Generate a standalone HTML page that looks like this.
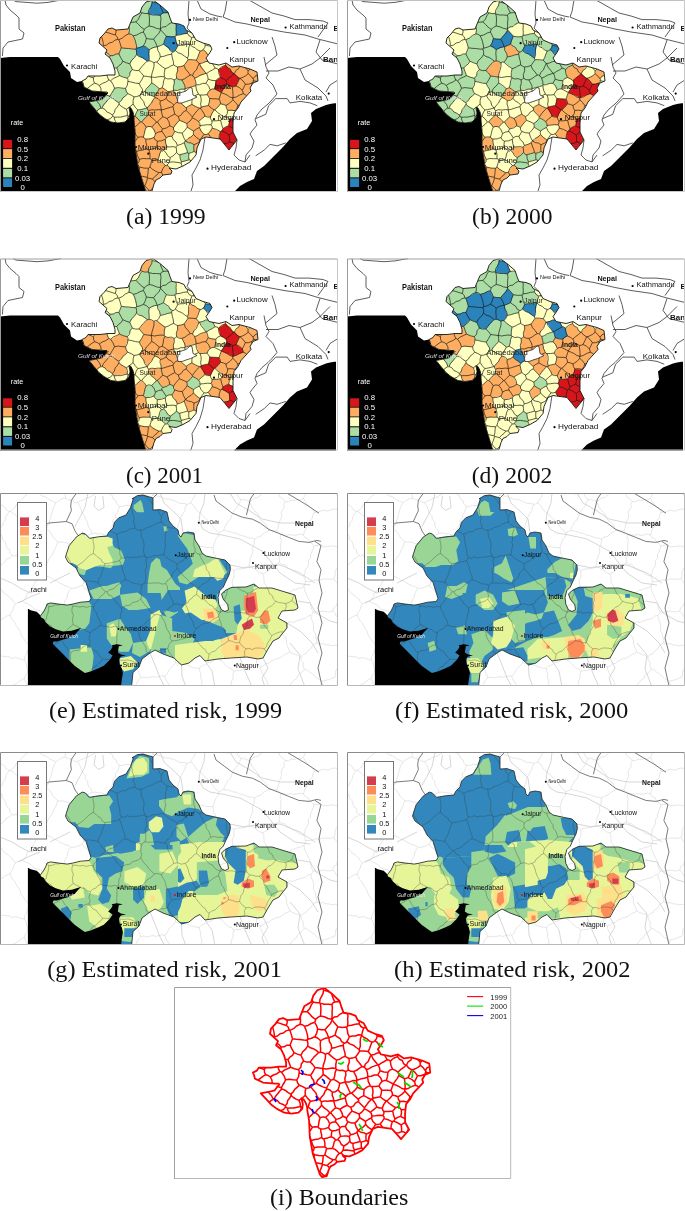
<!DOCTYPE html>
<html><head><meta charset="utf-8"><title>Figure</title>
<style>
html,body{margin:0;padding:0;background:#fff;width:685px;height:1211px;overflow:hidden}
svg{display:block}
.cap{font-family:"Liberation Serif",serif;font-size:22.8px;fill:#111}
.lab{font-family:"Liberation Sans",sans-serif;fill:#111}
</style></head><body>
<svg width="685" height="1211" viewBox="0 0 685 1211">
<rect width="685" height="1211" fill="#fff"/>
<filter id="soft" x="-2%" y="-2%" width="104%" height="104%"><feGaussianBlur stdDeviation="0.35"/></filter>
<g filter="url(#soft)">
<g transform="translate(0,0)">
<clipPath id="clipa"><rect x="0" y="0" width="338" height="192"/></clipPath>
<clipPath id="ra"><polygon points="146,2 153,0 160,5 168,12 170,18 172,23 179,24 184,26 186,30 192,33 196,40 203,43 210,45 212,49 209,54 206,58 209,63 219,65 226,63 232,67 239,66 250,69 257,72 258,81 253,83 250,88 251,91 241,102 238,108 234,113 233,123 233,132 237,140 229,150 225,145 220,139 206,137 201,139 197,148 196,155 190,162 183,166 176,169 169,168 172,171 171,174 163,175 160,178 156,180 154,184 152,191 147,192 145,189 141,176 138,166 135,147 135,130 134,120 134,116 133,112 131,108 129,107 130,113 129,118 125,122 118,123 111,122 104,118 99,114 94,108 89,102 99,100 103,99 106,95 108,93 107,92 104,92 92,91 84,87 83,83 82,81 86,79 88,76 100,76 108,75 115,75 115,71 113,64 110,58 105,54 107,50 99,43 100,38 104,34 108,29 112,28 116,30 128,29 130,24 133,17 140,13 142,7"/></clipPath>
<g clip-path="url(#clipa)">
<rect x="0" y="0" width="338" height="193" fill="#fff"/>
<polyline points="5,0 6,5 10,10 16,15 19,18 19,29 24,33 22.5,39 8,42 3,48 2.4,56" fill="none" stroke="#333" stroke-width="0.8"/>
<polyline points="13,0 16,1.6 37,3.2 48,2.4 61,0" fill="none" stroke="#333" stroke-width="0.8"/>
<polyline points="227,0 225,11.5 223,17 235,22 247,24 268,29 284,32 305,35 318,39 328,41.5 338,44" fill="none" stroke="#333" stroke-width="0.8"/>
<polyline points="249,0 272,13 284,16 295,19.6 309,19.6 323,21 328,23 323,30 318,37" fill="none" stroke="#333" stroke-width="0.8"/>
<polyline points="189,0 188,14 189,23 187,28 192,33" fill="none" stroke="#333" stroke-width="0.8"/>
<polyline points="197,0 201,9 210,14 217,16 222,17" fill="none" stroke="#333" stroke-width="0.8"/>
<polyline points="264,57 266,67 269,73 266,78 273,85 277,94 271,101 268,104 262,109 257,115 255,120 257,125 252,131 250,134 254,141 252,148 246,155 245,162" fill="none" stroke="#333" stroke-width="0.8"/>
<polyline points="237,140 236,148 234,155 239,160 245,162 250,155" fill="none" stroke="#333" stroke-width="0.8"/>
<polyline points="266,71 278,71 289,67 300,69 312,64 320,58 326,52 330,48" fill="none" stroke="#333" stroke-width="0.8"/>
<polyline points="272,37 275,46 277,55 265,65" fill="none" stroke="#333" stroke-width="0.8"/>
<polyline points="300,69 305,80 318,88 326,96 328,101" fill="none" stroke="#333" stroke-width="0.8"/>
<polyline points="205,137 203,150 200,160 196,168 192,175 193,185 190,194" fill="none" stroke="#333" stroke-width="0.8"/>
<polyline points="320,40 316,52 322,60 330,62 338,64" fill="none" stroke="#333" stroke-width="0.8"/>
<polyline points="338,80 330,85 326,92" fill="none" stroke="#333" stroke-width="0.8"/>
<polyline points="255.7,155.8 264.3,150 270,144.4 277.2,145.8 285.8,142.9" fill="none" stroke="#333" stroke-width="0.8"/>
<polyline points="268.6,105.7 275.8,98.6 287.2,98.6 290,102.9 300,101.4 310,102.9 317.3,105.7" fill="none" stroke="#333" stroke-width="0.8"/>
<polyline points="268.6,105.7 265.8,114.3 255.7,118.6" fill="none" stroke="#333" stroke-width="0.8"/>
<polygon points="0,58 10,57 26,57 58,57 60,59 64,66 70,72 71,78 77,82 82,81 84,87 92,91 104,92 108,93 106,95 103,99 99,100 89,102 94,108 99,114 104,118 111,122 118,123 125,122 129,118 130,113 129,107 131,108 133,112 134,116 134,120 135,130 135,147 138,166 141,176 145,189 147,194 0,194" fill="#000"/>
<polygon points="336,101 336,103 330,104 326,105 316,109 311,113 312,121 307,129 297,133 290,139 283,147 274,156 264,166 257,171 254,179 247,182 240,186 232,194 336,194" fill="#000"/>
<g clip-path="url(#ra)">
<rect x="0" y="0" width="338" height="193" fill="#ffffbf"/>
<path d="M236.3 138.6l-2.4 5.2 .1 .1 3.1-3.9-.8-1.4zM205 116l-6.5 5.6 1.4 3.9-.6 1.9 4.6 6.9 4.3-.5 4-5.5 8.3 3.4 1.3-.8 1.2-2.2 5.8-2.9 .5-6.9 4.2-.3 .5-5.6 1.4-1.7-.2-.5-7.4-.5-1.8-4.8-5.5-1.8-5.7 6.1-.6 .2-3.8 7.1-5.4-1.1zM136.5 54.5l-6.8 9.4 2.7 5.7-5.2 8.5-7.6-2.6-2.8-7.6-2.8-.2 1 3.3 0 4-7 0-8 1-12 0-2 3-4.1 2 1.1 2 1 4 8 4 12 1 3 0 .9 1-1.5 1.5 3.6 1.8 4.5-8.1 11 .3 2.2 5.2-9.1 9-8.3-5.3-8.3 10.6-1.1 .1-4.1 3.4 2.2 2.5 5 4 7 4 7 1.1 7-1.1 4-4 1.1-5-1-5.9 1.9 .9 2 4 .9 4.3 1.2 0 2.7-6.3 9.2-1.9 .4 .1 7.6-10.7-.4-.9-9.9-4.9 7-8.8 7.6 5.8 2.9-.9 6 4.1 5.2-1.3 5.1 11.3 1.2 .1 6.4 5.9 5.8-3.5 7.6 3.9 .8-.2 .9-1 7.3-1.6 1.3-7-2.6-3.9 3-4.7 4.2-1 1.6-8.2 4.6-3.2-2.2-7.9 7.2-4.4 .8-2-.4-.3-7 2-10-1.9-1.1-1.9-8.5 2.4 6.5 9.8-11.4 4.9 1.5 6.7-.2 .7-10.6 3-.4 .6-11.1 1 .4-10.2 2.6-1.7 .8-11.3 6.5-1.5 4.2-5.8 8.1 .6 4-9.3 2.8-1.3 5.5 4.9 3.5-5.6-2.1-4-7-2-7-3-4-7-4.7-2.4 0 2.7-11.3 1.9-1.1 1.4 2.7 9.2-2.3 4.7-2.5 1.5-9.2-7.8-6.2 2.6-.2-.1-8.1 2.9-.1 11.1-1.8 .3-10.7-6.5zM174.8 131.4l-2.9 4.8-5.7 1.6-1 1.5 1.5 7.6-3 3.4-2.5 .5-3.4 9.1 7.5 5.5 1.7-.4 3.3 3.2 5.7 .9 7-3.1 7-4 6-7 .4-2.1-2.4-1.4-5.2 1.7 .2 6.6-7.6 2-1.5-6.9 7.8-2.2-3.4-10 1.4-1.7 7.9-6.6-.1-3.4-6.2-3.9-.4-3.6-7.4-3.3-6.1 7.4 1.4 3.8zM155.6 133.5l-3.8-6.7-5.7 .4-2.7 9.8 2.5 2.1 8.2-1.6 1.5-4z" fill="#ffffbf" fill-rule="evenodd"/>
<path d="M187.6 152.6l-7.8 2.2 1.5 7.2 7.8-2.1-.2-6.6 5.1-1.7 .1-7-8.5-3.5-1.4 1.6 3.4 9.9zM176.6 78.3l-2.6 1.6-.4 10.4 11.3-1 .3-.6-3.2-8.8-5.4-1.6zM133 17l-4.4 10.3 .1 6.7 4.4 1.9 3.5 12.4 6.8-2.4 5.8 3.8 8-2.9 .2 .1 6.2-2.6 2.8-8.1 8.6 .4 1.1-1.3-.3-11.8-3.8-.5-2-5-1.6-4.9-5-.1-2.9 2.3-11.7-1.4-.4-.5 3.7-11.4 6.2 1.7-5.3-3.8-7 2.1-4 5-2 6-7 4zM144.6 91.7l10 5 4.7-8.1-7.7-5.8-7 8.9zM141.7 122.1l6.9-8 .3-3.6-1.5-2.4-.4-.1-9.3 2-2.7 6.3 5.3 5.6 1.4 .2zM104.9 54l5.1 4 3 6 1 3.8 2.7 .2 2.8 7.6 7.8 2.6 5.2-8.6-2.7-5.7 6.7-9.3-.5-5.5-14.7-1.3-2.4 6-8.9 1.8-4.1-3.5-1 1.9zM114.4 88.1l-4.5 8.1-3.4-1.8-3.5 4.6-14.1 3 8 9.6 4-3.4 1.1-.1 8.3-10.6 8.3 5.3 9.3-9.1-2.3-5.3-11.2-.3z" fill="#abdda4" fill-rule="evenodd"/>
<path d="M148.8 110.5l-.3 3.6-6.8 7.9-1.3-.2-5.3-5.6-1.2 0 0 3.8 1 10 0 17 3.1 19 7 23 2 3.1 5-1.1 2-7 2-4 4-2 3-3 8-1 1.1-3-3-2.9 1.4 .2-3.5-3.4-1.7 .4-7.3-5.4 3.3-9.1 2.4-.4 3.1-3.5-1.5-7.6 .9-1.5 5.8-1.5 2.9-4.8-1.4-3.8 6-7.3 7.3 3.2 .4 3.6 6.2 3.8 .1 3.3-7.9 6.9 8.4 3.5-.1 6.9 2.4 1.4 .7-5 4-9 5-1.9 13 1.8 1.5-7.3-8.4-3.4-3.9 5.5-4.2 .5-4.6-6.8 .6-1.9-1.3-3.9 6.3-5.5 5.5 1.1 3.7-7.1 .7-.2 5.7-6 5.4 1.7 1.7 4.8 7.4 .5 .2 .5 2.7-3.4 3-6 10.1-11-1-3 2.9-5 5.1-2-1.1-9-7-3-11-3.1-7 1-5.7-3.8-.8 2.1 8.5 8.6 .4-.1 5.1 4.6-3.5 7.7-3.7 .9-5.6-2.8-5.4 8.3-6.9-3.6-4.2 1-3.2 4.8 2.7 3.9-1.3 6.9-7.3 1.6-.9 1-.6 .2-7.7-3.9-5.8 3.5-6.4-5.9-1.1-.1-5.1-11.3-5.3 1.3-6-4.1-3 .9-4.7 8.1 .3 .8-7.5 10.6 1.5 2.4zM145.9 139l-2.4-2 2.7-9.7 5.5-.4 3.8 6.7-1.5 3.9-8.1 1.5zM188.1 59.6l-4.1 5.8-6.6 1.5-.8 11.4 5.3 1.6 3.3 8.8 10.6-3.1 .3-.7-1.4-6.7 11.4-4.9-6.5-9.7 8.4-2.4-1.9-3.2 2.6-3.5-5.6-4.9-2.9 1.3-3.9 9.3-8.2-.6zM108 29l-4 5-4 4-1.1 5 8 7-1 2.2 4.1 3.5 9-1.8 2.4-6 14.6 1.3 .7-1-3.5-12.4-4.4-1.9-.1-6.8-.7 1.9-12 .9-4-2-4 1.1z" fill="#fdae61" fill-rule="evenodd"/>
<path d="M186 30l-2-4-5-2-3.3-.5 .3 11.8 11.4-1.9 0-2.8-1.4-.6zM163.5 44.2l9.3 7.9 2.6-1.6 2.3-4.7-2.7-9.3-8.7-.4-2.8 8.1zM158.1 3.6l-6.1-1.7-3.7 11.5 .5 .6 11.7 1.4 2.9-2.3 5.1 .1-.5-1.2-8-7-1.9-1.4zM147.2 61.1l1.9-.3 .1-11.2-5.8-3.8-6.8 2.4-.7 1 .5 5.4 10.8 6.5z" fill="#2b83ba" fill-rule="evenodd"/>
<path d="M236 86.1l3.7-7.8-5.3-4.7-.3 .1-8.5-8.6-7.3 4.5 2.2 7.9-4.6 3.1-1.6 8.3 7 3.7 5.5-8.4 5.5 2.8 3.7-.9zM233.5 118.5l-4.3 .4-.5 6.8-5.8 2.9-1.1 2.2-1.4 .8-1.5 7.3 1.1 .1 9 11.1 5.1-6.4 2.3-5-3.3-6.7 0-9 .4-4.5z" fill="#d7191c" fill-rule="evenodd"/>
<path d="M194 144.7l3.2-1.4 2.7-2M194 144.7l-.3 3.4 .3 3.4M194 151.5l2.1 1 .2 .1M171.7 54.2l.6 3.6 1 3.5 .4 3.6M171.7 54.2l-3.9 .7-3.7 1.3-3.8 .7M173.7 64.9l-2.9 1.1-2.7 1.7-3 .9M165.1 68.6l-2.9-1.9-2.7-2.2-2.6-2.3M156.9 62.2l2-2.4 1.4-2.9M151.4 76.9l.6-3.5 1.1-3.5 .9-3.4 0-3.6M151.4 76.9l3.2 .6 3.2-.6 3.2-.4 3.3 .4M154 62.9l1.4-.9 1.5 .2M164.3 76.9l0-4.2 .8-4.1M94.7 83.2l-1.2-2.5-.1-2.8M94.7 83.2l-2.8 1.6-2.6 2-2.1 1.8M88.3 76l1.6 .8 3.5 1.1M138.9 70.5l-3.3 .1-3.2-1M138.9 70.5l2.6 2.6 2.2 2.9M132.4 69.6l-2.3 2.5-.5 3.6-2.3 2.5M127.3 78.2l.7 1.5-.1 1.7M127.9 81.4l3.8 .7 3.8 1 3.8 .5M139.3 83.6l2.4-3.7 2-3.9M151.4 76.9l.2 .3-.4-.2M154 62.9l-2.3-1.5-2.6-.6M149.1 60.8l-.9 .3-1 0M147.2 61.1l-2.2 2.2-2.3 2.2-1.9 2.4-1.9 2.6M151.2 77l-3.7-.5-3.8-.5M147.2 61.1l-2.5-2-2.6-1.7-3.1-.8-2.5-2M132.4 69.6l-1.3-2.8-1.3-2.9M136.5 54.6l-2.1 3.2-2.9 2.6-1.7 3.5M245.3 67.7l.3 .2 2.6 3.1M248.2 71l1.9-2M164.9 77.8l2.9 1.2 3.4-.4 2.9 1.3M164.9 77.8l-1.3 3.2-.4 3.5-1 3.2M174.1 79.9l.2 3.5-1 3.4 .4 3.5M162.2 87.7l3.1 1.9 2.9 2.3M173.7 90.3l-.3 0 .1 .3M173.5 90.6l-2.7 .6-2.6 .7M93.4 77.9l1.4-1.9M199.9 139.9l-.3 .7 .3 .7M199.9 139.9l2.1-2.8 2-2.8M204 134.3l2.1 .2 2.1-.7M208.2 133.8l2.6 3.5 .1 .4M239.3 105.4l-1.5 0M243.2 93.7l-3.4 1.2-3.2 1.9-3.5 1M243.2 93.7l1.9 .8 1.5 1.3M233.1 97.8l-.5 1 .3 1M237.8 105.4l-2.3-2.9-2.6-2.7M108.8 80.1l1 .1 .8 .6M108.8 80.1l-1.3-2.9-.5-2.1M110.6 80.8l2.6-2.3 3.2-1.4 3.1-1.5M114.2 68l2.6 0M116.8 68l1.3 3.8 1.4 3.8M94.7 83.2l2.5 .8 2.1 1.4M99.3 85.4l3.1-2 3.4-1.3 3-2M114.5 88.2l-1.5-3.9-2.4-3.5M114.5 88.2l3.7-.6 3.7 .5 3.7 .3M125.6 88.4l1.8-3.3 .5-3.7M127.3 78.2l-4-1-3.8-1.6M122.8 61.2l3.4 1.5 3.6 1.2M122.8 61.2l-1.5 2.7-2.5 1.8-2 2.3M170.1 168.2l-.5-.7-2.6-2.6M167 164.9l1.4-1.1 .8-1.6M181.8 166.5l0-1.3-.9-2.2M169.2 162.2l4-.3 3.8 .5 3.9 .6M185.6 95.8l-.2-3.3-.6-3.3M185.6 95.8l-2.8 3.2-3.1 2.9M184.8 89.2l-3.7-.1-3.7 1.4-3.7-.2M173.5 90.6l1.3 2.7 1.3 2.9 1.1 2.9 1.4 2.8M179.7 101.9l-.6-.4-.5 .4M199.9 139.9l-3.5-2.4-2.9-3.1M193.5 134.4l-2.4 2.5-3.1 1.6-2.4 2.5M194 144.7l-2.6-1.6-3.1-.5-2.7-1.5M185.6 141.1l.5 0-.5-.1M245.4 84.2l-2.3-3.2-3-2.6M245.4 84.2l3.3 0 3.1-1.3M240.1 78.4l3-1.2 2.7-1.5 2.4-2M248.2 73.7l2.7 2.4 2.1 2.8M251.8 82.9l1.3-.7 .1-1.5M253 78.9l.7 .8-.5 1M243.2 93.7l-.2-1.7-.7-1.6M242.3 90.4l1.6-3.1 1.5-3.1M251.9 84.9l-.1-2M257 81.4l-3.8-.7M257.4 75.3l-2.5 1-1.9 2.6M232.3 86.9l1.9-.2 1.8-.7M232.3 86.9l-2.8-1.4-2.7-1.4M236 86l1.9-3.8 1.7-3.9M226.8 84.1l0-1.9-.9-1.6M225.9 80.6l2.6-2.4 2.9-2.1 2.6-2.4M239.6 78.3l-3-1.8-2.2-2.8M234.4 73.7l-.2-.2-.2 .2M233.1 97.8l-.4 .3 .4-.3M233.1 97.8l-.1-3.7-.3-3.6-.4-3.6M242.3 90.4l-2.8-2.7-3.5-1.7M240.1 78.4l-.2-.6-.3 .5M239.7 66.2l-1 2.4-2.9 2-1.4 3.1M248.2 71l-.3 1.4 .3 1.3M229.6 142l0-3.6-.4-3.4M229.6 142l2.4 .4 1.9 1.4M233.2 132.4l-2 .9-2 1.7M234.2 143.5l1.3-2.2 1-2.4M122.8 61.2l-2.1-3.6-1.8-3.7M109.5 57.6l.5-1.9M118.9 53.9l-3 .1-2.8 1.6-3.1 .1M110 55.7l-2.4-2.6-1.7-.9M172.8 52.1l1.5-.4 1-1.2M172.8 52.1l-2.7-1.5-1.5-3-2.6-1.5-2.5-1.9M175.3 50.5l1.4-2.3 1-2.4M177.7 45.8l-1.5-2.9-.5-3.2-.8-3.1M174.9 36.6l-4.3 .3-4.2-.7M166.4 36.2l-1.7 3.9-1.2 4.1M171.7 54.2l0-1.3 1.1-.8M160.3 56.9l-.6-3.5-1.9-3-.4-3.6M163.5 44.2l-3 1.4-3.1 1.2M149.1 60.8l.1-3.7-.4-3.7 .4-3.7M157.4 46.8l-.1 .1-.1-.2M149.2 49.7l3.8-2.1 4.2-.9M166.4 36.2l-2.9-3.2-2.9-3.1M160.6 29.9l-1.8 3.5-2.8 2.8-2.4 3M157.2 46.7l-1.5-3.9-2.1-3.6M164.3 76.9l.3 .5 .3 .4M173.7 64.9l1.8 1.2 2 .9M174.1 79.9l1.3-.7 1.2-.9M176.6 78.3l-.3-3.8 1.4-3.7-.2-3.8M184.8 89.2l-.1-.5 .5 0M185.2 88.7l-.4-3.2-1.4-2.8-1.5-2.8M176.6 78.3l2.5 1.4 2.8 .2M208.2 133.8l2.2-2.7 1.8-2.9M219 138.9l.3-3.7 1.2-3.6M212.2 128.2l4.3 1.2 4 2.2M229.6 142l-2.8 1.3-3 .2M229.2 135l-3.5-2.4-3.9-1.8M221.8 130.8l-.8 .2-.5 .6M192.4 116.9l2.2-3.1 2.3-2.9 2.7-2.6M192.4 116.9l-3.1-3.3-3.1-3.2M199.6 108.3l-4-1.8-3.7-2.1M191.9 104.4l-3 1.5-2.8 1.9M186.1 107.8l.6 1.3-.5 1.3M185.6 95.8l3.2 1.5 3.5 .8M192.3 98.1l-.4 3.1 0 3.2M179.7 101.9l3.1 3 3.3 2.9M140.4 121.9l.6 .3 .7-.2M140.4 121.9l-2.4-3.1-2.9-2.5M148.9 110.5l-1.4-.8-.2-1.6M148.9 110.5l-.5 1.8 .2 1.8M148.6 114.1l-2.1 2.8-2.7 2.3-2.1 2.8M137.8 110l-1.7 3-1 3.3M137.8 110l3.1-.4 3.1-.8 3-.8M147 108l.3-.2 0 .3M173 106.6l.4-.7 .3-.8M173 106.6l-2.9 .8-3 .9-2.9 1-3 .7M173.7 105.1l-2.3-2.5-3.2-1.6-2.1-2.6M161.2 110l.2-.3-.2 .2M161.2 109.9l-.2-3-1-2.9 .3-3.1M166.1 98.4l-2.7 1.8-3.1 .7M178.6 101.9l-2.8 1.1-2.1 2.1M178.4 116.5l-1.9-1.1-1.7-1.3M178.4 116.5l2.9-1.6 1.9-2.9 3-1.6M174.8 114.1l-1-3.7-.8-3.8M162.7 116.8l2.2 .7 2.1 1M162.7 116.8l-.9-3.4-.6-3.4M167 118.5l3.8-2.4 4-2M168.2 91.9l-.9 3.3-1.2 3.2M162.7 116.8l-2.7 2.4-2.6 2.7M157.4 121.9l-.4 .7-.6-.6M148.9 110.5l3-.8 3.1 .4 3.1-.5 3.1 .3M156.4 122l-2.5-2.8-3-2.2-2.3-2.9M147.3 108.1l1.9-2.7 2.3-2.3 1.4-3 2-2.6M154.9 97.5l3.1 1.1 2.3 2.3M181.4 161.9l-1.2-3.4-.4-3.7M181.4 161.9l3.8-1 3.8-1.1M179.8 154.8l3.9-1.1 3.9-1.1M189 159.8l-.3-3.2 .2-3.3M188.9 153.3l-.8 0-.5-.7M190.8 161.1l-.4-1-1.4-.3M180.9 163l.6-.4-.1-.7M194 151.5l-2.5 1.1-2.6 .7M184.3 142.7l.3-1.1 1-.5M184.3 142.7l1 3.3 1.4 3.3 .9 3.3M96.6 100.5l.5 1 2.5 3 1.3 3.6M106.1 94.9l.7 .3 3.2 1M102 108l-.5 .5-.6-.4M102 108l1.5-3 2.3-2.6 2.1-2.6 2.4-2.4M110 96.2l-.3 .7 .6 .5M96.8 111.4l1.4-1.8 2.7-1.5M99.3 85.4l1.6 3 .2 3.4M114.5 88.2l-1.4 2.7-1.7 2.6-1.4 2.7M112.4 115l-2.6-1.8-2.9-1.2-2-2.7-2.9-1.3M112.4 115l.3 .5 0 .7M112.7 116.2l-2.3 2.5-3.2 1.1M156.4 122l-2.2 2.6-2.5 2.3M141.7 122l2.6 2.3 1.9 2.9M146.2 127.2l2.7-.8 2.8 .5M140.4 121.9l-2.5 2.6-2.8 2.3-.4 .4M135 132.4l.8 2.5 2.1 2.4M137.9 137.3l2.7-.4 2.8 .1M146.2 127.2l-1.2 3.2-.7 3.3-.9 3.3M169.2 162.2l.7-2.3 .3-2.3M179.8 154.8l-1.9-.7-1.3-1.7M170.2 157.6l3.5-2.2 2.9-3M157.4 121.9l2.4 3.7 2.9 3.4M167 118.5l2 3.4 .8 3.9M162.7 129l3.8-1.1 3.3-2.1M179.5 120.3l-.6-1.9-.5-1.9M179.5 120.3l-2.2 2.3-2 2.4-1.8 2.7M173.5 127.7l-1.8-1.1-1.9-.8M187.5 58.2l-3-2-2.9-2.2-3.4-1.2-2.9-2.3M187.5 58.2l1.1-3.3-.1-3.6 .2-3.5 1.3-3.4M177.7 45.8l3-.6 3.1 0 3-1.2 3.2 .3M190 44.4l-.4 .1 .4-.2M174.9 36.6l.9-.4 .2-.9M176 35.3l3.9-.4 3.7-1.1 3.8-.4M187.4 33.4l1.8 2.6 2.7 1.6M190 44.3l.7-3.4 1.2-3.3M193.9 36.3l-.8 1M194.6 37.6l-1.5-.3M204.6 43.4l-.1 .2 .8 1.5M205.3 45.1l3.3 .8 1.9 .2M141.9 12.8l-1.4-1.4M141.9 12.8l-2 3-1.5 3.4-2.5 2.7M135.9 21.9l-2.9 .3-2.3 .2M136.5 54.6l.2-2.7-.7-2.7M118.9 53.9l1.2-3 1.2-3.1M136 49.2l-3.7-.2-3.7-.5-3.6-.2-3.7-.5M116 30l0 2.1-.7 2.9M129 26.5l.1 .8 .3 3.3-.6 3.3M115.3 35l1.9 1.8 .8 2.5M118 39.3l.3 .5 .5-.1M128.8 33.9l-3.5 1.6-3 2.6-3.5 1.6M103.3 45.9l3.2-.8 2.6-2.1 3.2-.7 2.6-2.1 3.1-.9M103.3 45.9l-.4 .5M121.3 47.8l-1.1-4.1-1.4-4M143.3 32l-3.4 1.2-3.2 1.8-3.5 .8M143.3 32l1.8 3.1 1.3 3.3M146.4 38.4l-1.1 3.9-1.9 3.6M133.2 35.8l1.4 3 1 3.1 .7 3.1 .4 3.2M143.4 45.9l-3.3 1.4-3.4 .9M144.2 29.3l-.3 1.4-.6 1.3M144.2 29.3l-3.1-2.1-2.5-2.7-2.7-2.6M128.8 33.9l2.4 .4 2 1.5M149.2 49.7l-2.6-2.4-3.2-1.4M153.6 39.2l-3.7-.1-3.5-.7M136 49.2l0-.8 .7-.2M103.3 45.9l-.1-3.4-.8-3.2-.9-2.8M115.3 35l-3.2-.9-3.1-1.1-3.2-.8-.3 0M194.6 78.2l1.1 3.2 .4 3.5M194.6 78.2l2.9-1.2 2.6-1.7 3-1 2.9-1M208.2 79.2l-.6-2.9-1-2.8M208.2 79.2l-1.1 2-1.1 2.1M206 73.3l.4-.3 .2 .5M206 83.3l-3.4 .1-3.2 1.3-3.3 .2M192.3 98.1l2.8-2.5 3.4-1.5M200.3 108.1l-.5-.4-.2 .6M200.3 108.1l.9-.1 0-.9M201.2 107.1l-.6-3 .6-3.1-.2-3.1-.9-2.9M198.5 94.1l.6 .8 1 .1M185.2 88.7l3.5-1.1 3.6-.9 3.5-1.1M198.5 94.1l-2-4-.7-4.5M181.9 79.9l3-1.2 2.6-2 2.8-1.6M177.5 67l3.3-.4 3.2-1.1M184 65.5l1.5 3.6 2.6 2.9 2.2 3.1M187.5 58.2l0 .9 .7 .5M184 65.5l2.1-2.9 2.1-3M194.6 78.2l-.8-1.5-1.3-.9M195.8 85.6l0-.4 .3-.3M192.5 75.8l-1-.8-1.2 .1M137.8 164.5l.4 1.2 1.7 1.4M139.1 169.6l.8-2.5M139.9 167.1l4.2 1 4.3 .1M141.1 176.3l1.7 .1 4.4 .9M147.2 177.3l.7-3 .2-3 .3-3.1M165.3 165.4l-2.2-2.2-2.3-2-2.9-1.3M165.3 165.4l-2.4 3.1-1.5 3.7M161.4 172.2l-1.3 .4-1.3 0M151.7 160.5l3.1-.4 3.1-.2M151.7 160.5l-.8 3.3-1 3.1M158.8 172.6l-3.3-1.5-3-1.8-2.6-2.4M200.3 108.1l1.8 2.5 1.7 2.6 1.2 2.9M201.2 107.1l3.6-.9 3.6-.7M205 116.1l2.6 1 2.8 0M208.4 105.5l2.8 2.4 3 2.1M210.4 117.1l1.5-3.7 2.3-3.4M212.2 128.2l0-1.8-1.2-1.5M221.8 130.8l.6-1.1 .6-1.1M211 124.9l1-1.9-.1-2.2M223 128.6l-1.4-4-.9-4.3M211.9 120.8l4.4 0 4.4-.5M198.6 121.6l1.2 1.8 .1 2.1M198.6 121.6l-2.9-2.1-3.2-1.6M193.5 131l-3.2-1.8-3.1-2M193.5 131l2.9-1.9 3-1.7M199.4 127.4l.9-.7-.4-1.2M192.5 117.9l-2.5 3.2-3.2 2.4M186.8 123.5l.3 1.8 .1 1.9M205 116.1l-3.3 2.7-3.1 2.8M211 124.9l-3.7-.2-3.7 .5-3.7 .3M210.4 117.1l.4 2 1.1 1.7M192.4 116.9l-.4 .5 .5 .5M193.5 134.4l-.2-1.7 .2-1.7M182.2 133l1.3 4.2 2.1 3.8M182.2 133l2.8-2.7 2.2-3.1M204 134.3l-2.9-3.1-1.7-3.8M179.5 120.3l3.7 1.5 3.6 1.7M182.2 133l-3.8-.3-3.6-1.3M174.8 131.4l-1.3-1.6 0-2.1M133.1 104l-3.2 2.8-.6 .4M129.1 107.4l-2.7 1.8M133.1 104l0-3.6 1-3.5M127.8 93.7l3.3 1.4 3 1.8M127.8 93.7l-2.4 2.2-2.5 2-1.7 2.9-2.6 1.9M126.4 109.2l-2.8-1.4-2.5-1.6-2.2-2.1M118.6 102.7l.8 .6-.5 .8M137.8 110l-2.6-2.8-2.1-3.2M135.1 116.3l-1.1 0M129.3 116.3l-1.3 0M128 116.3l.1-.7-.8 0M127.3 115.6l.1-3.3-1-3.1M147 108l-2.3-2.8-1-3.7-2.4-2.8-2-3.1M139.3 95.6l-2.5 1-2.7 .3M125.6 88.4l.6 2.9 1.6 2.4M139.3 83.6l1.2 2.8 1.8 2.5 .6 3.1M139.3 95.6l1.8-1.8 1.8-1.8M110.3 97.4l3.1 1.3 2.5 2.2 2.7 1.8M112.4 115l2-2.5 .8-3.2 2.2-2.4 1.5-2.8M112.7 116.2l1 .2 .4 .9M114.1 117.3l3.3-.2 3.4 0 3.2-.8 3.3-.7M151.7 82.9l-2.4 2.9-2.8 2.6-1.8 3.3M151.7 82.9l2.7 1.6 2.5 2 2.4 2.1M144.7 91.7l3.1 2.1 3.3 1.6 3.5 1.3M159.3 88.6l-1.4 2.8-1.7 2.6-1.6 2.7M151.2 77l.5 2.9 0 3M142.9 92l.9 .3 .9-.6M162.2 87.7l-1.4 .6-1.5 .3M154.9 97.5l-.1-.4-.2-.4M136.2 151.3l-1.1-3.5M136.2 151.3l-.5 .2M148.9 149.8l1.1 4.4 0 4.5M148.9 149.8l-1.4-.3-.6-1.2M146.9 148.3l-3.3 1.5-3.6 .7-3.5 .9M150 158.7l-3.6 0-3.6-.2-3.5 .9M139.3 159.4l-1.8-3.8-1-4.2M137.9 137.3l-2.2 3.3-.7 .7M145.9 139.1l-1.5-.7-1-1.4M145.9 139.1l0 3.1 .8 3 .2 3.1M136.2 151.3l.3-.2 0 .3M151.7 160.5l-.4-1.3-1.3-.5M137.6 163.5l1.4-1.7 .3-2.4M149.9 166.9l-.6 .9-.9 .4M128 116.3l-.4 3.1M151.7 126.9l2.4 3 1.4 3.7M162.7 129l-1 1.1 .3 1.4M162 131.5l-3.4 .5-3.1 1.6M145.9 139.1l4.2-.2 3.9-1.4M154 137.5l.9-1.9 .6-2M167 164.9l-.7 .9-1-.4M161.4 172.2l1.4 3M153.1 187.3l-2.7 3.2M155 182.1l-.4-.9-2.1-2.1M152.5 179.1l-2.5-.6-2.4-.6M147.6 177.9l-1.1 3.8-1.6 3.8M144.9 185.5l1.9 2.7 2.4 2.1M149.2 190.3l.6 .2 .6 0M151.1 191.2l-.7-.7M158.8 172.6l-1.9 2.4-2.4 1.8-2 2.3M147.2 177.3l.2 .3 .2 .3M144 185.8l.9-.3M146.8 191.7l2.4-1.4M175.8 23.5l.5 2.4-.3 3.2 .3 3.1-.3 3.1M187.4 33.4l.3-2.6M191.9 37.6l.5-.4 .7 .1M220.5 77.5l-1.6-3.8-.5-4.1M220.5 77.5l2.9 1.3 2.5 1.8M234 73.7l-2.6-1.7-1.1-3-3-1.3-1.7-2.6M225.6 65.1l-3.9 1.7-3.3 2.8M215.9 80.7l-3.9-.3-3.8-1.2M215.9 80.7l1.9-2.2 2.7-1M206.6 73.5l2.8-2 3-1.5 2.8-1.8M218.4 69.6l-1.4-1.1-1.8-.3M209.8 98.5l3.1 .3 3.1 0 3.1 .4M209.8 98.5l-1.3-1.9-1.4-2M207.1 94.6l1.2-2.6 1.9-2.1M210.2 89.9l2-.9 2.2-.1M214.4 88.9l3.5 1.7 3.4 1.9M219.1 99.2l1-3.3 1.2-3.3M221.3 92.5l-.2 .1 .2 0M208.4 105.5l.9-3.5 .5-3.5M200.1 95l3.5 0 3.5-.4M206 83.3l2.7 2.9 1.5 3.7M215.9 80.7l-.3 4.1-1.2 4.1M226.8 84.1l-1.7 2.9-2 2.7-1.8 2.8M233.1 97.8l-3.2-.7-2.7-2-2.9-1.3-3-1.2M199.5 63.6l3.1-.6 2.9-1.4 2.6-.2M199.5 63.6l-.3 .4 0-.5M199.2 63.5l-1.5-1.6-1.4-1.7M196.3 60.2l1.5-3 1.1-3.2 1.3-3M200.2 51l1.6-.3 1.3-1M203.1 49.7l2.4 1.8 1.7 2.7 1 .8M206 73.3l-2.4-3.1-2.5-3-1.6-3.6M215.2 68.2l-2.2-3.8-.2-.6M192.5 75.8l1.2-3.3 2.7-2.5 1.3-3.3 1.5-3.2M188.2 59.6l4 .1 4.1 .5M190 44.4l2.3 2.2 2.8 1.1 2.2 2.2 2.9 1.1M205.3 45.1l-.6 2.5-1.6 2.1M223 128.6l2.7-1.7 3-1.2M233 127.9l-2-.6-2.3-1.6M228.7 125.7l.7-3.3-.1-3.5M229.3 118.9l4.1-.3M237.8 105.4l-.9 2.9-1.8 2.5M235.1 110.8l.3 .4M220.5 103.8l-2.6 3.3-3.1 2.7M220.5 103.8l2.9 .6 2.6 1.1M214.8 109.8l2.7 2.6 3 2.2 3 2.1M226 105.5l.4 2.6 1.3 2.3M227.7 110.4l-.4 3-1.5 2.6M223.5 116.7l1.2-.3 1.1-.4M214.2 110l.2-.5 .4 .3M219.1 99.2l1.1 2.2 .3 2.4M232.9 99.8l-3.1 3.2-3.8 2.5M220.7 120.3l1.5-1.7 1.3-1.9M235.1 110.8l-3.6-.6-3.8 .2M229.3 118.9l-1.4-1.8-2.1-1.1M114.1 117.3l.8 3 1.5 2.5M148.9 149.8l4-1 3.9-1.2M154 137.5l1.2 2.3 2.2 1.4M157.4 141.2l-.4 3.2-.2 3.2M157.9 159.9l1.1-3 .7-3.2 1.6-2.9M156.8 147.6l2.5 1.2 2 2M170.2 157.6l-2.7-2-1.5-2.9-2.3-2.3M161.3 150.8l1.3 .3 1.1-.7M225.6 65.1l.2-2M151.5 .4l.4 .6 .2 1M141.9 12.8l3.2 .8 3.2-.2M148.3 13.4l.4-3.1 1.5-2.6 1.5-2.7 .4-3M168.3 12.9l-1.8-.3-3.1 .4M163.4 13l-1.4-2.8-1.3-2.9-.4-2M152.1 2l4 .9 1.8 .6M166.2 137.8l-.2 .9-.7 .6M166.2 137.8l2.7-1.4 3.1-.1M165.3 139.3l.4 3.9 1.1 3.7M172 136.3l1.2 3.3 2.8 2.4 1.3 3.4M166.8 146.9l3.1 0 3.1-.3 3.1 .7M177.3 145.4l-.6 1-.6 .9M162 131.5l2.2 3.1 2 3.2M157.4 141.2l4.1-.4 3.8-1.5M174.8 131.4l-1.3 2.5-1.5 2.4M163.7 150.4l1.5-1.8 1.6-1.7M184.3 142.7l-3.4 1.7-3.6 1M176.6 152.4l-.1-2.6-.4-2.5M148.8 14l3.8 1 4 0 3.9 .4M148.8 14l.6 3 .1 3-.2 3-.1 3M160.5 15.4l.5 3.4-.4 3.4 0 3.4-.2 3.4M149.2 26l3.8 .8 3.5 1.6 3.9 .7M160.4 29.1l-.4-.3 .4 .2M148.3 13.4l0 .5 .5 .1M163.4 13l-1.9 .7-1 1.7M144.2 29.3l2.4-1.9 2.6-1.4M171.9 22.6l-1 .4-2.7 1.4-2.2 2.2-3.2 .4-2.4 2M160.6 29.9l.2-.5-.4-.3" fill="none" stroke="#1a1a1a" stroke-width="0.7"/>
</g>
<polygon points="146,2 153,0 160,5 168,12 170,18 172,23 179,24 184,26 186,30 192,33 196,40 203,43 210,45 212,49 209,54 206,58 209,63 219,65 226,63 232,67 239,66 250,69 257,72 258,81 253,83 250,88 251,91 241,102 238,108 234,113 233,123 233,132 237,140 229,150 225,145 220,139 206,137 201,139 197,148 196,155 190,162 183,166 176,169 169,168 172,171 171,174 163,175 160,178 156,180 154,184 152,191 147,192 145,189 141,176 138,166 135,147 135,130 134,120 134,116 133,112 131,108 129,107 130,113 129,118 125,122 118,123 111,122 104,118 99,114 94,108 89,102 99,100 103,99 106,95 108,93 107,92 104,92 92,91 84,87 83,83 82,81 86,79 88,76 100,76 108,75 115,75 115,71 113,64 110,58 105,54 107,50 99,43 100,38 104,34 108,29 112,28 116,30 128,29 130,24 133,17 140,13 142,7" fill="none" stroke="#111" stroke-width="0.9"/>
<polygon points="177,93 180,93 186,91 190,87.5 192,88 193,95 197,97 190.6,100 186,101.5 182,103 178,103 177.5,100 178,97" fill="#fff" stroke="#111" stroke-width="0.7"/>
<circle cx="67" cy="65.5" r="1.1" fill="#000"/>
<circle cx="190" cy="19.9" r="1.1" fill="#000"/>
<circle cx="285.6" cy="27.5" r="1.1" fill="#000"/>
<circle cx="234.2" cy="42.2" r="1.1" fill="#000"/>
<circle cx="227.3" cy="48" r="1.1" fill="#000"/>
<circle cx="214" cy="119.2" r="1.1" fill="#000"/>
<circle cx="207.5" cy="168.7" r="1.1" fill="#000"/>
<circle cx="328.7" cy="93.6" r="1.1" fill="#000"/>
<circle cx="148.3" cy="153.7" r="1.1" fill="#000"/>
<circle cx="173.6" cy="43.2" r="1.1" fill="#000"/>
<circle cx="136" cy="147" r="1.1" fill="#000"/>
<text x="55" y="31" font-size="8.2" font-weight="bold" font-style="normal" fill="#111" font-family="Liberation Sans, sans-serif" textLength="30.4" lengthAdjust="spacingAndGlyphs">Pakistan</text>
<text x="71" y="68.6" font-size="8.0" font-weight="normal" font-style="normal" fill="#111" font-family="Liberation Sans, sans-serif" textLength="26.2" lengthAdjust="spacingAndGlyphs">Karachi</text>
<text x="193" y="20.8" font-size="5.6" font-weight="normal" font-style="normal" fill="#111" font-family="Liberation Sans, sans-serif" textLength="25" lengthAdjust="spacingAndGlyphs">New Delhi</text>
<text x="250.4" y="22.3" font-size="7.6" font-weight="bold" font-style="normal" fill="#111" font-family="Liberation Sans, sans-serif" textLength="19.6" lengthAdjust="spacingAndGlyphs">Nepal</text>
<text x="289.6" y="28.5" font-size="7.6" font-weight="normal" font-style="normal" fill="#111" font-family="Liberation Sans, sans-serif" textLength="38" lengthAdjust="spacingAndGlyphs">Kathmandu</text>
<text x="236.5" y="43.6" font-size="7.9" font-weight="normal" font-style="normal" fill="#111" font-family="Liberation Sans, sans-serif" textLength="31.2" lengthAdjust="spacingAndGlyphs">Lucknow</text>
<text x="229.6" y="61.6" font-size="7.9" font-weight="normal" font-style="normal" fill="#111" font-family="Liberation Sans, sans-serif" textLength="25.4" lengthAdjust="spacingAndGlyphs">Kanpur</text>
<text x="323" y="61.6" font-size="7.6" font-weight="bold" font-style="normal" fill="#111" font-family="Liberation Sans, sans-serif" textLength="15" lengthAdjust="spacingAndGlyphs">Ban</text>
<text x="333.4" y="30.5" font-size="7.6" font-weight="bold" font-style="normal" fill="#111" font-family="Liberation Sans, sans-serif">B</text>
<text x="215" y="88.7" font-size="7.6" font-weight="bold" font-style="normal" fill="#111" font-family="Liberation Sans, sans-serif" textLength="15.8" lengthAdjust="spacingAndGlyphs">India</text>
<text x="217.7" y="119.7" font-size="7.9" font-weight="normal" font-style="normal" fill="#111" font-family="Liberation Sans, sans-serif" textLength="25.3" lengthAdjust="spacingAndGlyphs">Nagpur</text>
<text x="211" y="170.3" font-size="8.1" font-weight="normal" font-style="normal" fill="#111" font-family="Liberation Sans, sans-serif" textLength="40.3" lengthAdjust="spacingAndGlyphs">Hyderabad</text>
<text x="295.8" y="100.2" font-size="7.9" font-weight="normal" font-style="normal" fill="#111" font-family="Liberation Sans, sans-serif" textLength="26.5" lengthAdjust="spacingAndGlyphs">Kolkata</text>
<text x="139.5" y="96.1" font-size="7.9" font-weight="normal" font-style="normal" fill="#222" font-family="Liberation Sans, sans-serif" textLength="41.2" lengthAdjust="spacingAndGlyphs">Ahmedabad</text>
<text x="139.5" y="116.2" font-size="7.6" font-weight="normal" font-style="normal" fill="#222" font-family="Liberation Sans, sans-serif" textLength="15.8" lengthAdjust="spacingAndGlyphs">Surat</text>
<text x="137.8" y="149.5" font-size="7.9" font-weight="normal" font-style="normal" fill="#222" font-family="Liberation Sans, sans-serif" textLength="29.8" lengthAdjust="spacingAndGlyphs">Mumbai</text>
<text x="151.8" y="162.6" font-size="7.9" font-weight="normal" font-style="normal" fill="#222" font-family="Liberation Sans, sans-serif" textLength="18.4" lengthAdjust="spacingAndGlyphs">Pune</text>
<text x="177" y="44.8" font-size="7.6" font-weight="normal" font-style="normal" fill="#222" font-family="Liberation Sans, sans-serif" textLength="18.8" lengthAdjust="spacingAndGlyphs">Jaipur</text>
<text x="78" y="99.6" font-size="5.6" font-weight="normal" font-style="italic" fill="#ddd" font-family="Liberation Sans, sans-serif" textLength="37" lengthAdjust="spacingAndGlyphs">Gulf of Kutch</text>
<text x="10.8" y="125.2" font-size="7.2" font-weight="normal" font-style="normal" fill="#fff" font-family="Liberation Sans, sans-serif">rate</text>
<rect x="3.1" y="139.8" width="9" height="8.5" fill="#d7191c"/>
<rect x="3.1" y="149.1" width="9" height="8.9" fill="#fdae61"/>
<rect x="3.1" y="158.8" width="9" height="9.0" fill="#ffffbf"/>
<rect x="3.1" y="168.8" width="9" height="8.6" fill="#abdda4"/>
<rect x="3.1" y="178.3" width="9" height="8.7" fill="#2b83ba"/>
<text x="22.6" y="141.9" text-anchor="middle" font-size="7.8" fill="#fff" font-family="Liberation Sans, sans-serif">0.8</text>
<text x="22.6" y="151.6" text-anchor="middle" font-size="7.8" fill="#fff" font-family="Liberation Sans, sans-serif">0.5</text>
<text x="22.6" y="161.2" text-anchor="middle" font-size="7.8" fill="#fff" font-family="Liberation Sans, sans-serif">0.2</text>
<text x="22.6" y="170.8" text-anchor="middle" font-size="7.8" fill="#fff" font-family="Liberation Sans, sans-serif">0.1</text>
<text x="22.6" y="180.5" text-anchor="middle" font-size="7.8" fill="#fff" font-family="Liberation Sans, sans-serif">0.03</text>
<text x="22.6" y="189.6" text-anchor="middle" font-size="7.8" fill="#fff" font-family="Liberation Sans, sans-serif">0</text>
</g>
<path d="M0.5,192 V0.5" fill="none" stroke="#9a9a9a" stroke-width="1"/>
<path d="M0.5,0.5 H337.5" fill="none" stroke="#c0c0c0" stroke-width="1"/>
<path d="M337.5,0.5 V191.5 H0.5" fill="none" stroke="#c8c8c8" stroke-width="1"/>
</g>
<g transform="translate(347,0)">
<clipPath id="clipb"><rect x="0" y="0" width="338" height="192"/></clipPath>
<clipPath id="rb"><polygon points="146,2 153,0 160,5 168,12 170,18 172,23 179,24 184,26 186,30 192,33 196,40 203,43 210,45 212,49 209,54 206,58 209,63 219,65 226,63 232,67 239,66 250,69 257,72 258,81 253,83 250,88 251,91 241,102 238,108 234,113 233,123 233,132 237,140 229,150 225,145 220,139 206,137 201,139 197,148 196,155 190,162 183,166 176,169 169,168 172,171 171,174 163,175 160,178 156,180 154,184 152,191 147,192 145,189 141,176 138,166 135,147 135,130 134,120 134,116 133,112 131,108 129,107 130,113 129,118 125,122 118,123 111,122 104,118 99,114 94,108 89,102 99,100 103,99 106,95 108,93 107,92 104,92 92,91 84,87 83,83 82,81 86,79 88,76 100,76 108,75 115,75 115,71 113,64 110,58 105,54 107,50 99,43 100,38 104,34 108,29 112,28 116,30 128,29 130,24 133,17 140,13 142,7"/></clipPath>
<g clip-path="url(#clipb)">
<rect x="0" y="0" width="338" height="193" fill="#fff"/>
<polyline points="5,0 6,5 10,10 16,15 19,18 19,29 24,33 22.5,39 8,42 3,48 2.4,56" fill="none" stroke="#333" stroke-width="0.8"/>
<polyline points="13,0 16,1.6 37,3.2 48,2.4 61,0" fill="none" stroke="#333" stroke-width="0.8"/>
<polyline points="227,0 225,11.5 223,17 235,22 247,24 268,29 284,32 305,35 318,39 328,41.5 338,44" fill="none" stroke="#333" stroke-width="0.8"/>
<polyline points="249,0 272,13 284,16 295,19.6 309,19.6 323,21 328,23 323,30 318,37" fill="none" stroke="#333" stroke-width="0.8"/>
<polyline points="189,0 188,14 189,23 187,28 192,33" fill="none" stroke="#333" stroke-width="0.8"/>
<polyline points="197,0 201,9 210,14 217,16 222,17" fill="none" stroke="#333" stroke-width="0.8"/>
<polyline points="264,57 266,67 269,73 266,78 273,85 277,94 271,101 268,104 262,109 257,115 255,120 257,125 252,131 250,134 254,141 252,148 246,155 245,162" fill="none" stroke="#333" stroke-width="0.8"/>
<polyline points="237,140 236,148 234,155 239,160 245,162 250,155" fill="none" stroke="#333" stroke-width="0.8"/>
<polyline points="266,71 278,71 289,67 300,69 312,64 320,58 326,52 330,48" fill="none" stroke="#333" stroke-width="0.8"/>
<polyline points="272,37 275,46 277,55 265,65" fill="none" stroke="#333" stroke-width="0.8"/>
<polyline points="300,69 305,80 318,88 326,96 328,101" fill="none" stroke="#333" stroke-width="0.8"/>
<polyline points="205,137 203,150 200,160 196,168 192,175 193,185 190,194" fill="none" stroke="#333" stroke-width="0.8"/>
<polyline points="320,40 316,52 322,60 330,62 338,64" fill="none" stroke="#333" stroke-width="0.8"/>
<polyline points="338,80 330,85 326,92" fill="none" stroke="#333" stroke-width="0.8"/>
<polyline points="255.7,155.8 264.3,150 270,144.4 277.2,145.8 285.8,142.9" fill="none" stroke="#333" stroke-width="0.8"/>
<polyline points="268.6,105.7 275.8,98.6 287.2,98.6 290,102.9 300,101.4 310,102.9 317.3,105.7" fill="none" stroke="#333" stroke-width="0.8"/>
<polyline points="268.6,105.7 265.8,114.3 255.7,118.6" fill="none" stroke="#333" stroke-width="0.8"/>
<polygon points="0,58 10,57 26,57 58,57 60,59 64,66 70,72 71,78 77,82 82,81 84,87 92,91 104,92 108,93 106,95 103,99 99,100 89,102 94,108 99,114 104,118 111,122 118,123 125,122 129,118 130,113 129,107 131,108 133,112 134,116 134,120 135,130 135,147 138,166 141,176 145,189 147,194 0,194" fill="#000"/>
<polygon points="336,101 336,103 330,104 326,105 316,109 311,113 312,121 307,129 297,133 290,139 283,147 274,156 264,166 257,171 254,179 247,182 240,186 232,194 336,194" fill="#000"/>
<g clip-path="url(#rb)">
<rect x="0" y="0" width="338" height="193" fill="#ffffbf"/>
<path d="M253.3 80.7l-.2-1.8 4.3-4-.4-2.9-6.3-2.8-2.6 1.7 .1 2.8-8.1 4.7 5.3 5.8 6.4-1.2 1.5-2.3zM219 99.2l1.5 4.6-5.7 6-.6 .2-3.8 7.1-5.4-1.1-4.7-8-.7 .2-7.7-3.9-5.8 3.5 0 2.6 6.3 6.5 .1 1 6.1 3.7 1.3 4 11-.6 1.2 3.2-4 5.6 2.3 3.9 8.6 1.2 1.5-7.3 1.3-.7 1.2-2.2 5.8-2.9 .5-6.9 4.2-.3 .5-5.6 1.4-1.7-.2-.5 2.7-5.3 1.4 0 1.7-3.5 5.7-6.2-3.5-2.2-10 4.1-11.9-5.2-2.3 6.7zM226.3 63.1l-.7 2-7.3 4.5 2.2 7.9 5.4 3.1 8.2-6.8 .4-.1 5.2-7.6-.7-.2-7 1-5.7-3.8zM166.7 146.9l-3 3.5 6.5 7.3 6.4-5.3 3.2 2.5 7.8-2.2 1.3 .6 5-1.7 2.4 1.4 .7-5 3-6.7 0-1.4-6.5-5.6-7.9 6.7-1.3 1.7-7.1 2.6-1.1 2-9.4-.4zM162.7 116.7l-5.4 5.2 5.4 7.1 7.1-3.1 3.7 1.8 6.1-7.4-1.2-3.9-3.6-2.3-7.8 4.3-4.3-1.7zM163.6 44.2l-6.2 2.6 2.8 10.2 11.5-2.7 1.2-2.2-9.3-7.9zM138 166l7 23 2 3.1 4-.9-.5-.7 2.6-3.3 .9-3.2 2-4 4-2 3-3 8-1 1.1-3-3-2.9 1.4 .2-3.5-3.4-1.7 .4-3.9 6.9-2.6 .3-8.9-5.6-1.5 1.3-8.5-1.2-2.3-3.2 .4 2.2zM162.2 87.7l-3 .9-4.7 8.1 .4 .8 5.4 3.5 5.8-2.6 2.1-6.5-6-4.2zM146.1 127.3l5.7-.4 4.6-4.9-7.8-8-7 8 4.5 5.3zM151.4 76.9l2.7-14.1-5-2.1-2 .3-8.2 9.5 4.8 5.5 7.6 1.1 .1-.2zM134.9 147l2.7 16.6 1.8-4.2-2.8-7.9 10.4-3.2-1-9.2-2.5-2.1-5.6 .2-3-4.4 0 14.2z" fill="#fdae61" fill-rule="evenodd"/>
<path d="M121.3 47.8l-2.4 6-8.9 1.8-4.1-3.5-1 1.9 5.1 4 3 6 2 7 0 4-7 0-8 1-12 0-2 3-4.1 2 1.1 2 1 4 8 4 12 1 3 0 .9 1-1.9 2-3 4-14.1 3 10.1 12 5 4 7 4 7 1.1 7-1.1 4-4 1.1-5-1-5.9-2.7 2-7.6-5.1-6.4 10.9-10.3-6.9 8.2-10.5 8.3 5.3 9.3-9.1-2.3-5.3 2.3-7 11.4 2.2 3.5 8.4 1.9-.2 9.9 4.9 4.7-8.1-7.6-5.8-.4-5.8-7.6-1-4.7-5.5 8.2-9.4 1.9-.3 4.9 2.1 2.9-.7 8.1 6.4-.8 8.3 .7 .9-2.7 9.9 6 4.2 5.3-1.3 .2-.3 11.2-1 .3-.6 10.6-3.1 .3-.7 9.9-1.6 4.2 6.6 4.2-1 1.6-8.2 4.6-3.2-2.2-7.9 7.2-4.4 .8-2-.4-.3-7 2-10-1.9-2.9-5 2.6-3.5-5.6-4.9 2.3-4.4 5.1 .7-.5-.9-7-2-7-3-1.1-2.1-1.8-.7-1.2 .4-4.5-4.3-11.4 1.9-1.1 1.3-8.6-.4-2.8 8.1 9.2 7.9-1 2.1-11.4 2.7-2.8-10.1-.3-.1-8 2.9-5.7-3.8 2.9-7.3 7.2 .7 7-9.3-.1-.9 11.5-6.2-2-4.8-2-6-8-7-7-5.1-1.7 .5 .7 1.6-3.7 11.3-6.3-.5-1.5-1.4-.5 1.6-7 4-4.4 10.3 .1 6.6-9.9 5.8 2.5 8.1zM175.4 50.5l2.3-4.7 12.2-1.4 10.3 6.6-3.9 9.2-8.1-.6-.6-1.4-12.2-7.7zM119.6 75.5l-2.8-7.5 6-6.7 6.9 2.6 2.7 5.7-5.2 8.5-7.6-2.6zM186.8 123.5l.4 3.7 6.3 3.9 5.9-3.7 .6-1.9-1.4-4-6.1-3.6-5.7 5.6zM169.2 162.2l-2.3 2.7 3.4 3.3 5.7 .9 5.6-2.4-.7-3.7 .5-1.1 7.6-2 1.7 1.4 5.3-6.3 .4-2.1-2.4-1.4-5.1 1.7-1.3-.6-7.7 2.2-3.3-2.5-6.5 5.3-.9 4.6z" fill="#abdda4" fill-rule="evenodd"/>
<path d="M251.7 82.9l.3 1.8 1-1.7 5.1-2-.7-6.2-4.4 4.1 .2 1.8-1.5 2.2zM250.8 69.3l-11.2-3.2-5.2 7.6 5.2 4.7 .6 0 8.1-4.6-.1-2.8 2.6-1.7zM235.3 111.4l2.7-3.4 1.3-2.6-1.5 0-2.7 5.4 .2 .6zM237.1 140l-.8-1.4-2.4 5.2 .1 .1 3.1-3.9zM125.5 88.4l2.2 5.3-9.1 9-8.3-5.3-8.4 10.6 10.5 7 6.5-10.8 7.5 5.1 2.7-2.2 1.9 .9 2 4 .9 4 0 4 1 10 0 2.9 3 4.4 5.5-.2 2.5 2 .9 9.1-10.3 3.2 2.8 8-1.8 4 .1 .6 2.3 3.1 8.5 1.2 1.5-1.3 8.9 5.6 2.7-.4 3.8-6.8 1.7-.4 2.3-2.8 .9-4.6-6.4-7.2 3-3.4 9.3 .4 1.2-2 7-2.7 1.4-1.7 7.8-6.6 6.4 5.6 .1 1.4 1-2.4 5-1.9 4.5 .6-2.3-3.9 4-5.6-1.2-3.3-11.1 .6-.6 1.9-5.8 3.6-6.2-3.9-.4-3.5 5.7-5.7-.1-1.1-6.3-6.4 0-2.5 5.7-3.5 7.6 3.9 .8-.2 .9-1 7.3-1.6 1.3-6.9 9.3 .7 2.2-6.8 5.5-8.4-.9-3.5-5.4-3.2-4.6 3.2-1.6 8.2-4.1 1-4.2-6.6-10 1.6-.2 .8-10.6 3-.4 .6-11.1 1-.3 .3-5.3 1.3-2.1 6.6-5.7 2.4-5.4-3.3-.3-.9-9.9-4.9-1.8 .2-3.5-8.3-11.5-2.3-2.4 7.1zM162.7 116.8l4.3 1.7 7.8-4.3 3.5 2.3 1.2 3.8-6.1 7.3-3.6-1.9-7 3.2-5.4-7 5.3-5.1zM146.2 127.2l-4.4-5.2 6.8-7.8 7.7 7.8-4.6 4.8-5.5 .4zM190 44.4l-2.5 13.8 .6 1.5 8.2 .6 4-9.4-10.3-6.5zM179 24l-7-1-.1-.3-11.5 6.3 .1 1 5.8 6.2 8.7 .4 1-1.3 11.4-1.9 4.5 4.3 1.2-.4 1.9 .8-3-5.1-6-3-2-4-5-2zM190.7 161.2l-1.7-1.4-7.7 2.1-.5 1.1 .7 3.7 1.5-.7 7-4 .7-.8zM159.3 88.7l3-.9 2.7-10-.7-.9 .8-8.4-8.2-6.4-2.9 .7-2.8 14.2 .4 5.9 7.7 5.8zM152 191l1.2-4.1 0 0-2.9 3.6 .6 .8 1.1-.3zM140.5 11.5l1.4 1.4 6.5 .5 3.7-11.4-.7-1.6-5.4 1.6-4 5-1.5 4.5zM127.3 78.2l5.2-8.6-2.7-5.8-7-2.6-6.1 6.7 2.8 7.7 7.8 2.6zM104 34l-4 4-1.1 5 8 7-1 2.2 4.1 3.5 9-1.8 2.4-6.1-2.5-8.1 9.9-5.8-.1-6.8-.7 1.9-12 .9-4-2-4 1.1-4 5z" fill="#ffffbf" fill-rule="evenodd"/>
<path d="M208.6 54.6l3.5-5.6-1.7-3.2-5.1-.7-2.3 4.6 5.6 4.9zM177.6 45.7l-2.3 4.8 12.2 7.8 2.5-14.1-12.4 1.5zM153.6 39.1l-7.3-.7-2.9 7.5 5.8 3.8 8-2.9 .2 .1 6.2-2.6 2.8-8.1-5.8-6.3-7 9.2z" fill="#2b83ba" fill-rule="evenodd"/>
<path d="M233.1 97.8l10.1-4.1 3.4 2.2 4.5-4.9-1-3 2-3.4-.3-1.7-6.4 1.2-5.2-5.8-.6 0-5.2-4.7-.4 .1-8.2 6.9 .9 3.5-5.5 8.4 11.9 5.3zM220.4 131.6l-1.5 7.3 1.1 .1 9 11.1 5.1-6.4 2.3-5-3.3-6.7 0-9 .4-4.5-4.3 .4-.5 6.8-5.8 2.9-1.1 2.2-1.4 .8zM201.1 107l-.9 1.1 4.8 8 5.5 1.1 3.7-7.1 .7-.2 5.7-6.1-1.5-4.6-9.3-.7-1.4 6.9-7.3 1.6z" fill="#d7191c" fill-rule="evenodd"/>
<path d="M194 144.7l3.2-1.4 2.7-2M194 144.7l-.3 3.4 .3 3.4M194 151.5l2.1 1 .2 .1M171.7 54.2l.6 3.6 1 3.5 .4 3.6M171.7 54.2l-3.9 .7-3.7 1.3-3.8 .7M173.7 64.9l-2.9 1.1-2.7 1.7-3 .9M165.1 68.6l-2.9-1.9-2.7-2.2-2.6-2.3M156.9 62.2l2-2.4 1.4-2.9M151.4 76.9l.6-3.5 1.1-3.5 .9-3.4 0-3.6M151.4 76.9l3.2 .6 3.2-.6 3.2-.4 3.3 .4M154 62.9l1.4-.9 1.5 .2M164.3 76.9l0-4.2 .8-4.1M94.7 83.2l-1.2-2.5-.1-2.8M94.7 83.2l-2.8 1.6-2.6 2-2.1 1.8M88.3 76l1.6 .8 3.5 1.1M138.9 70.5l-3.3 .1-3.2-1M138.9 70.5l2.6 2.6 2.2 2.9M132.4 69.6l-2.3 2.5-.5 3.6-2.3 2.5M127.3 78.2l.7 1.5-.1 1.7M127.9 81.4l3.8 .7 3.8 1 3.8 .5M139.3 83.6l2.4-3.7 2-3.9M151.4 76.9l.2 .3-.4-.2M154 62.9l-2.3-1.5-2.6-.6M149.1 60.8l-.9 .3-1 0M147.2 61.1l-2.2 2.2-2.3 2.2-1.9 2.4-1.9 2.6M151.2 77l-3.7-.5-3.8-.5M147.2 61.1l-2.5-2-2.6-1.7-3.1-.8-2.5-2M132.4 69.6l-1.3-2.8-1.3-2.9M136.5 54.6l-2.1 3.2-2.9 2.6-1.7 3.5M245.3 67.7l.3 .2 2.6 3.1M248.2 71l1.9-2M164.9 77.8l2.9 1.2 3.4-.4 2.9 1.3M164.9 77.8l-1.3 3.2-.4 3.5-1 3.2M174.1 79.9l.2 3.5-1 3.4 .4 3.5M162.2 87.7l3.1 1.9 2.9 2.3M173.7 90.3l-.3 0 .1 .3M173.5 90.6l-2.7 .6-2.6 .7M93.4 77.9l1.4-1.9M199.9 139.9l-.3 .7 .3 .7M199.9 139.9l2.1-2.8 2-2.8M204 134.3l2.1 .2 2.1-.7M208.2 133.8l2.6 3.5 .1 .4M239.3 105.4l-1.5 0M243.2 93.7l-3.4 1.2-3.2 1.9-3.5 1M243.2 93.7l1.9 .8 1.5 1.3M233.1 97.8l-.5 1 .3 1M237.8 105.4l-2.3-2.9-2.6-2.7M108.8 80.1l1 .1 .8 .6M108.8 80.1l-1.3-2.9-.5-2.1M110.6 80.8l2.6-2.3 3.2-1.4 3.1-1.5M114.2 68l2.6 0M116.8 68l1.3 3.8 1.4 3.8M94.7 83.2l2.5 .8 2.1 1.4M99.3 85.4l3.1-2 3.4-1.3 3-2M114.5 88.2l-1.5-3.9-2.4-3.5M114.5 88.2l3.7-.6 3.7 .5 3.7 .3M125.6 88.4l1.8-3.3 .5-3.7M127.3 78.2l-4-1-3.8-1.6M122.8 61.2l3.4 1.5 3.6 1.2M122.8 61.2l-1.5 2.7-2.5 1.8-2 2.3M170.1 168.2l-.5-.7-2.6-2.6M167 164.9l1.4-1.1 .8-1.6M181.8 166.5l0-1.3-.9-2.2M169.2 162.2l4-.3 3.8 .5 3.9 .6M185.6 95.8l-.2-3.3-.6-3.3M185.6 95.8l-2.8 3.2-3.1 2.9M184.8 89.2l-3.7-.1-3.7 1.4-3.7-.2M173.5 90.6l1.3 2.7 1.3 2.9 1.1 2.9 1.4 2.8M179.7 101.9l-.6-.4-.5 .4M199.9 139.9l-3.5-2.4-2.9-3.1M193.5 134.4l-2.4 2.5-3.1 1.6-2.4 2.5M194 144.7l-2.6-1.6-3.1-.5-2.7-1.5M185.6 141.1l.5 0-.5-.1M245.4 84.2l-2.3-3.2-3-2.6M245.4 84.2l3.3 0 3.1-1.3M240.1 78.4l3-1.2 2.7-1.5 2.4-2M248.2 73.7l2.7 2.4 2.1 2.8M251.8 82.9l1.3-.7 .1-1.5M253 78.9l.7 .8-.5 1M243.2 93.7l-.2-1.7-.7-1.6M242.3 90.4l1.6-3.1 1.5-3.1M251.9 84.9l-.1-2M257 81.4l-3.8-.7M257.4 75.3l-2.5 1-1.9 2.6M232.3 86.9l1.9-.2 1.8-.7M232.3 86.9l-2.8-1.4-2.7-1.4M236 86l1.9-3.8 1.7-3.9M226.8 84.1l0-1.9-.9-1.6M225.9 80.6l2.6-2.4 2.9-2.1 2.6-2.4M239.6 78.3l-3-1.8-2.2-2.8M234.4 73.7l-.2-.2-.2 .2M233.1 97.8l-.4 .3 .4-.3M233.1 97.8l-.1-3.7-.3-3.6-.4-3.6M242.3 90.4l-2.8-2.7-3.5-1.7M240.1 78.4l-.2-.6-.3 .5M239.7 66.2l-1 2.4-2.9 2-1.4 3.1M248.2 71l-.3 1.4 .3 1.3M229.6 142l0-3.6-.4-3.4M229.6 142l2.4 .4 1.9 1.4M233.2 132.4l-2 .9-2 1.7M234.2 143.5l1.3-2.2 1-2.4M122.8 61.2l-2.1-3.6-1.8-3.7M109.5 57.6l.5-1.9M118.9 53.9l-3 .1-2.8 1.6-3.1 .1M110 55.7l-2.4-2.6-1.7-.9M172.8 52.1l1.5-.4 1-1.2M172.8 52.1l-2.7-1.5-1.5-3-2.6-1.5-2.5-1.9M175.3 50.5l1.4-2.3 1-2.4M177.7 45.8l-1.5-2.9-.5-3.2-.8-3.1M174.9 36.6l-4.3 .3-4.2-.7M166.4 36.2l-1.7 3.9-1.2 4.1M171.7 54.2l0-1.3 1.1-.8M160.3 56.9l-.6-3.5-1.9-3-.4-3.6M163.5 44.2l-3 1.4-3.1 1.2M149.1 60.8l.1-3.7-.4-3.7 .4-3.7M157.4 46.8l-.1 .1-.1-.2M149.2 49.7l3.8-2.1 4.2-.9M166.4 36.2l-2.9-3.2-2.9-3.1M160.6 29.9l-1.8 3.5-2.8 2.8-2.4 3M157.2 46.7l-1.5-3.9-2.1-3.6M164.3 76.9l.3 .5 .3 .4M173.7 64.9l1.8 1.2 2 .9M174.1 79.9l1.3-.7 1.2-.9M176.6 78.3l-.3-3.8 1.4-3.7-.2-3.8M184.8 89.2l-.1-.5 .5 0M185.2 88.7l-.4-3.2-1.4-2.8-1.5-2.8M176.6 78.3l2.5 1.4 2.8 .2M208.2 133.8l2.2-2.7 1.8-2.9M219 138.9l.3-3.7 1.2-3.6M212.2 128.2l4.3 1.2 4 2.2M229.6 142l-2.8 1.3-3 .2M229.2 135l-3.5-2.4-3.9-1.8M221.8 130.8l-.8 .2-.5 .6M192.4 116.9l2.2-3.1 2.3-2.9 2.7-2.6M192.4 116.9l-3.1-3.3-3.1-3.2M199.6 108.3l-4-1.8-3.7-2.1M191.9 104.4l-3 1.5-2.8 1.9M186.1 107.8l.6 1.3-.5 1.3M185.6 95.8l3.2 1.5 3.5 .8M192.3 98.1l-.4 3.1 0 3.2M179.7 101.9l3.1 3 3.3 2.9M140.4 121.9l.6 .3 .7-.2M140.4 121.9l-2.4-3.1-2.9-2.5M148.9 110.5l-1.4-.8-.2-1.6M148.9 110.5l-.5 1.8 .2 1.8M148.6 114.1l-2.1 2.8-2.7 2.3-2.1 2.8M137.8 110l-1.7 3-1 3.3M137.8 110l3.1-.4 3.1-.8 3-.8M147 108l.3-.2 0 .3M173 106.6l.4-.7 .3-.8M173 106.6l-2.9 .8-3 .9-2.9 1-3 .7M173.7 105.1l-2.3-2.5-3.2-1.6-2.1-2.6M161.2 110l.2-.3-.2 .2M161.2 109.9l-.2-3-1-2.9 .3-3.1M166.1 98.4l-2.7 1.8-3.1 .7M178.6 101.9l-2.8 1.1-2.1 2.1M178.4 116.5l-1.9-1.1-1.7-1.3M178.4 116.5l2.9-1.6 1.9-2.9 3-1.6M174.8 114.1l-1-3.7-.8-3.8M162.7 116.8l2.2 .7 2.1 1M162.7 116.8l-.9-3.4-.6-3.4M167 118.5l3.8-2.4 4-2M168.2 91.9l-.9 3.3-1.2 3.2M162.7 116.8l-2.7 2.4-2.6 2.7M157.4 121.9l-.4 .7-.6-.6M148.9 110.5l3-.8 3.1 .4 3.1-.5 3.1 .3M156.4 122l-2.5-2.8-3-2.2-2.3-2.9M147.3 108.1l1.9-2.7 2.3-2.3 1.4-3 2-2.6M154.9 97.5l3.1 1.1 2.3 2.3M181.4 161.9l-1.2-3.4-.4-3.7M181.4 161.9l3.8-1 3.8-1.1M179.8 154.8l3.9-1.1 3.9-1.1M189 159.8l-.3-3.2 .2-3.3M188.9 153.3l-.8 0-.5-.7M190.8 161.1l-.4-1-1.4-.3M180.9 163l.6-.4-.1-.7M194 151.5l-2.5 1.1-2.6 .7M184.3 142.7l.3-1.1 1-.5M184.3 142.7l1 3.3 1.4 3.3 .9 3.3M96.6 100.5l.5 1 2.5 3 1.3 3.6M106.1 94.9l.7 .3 3.2 1M102 108l-.5 .5-.6-.4M102 108l1.5-3 2.3-2.6 2.1-2.6 2.4-2.4M110 96.2l-.3 .7 .6 .5M96.8 111.4l1.4-1.8 2.7-1.5M99.3 85.4l1.6 3 .2 3.4M114.5 88.2l-1.4 2.7-1.7 2.6-1.4 2.7M112.4 115l-2.6-1.8-2.9-1.2-2-2.7-2.9-1.3M112.4 115l.3 .5 0 .7M112.7 116.2l-2.3 2.5-3.2 1.1M156.4 122l-2.2 2.6-2.5 2.3M141.7 122l2.6 2.3 1.9 2.9M146.2 127.2l2.7-.8 2.8 .5M140.4 121.9l-2.5 2.6-2.8 2.3-.4 .4M135 132.4l.8 2.5 2.1 2.4M137.9 137.3l2.7-.4 2.8 .1M146.2 127.2l-1.2 3.2-.7 3.3-.9 3.3M169.2 162.2l.7-2.3 .3-2.3M179.8 154.8l-1.9-.7-1.3-1.7M170.2 157.6l3.5-2.2 2.9-3M157.4 121.9l2.4 3.7 2.9 3.4M167 118.5l2 3.4 .8 3.9M162.7 129l3.8-1.1 3.3-2.1M179.5 120.3l-.6-1.9-.5-1.9M179.5 120.3l-2.2 2.3-2 2.4-1.8 2.7M173.5 127.7l-1.8-1.1-1.9-.8M187.5 58.2l-3-2-2.9-2.2-3.4-1.2-2.9-2.3M187.5 58.2l1.1-3.3-.1-3.6 .2-3.5 1.3-3.4M177.7 45.8l3-.6 3.1 0 3-1.2 3.2 .3M190 44.4l-.4 .1 .4-.2M174.9 36.6l.9-.4 .2-.9M176 35.3l3.9-.4 3.7-1.1 3.8-.4M187.4 33.4l1.8 2.6 2.7 1.6M190 44.3l.7-3.4 1.2-3.3M193.9 36.3l-.8 1M194.6 37.6l-1.5-.3M204.6 43.4l-.1 .2 .8 1.5M205.3 45.1l3.3 .8 1.9 .2M141.9 12.8l-1.4-1.4M141.9 12.8l-2 3-1.5 3.4-2.5 2.7M135.9 21.9l-2.9 .3-2.3 .2M136.5 54.6l.2-2.7-.7-2.7M118.9 53.9l1.2-3 1.2-3.1M136 49.2l-3.7-.2-3.7-.5-3.6-.2-3.7-.5M116 30l0 2.1-.7 2.9M129 26.5l.1 .8 .3 3.3-.6 3.3M115.3 35l1.9 1.8 .8 2.5M118 39.3l.3 .5 .5-.1M128.8 33.9l-3.5 1.6-3 2.6-3.5 1.6M103.3 45.9l3.2-.8 2.6-2.1 3.2-.7 2.6-2.1 3.1-.9M103.3 45.9l-.4 .5M121.3 47.8l-1.1-4.1-1.4-4M143.3 32l-3.4 1.2-3.2 1.8-3.5 .8M143.3 32l1.8 3.1 1.3 3.3M146.4 38.4l-1.1 3.9-1.9 3.6M133.2 35.8l1.4 3 1 3.1 .7 3.1 .4 3.2M143.4 45.9l-3.3 1.4-3.4 .9M144.2 29.3l-.3 1.4-.6 1.3M144.2 29.3l-3.1-2.1-2.5-2.7-2.7-2.6M128.8 33.9l2.4 .4 2 1.5M149.2 49.7l-2.6-2.4-3.2-1.4M153.6 39.2l-3.7-.1-3.5-.7M136 49.2l0-.8 .7-.2M103.3 45.9l-.1-3.4-.8-3.2-.9-2.8M115.3 35l-3.2-.9-3.1-1.1-3.2-.8-.3 0M194.6 78.2l1.1 3.2 .4 3.5M194.6 78.2l2.9-1.2 2.6-1.7 3-1 2.9-1M208.2 79.2l-.6-2.9-1-2.8M208.2 79.2l-1.1 2-1.1 2.1M206 73.3l.4-.3 .2 .5M206 83.3l-3.4 .1-3.2 1.3-3.3 .2M192.3 98.1l2.8-2.5 3.4-1.5M200.3 108.1l-.5-.4-.2 .6M200.3 108.1l.9-.1 0-.9M201.2 107.1l-.6-3 .6-3.1-.2-3.1-.9-2.9M198.5 94.1l.6 .8 1 .1M185.2 88.7l3.5-1.1 3.6-.9 3.5-1.1M198.5 94.1l-2-4-.7-4.5M181.9 79.9l3-1.2 2.6-2 2.8-1.6M177.5 67l3.3-.4 3.2-1.1M184 65.5l1.5 3.6 2.6 2.9 2.2 3.1M187.5 58.2l0 .9 .7 .5M184 65.5l2.1-2.9 2.1-3M194.6 78.2l-.8-1.5-1.3-.9M195.8 85.6l0-.4 .3-.3M192.5 75.8l-1-.8-1.2 .1M137.8 164.5l.4 1.2 1.7 1.4M139.1 169.6l.8-2.5M139.9 167.1l4.2 1 4.3 .1M141.1 176.3l1.7 .1 4.4 .9M147.2 177.3l.7-3 .2-3 .3-3.1M165.3 165.4l-2.2-2.2-2.3-2-2.9-1.3M165.3 165.4l-2.4 3.1-1.5 3.7M161.4 172.2l-1.3 .4-1.3 0M151.7 160.5l3.1-.4 3.1-.2M151.7 160.5l-.8 3.3-1 3.1M158.8 172.6l-3.3-1.5-3-1.8-2.6-2.4M200.3 108.1l1.8 2.5 1.7 2.6 1.2 2.9M201.2 107.1l3.6-.9 3.6-.7M205 116.1l2.6 1 2.8 0M208.4 105.5l2.8 2.4 3 2.1M210.4 117.1l1.5-3.7 2.3-3.4M212.2 128.2l0-1.8-1.2-1.5M221.8 130.8l.6-1.1 .6-1.1M211 124.9l1-1.9-.1-2.2M223 128.6l-1.4-4-.9-4.3M211.9 120.8l4.4 0 4.4-.5M198.6 121.6l1.2 1.8 .1 2.1M198.6 121.6l-2.9-2.1-3.2-1.6M193.5 131l-3.2-1.8-3.1-2M193.5 131l2.9-1.9 3-1.7M199.4 127.4l.9-.7-.4-1.2M192.5 117.9l-2.5 3.2-3.2 2.4M186.8 123.5l.3 1.8 .1 1.9M205 116.1l-3.3 2.7-3.1 2.8M211 124.9l-3.7-.2-3.7 .5-3.7 .3M210.4 117.1l.4 2 1.1 1.7M192.4 116.9l-.4 .5 .5 .5M193.5 134.4l-.2-1.7 .2-1.7M182.2 133l1.3 4.2 2.1 3.8M182.2 133l2.8-2.7 2.2-3.1M204 134.3l-2.9-3.1-1.7-3.8M179.5 120.3l3.7 1.5 3.6 1.7M182.2 133l-3.8-.3-3.6-1.3M174.8 131.4l-1.3-1.6 0-2.1M133.1 104l-3.2 2.8-.6 .4M129.1 107.4l-2.7 1.8M133.1 104l0-3.6 1-3.5M127.8 93.7l3.3 1.4 3 1.8M127.8 93.7l-2.4 2.2-2.5 2-1.7 2.9-2.6 1.9M126.4 109.2l-2.8-1.4-2.5-1.6-2.2-2.1M118.6 102.7l.8 .6-.5 .8M137.8 110l-2.6-2.8-2.1-3.2M135.1 116.3l-1.1 0M129.3 116.3l-1.3 0M128 116.3l.1-.7-.8 0M127.3 115.6l.1-3.3-1-3.1M147 108l-2.3-2.8-1-3.7-2.4-2.8-2-3.1M139.3 95.6l-2.5 1-2.7 .3M125.6 88.4l.6 2.9 1.6 2.4M139.3 83.6l1.2 2.8 1.8 2.5 .6 3.1M139.3 95.6l1.8-1.8 1.8-1.8M110.3 97.4l3.1 1.3 2.5 2.2 2.7 1.8M112.4 115l2-2.5 .8-3.2 2.2-2.4 1.5-2.8M112.7 116.2l1 .2 .4 .9M114.1 117.3l3.3-.2 3.4 0 3.2-.8 3.3-.7M151.7 82.9l-2.4 2.9-2.8 2.6-1.8 3.3M151.7 82.9l2.7 1.6 2.5 2 2.4 2.1M144.7 91.7l3.1 2.1 3.3 1.6 3.5 1.3M159.3 88.6l-1.4 2.8-1.7 2.6-1.6 2.7M151.2 77l.5 2.9 0 3M142.9 92l.9 .3 .9-.6M162.2 87.7l-1.4 .6-1.5 .3M154.9 97.5l-.1-.4-.2-.4M136.2 151.3l-1.1-3.5M136.2 151.3l-.5 .2M148.9 149.8l1.1 4.4 0 4.5M148.9 149.8l-1.4-.3-.6-1.2M146.9 148.3l-3.3 1.5-3.6 .7-3.5 .9M150 158.7l-3.6 0-3.6-.2-3.5 .9M139.3 159.4l-1.8-3.8-1-4.2M137.9 137.3l-2.2 3.3-.7 .7M145.9 139.1l-1.5-.7-1-1.4M145.9 139.1l0 3.1 .8 3 .2 3.1M136.2 151.3l.3-.2 0 .3M151.7 160.5l-.4-1.3-1.3-.5M137.6 163.5l1.4-1.7 .3-2.4M149.9 166.9l-.6 .9-.9 .4M128 116.3l-.4 3.1M151.7 126.9l2.4 3 1.4 3.7M162.7 129l-1 1.1 .3 1.4M162 131.5l-3.4 .5-3.1 1.6M145.9 139.1l4.2-.2 3.9-1.4M154 137.5l.9-1.9 .6-2M167 164.9l-.7 .9-1-.4M161.4 172.2l1.4 3M153.1 187.3l-2.7 3.2M155 182.1l-.4-.9-2.1-2.1M152.5 179.1l-2.5-.6-2.4-.6M147.6 177.9l-1.1 3.8-1.6 3.8M144.9 185.5l1.9 2.7 2.4 2.1M149.2 190.3l.6 .2 .6 0M151.1 191.2l-.7-.7M158.8 172.6l-1.9 2.4-2.4 1.8-2 2.3M147.2 177.3l.2 .3 .2 .3M144 185.8l.9-.3M146.8 191.7l2.4-1.4M175.8 23.5l.5 2.4-.3 3.2 .3 3.1-.3 3.1M187.4 33.4l.3-2.6M191.9 37.6l.5-.4 .7 .1M220.5 77.5l-1.6-3.8-.5-4.1M220.5 77.5l2.9 1.3 2.5 1.8M234 73.7l-2.6-1.7-1.1-3-3-1.3-1.7-2.6M225.6 65.1l-3.9 1.7-3.3 2.8M215.9 80.7l-3.9-.3-3.8-1.2M215.9 80.7l1.9-2.2 2.7-1M206.6 73.5l2.8-2 3-1.5 2.8-1.8M218.4 69.6l-1.4-1.1-1.8-.3M209.8 98.5l3.1 .3 3.1 0 3.1 .4M209.8 98.5l-1.3-1.9-1.4-2M207.1 94.6l1.2-2.6 1.9-2.1M210.2 89.9l2-.9 2.2-.1M214.4 88.9l3.5 1.7 3.4 1.9M219.1 99.2l1-3.3 1.2-3.3M221.3 92.5l-.2 .1 .2 0M208.4 105.5l.9-3.5 .5-3.5M200.1 95l3.5 0 3.5-.4M206 83.3l2.7 2.9 1.5 3.7M215.9 80.7l-.3 4.1-1.2 4.1M226.8 84.1l-1.7 2.9-2 2.7-1.8 2.8M233.1 97.8l-3.2-.7-2.7-2-2.9-1.3-3-1.2M199.5 63.6l3.1-.6 2.9-1.4 2.6-.2M199.5 63.6l-.3 .4 0-.5M199.2 63.5l-1.5-1.6-1.4-1.7M196.3 60.2l1.5-3 1.1-3.2 1.3-3M200.2 51l1.6-.3 1.3-1M203.1 49.7l2.4 1.8 1.7 2.7 1 .8M206 73.3l-2.4-3.1-2.5-3-1.6-3.6M215.2 68.2l-2.2-3.8-.2-.6M192.5 75.8l1.2-3.3 2.7-2.5 1.3-3.3 1.5-3.2M188.2 59.6l4 .1 4.1 .5M190 44.4l2.3 2.2 2.8 1.1 2.2 2.2 2.9 1.1M205.3 45.1l-.6 2.5-1.6 2.1M223 128.6l2.7-1.7 3-1.2M233 127.9l-2-.6-2.3-1.6M228.7 125.7l.7-3.3-.1-3.5M229.3 118.9l4.1-.3M237.8 105.4l-.9 2.9-1.8 2.5M235.1 110.8l.3 .4M220.5 103.8l-2.6 3.3-3.1 2.7M220.5 103.8l2.9 .6 2.6 1.1M214.8 109.8l2.7 2.6 3 2.2 3 2.1M226 105.5l.4 2.6 1.3 2.3M227.7 110.4l-.4 3-1.5 2.6M223.5 116.7l1.2-.3 1.1-.4M214.2 110l.2-.5 .4 .3M219.1 99.2l1.1 2.2 .3 2.4M232.9 99.8l-3.1 3.2-3.8 2.5M220.7 120.3l1.5-1.7 1.3-1.9M235.1 110.8l-3.6-.6-3.8 .2M229.3 118.9l-1.4-1.8-2.1-1.1M114.1 117.3l.8 3 1.5 2.5M148.9 149.8l4-1 3.9-1.2M154 137.5l1.2 2.3 2.2 1.4M157.4 141.2l-.4 3.2-.2 3.2M157.9 159.9l1.1-3 .7-3.2 1.6-2.9M156.8 147.6l2.5 1.2 2 2M170.2 157.6l-2.7-2-1.5-2.9-2.3-2.3M161.3 150.8l1.3 .3 1.1-.7M225.6 65.1l.2-2M151.5 .4l.4 .6 .2 1M141.9 12.8l3.2 .8 3.2-.2M148.3 13.4l.4-3.1 1.5-2.6 1.5-2.7 .4-3M168.3 12.9l-1.8-.3-3.1 .4M163.4 13l-1.4-2.8-1.3-2.9-.4-2M152.1 2l4 .9 1.8 .6M166.2 137.8l-.2 .9-.7 .6M166.2 137.8l2.7-1.4 3.1-.1M165.3 139.3l.4 3.9 1.1 3.7M172 136.3l1.2 3.3 2.8 2.4 1.3 3.4M166.8 146.9l3.1 0 3.1-.3 3.1 .7M177.3 145.4l-.6 1-.6 .9M162 131.5l2.2 3.1 2 3.2M157.4 141.2l4.1-.4 3.8-1.5M174.8 131.4l-1.3 2.5-1.5 2.4M163.7 150.4l1.5-1.8 1.6-1.7M184.3 142.7l-3.4 1.7-3.6 1M176.6 152.4l-.1-2.6-.4-2.5M148.8 14l3.8 1 4 0 3.9 .4M148.8 14l.6 3 .1 3-.2 3-.1 3M160.5 15.4l.5 3.4-.4 3.4 0 3.4-.2 3.4M149.2 26l3.8 .8 3.5 1.6 3.9 .7M160.4 29.1l-.4-.3 .4 .2M148.3 13.4l0 .5 .5 .1M163.4 13l-1.9 .7-1 1.7M144.2 29.3l2.4-1.9 2.6-1.4M171.9 22.6l-1 .4-2.7 1.4-2.2 2.2-3.2 .4-2.4 2M160.6 29.9l.2-.5-.4-.3" fill="none" stroke="#1a1a1a" stroke-width="0.7"/>
</g>
<polygon points="146,2 153,0 160,5 168,12 170,18 172,23 179,24 184,26 186,30 192,33 196,40 203,43 210,45 212,49 209,54 206,58 209,63 219,65 226,63 232,67 239,66 250,69 257,72 258,81 253,83 250,88 251,91 241,102 238,108 234,113 233,123 233,132 237,140 229,150 225,145 220,139 206,137 201,139 197,148 196,155 190,162 183,166 176,169 169,168 172,171 171,174 163,175 160,178 156,180 154,184 152,191 147,192 145,189 141,176 138,166 135,147 135,130 134,120 134,116 133,112 131,108 129,107 130,113 129,118 125,122 118,123 111,122 104,118 99,114 94,108 89,102 99,100 103,99 106,95 108,93 107,92 104,92 92,91 84,87 83,83 82,81 86,79 88,76 100,76 108,75 115,75 115,71 113,64 110,58 105,54 107,50 99,43 100,38 104,34 108,29 112,28 116,30 128,29 130,24 133,17 140,13 142,7" fill="none" stroke="#111" stroke-width="0.9"/>
<polygon points="177,93 180,93 186,91 190,87.5 192,88 193,95 197,97 190.6,100 186,101.5 182,103 178,103 177.5,100 178,97" fill="#fff" stroke="#111" stroke-width="0.7"/>
<circle cx="67" cy="65.5" r="1.1" fill="#000"/>
<circle cx="190" cy="19.9" r="1.1" fill="#000"/>
<circle cx="285.6" cy="27.5" r="1.1" fill="#000"/>
<circle cx="234.2" cy="42.2" r="1.1" fill="#000"/>
<circle cx="227.3" cy="48" r="1.1" fill="#000"/>
<circle cx="214" cy="119.2" r="1.1" fill="#000"/>
<circle cx="207.5" cy="168.7" r="1.1" fill="#000"/>
<circle cx="328.7" cy="93.6" r="1.1" fill="#000"/>
<circle cx="148.3" cy="153.7" r="1.1" fill="#000"/>
<circle cx="173.6" cy="43.2" r="1.1" fill="#000"/>
<circle cx="136" cy="147" r="1.1" fill="#000"/>
<text x="55" y="31" font-size="8.2" font-weight="bold" font-style="normal" fill="#111" font-family="Liberation Sans, sans-serif" textLength="30.4" lengthAdjust="spacingAndGlyphs">Pakistan</text>
<text x="71" y="68.6" font-size="8.0" font-weight="normal" font-style="normal" fill="#111" font-family="Liberation Sans, sans-serif" textLength="26.2" lengthAdjust="spacingAndGlyphs">Karachi</text>
<text x="193" y="20.8" font-size="5.6" font-weight="normal" font-style="normal" fill="#111" font-family="Liberation Sans, sans-serif" textLength="25" lengthAdjust="spacingAndGlyphs">New Delhi</text>
<text x="250.4" y="22.3" font-size="7.6" font-weight="bold" font-style="normal" fill="#111" font-family="Liberation Sans, sans-serif" textLength="19.6" lengthAdjust="spacingAndGlyphs">Nepal</text>
<text x="289.6" y="28.5" font-size="7.6" font-weight="normal" font-style="normal" fill="#111" font-family="Liberation Sans, sans-serif" textLength="38" lengthAdjust="spacingAndGlyphs">Kathmandu</text>
<text x="236.5" y="43.6" font-size="7.9" font-weight="normal" font-style="normal" fill="#111" font-family="Liberation Sans, sans-serif" textLength="31.2" lengthAdjust="spacingAndGlyphs">Lucknow</text>
<text x="229.6" y="61.6" font-size="7.9" font-weight="normal" font-style="normal" fill="#111" font-family="Liberation Sans, sans-serif" textLength="25.4" lengthAdjust="spacingAndGlyphs">Kanpur</text>
<text x="323" y="61.6" font-size="7.6" font-weight="bold" font-style="normal" fill="#111" font-family="Liberation Sans, sans-serif" textLength="15" lengthAdjust="spacingAndGlyphs">Ban</text>
<text x="333.4" y="30.5" font-size="7.6" font-weight="bold" font-style="normal" fill="#111" font-family="Liberation Sans, sans-serif">B</text>
<text x="215" y="88.7" font-size="7.6" font-weight="bold" font-style="normal" fill="#111" font-family="Liberation Sans, sans-serif" textLength="15.8" lengthAdjust="spacingAndGlyphs">India</text>
<text x="217.7" y="119.7" font-size="7.9" font-weight="normal" font-style="normal" fill="#111" font-family="Liberation Sans, sans-serif" textLength="25.3" lengthAdjust="spacingAndGlyphs">Nagpur</text>
<text x="211" y="170.3" font-size="8.1" font-weight="normal" font-style="normal" fill="#111" font-family="Liberation Sans, sans-serif" textLength="40.3" lengthAdjust="spacingAndGlyphs">Hyderabad</text>
<text x="295.8" y="100.2" font-size="7.9" font-weight="normal" font-style="normal" fill="#111" font-family="Liberation Sans, sans-serif" textLength="26.5" lengthAdjust="spacingAndGlyphs">Kolkata</text>
<text x="139.5" y="96.1" font-size="7.9" font-weight="normal" font-style="normal" fill="#222" font-family="Liberation Sans, sans-serif" textLength="41.2" lengthAdjust="spacingAndGlyphs">Ahmedabad</text>
<text x="139.5" y="116.2" font-size="7.6" font-weight="normal" font-style="normal" fill="#222" font-family="Liberation Sans, sans-serif" textLength="15.8" lengthAdjust="spacingAndGlyphs">Surat</text>
<text x="137.8" y="149.5" font-size="7.9" font-weight="normal" font-style="normal" fill="#222" font-family="Liberation Sans, sans-serif" textLength="29.8" lengthAdjust="spacingAndGlyphs">Mumbai</text>
<text x="151.8" y="162.6" font-size="7.9" font-weight="normal" font-style="normal" fill="#222" font-family="Liberation Sans, sans-serif" textLength="18.4" lengthAdjust="spacingAndGlyphs">Pune</text>
<text x="177" y="44.8" font-size="7.6" font-weight="normal" font-style="normal" fill="#222" font-family="Liberation Sans, sans-serif" textLength="18.8" lengthAdjust="spacingAndGlyphs">Jaipur</text>
<text x="78" y="99.6" font-size="5.6" font-weight="normal" font-style="italic" fill="#ddd" font-family="Liberation Sans, sans-serif" textLength="37" lengthAdjust="spacingAndGlyphs">Gulf of Kutch</text>
<text x="10.8" y="125.2" font-size="7.2" font-weight="normal" font-style="normal" fill="#fff" font-family="Liberation Sans, sans-serif">rate</text>
<rect x="3.1" y="139.8" width="9" height="8.5" fill="#d7191c"/>
<rect x="3.1" y="149.1" width="9" height="8.9" fill="#fdae61"/>
<rect x="3.1" y="158.8" width="9" height="9.0" fill="#ffffbf"/>
<rect x="3.1" y="168.8" width="9" height="8.6" fill="#abdda4"/>
<rect x="3.1" y="178.3" width="9" height="8.7" fill="#2b83ba"/>
<text x="22.6" y="141.9" text-anchor="middle" font-size="7.8" fill="#fff" font-family="Liberation Sans, sans-serif">0.8</text>
<text x="22.6" y="151.6" text-anchor="middle" font-size="7.8" fill="#fff" font-family="Liberation Sans, sans-serif">0.5</text>
<text x="22.6" y="161.2" text-anchor="middle" font-size="7.8" fill="#fff" font-family="Liberation Sans, sans-serif">0.2</text>
<text x="22.6" y="170.8" text-anchor="middle" font-size="7.8" fill="#fff" font-family="Liberation Sans, sans-serif">0.1</text>
<text x="22.6" y="180.5" text-anchor="middle" font-size="7.8" fill="#fff" font-family="Liberation Sans, sans-serif">0.03</text>
<text x="22.6" y="189.6" text-anchor="middle" font-size="7.8" fill="#fff" font-family="Liberation Sans, sans-serif">0</text>
</g>
<path d="M0.5,192 V0.5" fill="none" stroke="#9a9a9a" stroke-width="1"/>
<path d="M0.5,0.5 H337.5" fill="none" stroke="#c0c0c0" stroke-width="1"/>
<path d="M337.5,0.5 V191.5 H0.5" fill="none" stroke="#c8c8c8" stroke-width="1"/>
</g>
<g transform="translate(0,258.5)">
<clipPath id="clipc"><rect x="0" y="0" width="338" height="192"/></clipPath>
<clipPath id="rc"><polygon points="146,2 153,0 160,5 168,12 170,18 172,23 179,24 184,26 186,30 192,33 196,40 203,43 210,45 212,49 209,54 206,58 209,63 219,65 226,63 232,67 239,66 250,69 257,72 258,81 253,83 250,88 251,91 241,102 238,108 234,113 233,123 233,132 237,140 229,150 225,145 220,139 206,137 201,139 197,148 196,155 190,162 183,166 176,169 169,168 172,171 171,174 163,175 160,178 156,180 154,184 152,191 147,192 145,189 141,176 138,166 135,147 135,130 134,120 134,116 133,112 131,108 129,107 130,113 129,118 125,122 118,123 111,122 104,118 99,114 94,108 89,102 99,100 103,99 106,95 108,93 107,92 104,92 92,91 84,87 83,83 82,81 86,79 88,76 100,76 108,75 115,75 115,71 113,64 110,58 105,54 107,50 99,43 100,38 104,34 108,29 112,28 116,30 128,29 130,24 133,17 140,13 142,7"/></clipPath>
<g clip-path="url(#clipc)">
<rect x="0" y="0" width="338" height="193" fill="#fff"/>
<polyline points="5,0 6,5 10,10 16,15 19,18 19,29 24,33 22.5,39 8,42 3,48 2.4,56" fill="none" stroke="#333" stroke-width="0.8"/>
<polyline points="13,0 16,1.6 37,3.2 48,2.4 61,0" fill="none" stroke="#333" stroke-width="0.8"/>
<polyline points="227,0 225,11.5 223,17 235,22 247,24 268,29 284,32 305,35 318,39 328,41.5 338,44" fill="none" stroke="#333" stroke-width="0.8"/>
<polyline points="249,0 272,13 284,16 295,19.6 309,19.6 323,21 328,23 323,30 318,37" fill="none" stroke="#333" stroke-width="0.8"/>
<polyline points="189,0 188,14 189,23 187,28 192,33" fill="none" stroke="#333" stroke-width="0.8"/>
<polyline points="197,0 201,9 210,14 217,16 222,17" fill="none" stroke="#333" stroke-width="0.8"/>
<polyline points="264,57 266,67 269,73 266,78 273,85 277,94 271,101 268,104 262,109 257,115 255,120 257,125 252,131 250,134 254,141 252,148 246,155 245,162" fill="none" stroke="#333" stroke-width="0.8"/>
<polyline points="237,140 236,148 234,155 239,160 245,162 250,155" fill="none" stroke="#333" stroke-width="0.8"/>
<polyline points="266,71 278,71 289,67 300,69 312,64 320,58 326,52 330,48" fill="none" stroke="#333" stroke-width="0.8"/>
<polyline points="272,37 275,46 277,55 265,65" fill="none" stroke="#333" stroke-width="0.8"/>
<polyline points="300,69 305,80 318,88 326,96 328,101" fill="none" stroke="#333" stroke-width="0.8"/>
<polyline points="205,137 203,150 200,160 196,168 192,175 193,185 190,194" fill="none" stroke="#333" stroke-width="0.8"/>
<polyline points="320,40 316,52 322,60 330,62 338,64" fill="none" stroke="#333" stroke-width="0.8"/>
<polyline points="338,80 330,85 326,92" fill="none" stroke="#333" stroke-width="0.8"/>
<polyline points="255.7,155.8 264.3,150 270,144.4 277.2,145.8 285.8,142.9" fill="none" stroke="#333" stroke-width="0.8"/>
<polyline points="268.6,105.7 275.8,98.6 287.2,98.6 290,102.9 300,101.4 310,102.9 317.3,105.7" fill="none" stroke="#333" stroke-width="0.8"/>
<polyline points="268.6,105.7 265.8,114.3 255.7,118.6" fill="none" stroke="#333" stroke-width="0.8"/>
<polygon points="0,58 10,57 26,57 58,57 60,59 64,66 70,72 71,78 77,82 82,81 84,87 92,91 104,92 108,93 106,95 103,99 99,100 89,102 94,108 99,114 104,118 111,122 118,123 125,122 129,118 130,113 129,107 131,108 133,112 134,116 134,120 135,130 135,147 138,166 141,176 145,189 147,194 0,194" fill="#000"/>
<polygon points="336,101 336,103 330,104 326,105 316,109 311,113 312,121 307,129 297,133 290,139 283,147 274,156 264,166 257,171 254,179 247,182 240,186 232,194 336,194" fill="#000"/>
<g clip-path="url(#rc)">
<rect x="0" y="0" width="338" height="193" fill="#ffffbf"/>
<path d="M239.6 66.1l-5.2 7.6 5.1 4.6-3.6 7.7 6.4 4.4 .9 3.2-10 4.1-11.9-5.2-2.3 6.7 1.5 4.6-5.7 6 8.7 6.9-2.8 3.6-8.8 .5-1 4.1 1.2 3.3-4 5.6 2.3 3.9 9.6 1.3 3.7 4.6 5.9-1.6-.4-7.1-7.3-4.1 1.1-2.1 5.8-2.9 .5-6.9 4.2-.3 .5-5.6 1.4-1.7-.2-.5 2.7-5.3 1.4 0 1.7-3.5 10.1-11-1-3 2.9-5 5.1-2-1.1-9-6.3-2.8-2.5 1.7-3.7-3.4-4.9-1.4zM195.8 85.7l2.7 8.4 1.6 .9 7-.3 3.1-4.8 4.2-1 1.6-8.3-7.8-1.5-1.6-5.6-.6-.2-11.4 4.8-2.1-2.3 6.8-12.3-2.9-3.3 3.9-9.3-10.3-6.5-2.5 13.8 .6 1.4-4.1 5.8-6.6 1.5-.8 11.4 5.3 1.6 3.3 8.8 10.6-3zM139.3 95.6l7.7 12.4 .4 .2 7.5-10.6 5.3 3.3 .9 9-12.3 .6-.3 3.6 7.8 7.9 1.1-.1 5.3 7.1 7.1-3.1 3.6 1.8 1.4 3.7-2.9 4.9 5.3 9.1 7.1-2.6 3.3 9.9 1.3 .6 5-1.7 2.4 1.4 .7-5 3-6.7 0-1.4-6.4-5.6-.1-3.3-6.2-3.9-.4-3.5 5.6-5.6 6.1 3.6 6.5-5.5-4.8-8.1-.7 .2-7.7-3.9-5.8 3.5-6.4-5.9-1.1-.1-5.1-11.2 .2-.3 .4-10.4-9.2-2.1-.6-.9 .8-8.4-8.2-6.4-2.9 .7-4.9-2.1-2 .3-8.2 9.5 4.8 5.5-4.4 7.6 3.5 8.4-3.5 3.6zM138 166l7 23 2 3.1 4-.9-.5-.7 2.6-3.3 .9-3.2 2-4 4-2 3-2.9-1.5-3-2.7 .4-8.9-5.6-1.5 1.3-8.5-1.2-2.3-3.2 .4 2.2zM140.5 11.5l1.4 1.4 6.5 .5 3.7-11.4-.7-1.6-5.4 1.6-4 5-1.5 4.5zM134.9 132.8l0 14.2 2.7 16.6 1.7-4.1 10.8-.8-1.2-9-1.9-1.5-1-9.1-2.5-2.1 2.7-9.8-4.5-5.2-1.3-.2-5.7 5.6 .2 5.4zM93.3 77.9l-4-1.9-1.3 0-2 3-4.1 2 1.1 2 1 4 8 4 12 1 3 0 .9 1-1.9 2-3 4-14.1 3 8 9.6 4-3.4 1.1-.1 10.3 6.9 .4 1.2 1.4 1.2 13.3-1.8-1-6.4-7.5-5.1-.2-1.3 9.2-9.1-2.3-5.3 2.4-7-.7-3.3-7.8-2.6-8.9 5.3-1.7-.7-1.7-5-7.2 .9-5.3 0-1.4 1.9z" fill="#fdae61" fill-rule="evenodd"/>
<path d="M209 63l-1.1-1.9-8.5 2.4 6.6 9.9 .6 .2 8.7-5.4-2-4.4-4.3-.8zM198.6 121.5l-6.1-3.6-5.7 5.6 .4 3.7 6.3 3.9 5.9-3.7 .6-1.9-1.4-4zM170.2 157.5l-6.5-7.2-2.5 .5-3.4 9.1 7.5 5.5 1.7-.4 3.3 3.2 5.7 .9 5.6-2.4-.7-3.7 .5-1.1-1.5-7.1-3.3-2.5-6.4 5.2zM148.3 13.3l-6.4-.5-6 9-5.2 .5-2.1 5 .1 6.7 4.4 1.9 3.5 12.3-.7 .9-14.6-1.3-2.4 6-8.9 1.8-4.1-3.5-1 1.9 5.1 4 3 6 1 3.8 2.7 .2 2.8 7.6 7.8 2.6 5.2-8.6-2.7-5.7 6.7-9.2 10.7 6.4 1.9-.3 .1-11.1 8-2.9 .2 .1 2.8 10.1 11.5-2.7 1.2-2.2-9.3-7.9 2.8-8 8.6 .4 1.1-1.3-.3-11.8-3.8-.5-2-5-2-6-8-7-1.9-1.4-6.1-1.7-3.7 11.4zM154 137.6l3.4 3.7 7.9-1.9 .9-1.6 5.8-1.5 2.9-4.8-1.4-3.9-3.7-1.9-7 3.2-5.4-7.1-1.1 .1-4.6 4.9-5.6 .4-2.7 9.8 2.5 2.1 8.1-1.5z" fill="#abdda4" fill-rule="evenodd"/>
<path d="M205.3 45.1l-2.3 4.6 5.6 4.9 3.5-5.6-1.7-3.2-5.1-.7z" fill="#2b83ba" fill-rule="evenodd"/>
<path d="M250.8 69.3l-6.5-1.9 3.9 3.6 2.6-1.7zM174.9 36.5l-8.6-.4-2.8 8.1 9.2 7.9-1 2.1-11.4 2.7-2.8-10.1-.3-.1-8.1 2.9-.1 11.2 5 2.1 2.9-.7 8.1 6.4-.8 8.3 .7 1 9.1 2.1-.4 10.2-.2 .3 5.1 11.4 1.2 .1 6.4 5.9 5.8-3.5 7.6 3.9 .8-.2 .9-1 7.3-1.6 1.3-6.9 9.3 .7 2.2-6.8 5.5-8.4-.9-3.5-5.3-3.1-2.2-7.9 7.2-4.4 8.4 8.6 .5-.1 5.2-7.6-.7-.2-7 1-6-4-7 2-5.8-1.1 2 4.4-8.7 5.3 1.7 5.7 7.7 1.5-1.6 8.1-4.1 1-3.1 4.8-7 .3-1.5-.8-2.8-8.6-10.6 3.1-3.2-8.7-5.3-1.6 .8-11.3 6.5-1.5 4.2-5.9-.6-1.4 2.5-13.7 10.1 6.5-3.9 9.2 2.8 3.3-6.7 12.3 2.2 2.5 11.5-5-6.5-9.7 8.4-2.4-1.9-3.2 2.6-3.5-5.6-4.9 2.3-4.4 5.1 .7-.5-.9-7-2-7-3-4-7-6-3-2-4-5-2-3.3-.5 .3 11.7-1.1 1.3zM235.3 111.4l2.7-3.4 1.3-2.6-1.5 0-2.7 5.4 .2 .6zM236.3 138.6l-2.4 5.2 .1 .1 3.1-3.9-.8-1.4zM233.1 127.8l0-4.8 .4-4.5-4.3 .4-.5 6.9 4.4 2zM199.3 127.4l-5.9 3.6 .1 3.4 6.4 5.6 .1 1.4 1-2.4 5-1.9 4.5 .6-2.3-3.9 4-5.6-1.2-3.3 1-4 8.7-.5 2.9-3.7-8.7-6.9-.7 .2-3.8 7.1-5.4-1.1-6.5 5.6 1.4 3.9-.6 1.9zM148.4 168.3l1.5-1.3 8.9 5.6 2.6-.3 1.5 2.9 8.1-1.2 1.1-3-3-2.9 1.4 .2-3.5-3.4-1.7 .4-7.3-5.4 3.3-9.1 2.4-.4 6.5 7.3 6.4-5.3 3.2 2.5 1.5 7-.5 1.1 .7 3.7 1.5-.7 7-4 6-7 .4-2.1-2.4-1.4-5.1 1.7-1.2-.6-3.4-10-7 2.7-5.3-9.1-5.8 1.6-1 1.5-7.8 1.9-3.4-3.8-8.1 1.6 1 9.3 1.9 1.5 1.2 8.8-10.7 .8-1.8 4 .1 .6 2.3 3.1 8.5 1.2zM127.2 78.2l.7 3.2-2.4 7 2.2 5.3-9.1 9 .2 1.4 7.5 5.1 1 6.4-13.2 1.7-1.3-1.2-.4-1.2-10.4-6.9-1.1 .1-4.1 3.4 2.2 2.5 5 4 7 4 7 1.1 7-1.1 4-4 1.1-5-1-5.9 1.9 .9 2 4 .9 4 0 4 .8 7.5 5.7-5.6 1.3 .2 4.4 5.2 5.7-.4 4.6-4.9-7.8-7.9 .3-3.5 12.3-.6-.9-9.1-5.4-3.5-7.6 10.7-.2-.1-7.7-12.4 3.5-3.6-3.5-8.4 4.4-7.6-4.8-5.5 8.3-9.4-10.8-6.6-6.8 9.4 2.7 5.7-5.2 8.6zM158.3 3.8l-5.3-3.9-1.7 .5 .7 1.6 6.3 1.8zM152 191l1.2-4.1 0 0-2.9 3.6 .6 .8 1.1-.3zM136 21.9l6-9.1-1.5-1.4-.5 1.6-7 4-2.4 5.4 5.4-.5zM104 34l-4 4-1.1 5 8 7-1 2.2 4.1 3.5 9-1.8 2.4-6 14.6 1.3 .7-1-3.5-12.4-4.4-1.9-.1-6.8-.7 1.9-12 .9-4-2-4 1.1-4 5zM115 75l-7.9 .1 1.7 5 1.8 .8 9-5.3-2.8-7.7-2.8-.2 1 3.3 0 4zM93.4 78l1.4-2-5.7 0 4.3 2z" fill="#ffffbf" fill-rule="evenodd"/>
<path d="M221.2 92.5l11.9 5.4 10.2-4.2-.9-3.4-6.3-4.3 3.6-7.7-5.3-4.7-.3 .1-8.5-8.6-7.3 4.5 2.2 7.9 5.3 3.1 .9 3.5-5.5 8.4zM229.1 135l.4 6.9-5.8 1.6 5.3 6.6 5.1-6.4 2.3-5-3.3-6.7 0-4.3-4.4-2-5.8 2.9-1.2 2.2 7.4 4.2zM208.4 105.4l-7.3 1.6-.9 1.1 4.8 8 5.5 1.1 3.7-7.1 .7-.2 5.7-6.1-1.5-4.6-9.3-.7-1.4 6.9z" fill="#d7191c" fill-rule="evenodd"/>
<path d="M194 144.7l3.2-1.4 2.7-2M194 144.7l-.3 3.4 .3 3.4M194 151.5l2.1 1 .2 .1M171.7 54.2l.6 3.6 1 3.5 .4 3.6M171.7 54.2l-3.9 .7-3.7 1.3-3.8 .7M173.7 64.9l-2.9 1.1-2.7 1.7-3 .9M165.1 68.6l-2.9-1.9-2.7-2.2-2.6-2.3M156.9 62.2l2-2.4 1.4-2.9M151.4 76.9l.6-3.5 1.1-3.5 .9-3.4 0-3.6M151.4 76.9l3.2 .6 3.2-.6 3.2-.4 3.3 .4M154 62.9l1.4-.9 1.5 .2M164.3 76.9l0-4.2 .8-4.1M94.7 83.2l-1.2-2.5-.1-2.8M94.7 83.2l-2.8 1.6-2.6 2-2.1 1.8M88.3 76l1.6 .8 3.5 1.1M138.9 70.5l-3.3 .1-3.2-1M138.9 70.5l2.6 2.6 2.2 2.9M132.4 69.6l-2.3 2.5-.5 3.6-2.3 2.5M127.3 78.2l.7 1.5-.1 1.7M127.9 81.4l3.8 .7 3.8 1 3.8 .5M139.3 83.6l2.4-3.7 2-3.9M151.4 76.9l.2 .3-.4-.2M154 62.9l-2.3-1.5-2.6-.6M149.1 60.8l-.9 .3-1 0M147.2 61.1l-2.2 2.2-2.3 2.2-1.9 2.4-1.9 2.6M151.2 77l-3.7-.5-3.8-.5M147.2 61.1l-2.5-2-2.6-1.7-3.1-.8-2.5-2M132.4 69.6l-1.3-2.8-1.3-2.9M136.5 54.6l-2.1 3.2-2.9 2.6-1.7 3.5M245.3 67.7l.3 .2 2.6 3.1M248.2 71l1.9-2M164.9 77.8l2.9 1.2 3.4-.4 2.9 1.3M164.9 77.8l-1.3 3.2-.4 3.5-1 3.2M174.1 79.9l.2 3.5-1 3.4 .4 3.5M162.2 87.7l3.1 1.9 2.9 2.3M173.7 90.3l-.3 0 .1 .3M173.5 90.6l-2.7 .6-2.6 .7M93.4 77.9l1.4-1.9M199.9 139.9l-.3 .7 .3 .7M199.9 139.9l2.1-2.8 2-2.8M204 134.3l2.1 .2 2.1-.7M208.2 133.8l2.6 3.5 .1 .4M239.3 105.4l-1.5 0M243.2 93.7l-3.4 1.2-3.2 1.9-3.5 1M243.2 93.7l1.9 .8 1.5 1.3M233.1 97.8l-.5 1 .3 1M237.8 105.4l-2.3-2.9-2.6-2.7M108.8 80.1l1 .1 .8 .6M108.8 80.1l-1.3-2.9-.5-2.1M110.6 80.8l2.6-2.3 3.2-1.4 3.1-1.5M114.2 68l2.6 0M116.8 68l1.3 3.8 1.4 3.8M94.7 83.2l2.5 .8 2.1 1.4M99.3 85.4l3.1-2 3.4-1.3 3-2M114.5 88.2l-1.5-3.9-2.4-3.5M114.5 88.2l3.7-.6 3.7 .5 3.7 .3M125.6 88.4l1.8-3.3 .5-3.7M127.3 78.2l-4-1-3.8-1.6M122.8 61.2l3.4 1.5 3.6 1.2M122.8 61.2l-1.5 2.7-2.5 1.8-2 2.3M170.1 168.2l-.5-.7-2.6-2.6M167 164.9l1.4-1.1 .8-1.6M181.8 166.5l0-1.3-.9-2.2M169.2 162.2l4-.3 3.8 .5 3.9 .6M185.6 95.8l-.2-3.3-.6-3.3M185.6 95.8l-2.8 3.2-3.1 2.9M184.8 89.2l-3.7-.1-3.7 1.4-3.7-.2M173.5 90.6l1.3 2.7 1.3 2.9 1.1 2.9 1.4 2.8M179.7 101.9l-.6-.4-.5 .4M199.9 139.9l-3.5-2.4-2.9-3.1M193.5 134.4l-2.4 2.5-3.1 1.6-2.4 2.5M194 144.7l-2.6-1.6-3.1-.5-2.7-1.5M185.6 141.1l.5 0-.5-.1M245.4 84.2l-2.3-3.2-3-2.6M245.4 84.2l3.3 0 3.1-1.3M240.1 78.4l3-1.2 2.7-1.5 2.4-2M248.2 73.7l2.7 2.4 2.1 2.8M251.8 82.9l1.3-.7 .1-1.5M253 78.9l.7 .8-.5 1M243.2 93.7l-.2-1.7-.7-1.6M242.3 90.4l1.6-3.1 1.5-3.1M251.9 84.9l-.1-2M257 81.4l-3.8-.7M257.4 75.3l-2.5 1-1.9 2.6M232.3 86.9l1.9-.2 1.8-.7M232.3 86.9l-2.8-1.4-2.7-1.4M236 86l1.9-3.8 1.7-3.9M226.8 84.1l0-1.9-.9-1.6M225.9 80.6l2.6-2.4 2.9-2.1 2.6-2.4M239.6 78.3l-3-1.8-2.2-2.8M234.4 73.7l-.2-.2-.2 .2M233.1 97.8l-.4 .3 .4-.3M233.1 97.8l-.1-3.7-.3-3.6-.4-3.6M242.3 90.4l-2.8-2.7-3.5-1.7M240.1 78.4l-.2-.6-.3 .5M239.7 66.2l-1 2.4-2.9 2-1.4 3.1M248.2 71l-.3 1.4 .3 1.3M229.6 142l0-3.6-.4-3.4M229.6 142l2.4 .4 1.9 1.4M233.2 132.4l-2 .9-2 1.7M234.2 143.5l1.3-2.2 1-2.4M122.8 61.2l-2.1-3.6-1.8-3.7M109.5 57.6l.5-1.9M118.9 53.9l-3 .1-2.8 1.6-3.1 .1M110 55.7l-2.4-2.6-1.7-.9M172.8 52.1l1.5-.4 1-1.2M172.8 52.1l-2.7-1.5-1.5-3-2.6-1.5-2.5-1.9M175.3 50.5l1.4-2.3 1-2.4M177.7 45.8l-1.5-2.9-.5-3.2-.8-3.1M174.9 36.6l-4.3 .3-4.2-.7M166.4 36.2l-1.7 3.9-1.2 4.1M171.7 54.2l0-1.3 1.1-.8M160.3 56.9l-.6-3.5-1.9-3-.4-3.6M163.5 44.2l-3 1.4-3.1 1.2M149.1 60.8l.1-3.7-.4-3.7 .4-3.7M157.4 46.8l-.1 .1-.1-.2M149.2 49.7l3.8-2.1 4.2-.9M166.4 36.2l-2.9-3.2-2.9-3.1M160.6 29.9l-1.8 3.5-2.8 2.8-2.4 3M157.2 46.7l-1.5-3.9-2.1-3.6M164.3 76.9l.3 .5 .3 .4M173.7 64.9l1.8 1.2 2 .9M174.1 79.9l1.3-.7 1.2-.9M176.6 78.3l-.3-3.8 1.4-3.7-.2-3.8M184.8 89.2l-.1-.5 .5 0M185.2 88.7l-.4-3.2-1.4-2.8-1.5-2.8M176.6 78.3l2.5 1.4 2.8 .2M208.2 133.8l2.2-2.7 1.8-2.9M219 138.9l.3-3.7 1.2-3.6M212.2 128.2l4.3 1.2 4 2.2M229.6 142l-2.8 1.3-3 .2M229.2 135l-3.5-2.4-3.9-1.8M221.8 130.8l-.8 .2-.5 .6M192.4 116.9l2.2-3.1 2.3-2.9 2.7-2.6M192.4 116.9l-3.1-3.3-3.1-3.2M199.6 108.3l-4-1.8-3.7-2.1M191.9 104.4l-3 1.5-2.8 1.9M186.1 107.8l.6 1.3-.5 1.3M185.6 95.8l3.2 1.5 3.5 .8M192.3 98.1l-.4 3.1 0 3.2M179.7 101.9l3.1 3 3.3 2.9M140.4 121.9l.6 .3 .7-.2M140.4 121.9l-2.4-3.1-2.9-2.5M148.9 110.5l-1.4-.8-.2-1.6M148.9 110.5l-.5 1.8 .2 1.8M148.6 114.1l-2.1 2.8-2.7 2.3-2.1 2.8M137.8 110l-1.7 3-1 3.3M137.8 110l3.1-.4 3.1-.8 3-.8M147 108l.3-.2 0 .3M173 106.6l.4-.7 .3-.8M173 106.6l-2.9 .8-3 .9-2.9 1-3 .7M173.7 105.1l-2.3-2.5-3.2-1.6-2.1-2.6M161.2 110l.2-.3-.2 .2M161.2 109.9l-.2-3-1-2.9 .3-3.1M166.1 98.4l-2.7 1.8-3.1 .7M178.6 101.9l-2.8 1.1-2.1 2.1M178.4 116.5l-1.9-1.1-1.7-1.3M178.4 116.5l2.9-1.6 1.9-2.9 3-1.6M174.8 114.1l-1-3.7-.8-3.8M162.7 116.8l2.2 .7 2.1 1M162.7 116.8l-.9-3.4-.6-3.4M167 118.5l3.8-2.4 4-2M168.2 91.9l-.9 3.3-1.2 3.2M162.7 116.8l-2.7 2.4-2.6 2.7M157.4 121.9l-.4 .7-.6-.6M148.9 110.5l3-.8 3.1 .4 3.1-.5 3.1 .3M156.4 122l-2.5-2.8-3-2.2-2.3-2.9M147.3 108.1l1.9-2.7 2.3-2.3 1.4-3 2-2.6M154.9 97.5l3.1 1.1 2.3 2.3M181.4 161.9l-1.2-3.4-.4-3.7M181.4 161.9l3.8-1 3.8-1.1M179.8 154.8l3.9-1.1 3.9-1.1M189 159.8l-.3-3.2 .2-3.3M188.9 153.3l-.8 0-.5-.7M190.8 161.1l-.4-1-1.4-.3M180.9 163l.6-.4-.1-.7M194 151.5l-2.5 1.1-2.6 .7M184.3 142.7l.3-1.1 1-.5M184.3 142.7l1 3.3 1.4 3.3 .9 3.3M96.6 100.5l.5 1 2.5 3 1.3 3.6M106.1 94.9l.7 .3 3.2 1M102 108l-.5 .5-.6-.4M102 108l1.5-3 2.3-2.6 2.1-2.6 2.4-2.4M110 96.2l-.3 .7 .6 .5M96.8 111.4l1.4-1.8 2.7-1.5M99.3 85.4l1.6 3 .2 3.4M114.5 88.2l-1.4 2.7-1.7 2.6-1.4 2.7M112.4 115l-2.6-1.8-2.9-1.2-2-2.7-2.9-1.3M112.4 115l.3 .5 0 .7M112.7 116.2l-2.3 2.5-3.2 1.1M156.4 122l-2.2 2.6-2.5 2.3M141.7 122l2.6 2.3 1.9 2.9M146.2 127.2l2.7-.8 2.8 .5M140.4 121.9l-2.5 2.6-2.8 2.3-.4 .4M135 132.4l.8 2.5 2.1 2.4M137.9 137.3l2.7-.4 2.8 .1M146.2 127.2l-1.2 3.2-.7 3.3-.9 3.3M169.2 162.2l.7-2.3 .3-2.3M179.8 154.8l-1.9-.7-1.3-1.7M170.2 157.6l3.5-2.2 2.9-3M157.4 121.9l2.4 3.7 2.9 3.4M167 118.5l2 3.4 .8 3.9M162.7 129l3.8-1.1 3.3-2.1M179.5 120.3l-.6-1.9-.5-1.9M179.5 120.3l-2.2 2.3-2 2.4-1.8 2.7M173.5 127.7l-1.8-1.1-1.9-.8M187.5 58.2l-3-2-2.9-2.2-3.4-1.2-2.9-2.3M187.5 58.2l1.1-3.3-.1-3.6 .2-3.5 1.3-3.4M177.7 45.8l3-.6 3.1 0 3-1.2 3.2 .3M190 44.4l-.4 .1 .4-.2M174.9 36.6l.9-.4 .2-.9M176 35.3l3.9-.4 3.7-1.1 3.8-.4M187.4 33.4l1.8 2.6 2.7 1.6M190 44.3l.7-3.4 1.2-3.3M193.9 36.3l-.8 1M194.6 37.6l-1.5-.3M204.6 43.4l-.1 .2 .8 1.5M205.3 45.1l3.3 .8 1.9 .2M141.9 12.8l-1.4-1.4M141.9 12.8l-2 3-1.5 3.4-2.5 2.7M135.9 21.9l-2.9 .3-2.3 .2M136.5 54.6l.2-2.7-.7-2.7M118.9 53.9l1.2-3 1.2-3.1M136 49.2l-3.7-.2-3.7-.5-3.6-.2-3.7-.5M116 30l0 2.1-.7 2.9M129 26.5l.1 .8 .3 3.3-.6 3.3M115.3 35l1.9 1.8 .8 2.5M118 39.3l.3 .5 .5-.1M128.8 33.9l-3.5 1.6-3 2.6-3.5 1.6M103.3 45.9l3.2-.8 2.6-2.1 3.2-.7 2.6-2.1 3.1-.9M103.3 45.9l-.4 .5M121.3 47.8l-1.1-4.1-1.4-4M143.3 32l-3.4 1.2-3.2 1.8-3.5 .8M143.3 32l1.8 3.1 1.3 3.3M146.4 38.4l-1.1 3.9-1.9 3.6M133.2 35.8l1.4 3 1 3.1 .7 3.1 .4 3.2M143.4 45.9l-3.3 1.4-3.4 .9M144.2 29.3l-.3 1.4-.6 1.3M144.2 29.3l-3.1-2.1-2.5-2.7-2.7-2.6M128.8 33.9l2.4 .4 2 1.5M149.2 49.7l-2.6-2.4-3.2-1.4M153.6 39.2l-3.7-.1-3.5-.7M136 49.2l0-.8 .7-.2M103.3 45.9l-.1-3.4-.8-3.2-.9-2.8M115.3 35l-3.2-.9-3.1-1.1-3.2-.8-.3 0M194.6 78.2l1.1 3.2 .4 3.5M194.6 78.2l2.9-1.2 2.6-1.7 3-1 2.9-1M208.2 79.2l-.6-2.9-1-2.8M208.2 79.2l-1.1 2-1.1 2.1M206 73.3l.4-.3 .2 .5M206 83.3l-3.4 .1-3.2 1.3-3.3 .2M192.3 98.1l2.8-2.5 3.4-1.5M200.3 108.1l-.5-.4-.2 .6M200.3 108.1l.9-.1 0-.9M201.2 107.1l-.6-3 .6-3.1-.2-3.1-.9-2.9M198.5 94.1l.6 .8 1 .1M185.2 88.7l3.5-1.1 3.6-.9 3.5-1.1M198.5 94.1l-2-4-.7-4.5M181.9 79.9l3-1.2 2.6-2 2.8-1.6M177.5 67l3.3-.4 3.2-1.1M184 65.5l1.5 3.6 2.6 2.9 2.2 3.1M187.5 58.2l0 .9 .7 .5M184 65.5l2.1-2.9 2.1-3M194.6 78.2l-.8-1.5-1.3-.9M195.8 85.6l0-.4 .3-.3M192.5 75.8l-1-.8-1.2 .1M137.8 164.5l.4 1.2 1.7 1.4M139.1 169.6l.8-2.5M139.9 167.1l4.2 1 4.3 .1M141.1 176.3l1.7 .1 4.4 .9M147.2 177.3l.7-3 .2-3 .3-3.1M165.3 165.4l-2.2-2.2-2.3-2-2.9-1.3M165.3 165.4l-2.4 3.1-1.5 3.7M161.4 172.2l-1.3 .4-1.3 0M151.7 160.5l3.1-.4 3.1-.2M151.7 160.5l-.8 3.3-1 3.1M158.8 172.6l-3.3-1.5-3-1.8-2.6-2.4M200.3 108.1l1.8 2.5 1.7 2.6 1.2 2.9M201.2 107.1l3.6-.9 3.6-.7M205 116.1l2.6 1 2.8 0M208.4 105.5l2.8 2.4 3 2.1M210.4 117.1l1.5-3.7 2.3-3.4M212.2 128.2l0-1.8-1.2-1.5M221.8 130.8l.6-1.1 .6-1.1M211 124.9l1-1.9-.1-2.2M223 128.6l-1.4-4-.9-4.3M211.9 120.8l4.4 0 4.4-.5M198.6 121.6l1.2 1.8 .1 2.1M198.6 121.6l-2.9-2.1-3.2-1.6M193.5 131l-3.2-1.8-3.1-2M193.5 131l2.9-1.9 3-1.7M199.4 127.4l.9-.7-.4-1.2M192.5 117.9l-2.5 3.2-3.2 2.4M186.8 123.5l.3 1.8 .1 1.9M205 116.1l-3.3 2.7-3.1 2.8M211 124.9l-3.7-.2-3.7 .5-3.7 .3M210.4 117.1l.4 2 1.1 1.7M192.4 116.9l-.4 .5 .5 .5M193.5 134.4l-.2-1.7 .2-1.7M182.2 133l1.3 4.2 2.1 3.8M182.2 133l2.8-2.7 2.2-3.1M204 134.3l-2.9-3.1-1.7-3.8M179.5 120.3l3.7 1.5 3.6 1.7M182.2 133l-3.8-.3-3.6-1.3M174.8 131.4l-1.3-1.6 0-2.1M133.1 104l-3.2 2.8-.6 .4M129.1 107.4l-2.7 1.8M133.1 104l0-3.6 1-3.5M127.8 93.7l3.3 1.4 3 1.8M127.8 93.7l-2.4 2.2-2.5 2-1.7 2.9-2.6 1.9M126.4 109.2l-2.8-1.4-2.5-1.6-2.2-2.1M118.6 102.7l.8 .6-.5 .8M137.8 110l-2.6-2.8-2.1-3.2M135.1 116.3l-1.1 0M129.3 116.3l-1.3 0M128 116.3l.1-.7-.8 0M127.3 115.6l.1-3.3-1-3.1M147 108l-2.3-2.8-1-3.7-2.4-2.8-2-3.1M139.3 95.6l-2.5 1-2.7 .3M125.6 88.4l.6 2.9 1.6 2.4M139.3 83.6l1.2 2.8 1.8 2.5 .6 3.1M139.3 95.6l1.8-1.8 1.8-1.8M110.3 97.4l3.1 1.3 2.5 2.2 2.7 1.8M112.4 115l2-2.5 .8-3.2 2.2-2.4 1.5-2.8M112.7 116.2l1 .2 .4 .9M114.1 117.3l3.3-.2 3.4 0 3.2-.8 3.3-.7M151.7 82.9l-2.4 2.9-2.8 2.6-1.8 3.3M151.7 82.9l2.7 1.6 2.5 2 2.4 2.1M144.7 91.7l3.1 2.1 3.3 1.6 3.5 1.3M159.3 88.6l-1.4 2.8-1.7 2.6-1.6 2.7M151.2 77l.5 2.9 0 3M142.9 92l.9 .3 .9-.6M162.2 87.7l-1.4 .6-1.5 .3M154.9 97.5l-.1-.4-.2-.4M136.2 151.3l-1.1-3.5M136.2 151.3l-.5 .2M148.9 149.8l1.1 4.4 0 4.5M148.9 149.8l-1.4-.3-.6-1.2M146.9 148.3l-3.3 1.5-3.6 .7-3.5 .9M150 158.7l-3.6 0-3.6-.2-3.5 .9M139.3 159.4l-1.8-3.8-1-4.2M137.9 137.3l-2.2 3.3-.7 .7M145.9 139.1l-1.5-.7-1-1.4M145.9 139.1l0 3.1 .8 3 .2 3.1M136.2 151.3l.3-.2 0 .3M151.7 160.5l-.4-1.3-1.3-.5M137.6 163.5l1.4-1.7 .3-2.4M149.9 166.9l-.6 .9-.9 .4M128 116.3l-.4 3.1M151.7 126.9l2.4 3 1.4 3.7M162.7 129l-1 1.1 .3 1.4M162 131.5l-3.4 .5-3.1 1.6M145.9 139.1l4.2-.2 3.9-1.4M154 137.5l.9-1.9 .6-2M167 164.9l-.7 .9-1-.4M161.4 172.2l1.4 3M153.1 187.3l-2.7 3.2M155 182.1l-.4-.9-2.1-2.1M152.5 179.1l-2.5-.6-2.4-.6M147.6 177.9l-1.1 3.8-1.6 3.8M144.9 185.5l1.9 2.7 2.4 2.1M149.2 190.3l.6 .2 .6 0M151.1 191.2l-.7-.7M158.8 172.6l-1.9 2.4-2.4 1.8-2 2.3M147.2 177.3l.2 .3 .2 .3M144 185.8l.9-.3M146.8 191.7l2.4-1.4M175.8 23.5l.5 2.4-.3 3.2 .3 3.1-.3 3.1M187.4 33.4l.3-2.6M191.9 37.6l.5-.4 .7 .1M220.5 77.5l-1.6-3.8-.5-4.1M220.5 77.5l2.9 1.3 2.5 1.8M234 73.7l-2.6-1.7-1.1-3-3-1.3-1.7-2.6M225.6 65.1l-3.9 1.7-3.3 2.8M215.9 80.7l-3.9-.3-3.8-1.2M215.9 80.7l1.9-2.2 2.7-1M206.6 73.5l2.8-2 3-1.5 2.8-1.8M218.4 69.6l-1.4-1.1-1.8-.3M209.8 98.5l3.1 .3 3.1 0 3.1 .4M209.8 98.5l-1.3-1.9-1.4-2M207.1 94.6l1.2-2.6 1.9-2.1M210.2 89.9l2-.9 2.2-.1M214.4 88.9l3.5 1.7 3.4 1.9M219.1 99.2l1-3.3 1.2-3.3M221.3 92.5l-.2 .1 .2 0M208.4 105.5l.9-3.5 .5-3.5M200.1 95l3.5 0 3.5-.4M206 83.3l2.7 2.9 1.5 3.7M215.9 80.7l-.3 4.1-1.2 4.1M226.8 84.1l-1.7 2.9-2 2.7-1.8 2.8M233.1 97.8l-3.2-.7-2.7-2-2.9-1.3-3-1.2M199.5 63.6l3.1-.6 2.9-1.4 2.6-.2M199.5 63.6l-.3 .4 0-.5M199.2 63.5l-1.5-1.6-1.4-1.7M196.3 60.2l1.5-3 1.1-3.2 1.3-3M200.2 51l1.6-.3 1.3-1M203.1 49.7l2.4 1.8 1.7 2.7 1 .8M206 73.3l-2.4-3.1-2.5-3-1.6-3.6M215.2 68.2l-2.2-3.8-.2-.6M192.5 75.8l1.2-3.3 2.7-2.5 1.3-3.3 1.5-3.2M188.2 59.6l4 .1 4.1 .5M190 44.4l2.3 2.2 2.8 1.1 2.2 2.2 2.9 1.1M205.3 45.1l-.6 2.5-1.6 2.1M223 128.6l2.7-1.7 3-1.2M233 127.9l-2-.6-2.3-1.6M228.7 125.7l.7-3.3-.1-3.5M229.3 118.9l4.1-.3M237.8 105.4l-.9 2.9-1.8 2.5M235.1 110.8l.3 .4M220.5 103.8l-2.6 3.3-3.1 2.7M220.5 103.8l2.9 .6 2.6 1.1M214.8 109.8l2.7 2.6 3 2.2 3 2.1M226 105.5l.4 2.6 1.3 2.3M227.7 110.4l-.4 3-1.5 2.6M223.5 116.7l1.2-.3 1.1-.4M214.2 110l.2-.5 .4 .3M219.1 99.2l1.1 2.2 .3 2.4M232.9 99.8l-3.1 3.2-3.8 2.5M220.7 120.3l1.5-1.7 1.3-1.9M235.1 110.8l-3.6-.6-3.8 .2M229.3 118.9l-1.4-1.8-2.1-1.1M114.1 117.3l.8 3 1.5 2.5M148.9 149.8l4-1 3.9-1.2M154 137.5l1.2 2.3 2.2 1.4M157.4 141.2l-.4 3.2-.2 3.2M157.9 159.9l1.1-3 .7-3.2 1.6-2.9M156.8 147.6l2.5 1.2 2 2M170.2 157.6l-2.7-2-1.5-2.9-2.3-2.3M161.3 150.8l1.3 .3 1.1-.7M225.6 65.1l.2-2M151.5 .4l.4 .6 .2 1M141.9 12.8l3.2 .8 3.2-.2M148.3 13.4l.4-3.1 1.5-2.6 1.5-2.7 .4-3M168.3 12.9l-1.8-.3-3.1 .4M163.4 13l-1.4-2.8-1.3-2.9-.4-2M152.1 2l4 .9 1.8 .6M166.2 137.8l-.2 .9-.7 .6M166.2 137.8l2.7-1.4 3.1-.1M165.3 139.3l.4 3.9 1.1 3.7M172 136.3l1.2 3.3 2.8 2.4 1.3 3.4M166.8 146.9l3.1 0 3.1-.3 3.1 .7M177.3 145.4l-.6 1-.6 .9M162 131.5l2.2 3.1 2 3.2M157.4 141.2l4.1-.4 3.8-1.5M174.8 131.4l-1.3 2.5-1.5 2.4M163.7 150.4l1.5-1.8 1.6-1.7M184.3 142.7l-3.4 1.7-3.6 1M176.6 152.4l-.1-2.6-.4-2.5M148.8 14l3.8 1 4 0 3.9 .4M148.8 14l.6 3 .1 3-.2 3-.1 3M160.5 15.4l.5 3.4-.4 3.4 0 3.4-.2 3.4M149.2 26l3.8 .8 3.5 1.6 3.9 .7M160.4 29.1l-.4-.3 .4 .2M148.3 13.4l0 .5 .5 .1M163.4 13l-1.9 .7-1 1.7M144.2 29.3l2.4-1.9 2.6-1.4M171.9 22.6l-1 .4-2.7 1.4-2.2 2.2-3.2 .4-2.4 2M160.6 29.9l.2-.5-.4-.3" fill="none" stroke="#1a1a1a" stroke-width="0.7"/>
</g>
<polygon points="146,2 153,0 160,5 168,12 170,18 172,23 179,24 184,26 186,30 192,33 196,40 203,43 210,45 212,49 209,54 206,58 209,63 219,65 226,63 232,67 239,66 250,69 257,72 258,81 253,83 250,88 251,91 241,102 238,108 234,113 233,123 233,132 237,140 229,150 225,145 220,139 206,137 201,139 197,148 196,155 190,162 183,166 176,169 169,168 172,171 171,174 163,175 160,178 156,180 154,184 152,191 147,192 145,189 141,176 138,166 135,147 135,130 134,120 134,116 133,112 131,108 129,107 130,113 129,118 125,122 118,123 111,122 104,118 99,114 94,108 89,102 99,100 103,99 106,95 108,93 107,92 104,92 92,91 84,87 83,83 82,81 86,79 88,76 100,76 108,75 115,75 115,71 113,64 110,58 105,54 107,50 99,43 100,38 104,34 108,29 112,28 116,30 128,29 130,24 133,17 140,13 142,7" fill="none" stroke="#111" stroke-width="0.9"/>
<polygon points="177,93 180,93 186,91 190,87.5 192,88 193,95 197,97 190.6,100 186,101.5 182,103 178,103 177.5,100 178,97" fill="#fff" stroke="#111" stroke-width="0.7"/>
<circle cx="67" cy="65.5" r="1.1" fill="#000"/>
<circle cx="190" cy="19.9" r="1.1" fill="#000"/>
<circle cx="285.6" cy="27.5" r="1.1" fill="#000"/>
<circle cx="234.2" cy="42.2" r="1.1" fill="#000"/>
<circle cx="227.3" cy="48" r="1.1" fill="#000"/>
<circle cx="214" cy="119.2" r="1.1" fill="#000"/>
<circle cx="207.5" cy="168.7" r="1.1" fill="#000"/>
<circle cx="328.7" cy="93.6" r="1.1" fill="#000"/>
<circle cx="148.3" cy="153.7" r="1.1" fill="#000"/>
<circle cx="173.6" cy="43.2" r="1.1" fill="#000"/>
<circle cx="136" cy="147" r="1.1" fill="#000"/>
<text x="55" y="31" font-size="8.2" font-weight="bold" font-style="normal" fill="#111" font-family="Liberation Sans, sans-serif" textLength="30.4" lengthAdjust="spacingAndGlyphs">Pakistan</text>
<text x="71" y="68.6" font-size="8.0" font-weight="normal" font-style="normal" fill="#111" font-family="Liberation Sans, sans-serif" textLength="26.2" lengthAdjust="spacingAndGlyphs">Karachi</text>
<text x="193" y="20.8" font-size="5.6" font-weight="normal" font-style="normal" fill="#111" font-family="Liberation Sans, sans-serif" textLength="25" lengthAdjust="spacingAndGlyphs">New Delhi</text>
<text x="250.4" y="22.3" font-size="7.6" font-weight="bold" font-style="normal" fill="#111" font-family="Liberation Sans, sans-serif" textLength="19.6" lengthAdjust="spacingAndGlyphs">Nepal</text>
<text x="289.6" y="28.5" font-size="7.6" font-weight="normal" font-style="normal" fill="#111" font-family="Liberation Sans, sans-serif" textLength="38" lengthAdjust="spacingAndGlyphs">Kathmandu</text>
<text x="236.5" y="43.6" font-size="7.9" font-weight="normal" font-style="normal" fill="#111" font-family="Liberation Sans, sans-serif" textLength="31.2" lengthAdjust="spacingAndGlyphs">Lucknow</text>
<text x="229.6" y="61.6" font-size="7.9" font-weight="normal" font-style="normal" fill="#111" font-family="Liberation Sans, sans-serif" textLength="25.4" lengthAdjust="spacingAndGlyphs">Kanpur</text>
<text x="323" y="61.6" font-size="7.6" font-weight="bold" font-style="normal" fill="#111" font-family="Liberation Sans, sans-serif" textLength="15" lengthAdjust="spacingAndGlyphs">Ban</text>
<text x="333.4" y="30.5" font-size="7.6" font-weight="bold" font-style="normal" fill="#111" font-family="Liberation Sans, sans-serif">B</text>
<text x="215" y="88.7" font-size="7.6" font-weight="bold" font-style="normal" fill="#111" font-family="Liberation Sans, sans-serif" textLength="15.8" lengthAdjust="spacingAndGlyphs">India</text>
<text x="217.7" y="119.7" font-size="7.9" font-weight="normal" font-style="normal" fill="#111" font-family="Liberation Sans, sans-serif" textLength="25.3" lengthAdjust="spacingAndGlyphs">Nagpur</text>
<text x="211" y="170.3" font-size="8.1" font-weight="normal" font-style="normal" fill="#111" font-family="Liberation Sans, sans-serif" textLength="40.3" lengthAdjust="spacingAndGlyphs">Hyderabad</text>
<text x="295.8" y="100.2" font-size="7.9" font-weight="normal" font-style="normal" fill="#111" font-family="Liberation Sans, sans-serif" textLength="26.5" lengthAdjust="spacingAndGlyphs">Kolkata</text>
<text x="139.5" y="96.1" font-size="7.9" font-weight="normal" font-style="normal" fill="#222" font-family="Liberation Sans, sans-serif" textLength="41.2" lengthAdjust="spacingAndGlyphs">Ahmedabad</text>
<text x="139.5" y="116.2" font-size="7.6" font-weight="normal" font-style="normal" fill="#222" font-family="Liberation Sans, sans-serif" textLength="15.8" lengthAdjust="spacingAndGlyphs">Surat</text>
<text x="137.8" y="149.5" font-size="7.9" font-weight="normal" font-style="normal" fill="#222" font-family="Liberation Sans, sans-serif" textLength="29.8" lengthAdjust="spacingAndGlyphs">Mumbai</text>
<text x="151.8" y="162.6" font-size="7.9" font-weight="normal" font-style="normal" fill="#222" font-family="Liberation Sans, sans-serif" textLength="18.4" lengthAdjust="spacingAndGlyphs">Pune</text>
<text x="177" y="44.8" font-size="7.6" font-weight="normal" font-style="normal" fill="#222" font-family="Liberation Sans, sans-serif" textLength="18.8" lengthAdjust="spacingAndGlyphs">Jaipur</text>
<text x="78" y="99.6" font-size="5.6" font-weight="normal" font-style="italic" fill="#ddd" font-family="Liberation Sans, sans-serif" textLength="37" lengthAdjust="spacingAndGlyphs">Gulf of Kutch</text>
<text x="10.8" y="125.2" font-size="7.2" font-weight="normal" font-style="normal" fill="#fff" font-family="Liberation Sans, sans-serif">rate</text>
<rect x="3.1" y="139.8" width="9" height="8.5" fill="#d7191c"/>
<rect x="3.1" y="149.1" width="9" height="8.9" fill="#fdae61"/>
<rect x="3.1" y="158.8" width="9" height="9.0" fill="#ffffbf"/>
<rect x="3.1" y="168.8" width="9" height="8.6" fill="#abdda4"/>
<rect x="3.1" y="178.3" width="9" height="8.7" fill="#2b83ba"/>
<text x="22.6" y="141.9" text-anchor="middle" font-size="7.8" fill="#fff" font-family="Liberation Sans, sans-serif">0.8</text>
<text x="22.6" y="151.6" text-anchor="middle" font-size="7.8" fill="#fff" font-family="Liberation Sans, sans-serif">0.5</text>
<text x="22.6" y="161.2" text-anchor="middle" font-size="7.8" fill="#fff" font-family="Liberation Sans, sans-serif">0.2</text>
<text x="22.6" y="170.8" text-anchor="middle" font-size="7.8" fill="#fff" font-family="Liberation Sans, sans-serif">0.1</text>
<text x="22.6" y="180.5" text-anchor="middle" font-size="7.8" fill="#fff" font-family="Liberation Sans, sans-serif">0.03</text>
<text x="22.6" y="189.6" text-anchor="middle" font-size="7.8" fill="#fff" font-family="Liberation Sans, sans-serif">0</text>
</g>
<path d="M0.5,192 V0.5" fill="none" stroke="#9a9a9a" stroke-width="1"/>
<path d="M0.5,0.5 H337.5" fill="none" stroke="#a0a0a0" stroke-width="1"/>
<path d="M337.5,0.5 V191.5 H0.5" fill="none" stroke="#c8c8c8" stroke-width="1"/>
</g>
<g transform="translate(347,258.5)">
<clipPath id="clipd"><rect x="0" y="0" width="338" height="192"/></clipPath>
<clipPath id="rd"><polygon points="146,2 153,0 160,5 168,12 170,18 172,23 179,24 184,26 186,30 192,33 196,40 203,43 210,45 212,49 209,54 206,58 209,63 219,65 226,63 232,67 239,66 250,69 257,72 258,81 253,83 250,88 251,91 241,102 238,108 234,113 233,123 233,132 237,140 229,150 225,145 220,139 206,137 201,139 197,148 196,155 190,162 183,166 176,169 169,168 172,171 171,174 163,175 160,178 156,180 154,184 152,191 147,192 145,189 141,176 138,166 135,147 135,130 134,120 134,116 133,112 131,108 129,107 130,113 129,118 125,122 118,123 111,122 104,118 99,114 94,108 89,102 99,100 103,99 106,95 108,93 107,92 104,92 92,91 84,87 83,83 82,81 86,79 88,76 100,76 108,75 115,75 115,71 113,64 110,58 105,54 107,50 99,43 100,38 104,34 108,29 112,28 116,30 128,29 130,24 133,17 140,13 142,7"/></clipPath>
<g clip-path="url(#clipd)">
<rect x="0" y="0" width="338" height="193" fill="#fff"/>
<polyline points="5,0 6,5 10,10 16,15 19,18 19,29 24,33 22.5,39 8,42 3,48 2.4,56" fill="none" stroke="#333" stroke-width="0.8"/>
<polyline points="13,0 16,1.6 37,3.2 48,2.4 61,0" fill="none" stroke="#333" stroke-width="0.8"/>
<polyline points="227,0 225,11.5 223,17 235,22 247,24 268,29 284,32 305,35 318,39 328,41.5 338,44" fill="none" stroke="#333" stroke-width="0.8"/>
<polyline points="249,0 272,13 284,16 295,19.6 309,19.6 323,21 328,23 323,30 318,37" fill="none" stroke="#333" stroke-width="0.8"/>
<polyline points="189,0 188,14 189,23 187,28 192,33" fill="none" stroke="#333" stroke-width="0.8"/>
<polyline points="197,0 201,9 210,14 217,16 222,17" fill="none" stroke="#333" stroke-width="0.8"/>
<polyline points="264,57 266,67 269,73 266,78 273,85 277,94 271,101 268,104 262,109 257,115 255,120 257,125 252,131 250,134 254,141 252,148 246,155 245,162" fill="none" stroke="#333" stroke-width="0.8"/>
<polyline points="237,140 236,148 234,155 239,160 245,162 250,155" fill="none" stroke="#333" stroke-width="0.8"/>
<polyline points="266,71 278,71 289,67 300,69 312,64 320,58 326,52 330,48" fill="none" stroke="#333" stroke-width="0.8"/>
<polyline points="272,37 275,46 277,55 265,65" fill="none" stroke="#333" stroke-width="0.8"/>
<polyline points="300,69 305,80 318,88 326,96 328,101" fill="none" stroke="#333" stroke-width="0.8"/>
<polyline points="205,137 203,150 200,160 196,168 192,175 193,185 190,194" fill="none" stroke="#333" stroke-width="0.8"/>
<polyline points="320,40 316,52 322,60 330,62 338,64" fill="none" stroke="#333" stroke-width="0.8"/>
<polyline points="338,80 330,85 326,92" fill="none" stroke="#333" stroke-width="0.8"/>
<polyline points="255.7,155.8 264.3,150 270,144.4 277.2,145.8 285.8,142.9" fill="none" stroke="#333" stroke-width="0.8"/>
<polyline points="268.6,105.7 275.8,98.6 287.2,98.6 290,102.9 300,101.4 310,102.9 317.3,105.7" fill="none" stroke="#333" stroke-width="0.8"/>
<polyline points="268.6,105.7 265.8,114.3 255.7,118.6" fill="none" stroke="#333" stroke-width="0.8"/>
<polygon points="0,58 10,57 26,57 58,57 60,59 64,66 70,72 71,78 77,82 82,81 84,87 92,91 104,92 108,93 106,95 103,99 99,100 89,102 94,108 99,114 104,118 111,122 118,123 125,122 129,118 130,113 129,107 131,108 133,112 134,116 134,120 135,130 135,147 138,166 141,176 145,189 147,194 0,194" fill="#000"/>
<polygon points="336,101 336,103 330,104 326,105 316,109 311,113 312,121 307,129 297,133 290,139 283,147 274,156 264,166 257,171 254,179 247,182 240,186 232,194 336,194" fill="#000"/>
<g clip-path="url(#rd)">
<rect x="0" y="0" width="338" height="193" fill="#ffffbf"/>
<path d="M235.4 111.3l-.2-.5-7.5-.5-1.9 5.7-2.3 .6-2.8 3.7-8.8 .5-1 4.1 1.2 3.3-4 5.6 2.3 3.9 9.6 1.3 9 11.1 8.1-10.1-4-8 0-9 .9-10 1.4-1.7z" fill="#d7191c" fill-rule="evenodd"/>
<path d="M188.1 59.6l-4.1 5.8-6.6 1.5-.8 11.4-2.6 1.6-.4 10.3-.2 .3 5.1 11.4 1.2 .1 6.4 5.9 0 2.5 6.3 6.5 7.2-8.6 .6-.1 4.8 7.9 5.4 1.1 1.5 3.7 8.8-.5 2.9-3.7 2.3-.6 1.9-5.7 7.3 .5 .2 .5 2.7-3.4 3-6 10.1-11-1-3 2.9-5 5.1-2-1.1-9-6.3-2.8-2.5 1.7-3.7-3.4-4.9-1.4-5.2 7.5-.3 .1-8.5-8.6-7.3 4.5 2.2 7.9-4.6 3.1-7.7-1.5-2.3 4.2 4.3 6.6-3.2 4.7 2.7 3.9-1.3 6.9-7.2 1.6-1.1-12-1.5-.9-2.7-8.5 .2-.7-1.5-6.7-2.1-2.4 6.8-12.3-3-3.3-8.2-.6zM185.6 141.1l8-6.7-.1-3.4-6.3-3.9-5.1 5.9 3.5 8.1zM148.5 114.1l-6.8 7.9-1.3-.2-5.7 5.6 .2 2.6 0 17 2.7 16.6 1.7-4.1 10.8-.8-1.2-9-1.9-1.5-1-9.1 8-1.5 3.4 3.7 7.9-1.9 .9-1.6 5.8-1.5 2.9-4.8-1.4-3.9-3.7-1.8-2.7-7.3 7.7-4.3-1.7-7.6 .6-1.5-7.6-6.8-5.8 2.5-5.4-3.4-7.6 10.7 1.5 2.4-.3 3.6zM118 123.1l7-1.1 2.6-2.6 .5-3.1-.7-.7-1-6.4-7.6-5.2-6.5 11 .4 1.2 1.3 1.1 1.8 5.4 2.2 .4zM115 75l-7 0-8 1-12 0-2 3-4.1 2 1.1 2 1 4 8 4 12 1 3 0 .9 1-1.5 1.5 3.6 1.8 4.5-8.1 11.1 .3 2.4-7.1-.7-3.3-7.7-2.6-2.8-7.6-2.8-.2 1 3.3 0 4z" fill="#fdae61" fill-rule="evenodd"/>
<path d="M206.6 73.5l-.6-.2-11.5 4.9 1.5 6.7 10-1.6 2.3-4.1-1.7-5.7zM192.5 117.9l-5.7 5.6 .4 3.7 6.3 3.9 5.9-3.7 .6-1.9-1.4-4-6.1-3.6zM142 7l-2 6-7 4-5 12-12 .9-4-2-4 1.1-4 5-4 4-1.1 5 8 7-1 2.2 4.1 3.5 9-1.8 2.4-6.1-2.5-8.1 9.9-5.7 4.4 1.9 10.1-3.8 3 6.4 7.3 .7 7-9.2 5.7 6.2-2.8 8-6.1 2.6 2.8 10.2 11.5-2.7 1.2-2.2 2.5-1.6 2.3-4.7 12.3-1.5 2-6.7-4.6-4.2 0-2.8-1.4-.6-2-4-5-2-7-1-2-5-1.6-4.9-5-.1-2.9 2.3-11.7-1.4-.4-.5 3.7-11.4 6.2 1.7-5.3-3.8-7 2.1-4 5zM169.2 162.2l-2.3 2.7 3.4 3.3 5.7 .9 5.6-2.4-.7-3.7 .5-1.1-1.5-7.1-3.3-2.5-6.5 5.3-.9 4.6zM122.8 61.2l-6.1 6.7 2.8 7.7 7.7 2.6 .7 3.2 11.4 2.2 3.5 8.4 1.9-.2 7-8.9 7.6 5.8 3-.9 2.7-10-.7-.9 .8-8.4-8.2-6.4-2.9 .7-4.9-2.1-2 .3-8.2 9.4-6.4-.8-2.7-5.8-7-2.6zM96.6 100.4l4.3 7.8 1.1-.1 8.3-10.7-.3-1.2-3.5-1.8-3.5 4.6-6.4 1.4z" fill="#abdda4" fill-rule="evenodd"/>
<path d="M250.8 69.3l-6.5-1.9 3.9 3.6 2.6-1.7zM239 65.9l-7 1-6-4-7 2-5.8-1.1 2 4.4 3.2 1.4 7.2-4.4 8.4 8.6 .5-.1 5.2-7.6-.7-.2zM148.8 149.8l1.2 8.8-10.7 .8-1.8 4 .5 2.6 7 23 2 3.1 5-1.1 2-7 2-4 4-2 3-3 8-1 1.1-3-3-2.9 1.4 .2-3.4-3.4 2.2-2.7 .9-4.6 6.4-5.2 3.2 2.5 1.5 7-.5 1.1 .7 3.7 1.5-.7 7-4 6-7 1-7 4-9 5-1.9 4.5 .6-2.3-3.9 4-5.6-1.2-3.3 1-4.1-1.5-3.7-5.5-1.1-4.7-8-.8 .2-7.1 8.6-6.2-6.4 0-2.6-6.5-5.9-1.1-.1-5 3.3-.6 1.5 1.7 7.5-7.7 4.4 2.7 7.3 3.7 1.9 1.4 3.7-2.9 4.8-5.7 1.6-1 1.5-7.8 1.9-3.4-3.8-8.1 1.6 1 9.3 1.9 1.5zM187.3 127.2l-.4-3.6 5.6-5.6 6.1 3.6 1.3 3.9-.6 1.9-5.9 3.6 .1 3.3-7.9 6.6-3.4-7.9 5.1-5.8zM100.9 108.1l-4.2-7.7-7.8 1.6 10.1 12 5 4 7 4 4.9 .8-1.8-5.5-1.3-1.2-.4-1.1 6.5-10.8 7.4 5 1 6.4 .7 .7-.5 3.2 1.5-1.5 1.1-5-1-5.9 1.9 .9 2 4 .9 4 0 4 .8 7.5 5.7-5.6 1.3 .2 6.9-8 .3-3.6-1.5-2.4 7.5-10.5 5.4 3.4 5.8-2.6 2.1-6.5 5.3-1.3 .2-.3 .4-10.3 2.6-1.7 .8-11.3 6.5-1.5 4.2-5.8 8.1 .6 2.8 3.2-6.7 12.3 2.2 2.5 11.5-5-6.5-9.7 8.4-2.4-1.9-3.2 2.6-3.5-5.6-4.9 2.3-4.4 5.1 .7-.5-.9-7-2-7-3-4-7-4.7-2.4 0 2.8 4.6 4.3-2 6.6-2.4 13.8-12.2-7.7-2.5 1.7-1.1 2.1-11.5 2.7-3.3 5.3 8.1 6.4-.8 8.3 .7 .9-2.7 9.9-2.9 .9-7.7-5.8-7 8.9-1.7 .2-3.5-8.3-11.5-2.3-2.4 7.1-11.1-.3-4.5 8.1 .3 1.2-8.2 10.6-1.1 .1zM198.5 94.1l1.5 .9 1.1 12.1 7.4-1.6 1.3-7-2.6-3.9 3.1-4.7-4.3-6.7-10 1.6-.2 .8 2.7 8.5zM168 12l-7.5-6.7 2.9 7.8 5.1 .1-.5-1.2z" fill="#ffffbf" fill-rule="evenodd"/>
<path d="M215.9 80.7l4.7-3.2-2.2-8-3.1-1.4-2-4.3-4.3-.8-1.1-1.9-8.5 2.4 6.6 9.9 .6 .2 1.6 5.6 7.7 1.5zM212.1 49l-1.7-3.2-5.1-.7-2.3 4.6 5.6 4.9 3.5-5.6zM187.5 58.3l2.5-14.1-12.4 1.5-2.3 4.8 12.2 7.8zM173.5 90.5l-5.4 1.3-2.1 6.6 7.7 6.8 4.9-3.3-5.1-11.4zM118.8 39.7l2.5 8.1-2.4 6-8.9 1.8-4.1-3.5-1 1.9 5.1 4 3 6 1 3.8 2.8 .2 6-6.7 6.9 2.6 2.7 5.8 6.6 .8 8.2-9.4 1.9-.3 4.9 2.1 2.9-.7 3.4-5.3-2.8-10 6.1-2.6 2.8-8.1-5.8-6.3-7 9.2-7.2-.7-3-6.4-10.2 3.8-4.4-1.9-10 5.8zM148.3 13.4l.5 .6 11.7 1.4 3-2.4-2.9-7.5-2.5-1.9-6.1-1.7-3.7 11.5z" fill="#2b83ba" fill-rule="evenodd"/>
<path d="M194 144.7l3.2-1.4 2.7-2M194 144.7l-.3 3.4 .3 3.4M194 151.5l2.1 1 .2 .1M171.7 54.2l.6 3.6 1 3.5 .4 3.6M171.7 54.2l-3.9 .7-3.7 1.3-3.8 .7M173.7 64.9l-2.9 1.1-2.7 1.7-3 .9M165.1 68.6l-2.9-1.9-2.7-2.2-2.6-2.3M156.9 62.2l2-2.4 1.4-2.9M151.4 76.9l.6-3.5 1.1-3.5 .9-3.4 0-3.6M151.4 76.9l3.2 .6 3.2-.6 3.2-.4 3.3 .4M154 62.9l1.4-.9 1.5 .2M164.3 76.9l0-4.2 .8-4.1M94.7 83.2l-1.2-2.5-.1-2.8M94.7 83.2l-2.8 1.6-2.6 2-2.1 1.8M88.3 76l1.6 .8 3.5 1.1M138.9 70.5l-3.3 .1-3.2-1M138.9 70.5l2.6 2.6 2.2 2.9M132.4 69.6l-2.3 2.5-.5 3.6-2.3 2.5M127.3 78.2l.7 1.5-.1 1.7M127.9 81.4l3.8 .7 3.8 1 3.8 .5M139.3 83.6l2.4-3.7 2-3.9M151.4 76.9l.2 .3-.4-.2M154 62.9l-2.3-1.5-2.6-.6M149.1 60.8l-.9 .3-1 0M147.2 61.1l-2.2 2.2-2.3 2.2-1.9 2.4-1.9 2.6M151.2 77l-3.7-.5-3.8-.5M147.2 61.1l-2.5-2-2.6-1.7-3.1-.8-2.5-2M132.4 69.6l-1.3-2.8-1.3-2.9M136.5 54.6l-2.1 3.2-2.9 2.6-1.7 3.5M245.3 67.7l.3 .2 2.6 3.1M248.2 71l1.9-2M164.9 77.8l2.9 1.2 3.4-.4 2.9 1.3M164.9 77.8l-1.3 3.2-.4 3.5-1 3.2M174.1 79.9l.2 3.5-1 3.4 .4 3.5M162.2 87.7l3.1 1.9 2.9 2.3M173.7 90.3l-.3 0 .1 .3M173.5 90.6l-2.7 .6-2.6 .7M93.4 77.9l1.4-1.9M199.9 139.9l-.3 .7 .3 .7M199.9 139.9l2.1-2.8 2-2.8M204 134.3l2.1 .2 2.1-.7M208.2 133.8l2.6 3.5 .1 .4M239.3 105.4l-1.5 0M243.2 93.7l-3.4 1.2-3.2 1.9-3.5 1M243.2 93.7l1.9 .8 1.5 1.3M233.1 97.8l-.5 1 .3 1M237.8 105.4l-2.3-2.9-2.6-2.7M108.8 80.1l1 .1 .8 .6M108.8 80.1l-1.3-2.9-.5-2.1M110.6 80.8l2.6-2.3 3.2-1.4 3.1-1.5M114.2 68l2.6 0M116.8 68l1.3 3.8 1.4 3.8M94.7 83.2l2.5 .8 2.1 1.4M99.3 85.4l3.1-2 3.4-1.3 3-2M114.5 88.2l-1.5-3.9-2.4-3.5M114.5 88.2l3.7-.6 3.7 .5 3.7 .3M125.6 88.4l1.8-3.3 .5-3.7M127.3 78.2l-4-1-3.8-1.6M122.8 61.2l3.4 1.5 3.6 1.2M122.8 61.2l-1.5 2.7-2.5 1.8-2 2.3M170.1 168.2l-.5-.7-2.6-2.6M167 164.9l1.4-1.1 .8-1.6M181.8 166.5l0-1.3-.9-2.2M169.2 162.2l4-.3 3.8 .5 3.9 .6M185.6 95.8l-.2-3.3-.6-3.3M185.6 95.8l-2.8 3.2-3.1 2.9M184.8 89.2l-3.7-.1-3.7 1.4-3.7-.2M173.5 90.6l1.3 2.7 1.3 2.9 1.1 2.9 1.4 2.8M179.7 101.9l-.6-.4-.5 .4M199.9 139.9l-3.5-2.4-2.9-3.1M193.5 134.4l-2.4 2.5-3.1 1.6-2.4 2.5M194 144.7l-2.6-1.6-3.1-.5-2.7-1.5M185.6 141.1l.5 0-.5-.1M245.4 84.2l-2.3-3.2-3-2.6M245.4 84.2l3.3 0 3.1-1.3M240.1 78.4l3-1.2 2.7-1.5 2.4-2M248.2 73.7l2.7 2.4 2.1 2.8M251.8 82.9l1.3-.7 .1-1.5M253 78.9l.7 .8-.5 1M243.2 93.7l-.2-1.7-.7-1.6M242.3 90.4l1.6-3.1 1.5-3.1M251.9 84.9l-.1-2M257 81.4l-3.8-.7M257.4 75.3l-2.5 1-1.9 2.6M232.3 86.9l1.9-.2 1.8-.7M232.3 86.9l-2.8-1.4-2.7-1.4M236 86l1.9-3.8 1.7-3.9M226.8 84.1l0-1.9-.9-1.6M225.9 80.6l2.6-2.4 2.9-2.1 2.6-2.4M239.6 78.3l-3-1.8-2.2-2.8M234.4 73.7l-.2-.2-.2 .2M233.1 97.8l-.4 .3 .4-.3M233.1 97.8l-.1-3.7-.3-3.6-.4-3.6M242.3 90.4l-2.8-2.7-3.5-1.7M240.1 78.4l-.2-.6-.3 .5M239.7 66.2l-1 2.4-2.9 2-1.4 3.1M248.2 71l-.3 1.4 .3 1.3M229.6 142l0-3.6-.4-3.4M229.6 142l2.4 .4 1.9 1.4M233.2 132.4l-2 .9-2 1.7M234.2 143.5l1.3-2.2 1-2.4M122.8 61.2l-2.1-3.6-1.8-3.7M109.5 57.6l.5-1.9M118.9 53.9l-3 .1-2.8 1.6-3.1 .1M110 55.7l-2.4-2.6-1.7-.9M172.8 52.1l1.5-.4 1-1.2M172.8 52.1l-2.7-1.5-1.5-3-2.6-1.5-2.5-1.9M175.3 50.5l1.4-2.3 1-2.4M177.7 45.8l-1.5-2.9-.5-3.2-.8-3.1M174.9 36.6l-4.3 .3-4.2-.7M166.4 36.2l-1.7 3.9-1.2 4.1M171.7 54.2l0-1.3 1.1-.8M160.3 56.9l-.6-3.5-1.9-3-.4-3.6M163.5 44.2l-3 1.4-3.1 1.2M149.1 60.8l.1-3.7-.4-3.7 .4-3.7M157.4 46.8l-.1 .1-.1-.2M149.2 49.7l3.8-2.1 4.2-.9M166.4 36.2l-2.9-3.2-2.9-3.1M160.6 29.9l-1.8 3.5-2.8 2.8-2.4 3M157.2 46.7l-1.5-3.9-2.1-3.6M164.3 76.9l.3 .5 .3 .4M173.7 64.9l1.8 1.2 2 .9M174.1 79.9l1.3-.7 1.2-.9M176.6 78.3l-.3-3.8 1.4-3.7-.2-3.8M184.8 89.2l-.1-.5 .5 0M185.2 88.7l-.4-3.2-1.4-2.8-1.5-2.8M176.6 78.3l2.5 1.4 2.8 .2M208.2 133.8l2.2-2.7 1.8-2.9M219 138.9l.3-3.7 1.2-3.6M212.2 128.2l4.3 1.2 4 2.2M229.6 142l-2.8 1.3-3 .2M229.2 135l-3.5-2.4-3.9-1.8M221.8 130.8l-.8 .2-.5 .6M192.4 116.9l2.2-3.1 2.3-2.9 2.7-2.6M192.4 116.9l-3.1-3.3-3.1-3.2M199.6 108.3l-4-1.8-3.7-2.1M191.9 104.4l-3 1.5-2.8 1.9M186.1 107.8l.6 1.3-.5 1.3M185.6 95.8l3.2 1.5 3.5 .8M192.3 98.1l-.4 3.1 0 3.2M179.7 101.9l3.1 3 3.3 2.9M140.4 121.9l.6 .3 .7-.2M140.4 121.9l-2.4-3.1-2.9-2.5M148.9 110.5l-1.4-.8-.2-1.6M148.9 110.5l-.5 1.8 .2 1.8M148.6 114.1l-2.1 2.8-2.7 2.3-2.1 2.8M137.8 110l-1.7 3-1 3.3M137.8 110l3.1-.4 3.1-.8 3-.8M147 108l.3-.2 0 .3M173 106.6l.4-.7 .3-.8M173 106.6l-2.9 .8-3 .9-2.9 1-3 .7M173.7 105.1l-2.3-2.5-3.2-1.6-2.1-2.6M161.2 110l.2-.3-.2 .2M161.2 109.9l-.2-3-1-2.9 .3-3.1M166.1 98.4l-2.7 1.8-3.1 .7M178.6 101.9l-2.8 1.1-2.1 2.1M178.4 116.5l-1.9-1.1-1.7-1.3M178.4 116.5l2.9-1.6 1.9-2.9 3-1.6M174.8 114.1l-1-3.7-.8-3.8M162.7 116.8l2.2 .7 2.1 1M162.7 116.8l-.9-3.4-.6-3.4M167 118.5l3.8-2.4 4-2M168.2 91.9l-.9 3.3-1.2 3.2M162.7 116.8l-2.7 2.4-2.6 2.7M157.4 121.9l-.4 .7-.6-.6M148.9 110.5l3-.8 3.1 .4 3.1-.5 3.1 .3M156.4 122l-2.5-2.8-3-2.2-2.3-2.9M147.3 108.1l1.9-2.7 2.3-2.3 1.4-3 2-2.6M154.9 97.5l3.1 1.1 2.3 2.3M181.4 161.9l-1.2-3.4-.4-3.7M181.4 161.9l3.8-1 3.8-1.1M179.8 154.8l3.9-1.1 3.9-1.1M189 159.8l-.3-3.2 .2-3.3M188.9 153.3l-.8 0-.5-.7M190.8 161.1l-.4-1-1.4-.3M180.9 163l.6-.4-.1-.7M194 151.5l-2.5 1.1-2.6 .7M184.3 142.7l.3-1.1 1-.5M184.3 142.7l1 3.3 1.4 3.3 .9 3.3M96.6 100.5l.5 1 2.5 3 1.3 3.6M106.1 94.9l.7 .3 3.2 1M102 108l-.5 .5-.6-.4M102 108l1.5-3 2.3-2.6 2.1-2.6 2.4-2.4M110 96.2l-.3 .7 .6 .5M96.8 111.4l1.4-1.8 2.7-1.5M99.3 85.4l1.6 3 .2 3.4M114.5 88.2l-1.4 2.7-1.7 2.6-1.4 2.7M112.4 115l-2.6-1.8-2.9-1.2-2-2.7-2.9-1.3M112.4 115l.3 .5 0 .7M112.7 116.2l-2.3 2.5-3.2 1.1M156.4 122l-2.2 2.6-2.5 2.3M141.7 122l2.6 2.3 1.9 2.9M146.2 127.2l2.7-.8 2.8 .5M140.4 121.9l-2.5 2.6-2.8 2.3-.4 .4M135 132.4l.8 2.5 2.1 2.4M137.9 137.3l2.7-.4 2.8 .1M146.2 127.2l-1.2 3.2-.7 3.3-.9 3.3M169.2 162.2l.7-2.3 .3-2.3M179.8 154.8l-1.9-.7-1.3-1.7M170.2 157.6l3.5-2.2 2.9-3M157.4 121.9l2.4 3.7 2.9 3.4M167 118.5l2 3.4 .8 3.9M162.7 129l3.8-1.1 3.3-2.1M179.5 120.3l-.6-1.9-.5-1.9M179.5 120.3l-2.2 2.3-2 2.4-1.8 2.7M173.5 127.7l-1.8-1.1-1.9-.8M187.5 58.2l-3-2-2.9-2.2-3.4-1.2-2.9-2.3M187.5 58.2l1.1-3.3-.1-3.6 .2-3.5 1.3-3.4M177.7 45.8l3-.6 3.1 0 3-1.2 3.2 .3M190 44.4l-.4 .1 .4-.2M174.9 36.6l.9-.4 .2-.9M176 35.3l3.9-.4 3.7-1.1 3.8-.4M187.4 33.4l1.8 2.6 2.7 1.6M190 44.3l.7-3.4 1.2-3.3M193.9 36.3l-.8 1M194.6 37.6l-1.5-.3M204.6 43.4l-.1 .2 .8 1.5M205.3 45.1l3.3 .8 1.9 .2M141.9 12.8l-1.4-1.4M141.9 12.8l-2 3-1.5 3.4-2.5 2.7M135.9 21.9l-2.9 .3-2.3 .2M136.5 54.6l.2-2.7-.7-2.7M118.9 53.9l1.2-3 1.2-3.1M136 49.2l-3.7-.2-3.7-.5-3.6-.2-3.7-.5M116 30l0 2.1-.7 2.9M129 26.5l.1 .8 .3 3.3-.6 3.3M115.3 35l1.9 1.8 .8 2.5M118 39.3l.3 .5 .5-.1M128.8 33.9l-3.5 1.6-3 2.6-3.5 1.6M103.3 45.9l3.2-.8 2.6-2.1 3.2-.7 2.6-2.1 3.1-.9M103.3 45.9l-.4 .5M121.3 47.8l-1.1-4.1-1.4-4M143.3 32l-3.4 1.2-3.2 1.8-3.5 .8M143.3 32l1.8 3.1 1.3 3.3M146.4 38.4l-1.1 3.9-1.9 3.6M133.2 35.8l1.4 3 1 3.1 .7 3.1 .4 3.2M143.4 45.9l-3.3 1.4-3.4 .9M144.2 29.3l-.3 1.4-.6 1.3M144.2 29.3l-3.1-2.1-2.5-2.7-2.7-2.6M128.8 33.9l2.4 .4 2 1.5M149.2 49.7l-2.6-2.4-3.2-1.4M153.6 39.2l-3.7-.1-3.5-.7M136 49.2l0-.8 .7-.2M103.3 45.9l-.1-3.4-.8-3.2-.9-2.8M115.3 35l-3.2-.9-3.1-1.1-3.2-.8-.3 0M194.6 78.2l1.1 3.2 .4 3.5M194.6 78.2l2.9-1.2 2.6-1.7 3-1 2.9-1M208.2 79.2l-.6-2.9-1-2.8M208.2 79.2l-1.1 2-1.1 2.1M206 73.3l.4-.3 .2 .5M206 83.3l-3.4 .1-3.2 1.3-3.3 .2M192.3 98.1l2.8-2.5 3.4-1.5M200.3 108.1l-.5-.4-.2 .6M200.3 108.1l.9-.1 0-.9M201.2 107.1l-.6-3 .6-3.1-.2-3.1-.9-2.9M198.5 94.1l.6 .8 1 .1M185.2 88.7l3.5-1.1 3.6-.9 3.5-1.1M198.5 94.1l-2-4-.7-4.5M181.9 79.9l3-1.2 2.6-2 2.8-1.6M177.5 67l3.3-.4 3.2-1.1M184 65.5l1.5 3.6 2.6 2.9 2.2 3.1M187.5 58.2l0 .9 .7 .5M184 65.5l2.1-2.9 2.1-3M194.6 78.2l-.8-1.5-1.3-.9M195.8 85.6l0-.4 .3-.3M192.5 75.8l-1-.8-1.2 .1M137.8 164.5l.4 1.2 1.7 1.4M139.1 169.6l.8-2.5M139.9 167.1l4.2 1 4.3 .1M141.1 176.3l1.7 .1 4.4 .9M147.2 177.3l.7-3 .2-3 .3-3.1M165.3 165.4l-2.2-2.2-2.3-2-2.9-1.3M165.3 165.4l-2.4 3.1-1.5 3.7M161.4 172.2l-1.3 .4-1.3 0M151.7 160.5l3.1-.4 3.1-.2M151.7 160.5l-.8 3.3-1 3.1M158.8 172.6l-3.3-1.5-3-1.8-2.6-2.4M200.3 108.1l1.8 2.5 1.7 2.6 1.2 2.9M201.2 107.1l3.6-.9 3.6-.7M205 116.1l2.6 1 2.8 0M208.4 105.5l2.8 2.4 3 2.1M210.4 117.1l1.5-3.7 2.3-3.4M212.2 128.2l0-1.8-1.2-1.5M221.8 130.8l.6-1.1 .6-1.1M211 124.9l1-1.9-.1-2.2M223 128.6l-1.4-4-.9-4.3M211.9 120.8l4.4 0 4.4-.5M198.6 121.6l1.2 1.8 .1 2.1M198.6 121.6l-2.9-2.1-3.2-1.6M193.5 131l-3.2-1.8-3.1-2M193.5 131l2.9-1.9 3-1.7M199.4 127.4l.9-.7-.4-1.2M192.5 117.9l-2.5 3.2-3.2 2.4M186.8 123.5l.3 1.8 .1 1.9M205 116.1l-3.3 2.7-3.1 2.8M211 124.9l-3.7-.2-3.7 .5-3.7 .3M210.4 117.1l.4 2 1.1 1.7M192.4 116.9l-.4 .5 .5 .5M193.5 134.4l-.2-1.7 .2-1.7M182.2 133l1.3 4.2 2.1 3.8M182.2 133l2.8-2.7 2.2-3.1M204 134.3l-2.9-3.1-1.7-3.8M179.5 120.3l3.7 1.5 3.6 1.7M182.2 133l-3.8-.3-3.6-1.3M174.8 131.4l-1.3-1.6 0-2.1M133.1 104l-3.2 2.8-.6 .4M129.1 107.4l-2.7 1.8M133.1 104l0-3.6 1-3.5M127.8 93.7l3.3 1.4 3 1.8M127.8 93.7l-2.4 2.2-2.5 2-1.7 2.9-2.6 1.9M126.4 109.2l-2.8-1.4-2.5-1.6-2.2-2.1M118.6 102.7l.8 .6-.5 .8M137.8 110l-2.6-2.8-2.1-3.2M135.1 116.3l-1.1 0M129.3 116.3l-1.3 0M128 116.3l.1-.7-.8 0M127.3 115.6l.1-3.3-1-3.1M147 108l-2.3-2.8-1-3.7-2.4-2.8-2-3.1M139.3 95.6l-2.5 1-2.7 .3M125.6 88.4l.6 2.9 1.6 2.4M139.3 83.6l1.2 2.8 1.8 2.5 .6 3.1M139.3 95.6l1.8-1.8 1.8-1.8M110.3 97.4l3.1 1.3 2.5 2.2 2.7 1.8M112.4 115l2-2.5 .8-3.2 2.2-2.4 1.5-2.8M112.7 116.2l1 .2 .4 .9M114.1 117.3l3.3-.2 3.4 0 3.2-.8 3.3-.7M151.7 82.9l-2.4 2.9-2.8 2.6-1.8 3.3M151.7 82.9l2.7 1.6 2.5 2 2.4 2.1M144.7 91.7l3.1 2.1 3.3 1.6 3.5 1.3M159.3 88.6l-1.4 2.8-1.7 2.6-1.6 2.7M151.2 77l.5 2.9 0 3M142.9 92l.9 .3 .9-.6M162.2 87.7l-1.4 .6-1.5 .3M154.9 97.5l-.1-.4-.2-.4M136.2 151.3l-1.1-3.5M136.2 151.3l-.5 .2M148.9 149.8l1.1 4.4 0 4.5M148.9 149.8l-1.4-.3-.6-1.2M146.9 148.3l-3.3 1.5-3.6 .7-3.5 .9M150 158.7l-3.6 0-3.6-.2-3.5 .9M139.3 159.4l-1.8-3.8-1-4.2M137.9 137.3l-2.2 3.3-.7 .7M145.9 139.1l-1.5-.7-1-1.4M145.9 139.1l0 3.1 .8 3 .2 3.1M136.2 151.3l.3-.2 0 .3M151.7 160.5l-.4-1.3-1.3-.5M137.6 163.5l1.4-1.7 .3-2.4M149.9 166.9l-.6 .9-.9 .4M128 116.3l-.4 3.1M151.7 126.9l2.4 3 1.4 3.7M162.7 129l-1 1.1 .3 1.4M162 131.5l-3.4 .5-3.1 1.6M145.9 139.1l4.2-.2 3.9-1.4M154 137.5l.9-1.9 .6-2M167 164.9l-.7 .9-1-.4M161.4 172.2l1.4 3M153.1 187.3l-2.7 3.2M155 182.1l-.4-.9-2.1-2.1M152.5 179.1l-2.5-.6-2.4-.6M147.6 177.9l-1.1 3.8-1.6 3.8M144.9 185.5l1.9 2.7 2.4 2.1M149.2 190.3l.6 .2 .6 0M151.1 191.2l-.7-.7M158.8 172.6l-1.9 2.4-2.4 1.8-2 2.3M147.2 177.3l.2 .3 .2 .3M144 185.8l.9-.3M146.8 191.7l2.4-1.4M175.8 23.5l.5 2.4-.3 3.2 .3 3.1-.3 3.1M187.4 33.4l.3-2.6M191.9 37.6l.5-.4 .7 .1M220.5 77.5l-1.6-3.8-.5-4.1M220.5 77.5l2.9 1.3 2.5 1.8M234 73.7l-2.6-1.7-1.1-3-3-1.3-1.7-2.6M225.6 65.1l-3.9 1.7-3.3 2.8M215.9 80.7l-3.9-.3-3.8-1.2M215.9 80.7l1.9-2.2 2.7-1M206.6 73.5l2.8-2 3-1.5 2.8-1.8M218.4 69.6l-1.4-1.1-1.8-.3M209.8 98.5l3.1 .3 3.1 0 3.1 .4M209.8 98.5l-1.3-1.9-1.4-2M207.1 94.6l1.2-2.6 1.9-2.1M210.2 89.9l2-.9 2.2-.1M214.4 88.9l3.5 1.7 3.4 1.9M219.1 99.2l1-3.3 1.2-3.3M221.3 92.5l-.2 .1 .2 0M208.4 105.5l.9-3.5 .5-3.5M200.1 95l3.5 0 3.5-.4M206 83.3l2.7 2.9 1.5 3.7M215.9 80.7l-.3 4.1-1.2 4.1M226.8 84.1l-1.7 2.9-2 2.7-1.8 2.8M233.1 97.8l-3.2-.7-2.7-2-2.9-1.3-3-1.2M199.5 63.6l3.1-.6 2.9-1.4 2.6-.2M199.5 63.6l-.3 .4 0-.5M199.2 63.5l-1.5-1.6-1.4-1.7M196.3 60.2l1.5-3 1.1-3.2 1.3-3M200.2 51l1.6-.3 1.3-1M203.1 49.7l2.4 1.8 1.7 2.7 1 .8M206 73.3l-2.4-3.1-2.5-3-1.6-3.6M215.2 68.2l-2.2-3.8-.2-.6M192.5 75.8l1.2-3.3 2.7-2.5 1.3-3.3 1.5-3.2M188.2 59.6l4 .1 4.1 .5M190 44.4l2.3 2.2 2.8 1.1 2.2 2.2 2.9 1.1M205.3 45.1l-.6 2.5-1.6 2.1M223 128.6l2.7-1.7 3-1.2M233 127.9l-2-.6-2.3-1.6M228.7 125.7l.7-3.3-.1-3.5M229.3 118.9l4.1-.3M237.8 105.4l-.9 2.9-1.8 2.5M235.1 110.8l.3 .4M220.5 103.8l-2.6 3.3-3.1 2.7M220.5 103.8l2.9 .6 2.6 1.1M214.8 109.8l2.7 2.6 3 2.2 3 2.1M226 105.5l.4 2.6 1.3 2.3M227.7 110.4l-.4 3-1.5 2.6M223.5 116.7l1.2-.3 1.1-.4M214.2 110l.2-.5 .4 .3M219.1 99.2l1.1 2.2 .3 2.4M232.9 99.8l-3.1 3.2-3.8 2.5M220.7 120.3l1.5-1.7 1.3-1.9M235.1 110.8l-3.6-.6-3.8 .2M229.3 118.9l-1.4-1.8-2.1-1.1M114.1 117.3l.8 3 1.5 2.5M148.9 149.8l4-1 3.9-1.2M154 137.5l1.2 2.3 2.2 1.4M157.4 141.2l-.4 3.2-.2 3.2M157.9 159.9l1.1-3 .7-3.2 1.6-2.9M156.8 147.6l2.5 1.2 2 2M170.2 157.6l-2.7-2-1.5-2.9-2.3-2.3M161.3 150.8l1.3 .3 1.1-.7M225.6 65.1l.2-2M151.5 .4l.4 .6 .2 1M141.9 12.8l3.2 .8 3.2-.2M148.3 13.4l.4-3.1 1.5-2.6 1.5-2.7 .4-3M168.3 12.9l-1.8-.3-3.1 .4M163.4 13l-1.4-2.8-1.3-2.9-.4-2M152.1 2l4 .9 1.8 .6M166.2 137.8l-.2 .9-.7 .6M166.2 137.8l2.7-1.4 3.1-.1M165.3 139.3l.4 3.9 1.1 3.7M172 136.3l1.2 3.3 2.8 2.4 1.3 3.4M166.8 146.9l3.1 0 3.1-.3 3.1 .7M177.3 145.4l-.6 1-.6 .9M162 131.5l2.2 3.1 2 3.2M157.4 141.2l4.1-.4 3.8-1.5M174.8 131.4l-1.3 2.5-1.5 2.4M163.7 150.4l1.5-1.8 1.6-1.7M184.3 142.7l-3.4 1.7-3.6 1M176.6 152.4l-.1-2.6-.4-2.5M148.8 14l3.8 1 4 0 3.9 .4M148.8 14l.6 3 .1 3-.2 3-.1 3M160.5 15.4l.5 3.4-.4 3.4 0 3.4-.2 3.4M149.2 26l3.8 .8 3.5 1.6 3.9 .7M160.4 29.1l-.4-.3 .4 .2M148.3 13.4l0 .5 .5 .1M163.4 13l-1.9 .7-1 1.7M144.2 29.3l2.4-1.9 2.6-1.4M171.9 22.6l-1 .4-2.7 1.4-2.2 2.2-3.2 .4-2.4 2M160.6 29.9l.2-.5-.4-.3" fill="none" stroke="#1a1a1a" stroke-width="0.7"/>
</g>
<polygon points="146,2 153,0 160,5 168,12 170,18 172,23 179,24 184,26 186,30 192,33 196,40 203,43 210,45 212,49 209,54 206,58 209,63 219,65 226,63 232,67 239,66 250,69 257,72 258,81 253,83 250,88 251,91 241,102 238,108 234,113 233,123 233,132 237,140 229,150 225,145 220,139 206,137 201,139 197,148 196,155 190,162 183,166 176,169 169,168 172,171 171,174 163,175 160,178 156,180 154,184 152,191 147,192 145,189 141,176 138,166 135,147 135,130 134,120 134,116 133,112 131,108 129,107 130,113 129,118 125,122 118,123 111,122 104,118 99,114 94,108 89,102 99,100 103,99 106,95 108,93 107,92 104,92 92,91 84,87 83,83 82,81 86,79 88,76 100,76 108,75 115,75 115,71 113,64 110,58 105,54 107,50 99,43 100,38 104,34 108,29 112,28 116,30 128,29 130,24 133,17 140,13 142,7" fill="none" stroke="#111" stroke-width="0.9"/>
<polygon points="177,93 180,93 186,91 190,87.5 192,88 193,95 197,97 190.6,100 186,101.5 182,103 178,103 177.5,100 178,97" fill="#fff" stroke="#111" stroke-width="0.7"/>
<circle cx="67" cy="65.5" r="1.1" fill="#000"/>
<circle cx="190" cy="19.9" r="1.1" fill="#000"/>
<circle cx="285.6" cy="27.5" r="1.1" fill="#000"/>
<circle cx="234.2" cy="42.2" r="1.1" fill="#000"/>
<circle cx="227.3" cy="48" r="1.1" fill="#000"/>
<circle cx="214" cy="119.2" r="1.1" fill="#000"/>
<circle cx="207.5" cy="168.7" r="1.1" fill="#000"/>
<circle cx="328.7" cy="93.6" r="1.1" fill="#000"/>
<circle cx="148.3" cy="153.7" r="1.1" fill="#000"/>
<circle cx="173.6" cy="43.2" r="1.1" fill="#000"/>
<circle cx="136" cy="147" r="1.1" fill="#000"/>
<text x="55" y="31" font-size="8.2" font-weight="bold" font-style="normal" fill="#111" font-family="Liberation Sans, sans-serif" textLength="30.4" lengthAdjust="spacingAndGlyphs">Pakistan</text>
<text x="71" y="68.6" font-size="8.0" font-weight="normal" font-style="normal" fill="#111" font-family="Liberation Sans, sans-serif" textLength="26.2" lengthAdjust="spacingAndGlyphs">Karachi</text>
<text x="193" y="20.8" font-size="5.6" font-weight="normal" font-style="normal" fill="#111" font-family="Liberation Sans, sans-serif" textLength="25" lengthAdjust="spacingAndGlyphs">New Delhi</text>
<text x="250.4" y="22.3" font-size="7.6" font-weight="bold" font-style="normal" fill="#111" font-family="Liberation Sans, sans-serif" textLength="19.6" lengthAdjust="spacingAndGlyphs">Nepal</text>
<text x="289.6" y="28.5" font-size="7.6" font-weight="normal" font-style="normal" fill="#111" font-family="Liberation Sans, sans-serif" textLength="38" lengthAdjust="spacingAndGlyphs">Kathmandu</text>
<text x="236.5" y="43.6" font-size="7.9" font-weight="normal" font-style="normal" fill="#111" font-family="Liberation Sans, sans-serif" textLength="31.2" lengthAdjust="spacingAndGlyphs">Lucknow</text>
<text x="229.6" y="61.6" font-size="7.9" font-weight="normal" font-style="normal" fill="#111" font-family="Liberation Sans, sans-serif" textLength="25.4" lengthAdjust="spacingAndGlyphs">Kanpur</text>
<text x="323" y="61.6" font-size="7.6" font-weight="bold" font-style="normal" fill="#111" font-family="Liberation Sans, sans-serif" textLength="15" lengthAdjust="spacingAndGlyphs">Ban</text>
<text x="333.4" y="30.5" font-size="7.6" font-weight="bold" font-style="normal" fill="#111" font-family="Liberation Sans, sans-serif">B</text>
<text x="215" y="88.7" font-size="7.6" font-weight="bold" font-style="normal" fill="#111" font-family="Liberation Sans, sans-serif" textLength="15.8" lengthAdjust="spacingAndGlyphs">India</text>
<text x="217.7" y="119.7" font-size="7.9" font-weight="normal" font-style="normal" fill="#111" font-family="Liberation Sans, sans-serif" textLength="25.3" lengthAdjust="spacingAndGlyphs">Nagpur</text>
<text x="211" y="170.3" font-size="8.1" font-weight="normal" font-style="normal" fill="#111" font-family="Liberation Sans, sans-serif" textLength="40.3" lengthAdjust="spacingAndGlyphs">Hyderabad</text>
<text x="295.8" y="100.2" font-size="7.9" font-weight="normal" font-style="normal" fill="#111" font-family="Liberation Sans, sans-serif" textLength="26.5" lengthAdjust="spacingAndGlyphs">Kolkata</text>
<text x="139.5" y="96.1" font-size="7.9" font-weight="normal" font-style="normal" fill="#222" font-family="Liberation Sans, sans-serif" textLength="41.2" lengthAdjust="spacingAndGlyphs">Ahmedabad</text>
<text x="139.5" y="116.2" font-size="7.6" font-weight="normal" font-style="normal" fill="#222" font-family="Liberation Sans, sans-serif" textLength="15.8" lengthAdjust="spacingAndGlyphs">Surat</text>
<text x="137.8" y="149.5" font-size="7.9" font-weight="normal" font-style="normal" fill="#222" font-family="Liberation Sans, sans-serif" textLength="29.8" lengthAdjust="spacingAndGlyphs">Mumbai</text>
<text x="151.8" y="162.6" font-size="7.9" font-weight="normal" font-style="normal" fill="#222" font-family="Liberation Sans, sans-serif" textLength="18.4" lengthAdjust="spacingAndGlyphs">Pune</text>
<text x="177" y="44.8" font-size="7.6" font-weight="normal" font-style="normal" fill="#222" font-family="Liberation Sans, sans-serif" textLength="18.8" lengthAdjust="spacingAndGlyphs">Jaipur</text>
<text x="78" y="99.6" font-size="5.6" font-weight="normal" font-style="italic" fill="#ddd" font-family="Liberation Sans, sans-serif" textLength="37" lengthAdjust="spacingAndGlyphs">Gulf of Kutch</text>
<text x="10.8" y="125.2" font-size="7.2" font-weight="normal" font-style="normal" fill="#fff" font-family="Liberation Sans, sans-serif">rate</text>
<rect x="3.1" y="139.8" width="9" height="8.5" fill="#d7191c"/>
<rect x="3.1" y="149.1" width="9" height="8.9" fill="#fdae61"/>
<rect x="3.1" y="158.8" width="9" height="9.0" fill="#ffffbf"/>
<rect x="3.1" y="168.8" width="9" height="8.6" fill="#abdda4"/>
<rect x="3.1" y="178.3" width="9" height="8.7" fill="#2b83ba"/>
<text x="22.6" y="141.9" text-anchor="middle" font-size="7.8" fill="#fff" font-family="Liberation Sans, sans-serif">0.8</text>
<text x="22.6" y="151.6" text-anchor="middle" font-size="7.8" fill="#fff" font-family="Liberation Sans, sans-serif">0.5</text>
<text x="22.6" y="161.2" text-anchor="middle" font-size="7.8" fill="#fff" font-family="Liberation Sans, sans-serif">0.2</text>
<text x="22.6" y="170.8" text-anchor="middle" font-size="7.8" fill="#fff" font-family="Liberation Sans, sans-serif">0.1</text>
<text x="22.6" y="180.5" text-anchor="middle" font-size="7.8" fill="#fff" font-family="Liberation Sans, sans-serif">0.03</text>
<text x="22.6" y="189.6" text-anchor="middle" font-size="7.8" fill="#fff" font-family="Liberation Sans, sans-serif">0</text>
</g>
<path d="M0.5,192 V0.5" fill="none" stroke="#9a9a9a" stroke-width="1"/>
<path d="M0.5,0.5 H337.5" fill="none" stroke="#a0a0a0" stroke-width="1"/>
<path d="M337.5,0.5 V191.5 H0.5" fill="none" stroke="#c8c8c8" stroke-width="1"/>
</g>
<g transform="translate(0,493)">
<clipPath id="clipe"><rect x="0" y="0" width="338" height="193"/></clipPath>
<clipPath id="re"><polygon points="132,5.8 137.5,2.6 143,2 153,5 153,17 160,16.6 167,19 169,28 173,33 178,37 179,42 181,44 183,40 188,39 194,40 195,47 199,53 202,60 206,63 215,65 225,67 230,72 230.3,77 229,82 226,88 223.3,94.1 219.8,97.6 218,104.6 218.9,111.5 221.5,116.8 225,118.5 228.5,116.8 227.7,111.5 223.3,106.3 221.5,101.1 225,97.6 228.5,95.8 232,94.3 246,94 254,91 259,95 272,95 285,99 295,102 298,115 295,117 282,118 278,125 287,130 287,135 282,141 279,145 273,148 268,156 263,165 258,166 247,164 231,165 218,166 205,168 200,162.5 195,165 189,170 181.5,172 174,165 163,161 155,157 150,160 142,166 139,174 133,179.5 131.5,194 30,194 30,140 38,126 41,122 44,118 46,114 47,111 50.5,109.9 58,111 67.3,112.1 73,111 80.5,109.2 89.2,108.5 91,105.5 89,99 86,89.5 80,83 76,75 68,69 65.5,64.2 66.3,61.3 69.2,52.6 76.5,43.8 82.3,40.1 85.3,40.9 89.6,45.3 98.4,43.8 107,43 108.6,39.4 113,35 114.5,29.2 118.8,24.8 126,22 130.5,14.6 133.4,5.8"/></clipPath>
<g clip-path="url(#clipe)">
<rect x="0" y="0" width="338" height="193" fill="#fff"/>
<path d="M83.4 90.3l2.4-1.8 2.3-2.1 3.1-.7 2.2-2.2 3.2-.4 2.4-1.9 2.9-1.1 2.3-2 2.5-1.6 2.6-1.6 2.5-1.8M83.4 90.3l.2-3.2-1.8-2.7 .2-3.2-1.4-2.8-.3-3.1 0-3.1-1.9-2.7 1-3.3-1.3-2.9 0-3.1-1.1-2.9 0-3.1-1.4-2.8M111.8 73.1l-.7-3.2 .3-3.4-1-3.2 .3-3.4-.5-3.3 .2-3.3-.1-3.4-.7-3.3-.3-3.3M75.6 51.4l2.8-1.7 2.3-2.5 3.1-1.2 2.5-2.1 2.6-2.1 3-1.3M91.9 40.5l3.3-.5 3.2 .8 3.2 .1 3.2 1 3.2 .1M108 42l.7 .6 .6 .7M129.2 83.2l-3.2-1.2-2.4-2.5-3.2-1.2-3.1-1.4-3-1.4-2.5-2.4M129.2 83.2l2.6-1.8 1.7-2.7 2.5-2 2-2.5 1.7-2.7 3.4-1.1 1.6-2.8M144.7 67.6l-1-3-1.1-2.8-.9-3-.7-3-2-2.6-.9-2.9-.6-3M137.5 47.3l-3.2-.2-3-1.5-3.3 .9-3.1-.8-3.1-.8-3.2 .3-3.1-1-3.1-.3-3.1-.6M57.8 48.9l-2.3-2.5-2.4-2.3-1.6-3.2-2.1-2.6-2.8-2.1M57.8 48.9l3.6 0 3.6 .5 3.4 1.3 3.7-.4 3.5 1.1M46.6 36.2l.6-3.1 2.1-2.5 .3-3.2 1.3-2.8 .4-3.1 1.1-2.9 .7-3.1 1.2-2.8 1.6-2.8M77.9 9.6l-3.3-.5-2.8-2-3.4-.3-2.9-1.7M77.9 9.6l1.2 2.8 1.7 2.6 .7 3.1 1.4 2.8 2.2 2.4 .1 3.3 2.4 2.3 .3 3.3 1 2.9 2.4 2.3 .6 3.1M55.9 9.9l2.9-2.1 3.1-1.9 3.6-.8M57.8 48.9l-1.1 2.8-1 2.9-1.6 2.5-1 2.9-1.4 2.6-2.1 2.4-1.4 2.6-1.3 2.7-.8 3-1.7 2.5-1.2 2.7-.5 3.1M42.7 81.6l2.9 1.2 3 1.1 2.8 1.4 2.6 2 3.1 .8 2.5 2 2.9 1.4 2.9 1.3 3.1 .8 2.6 1.8M83.4 90.3l-.7 .8-.2 1M82.5 92.1l-3.6 1.6-3.7 1.4-4.1 .3M10.8 193l2.8-1 2.9-1.4 2.5-2 2.6-2 2.8-1.4M24.4 185.2l.8 3 1.4 2.7 1.1 2.1M129.7 193l-2.3-.4-2.4 .4M123.7 193l-2.7-1.5-3.2-.3-3.2-.1-3.2-.1-3.3 .4-3.1-1.1-3.3 0-3.1-.7M97.3 193l.3-.4 1-3M96.3 167.5l3.1-.4 3.2-.1 3-1.1 3.1-.5 2.8-1.7 3.2 .1 2.9-1.6 3.2-.2 3.3 .4 2.7-2.2 3.2 .1M96.3 167.5l-.9 1.5-1.4 1.2M134.6 193l1.9-1.8 1.7-3.6 2.5-2.9M94 170.2l1.6 3.1-.7 3.6 1.6 3 .8 3.2 .6 3.3 .7 3.2M140.7 184.7l-1-3.2-1.5-3-1.6-2.9-.6-3.4-2-2.7-1.6-3-.5-3.4-1.9-2.8M144.7 67.6l3.3 .3 3.3 1.4 3.5-.8 3.4 0 3.2 1.6 3.4-.1 3.3 .6M137.5 47.3l2-2.7 3.1-1.4 1.5-3.2 3.4-1.2 1.9-2.8M149.4 36l3 .9 2.9 1.2 3.1 .9 3.1 .4 2.6 2.2 3.2 .5 2.9 1.3 3 .8M168.1 70.6l1.4-2.7 .9-2.9 .6-3 2-2.5-.1-3.3 1.9-2.5 1-2.9M175.8 50.8l-.5-3.6-2.1-3M0 127.7l2-1.6 2.5-1.7 2.6-1.5 3-.8M0 95l.6 .4 1.9 2.5 1.8 2.6 2.8 1.5 2.2 2.1 2.5 1.9 1.5 2.7 2.1 2.2M10.1 122.1l1.2-2.9 1.8-2.5 .7-3.1 1.6-2.7M42.7 81.6l-1.5-.1-1.3 .8M39.9 82.3l-1.2 2.9-2.4 2.2-1.4 2.8-1.7 2.6-1.3 2.8-1.8 2.6-2.9 1.8-.6 3.4-1.5 2.7-2.3 2.2M71.1 95.4l-2.1 2.6-1.3 2.9-.5 3.3-1.7 2.7-1.1 3-1.3 3-2.4 2.4-.2 3.4-2.6 2.3-.3 3.4-1.6 2.8M56 127.2l-2.4-2.2-3.4-.5-2.8-1.6-2.6-1.8-2.3-2.3-3-1.3-3.3-.6-2.8-1.5-2.2-2.6-2.7-1.6-3.1-1.1-2.6-1.8M15.3 62.4l-1.6 .9-1.7-.9M15.3 62.4l2.4-2 1.3-2.8 2.5-1.8 2.2-2.1 1-3.1 2.1-2.2 2.5-1.8 1.2-2.9 2-2.3 2.3-1.9 2-2.3M12 62.4l-2.2-2.2-.3-3.4-2.6-2-.8-3.1-.9-3-2.6-2.1-.5-3.1-1.4-2.8-.7-.7M36.8 37.2l-2.7-1.9-2.3-2.3-3-1.3-2.8-1.7-2-2.9-3-1.3-2.9-1.4-2.6-2-2.3-2.3-2.9-1.6M0 34.7l2.3-1.5 .8-3.3 2-2.6 .6-3.4 1.6-2.8 2.1-2.5M9.4 18.6l.4-.7 .5 .6M39.9 82.3l-2.9-1.5-1.9-2.7-2.4-2-2.2-2.3-3.4-.8-1.5-3.3-2.5-1.8-2.4-2.1-2.7-1.6-2.7-1.8M0 73l.3-.3 2.3-2.1 2.5-1.8 1.6-3 3.2-1 2.1-2.4M15.4 110.9l3.6-1.7 3.8-.9M46.6 36.2l-3.2 1.1-3.3 .1-3.3-.2M55.9 9.9l-2.7-1.5-3-1-2.4-2-2.6-1.8-3.1-.7-2.4-2.2-1.9-.7M28.3 0l-1 1.2-2.5 1.8-2.1 2.2-2.1 2.2-1.6 2.6-2.7 1.7-1.3 2.9-2.4 1.9-2.3 2M0 11.6l2.5 .9 2.5 1.9 1.6 2.8 2.8 1.4M149.4 36l-.4-3.2-1.2-3.1-.7-3.1 .9-3.5-1-3.1-.9-3.1 .2-3.3-.9-3.2M108 42l2-2.6-.1-3.3 2-2.5 1-3 0-3.3 2.7-2.2-.3-3.4 2.3-2.5 1-2.9 .8-3M145.4 10.4l-3.1 1-3.4-.6-3.2 1.2-3.3-.4-3.2 1.1-3.3-.5-3.2 1.3-3.3-.2M77.9 9.6l2.7-1.7 3-1 2.6-1.8 3.2-.7 2.7-1.6 2.7-1.6 2.3-1.2M108.9 0l.3 1 3.2 1.6 .8 3.4 2.9 1.8 .8 3.4 2.5 2.1M94.3 132.8l-.4-3.2 .6-3.1 .6-3.1 .8-3.1-1.5-3.2 1.1-3-.7-3.2 1-3.1M94.3 132.8l1.9 1 .9 1.9M97.1 135.7l3 .4 3-.2 3 .4 3 .4 3.1 0 3-.2 3-.5 3 .4 3 .1 3-.3M95.8 107.8l3.1-.7 3.1 1 3.1 .2 3.1-.3 3.2-.1 3.1 0 3.1 0 3.1-.5 3.1-1 3.1 .3M126.9 106.7l-.7 3.3 .5 3.2-.2 3.3 .7 3.3 .3 3.3-1.2 3.2 .8 3.3-.5 3.3 .6 3.3M96.3 167.5l.3-3.2-.6-3.2 0-3.2 .5-3.1-.1-3.2-.3-3.2 .3-3.2-.2-3.2 1.3-3.1-.4-3.2M134.8 144.4l-1.6 3-.4 3.3-.2 3.4-1.7 3-.9 3.2M134.8 144.4l-2-3.3-2.9-2.3-2.7-2.6M132.9 99.9l-.8-3.3-.5-3.4-.5-3.4-1.6-3.2-.3-3.4M132.9 99.9l-1.8 2.4-2.7 1.7-1.5 2.7M82.5 92.1l1.7 3 3.1 1.9 1.6 3.2 1.8 2.9 2.6 2.3 2.5 2.4M199.4 175.2l.4 3 1.1 3-.6 3.2 1.5 2.9-.2 3.1 .9 2.6M199.4 175.2l-3.2 .1-2.9-.8-3-.8-2.8-1.6-2.9-1-3.2 .1-3-.6-2.9-1.1M164.7 183.2l2.6-2.4 1.3-3.4 2.3-2.6 2.6-2.4 2-2.9M164.7 183.2l1 2.9 1.4 2.7 1.9 2.5 0 1.7M233.9 178.6l-1 3 .3 3.2-1.4 2.9-.6 3-.1 2.3M233.9 178.6l-1.9-2.6-3.1-1.2-2.5-1.9-2.2-2.4-2.2-2.3-2.8-1.5-2.5-1.9M216.7 164.8l-2.6 2.3-2.8 1.9-3.5 .6-2.6 2.2-3.3 1-2.5 2.4M140.7 184.7l3-.6 3 .8 3-.6 3-.7 3 .8 3-.8 3-.7 3 .3M132.9 99.9l3.2 .7 3.4 0 3 2.1 3.2 .7 3.4-.2M168.1 70.6l1.7 2.6 1.4 2.7 0 3.4 1.9 2.5 1 2.9M174.1 84.7l-2.9 1.3-1.9 2.8-3 1-1.9 2.7-2.3 2.1-2.5 1.9-2.9 1.4-2.4 1.9-2.5 1.9-2.7 1.5M174.7 163.9l-2.6-1.7-1.7-2.9-3.2-1.2-2.5-2-1.8-2.8-2.4-2-2.9-1.6-1.9-2.6-2.4-2.2-3-1.2-2.4-2.2M174.7 163.9l1-3 2.6-2.1 .2-3.5 2.2-2.3 1.5-2.8 1.5-2.7 1.1-3 1.3-2.8 1.7-2.7M187.8 139l-2.4-2.1-.9-3.3-2.1-2.4-1.9-2.5-2.8-1.8-1.9-2.5M175.8 124.4l-3-.9-3 1.8-3.1-1-3 .4-3 .1M147.9 141.5l2.3-2 .8-3.1 2.1-2.3 2.5-1.8 .8-3.2 3-1.5 1.3-2.8M134.8 144.4l3.4 0 3.3-.6 3.2-1.3 3.2-1M175.5 169.5l-.1-2.8-.7-2.8M149.1 103.2l1.1 2.9 1.9 2.5 1.6 2.6 1.6 2.6 .6 3.1 2.3 2.3 1.3 2.7 1.2 2.9M335.1 0l.2 .6 2 2.3 .7 .4M278.6 0l1.1 3.7 3 2.2 2.5 2.6M305.5 0l-.7 2.5-1.4 2.9M285.2 8.5l3.2 .3 2.8-1.7 3.2 .5 2.9-1.1 3.2 .3 2.9-1.4M338 15.4l-1 .8M337 16.2l-3.3-.1-3.2 1-3.2 1.1-3.5-1.1-3.2 .9-3.1 1.6-3.4-.4M314.1 19.2l-1.5-3.2-3-2.2-2.5-2.4-1.9-3-1.8-3M285.2 8.5l-1.4 2.8 .4 3.3-2 2.6-1.1 2.9 .6 3.4-1 2.9-1.4 2.8-.7 3-.7 3-1.2 2.9M303.4 42l-3.2-.9-3.2 .9-3.2 .4-3.2-1-3.3 .9-3.2-.3-3.2-.7M303.4 42l1-3 1.1-3 1.8-2.6 .9-3.1 1.7-2.6 2.3-2.4 .6-3.2 1.3-2.9M276.7 38.1l2.2 1.5 2 1.7M305.5 88.4l3.2 .2 3.2-.4 3-1.4 3.2 .4 3.2-.6 3.1-.7 3.2 .3 3.2 .1 3.1-.8M305.5 88.4l-.7-2.7-1-2.5M303.8 83.2l1.3-3 .2-3.2 2-2.7 1.3-3-.4-3.5 2.4-2.5-.1-3.5 1.3-2.9 1.3-2.9 .7-3.1M333.9 85.5l1.2-2.8-.1-3.3 1.1-2.9 1.8-2.6 .1-.8M313.8 52.9l3.2-.5 3.3-.1 3.1 1.5 3.3-.2 3.2-.4 3.2-.3 3.2 .8 1.7-.1M304 93.2l-2.7 1.7-3.1 .4-2.8 1.4-3.1 .5-2.5 2.1-2.9 1.1-3.4-.2-2.7 1.4-2.7 1.8-3 .7-3.2 .2-2.6 1.8M304 93.2l1-2.3 .5-2.5M268.8 105.7l.6-.3-.1 .7M268.8 105.7l0-3.3-1.9-2.8 .3-3.4-.7-3.2-2.3-2.7-.2-3.3-.2-3.2-1.1-3.1M279.7 69.7l-3.1 1.5-2.9 1.6-2.5 2.3-2.6 2.3-2.8 1.9-3.1 1.4M279.7 69.7l2.5 1.9 3.2 .4 2 2.7 2.7 1.5 2.6 1.6 3 1.1 2.3 2 2.8 1.3 3 1M303.4 42l1.7 2.6 3.1 1.2 1.1 3 2.7 1.6 1.8 2.5M280.9 41.3l-.8 3.1 1.3 3.2-.8 3.2 .2 3.1-.1 3.2-.4 3.1-.9 3.2-.2 3.1 .5 3.2M338 90.8l-.4-.3-2.1-2.3-1.6-2.7M337 16.2l.7 3.1-.1 3.1-.4 3.2 .8 2.7M28.7 154l3-1.2 2-2.7 2.7-1.6 2.8-1.4 2.8-1.4 3.2-.7 2.5-1.9 2.4-2.1 3.1-1 2.8-1.3 2.3-2.4M28.7 154l-.9 3.3-1.1 3.3-1.9 3-.5 3.4M24.3 167l1.7 2.8 .6 3.3 1.2 3M27.8 176.1l3.2 1 3.5-.9 3.1 1.3 3.2 1 3.5-.7 3.2 1 3.2 .9 3.3-.2 3.2 1.1M70.7 166.7l-1.7 2.8-2.4 2.2-2.8 1.8-1.5 3-3.3 1.3-1.8 2.8M70.7 166.7l-1.6-2.7-.6-3.2-1.7-2.7-.3-3.2-1.2-2.9-.5-3.2-2.3-2.5-.2-3.3-1.1-2.9-1.5-2.8M59.7 137.3l-.7-.5-.7-.5M10.1 122.1l1.3 2.8 1.6 2.7 2.1 2.3 1.2 2.8 1.8 2.6 1.7 2.5 .9 3.1 1.3 2.8 2 2.4 1.7 2.5 2.2 2.3 .8 3.1M56 127.2l1.4 2.8-.1 3.3 1 3M0 163.1l2.9 .1 3.1 .6 3.1 0 2.8 1.8 3.4-1 3 .6 2.9 1.4 3.1 .4M24.4 185.2l1.1-3 2-2.7 .3-3.4M60.9 193l-.1-.4 .1-3.3-1.5-2.8-1.4-2.9-.8-3M94 170.2l-3.3-.3-3.3-1-3.4 .3-3.4-.3-3.2-1.3-3.2-1-3.5 .1M94.3 132.8l-3 1.2-3.3-.7-3.1 1.2-3.1 .6-3.2-.5-3.1 1.3-3.3-.8-3 1.4-3.2 0-3.2-.4-3.1 1.2M152.9 2.2l0-2.2M152.9 2.2l3.2 .5 3.1 .6 3 1.1 2.9 1.5 3.3 .2 3.1 .7 3.1 .9 2.9 1.6 2.9 1.2 3.4-.1 3 1M196.3 0l-1 1.4-1.2 3.1-2 2.7-1.6 2.8M186.8 11.4l1.9-.5 1.8-.9M145.4 10.4l2.2-3.1 2.7-2.5 2.6-2.6M173.2 44.2l.7-3.2 1.6-2.8 2.1-2.6 .4-3.4 1.4-2.9 .5-3.2 1.6-2.9 1.4-2.9 1.9-2.7 .6-3.3 1.4-2.9M236.7 0l0 .6M236.7 .6l-2.3-.6M233.1 0l-2.5 .9-3.1 0-3-.6-3 .1-1.1-.4M216.7 0l-1.3 .5-2.5-.5M65.5 5.1l-.5-3 .7-2.1M175.8 50.8l3.1 .1 3.1-.1 3.1 .9 3 1 3.3-1.1 2.9 1.8 3.2-.6 3.1 .4 3.1 .4 3 .9 3.1 .1 3.2 0M213 54.6l1.1-3 .8-3.2 1.4-2.8 2.2-2.6 .4-3.3M218.9 39.7l-2.5-2-2.2-2.3-1.8-2.6-1.7-2.7-2.4-2.1-2.3-2.2-2.3-2.2-2.1-2.4-2.5-2-2.6-1.8-1.6-2.8-1.7-2.8-2.7-1.8M216.7 164.8l.1-3.4 .6-3.4 .4-3.4-.3-3.4M187.8 139l3.2-.8 3.2 .6 3.2 .2 3.1-1.2 3.2-.3 3.2 0M217.5 151.2l-2.8-2.2-1.3-3.4-1.6-3.1-2.5-2.5-2.4-2.5M233.9 178.6l2.7-1.3 3.3 .5 2.7-1.4 3-.6 2.5-2 3-.4 3-.6 2.9-.8M244.8 140.7l-2.7 2-3.6-.3-2.5 2.5-3.3 .4-3 1.4-2.9 1.4-3.5 .1-3 1.1-2.8 1.9M244.8 140.7l3.1 2.3 3.9 .9M257 172l-.4-3.2-.2-3.2-.9-3.1-1.3-2.9 .5-3.4-.6-3.1-1.7-2.9 .4-3.3-1-3M268.8 105.7l-3.1 .3-3 1.1-3.2-.4-3.1 .5-2.9 1.3-2.9 1-3.2 .1-3 .8-3 .8-3.2-.2-3 .7M269.3 106.1l.7 3 .5 3.1 2.1 2.7-.8 3.4 2 2.7-.2 3.3 .7 3 1.6 2.8M235.2 111.7l1.7 2.6 0 3.2 1.7 2.7-.2 3.3 1.1 2.8 1.4 2.8 1.1 2.8 .1 3.2 2.4 2.4 .3 3.2M251.8 143.9l2.7-1.5 2.3-2.1 3.1-.9 2.5-1.7 2.8-1.4 2.5-1.9 3.2-.6 2.4-2 2.6-1.7M257 172l1.6 .9 1.7 .9M260.3 173.8l.5 3.1 1.1 2.8 1.4 2.8 1.9 2.5 1.4 2.7 .9 2.9 1.7 2.4M338 108.1l-.6 1-.8 3.4-3 2.2-.9 3.3M338 124.6l-1.6-1.4-1.4-2.9-2.3-2.3M304 93.2l.4 3 .9 2.9 1.4 2.8 1.1 2.8 1.6 2.6 1.2 2.8 .4 3.1 .6 3 1.6 2.7M332.7 118l-3.2 1-3.3-.3-3.3-.7-3.2 .9-3.3 .2-3.2-.2M269.2 37.4l-3 1.5-3 1.8-2.4 2.6-3.4 .8-2.8 2M269.2 37.4l-1.6-2.8-1.4-2.9-2.3-2.4-2.7-2-2-2.6-.9-3.3-2.5-2.2-1.8-2.7-2.1-2.4-1.1-3.2-2-2.5M254.6 46.1l-3-1-3.3-.3-3-1.3-3.1-1-3.1-.6-2.9-1.7-3.3-.3-2.9-1.4-3.2-.5-3.2-.6M223.6 37.4l1-3.1 1.7-2.8 1.4-2.9 2.7-2.1 1-3.1 1.1-3.1 1.5-2.8 2.5-2.3 1.7-2.7 1.5-2.9 .9-3.1M248.8 8.4l-4-1.6-4.2-.3M276.7 38.1l-3.8-.3-3.7-.4M262.7 80.7l-3-.8-2.4-1.9-2.7-1.5-2.4-2-3.1-.8M249.1 73.7l.1-3.2 .6-3 .7-3.1 1.5-2.9 .9-3-.8-3.3 1.7-2.9 .5-3.1 .3-3.1M263.9 0l-2 .4-2.1 2.6-2.6 1.6-3.2 .5-2.2 2.4-3 .9M236.7 .6l1.6 3.2 2.3 2.7M218.9 39.7l2.4-1 2.3-1.3M231.5 109.6l-3.2 1.4-3.5 .3-3.3 1-3.1 1.4-3.5 .2M231.5 109.6l.1-3.2 .5-3.2 .5-3.2 .7-3.1-.3-3.3-.7-3.2-.1-3.3 1.8-3-.2-3.3 0-3.2M214.9 113.9l-2.9-1.3-2.1-2.4-2-2.3-2.7-1.6-1.9-2.6-3.5-.6-2.3-2-2.3-2.1-2.2-2.3-2.3-1.9M215.7 66.5l2.2 2.1 3.1 .7 2.1 2.5 3.3 .4 2.6 1.7 2.5 1.5 2.3 2.2M215.7 66.5l-1.7 2.6-2.3 2.2-2.7 1.7-1.3 2.9-2.6 1.9-2 2.4-2.6 1.7-1.2 3.2-2 2.4-2.2 2.2-2.4 1.9-2.4 2.1M190.3 93.7l.7 .3-.3 .8M235.2 111.7l-1.6-1.6-2.1-.5M206.9 137.5l.6-3.1 .9-3 1.2-2.9 .7-3 .9-3 .9-3 1.5-2.7 1.3-2.9M249.1 73.7l-3.2 .3-2.8 1.7-3.2 .2-3.2 .3-2.9 1.4M175.8 124.4l1.5-2.7 1.9-2.4 .2-3.2 1.3-2.7 2.1-2.4 1.2-2.8 1.5-2.5 1-2.9 1-2.9 2.4-2.2 .8-2.9M213 54.6l.4 3 .4 3 1.6 2.8 .3 3.1M174.1 84.7l2.7 1.4 2.8 1.4 2.8 1.3 2.9 1.2 2.6 1.6 2.4 2.1M338 170.6l-.6 1.3 .1 3.2-1.8 2.9 0 3.2-.9 3M321.8 193l1.1-1.5-.2-3.2M334.8 184.2l-3 1-2.9 1.4-3.2 .7-3 1M289.3 193l.8-.6 1.7-2.7 2-2.4 2.7-1.6 1.2-3.2 2.6-1.8 2.3-2.1 1.8-2.5M322.7 188.3l-2.8-1.5-2.7-1.5-2.4-2.1-2.2-2.4-2.7-1.5-2.5-2-3-1.2M316.9 150l-2.9 1.4-2 2.3-1.7 2.7-2.7 1.5-1.7 2.8-3 1.1-2 2.4M316.9 150l-.2-3.1-.9-3-.3-3.2-2-2.8 0-3.2 .1-3.2-.9-3-1.4-2.9-.4-3.2M280.5 132.6l.8 3 .6 3.1 1 3 2.6 2.3 1 3-.1 3.3 1 3 1.4 2.7 1.1 3M280.5 132.6l3.2-.7 3-.9 2.7-2.1 3.6 .4 2.9-1.3 3-1 3.2-.8 3-.9 2.7-2.2 3.1-.7M289.9 159l2.7 1.5 2.8 1.2 3.1 .6 2.4 1.9M338 152.6l-2.9-.4-3.1 .6-3-.9-3.1 0-2.9-1.4-3.2 .6-2.9-1.1M304.4 176.1l-1.5-2.8 .5-3.3-2.1-2.7-.4-3.1M313.2 118.9l-.8 2-1.5 1.5M260.3 173.8l2.9-.9 2.3-2.3 3.2-.3 2.3-2.1 2.7-1.3 2.7-1.4 3.1-.4 2.6-1.6 2.4-1.9 2.8-1.1 2.6-1.5M275.9 130.1l2.3 1.4 2.3 1.1" fill="none" stroke="#cdcdcd" stroke-width="0.5"/>
<polyline points="88,0 85,14.6 75,33.6" fill="none" stroke="#bbb" stroke-width="0.6"/>
<polyline points="95.5,3 94,13 98.4,17.5 104,14.6 102.8,3" fill="none" stroke="#bbb" stroke-width="0.6"/>
<polyline points="160,0 164,10 175,20 181,26 183,40" fill="none" stroke="#bbb" stroke-width="0.6"/>
<polyline points="205,0 204,10 200,20 199,28 203,36 210,40" fill="none" stroke="#bbb" stroke-width="0.6"/>
<polyline points="230,0 236,10 250,18 262,26 280,30 300,30" fill="none" stroke="#bbb" stroke-width="0.6"/>
<polyline points="210,40 222,42 240,46 262,58 272,70 280,80 295,90 310,92" fill="none" stroke="#bbb" stroke-width="0.6"/>
<polyline points="230,72 245,75 262,72 280,72 300,80 315,90" fill="none" stroke="#bbb" stroke-width="0.6"/>
<polyline points="298,108 310,110 316,120 330,128 338,130" fill="none" stroke="#bbb" stroke-width="0.6"/>
<polyline points="287,130 300,138 312,150 318,160" fill="none" stroke="#bbb" stroke-width="0.6"/>
<polyline points="263,165 268,175 262,185 265,194" fill="none" stroke="#bbb" stroke-width="0.6"/>
<polyline points="205,168 212,178 215,194" fill="none" stroke="#bbb" stroke-width="0.6"/>
<polyline points="150,160 155,172 160,185 165,194" fill="none" stroke="#bbb" stroke-width="0.6"/>
<polyline points="181.5,172 182,183 186,194" fill="none" stroke="#bbb" stroke-width="0.6"/>
<polyline points="240,165 245,178 252,194" fill="none" stroke="#bbb" stroke-width="0.6"/>
<polyline points="290,150 300,162 298,176 305,194" fill="none" stroke="#bbb" stroke-width="0.6"/>
<polyline points="20,95 30,100 40,96" fill="none" stroke="#bbb" stroke-width="0.6"/>
<polyline points="18,110 30,104 40,100" fill="none" stroke="#bbb" stroke-width="0.6"/>
<polyline points="0,85 12,90 20,95" fill="none" stroke="#bbb" stroke-width="0.6"/>
<polyline points="50,90 60,85 70,80" fill="none" stroke="#bbb" stroke-width="0.6"/>
<polyline points="76.5,0 71.4,7.3 70.7,13 71.4,17.5 66.3,28.5 48.8,30 47,31" fill="none" stroke="#444" stroke-width="0.7"/>
<polyline points="66.3,28.5 72,30.7 75,38 78,42.3" fill="none" stroke="#444" stroke-width="0.7"/>
<polyline points="153,5 158,0" fill="none" stroke="#444" stroke-width="0.7"/>
<polyline points="214,2 216,8 224.2,14.1 232.3,20.2 242.3,24.2 252.4,26.2 260.5,30.2 268.5,36.3 278.6,40.3 288.7,44.4 298.8,48.4 308.9,49.4 316.9,47.4 321,48.4" fill="none" stroke="#444" stroke-width="0.7"/>
<polyline points="246.4,22.2 248.4,14.1 250.4,6 254.4,0" fill="none" stroke="#444" stroke-width="0.7"/>
<polyline points="286.7,0 296.8,6 306.9,12.1 312.9,16.1 319,20.2" fill="none" stroke="#444" stroke-width="0.7"/>
<polyline points="315,48.4 321,52.4 319,60.5 316.9,68.5 321,76.6 319,87 322,100 318,115 322,130 318,145 322,160 318,175 322,193" fill="none" stroke="#444" stroke-width="0.7"/>
<g clip-path="url(#re)">
<rect x="0" y="0" width="338" height="193" fill="#3288bd"/>
<polygon points="107.3,52.6 112.6,50.8 114.3,54.3 121.3,57.8 124.8,66.6 123,71.8 112.6,73 110.8,75.3 100.3,73.6 95,73.6 86.3,77.1 84.5,82.3 77.5,80.6 77.5,75.3" fill="#99d594"/>
<polygon points="60,60 65,52 70.5,45 77.5,40 82.8,41.2 86.3,42 89.8,45.5 98.5,43.8 107.3,43.8 112.6,45.5 112.6,52.6 107.3,54.3 109,59.6 112.6,66.6 112.6,71.8 100.3,71.8 95,73.6 86.3,77.1 79.3,75.3 75.8,71.8 72.3,70 60,70" fill="#e6f598"/>
<polygon points="133.6,12.3 140.6,7 142.3,10.5 144.1,19.3 137.1,19.3 133.6,15.8" fill="#99d594"/>
<polygon points="163.4,33.3 166.9,33.3 167.7,37.7 164.2,38.5" fill="#99d594"/>
<polygon points="151.1,70 156.4,64.8 159.9,66.6 161.6,73.6 166.9,77.1 172.1,85.8 175.6,91.1 180,94.6 180,100 147.6,100 147.6,91.1 149.3,78.8" fill="#99d594"/>
<polygon points="102,94.6 112.6,91.1 119.6,89.3 121.3,92.9 117.8,100 100.3,100" fill="#99d594"/>
<polygon points="177.6,42.2 185.2,40.3 194.7,42.2 198.5,51.7 204.2,59.3 208,63 215.5,63 225,65 228.8,66.8 230.7,72.5 226.9,80.1 221.2,83.9 211.7,83.9 202.3,82 198.5,83.9 192.8,87.7 187.1,91.5 179.5,89.6 177.6,83.9 189,74.4 192.8,70.6 190.9,65 187.1,55.5 181.4,47.9" fill="#99d594"/>
<polygon points="194.7,76.3 202.3,72.5 208,70.6 213.6,66.8 217.4,65 221.2,72.5 225,80.1 223.1,85.8 217.4,87.7 213.6,83.9 204.2,83.9 198.5,83.9 192.8,83.9" fill="#e6f598"/>
<polygon points="219.3,66.8 226.9,65 230.7,68.7 230.7,76.3 226.9,78.2 223.1,72.5" fill="#3288bd"/>
<polygon points="198.5,87.7 206.1,83.9 213.6,85.8 217.4,89.6 217.4,99.1 215.5,104.8 208,104.8 202.3,101 200.4,95.3" fill="#3288bd"/>
<polygon points="35,119.3 49.9,108 71.8,108 87.1,106 91.5,112.7 89.3,130.2 84.9,136 78.4,137 67.4,140 54.3,140 38,135" fill="#99d594"/>
<polygon points="69.6,156.5 91.5,154.3 93.7,163.1 91.5,180.6 82.7,180.6 69.6,171.8" fill="#99d594"/>
<polygon points="80.6,152.1 87.1,152.1 87.1,158.7 80.6,158.7" fill="#e6f598"/>
<polygon points="89.3,97.4 102.4,93 120,93 120,101.8 111.2,106.1 93.7,106.1" fill="#99d594"/>
<polygon points="120,101.8 137.5,99.6 146.2,106.1 150.6,114.9 137.5,117.1 128.7,117.1 122.2,112.7" fill="#99d594"/>
<polygon points="159.4,93 178,93 178,119.3 168.1,125.8 163.8,119.3" fill="#99d594"/>
<polygon points="106.8,130.2 120,125.8 124.3,132.4 130.9,141.2 133.1,149.9 128.7,158.7 120,158.7 111.2,152.1 106.8,145.6" fill="#99d594"/>
<polygon points="109,132.4 113.4,130.2 117.8,136.8 115.6,143.4 111.2,143.4" fill="#e6f598"/>
<polygon points="150.6,121.5 159.4,117.1 163.8,125.8 159.4,143.4 152.8,156.5 146.2,156.5 146.2,147.7 150.6,136.8" fill="#e6f598"/>
<polygon points="120,165.3 130.9,163.1 137.5,169.6 133.1,176.2 124.3,178.4 120,174" fill="#e6f598"/>
<polygon points="133,150 146,148 150,158 140,164 132,160" fill="#99d594"/>
<polygon points="160,121.5 172.3,125.6 172.3,137.9 186.6,139.9 194.7,146 190.7,154.2 180.4,158.3 175,176 150,176 150,160" fill="#99d594"/>
<polygon points="181.4,99.1 194.7,93.4 208,104.8 215.5,106.7 219.3,114.3 213.6,127 189,127 181.4,114.3" fill="#e6f598"/>
<polygon points="226.9,89.6 253.5,89.6 255.4,99.1 245.9,102.9 245.9,114.3 240.2,120 234.5,123.8 228.8,118.1 225,108.6 225,99.1" fill="#99d594"/>
<polygon points="217.2,101.1 241.7,97 245.8,107.2 241.7,117.4 233.6,129.7 227.4,137.9 221.3,133.8 211.1,129.7 207,121.5 217.2,113.4" fill="#99d594"/>
<polygon points="253.5,93.4 276.3,93 300,98 300,125 290,135 280,150 270,172 257.3,172 255.4,112.4 253.5,102.9" fill="#e6f598"/>
<polygon points="175,152 205,148.1 221.3,146 223.4,158.3 226,176 175,176" fill="#e6f598"/>
<polygon points="168.2,97 184.5,97 186.6,109.3 180.4,117.4 174.3,119.5 166.1,117.4 160,119.5 160,109.3" fill="#3288bd"/>
<polygon points="178.4,121.5 190.7,119.5 202.9,127.7 209,131.7 221.3,133.8 225.4,137.9 221.3,144 213.1,148.1 202.9,148.1 194.7,146 186.6,139.9 178.4,133.8 172.3,133.8 172.3,125.6" fill="#3288bd"/>
<polygon points="225,105 247,103 250,132 240,140 226,140" fill="#99d594"/>
<polygon points="240,118 258,116 262,140 250,146 236,142" fill="#e6f598"/>
<polygon points="233.6,113.4 239.7,111.3 241.7,125.6 237.6,131.7 234.6,127.7" fill="#3288bd"/>
<polygon points="160,155.2 166.1,155.2 166.1,160.4 160,160.4" fill="#3288bd"/>
<polygon points="202.9,115.4 215.2,115.4 219.3,125.6 213.1,129.7 205,127.7" fill="#fee08b"/>
<polygon points="207,119.5 213.1,118.5 214.2,124.6 208,125.6" fill="#fc8d59"/>
<polygon points="221.3,146 231.5,142 241.7,137.9 249.9,137.9 258.1,142 264.2,150.1 264.2,158.3 258.1,166.5 241.7,166.5 225.4,166.5 221.3,158.3" fill="#fee08b"/>
<polygon points="233.6,142 236.6,142 237.3,147.1 234,147.1" fill="#fc8d59"/>
<polygon points="235.6,152.2 238.7,152.2 238.7,157.3 235.6,157.3" fill="#fc8d59"/>
<polygon points="243.8,103.1 256,99 258.1,117.4 254,123.6 245.8,121.5 243.8,113.4" fill="#fc8d59"/>
<polygon points="245.8,105.2 254,103.1 256,115.4 254,119.5 247.9,119.5 245.8,113.4" fill="#d53e4f"/>
<polygon points="241.7,131.7 247.9,127.7 252,125.6 254,131.7 249.9,135.8 243.8,136.9" fill="#d53e4f"/>
<polygon points="260.1,123.6 264.2,117.4 268.3,117.4 270.4,127.7 266.3,131.7 260.1,129.7" fill="#fc8d59"/>
<polygon points="260.1,131.7 268.3,131.7 268.3,135.8 260.1,135.8" fill="#99d594"/>
<path d="M30 154.1l.8-2 1.2-2.9 .1-3.2 .8-3 .5-3.1 .8-3 1-2.9M35.2 134l-1.4-.7M164 61.9l-3.6-.2-3.3 1.2-3.6-.4-3.3 1.7-3.4 .2M164 61.9l2.3 2.3 2.7 2 2.8 1.6 2.9 1.5 2.8 1.8M177.5 71.1l-.7 2.2 .5 2.2M177.3 75.5l-2.3 2.3-2.4 2.2-.9 3.4-1.8 2.6-2.9 1.8-1.5 2.9M165.5 90.7l-3.5 .4-3.4-1.3-3.4 .2-3.4 .1-3.5 .1-3.4-.3M146.8 64.4l-.9 3.1 .5 3.3 .4 3.2-1.8 3.1 .6 3.2 .2 3.2 0 3.2-.9 3.2M165.5 90.7l1.9 2.7 .2 3.3 1.2 3 1.3 2.9 1.4 2.9 1.4 2.8 .7 3.2M140.8 106l.8-3.4-.9-3.4 .5-3.4 .7-3.3M140.8 106l1.9 2.9 2 2.9 2.6 2.3 1.8 3 2.6 2.4 2.6 2.3M173.6 111.5l-2.5 2.2-2.9 1.8-2.4 2.3-2.3 2.4-2.2 2.6M154.3 121.8l3.6-.3 3.4 1.3M144.9 89.9l-1.8 .9-1.2 1.7M121.5 115.5l2.4-2 3-1 3.3-.3 2.1-2.6 3.1-.6 2.9-1.1 2.5-1.9M121.5 115.5l-1.8-2.5-2.5-2-1.6-2.8-2.2-2.3-1.6-2.8-3.3-1.3-1.5-2.9M141.9 92.5l-3.2-1.5-3.7-.2-3.3-1.3-3.2-1.7-3.4-1.1M107 98.9l2.4-2.1 3.3-.7 2.6-1.6 2.1-2.5 2.7-1.6 2.3-2.2 2.7-1.5M121.5 115.5l.3 3.2-1.5 2.9 .2 3.1-1.7 2.9 0 3.1-.4 3.1M154.3 121.8l-2.1 2.7-2.7 1.9-2.8 1.9-2 2.8-2.5 2.2-3 1.6-2.3 2.4M118.4 133.8l3 1 3.2 .2 2.9 1.1 3.1 .7 3.3-.4 3 .9M167.7 155.4l1.4-4.1 2.9-3.3M167.7 155.4l-3.2 1.3-3.4 0-3.1 1.4-.5 .1M149.4 160.4l-1.1 .4M172 148l-1.9-2.5 .3-3.4-1.4-2.7-1.7-2.6-1.3-2.7-.5-3.2-1.2-2.8-1.7-2.5-1.3-2.8M136.9 137.3l2.1 2.5 .4 3.5 1.3 3 1.9 2.7 1.7 2.8 1.7 2.8 .2 3.6 2.1 2.6M165.8 18.6l0 0-2.7 1.7-1.6 2.7M147.2 3.2l-.3 .4M146.9 3.6l1.7 2.6 2.3 2 1.2 2.9 .9 .8M157.4 16.8l1.1 .9 .8 3.2 2.2 2.1M146.9 3.6l-3.5-1.1-3.6 .7-2.4-.5M175.7 35.2l-2.2-.1-3.3-.3-3.2-.9M167 33.9l-2.8-2.2-2.6-2.5M161.5 23l-.5 3.1 .6 3.1M167.7 155.4l1.1 3.3 2.2 2.8 2.1 2.7 .1 .5M148.3 160.8l-.3 .7M196.6 101.6l2.7 2 2 2.6 3.7 .6 2.1 2.5 2.2 2.5 3.2 1.2 1.9 2.9 2.6 1.9 3 1.4M196.6 101.6l-2.8 1.3-1.9 2.5-2.6 1.5-1.5 3-2.7 1.4M185.1 111.3l1.8 2.8 1.2 3.1 .8 3.3 1.1 3.2 1.6 2.9 1.5 2.9 .6 3.4 2.2 2.7M195.9 135.6l2.9-1.5 2.4-2.3 2.9-1.2 3.3-.6 2.9-1.3 2.5-2.2 2.8-1.5 2.9-1.3M218.5 123.7l.5-2.4 1-2.1M177.3 75.5l2.1 2.5 2.2 2.4 1.9 2.7 2.7 1.9 2.2 2.4 1.9 2.7 3.1 1.5 2.4 2.2 1.8 2.8M197.6 96.6l-.9 2.5-.1 2.5M173.6 111.5l3.8-.8 3.9 1.5 3.8-.9M172 148l3.1-.4 3-.4 2.9-1.2 3.2-.2 2.8-1.5 3.1-.4 2.9-1M193 142.9l1-3.8 1.9-3.5M193 142.9l1.9 2.4 1.9 2.4 1.8 2.5 2 2.2 1.9 2.4 2.7 1.6 1.3 2.9 2.6 1.8M228.6 147.7l-2.6 2.1-3 1.7-2.9 1.7-2.6 2.2-2.4 2.6-3.3 1-2.7 2.1M228.6 147.7l-.5-3.3-2-2.7-1.3-3-1.1-3.1-2.1-2.6-.8-3.2-1.1-3.1-1.2-3M121.4 64.8l3.1 .4 2.9-1.5 3.1 1.3 2.9-.8 3 .1 3-.4 3-.8 3 .2M121.4 64.8l-1.5-3.2-.1-3.4-.5-3.4-1.1-3.3-.4-3.4-.4-3.4-.6-3.4M145.4 63.3l-1.5-3.1-.5-3.2 .7-3.5-.2-3.4-.8-3.2-1.8-3.1 0-3.3-.6-3.3M116.8 41.3l2.9-1.4 2.9-1.2 3.3-.1 2.7-2.1 3-.8 3.2-.5M134.8 35.2l2.7 1.7 3.2 .3M146.8 64.4l-1.2 .1-.2-1.2M119.6 67.4l1.1 3.2 1.4 3.1 .4 3.4 1.2 3.1 1.3 3.1 .1 3.4M119.6 67.4l.9-1.3 .9-1.3M164 61.9l.4-3.1 .5-3.1 .9-3.1-1-3.2 .8-3.1-.3-3.2 .3-3.1 1.3-3 .1-3.1M161.6 29.2l-3.2 .5-3 1.3-2.7 1.7-3 1.2-3.1 .7-2.7 2.2-3.2 .4M109.8 38.2l3 1 4 2.1M130.9 13.2l.2 .9 1.2 2.9 0 3.1 1.4 2.9 .4 3-.9 3.3 1.7 2.8-.1 3.1M98.1 89.8l.5-3.4 1.9-2.9 1.3-3.2 .8-3.3 1.3-3.1 1.1-3.3M98.1 89.8l-3-1.1-3-.2-3-.6-3.2 .3-1.7-.6M74.6 74l2.6-1.3 2.9-1.8 2.8-1.9 2.4-2.3 2.4-2.5 2.5-2.2 3.1-1.5M93.3 60.5l2.6 1.7 2.1 2.3 2.8 1.5 1.4 3 2.8 1.6M107 98.9l-.8-.2-.9-.1M105.3 98.6l-2.7-2.7-1.9-3.3-2.6-2.8M119.6 67.4l-2.8 1.2-3 .4-2.9 .9-2.9 .4-3 .3M66 62.4l1.3 1.2 1.6 2.7 1.5 2.8 1.5 2.8 .1 .1M93.5 44.6l-.6 2.7 .7 3.3 .5 3.3-.5 3.3-.3 3.3M35.2 134l3.7-1.1 3.2-1.7 3-2.3M46.9 111.3l1.8 2.4M45.1 128.9l1.2-2.9 .5-3.1 1.2-3 .6-3.1 .1-3.1M30 155.2l2.5 1.1 2.3 2.2 2.1 2.3M36.9 160.8l2.4-2.2 2.7-1.4 2.7-1.5 3.2-.6 2.8-1.4 2.5-1.9 2.8-1.3 2.7-1.5 2.4-2M61.1 147l-.3-2.7 .6-2.5M45.1 128.9l2.6 2.4 3.3 1.3 1.9 3.2 3.5 1.2 2.7 2.1 2.3 2.7M48.7 113.7l3.5-.4 3.3-1.4 3.6 0 2-.5M125.5 194l0 0-3.1-.4-.8 .4M116.6 194l-.5-.2-1.7 .2M81.4 185.9l3 1.3 2.6 2.1 3.1 1.3 3.1 1.1 2.5 2.2 1.3 .1M81.4 185.9l-.8 .3-.9 0M79.7 186.2l-.1 3.1-1.7 2.7-1 2M71 159.5l-.7 3.4 .3 3.4-.8 3.3 .1 3.5-.7 3.3M71 159.5l2.8-1.9 3.5-.1 3.1-1 2.4-2.5 2.9-1.6 3.3-.5M81.4 185.9l2.9-1.7 1.6-3 3-1.6 2.3-2.2 1.7-2.9 3.3-1.3 1.9-2.6 2.8-1.8 1.8-2.7M79.7 186.2l-2.2-2.9-3.5-1.5-2.2-2.9-2.6-2.5M89 151.9l1.9 2.7 2.2 2.5 3.3 1.3 1.9 2.8 2 2.6 2.4 2.3M113 194l-.2-2.9-.5-3.2 1.7-3.1-.9-3.1-.2-3.2-.5-3.1 1.8-3.1-1.4-3.2 .6-3.1M102.7 166.1l3.6 .3 3.5 .2 3.6-.6M118.4 133.8l-.4 .2-.3 .3M140.5 170.1l-2.8-1-3.4 .1-3.2-1.4-3.2-.9-3.5 .5-3.3-.2-3.3-.6-3.1-1.4M117.7 134.3l-.7 3.1 0 3.1-.1 3.1-.1 3.1-.1 3.1-.3 3.1-.8 3.1-.3 3.1 .2 3.1-.8 3M114.7 165.2l-.3 1.1-1-.3M209.1 161.1l-.4 3-.9 3 0 .5M180.5 171.1l2 .6 0 0M283.8 138.9l-.3 .1-3.2-.2-2.9 1-2.8 1.2-2.7 1.4M266.2 159.2l-.4-.7-1.4-2.7M271.9 142.4l-1.2 2.8-1.7 2.6-1.6 2.7-.9 2.9-2.1 2.4M220.4 118.9l.1 .6-.5-.3M220.4 118.9l.5-3 .1-.2M224.5 107.7l0 0 .7-3 1.4-2.7 .5-3 .7-2.8M197.6 96.6l2.2-2.8 2.5-2.4 3.4-1.4 2.5-2.5 2.6-2.3M210.8 85.2l3.5-.7 3.3 .8 3.4 0 3.5 .2 2.7 .2M297.3 112.1l-.4-.4-2.7-1.8-2.3-2.4M286.6 135.5l.1-.7 .1-3.1-.8-2.3M285.6 117.7l-.5-1.1 1.3-3.1-.7-3M285.7 110.5l3.3-1.1 2.9-1.9M291.9 107.5l1.4-3.9 1.2-1.8M72.7 113.2l-.8 3 .2 3.1 1.3 3-.8 3 0 3.1 .6 3M72.7 113.2l3.4 0 3.4 .8 3.5-.6 3.4 1 3.5-1 3.4 .5M73.2 131.4l2.8 1.6 2.9 1.3 2.7 1.7 3.3 .3 2.3 2.7 3.2 .5M93.3 113.9l1 3.2 2.1 2.7 .8 3.3 1.8 2.8 1.6 3 .4 3.4M101 132.3l-3 1.2-2.1 2.6-3.2 1.1-2.3 2.3M61.4 141.8l2.3-2.1 2.7-1.8 2.1-2.4 2.3-2.1 2.4-2M71.1 111.4l1.6 1.8M105.3 98.6l-1.8 2.7-2.8 2-2.1 2.5-1.4 2.9-2.6 2.1-1.3 3.1M61.1 147l2.1 2.4 1.4 2.9 2.2 2.4 1.6 2.9 2.6 1.9M89 151.9l1.2-3-1.3-3.3 .9-3 .6-3.1M117.7 134.3l-3.3-1-3.5 1.1-3.3-.9-3.3-.1-3.3-1.1M37 161l2.3 2 2.9 1.2 2.4 1.8 2.4 1.9 1.8 2.7 3.1 .9 2.6 1.5 1.5 3.1 2.8 1.3M37 161l-1.2 2.8-.9 3-.7 2.9-1.3 2.9-.5 3-.6 3-1.3 2.8 0 3.2M58.8 177.4l-2.4 2-1.6 2.8-2.9 1.7-2 2.5-1.8 2.6-1.9 2.5-1.7 2.5M30.5 184.6l2.1 2.6 1.9 2.7 2.4 2.3 2.9 1.7 .1 .1M36.9 160.8l.7-.1-.6 .3M69.2 176.4l-3.5-.3-3.3 1.7-3.6-.4M246 155.8l3.1-.4 3 1.2 3.1-1.5 3.1-.1 3 .2 3.1 .6M246 155.8l-1.6 3 .4 3.6-1 1.8M228.6 147.7l3.7 .6 3.5 1.5 3.8-.2M239.6 149.6l2.7 3.6 3.7 2.6M275.8 108.2l-2.4-2.2-1-3.2-2.8-2-1.1-3.1-1.2-2.7M275.8 108.2l-2 2.6-2.4 2.2-3.1 1.5-2.4 2.3-2 2.7-1.7 2.8-2.9 1.8M258.5 94.6l-2.6 1.5-2.8 1.3-2.4 2.3-3.2 .6M247.5 100.3l-.5 3.3 .4 3.3-1 3.2 .5 3.3-.8 3.3 .7 3.3M259.3 124.1l-3.3 .3-3.1-1.2-3.2-.1M246.8 120l1.5 1.5 1.4 1.6M285.7 110.5l-3.4-.5-3.4-.4-3.1-1.4M271.9 142.4l-2.3-2.2-1.5-2.9-1.6-2.7-2.5-2.2-.4-3.6-2.4-2.2-1.9-2.5M237.1 94.2l1.6 1.5 2.8 1.7 3.2 1.1 2.8 1.8M220.4 118.9l3.3-.7 3.3 1.2 3.3-.6 3.3 .3 3.3 1.2 3.3-.9 3.3 .5 3.3 .1M239.6 149.6l.5-3.2 1-3 2.1-2.6 .5-3.2 1.7-2.7 1.5-2.8 .3-3.2 .6-3.2 1.9-2.6M193.7 40l.2 3 .3 3.1-.5 3.2 .1 3.2 1.1 3 .3 3.2M203.3 61l-.3 .1-3.4 0M199.6 61.1l-2.6-.5-1.8-1.9M177.5 71.1l2.2-2.3 3.2-.7 1.7-3 2.9-1.3 3.1-.9 2.3-2.1 2.3-2.1M210.8 85.2l-1-3.2-1.2-3.1-2.3-2.6-.3-3.5-2.2-2.7-1.4-3-1.9-2.8-.9-3.2M227.8 84.4l-.1-1.9-.3-3.1-.8-3.1-.5-3.2 .5-3.2-.2-1.5" fill="none" stroke="#3a3a3a" stroke-width="0.45" stroke-opacity="0.75"/>
</g>
<polygon points="132,5.8 137.5,2.6 143,2 153,5 153,17 160,16.6 167,19 169,28 173,33 178,37 179,42 181,44 183,40 188,39 194,40 195,47 199,53 202,60 206,63 215,65 225,67 230,72 230.3,77 229,82 226,88 223.3,94.1 219.8,97.6 218,104.6 218.9,111.5 221.5,116.8 225,118.5 228.5,116.8 227.7,111.5 223.3,106.3 221.5,101.1 225,97.6 228.5,95.8 232,94.3 246,94 254,91 259,95 272,95 285,99 295,102 298,115 295,117 282,118 278,125 287,130 287,135 282,141 279,145 273,148 268,156 263,165 258,166 247,164 231,165 218,166 205,168 200,162.5 195,165 189,170 181.5,172 174,165 163,161 155,157 150,160 142,166 139,174 133,179.5 131.5,194 30,194 30,140 38,126 41,122 44,118 46,114 47,111 50.5,109.9 58,111 67.3,112.1 73,111 80.5,109.2 89.2,108.5 91,105.5 89,99 86,89.5 80,83 76,75 68,69 65.5,64.2 66.3,61.3 69.2,52.6 76.5,43.8 82.3,40.1 85.3,40.9 89.6,45.3 98.4,43.8 107,43 108.6,39.4 113,35 114.5,29.2 118.8,24.8 126,22 130.5,14.6 133.4,5.8" fill="none" stroke="#222" stroke-width="0.8"/>
<polygon points="27.9,115.8 30.8,117.2 36.7,118.7 39.6,121.6 41.1,124.5 44,126 45.4,128.9 49.8,133.3 55.7,136.2 63,138.4 71.7,137.7 79,135.5 81.2,134.7 77.6,138.4 74.6,142 68.8,145 61.5,147.1 57.1,148.6 53.5,148.6 52.7,150.8 55.7,153.7 60,158.1 64.4,162.5 68.8,166.9 74.6,172.7 80.5,177.1 84.9,180 90.7,178.5 98,175.6 103.8,172.7 109.7,166.9 112.6,162.5 108.2,159.6 111.1,156.6 112.6,153.7 111.7,152.3 116.8,151.3 122.9,152.3 118.8,153.3 117.8,159.5 120.9,161.5 126,162.5 120.9,163.6 118.8,166.6 119.8,171.7 121.9,175.8 122.9,179.9 121.9,186 120.9,194 27.9,194" fill="#000"/>
<circle cx="198.8" cy="29.8" r="1.0" fill="#000"/>
<circle cx="175.7" cy="62.2" r="1.0" fill="#000"/>
<circle cx="263.4" cy="60" r="1.0" fill="#000"/>
<circle cx="253" cy="69.9" r="1.0" fill="#000"/>
<circle cx="234.8" cy="172.5" r="1.0" fill="#000"/>
<circle cx="118.5" cy="136" r="1.0" fill="#000"/>
<circle cx="121" cy="172.4" r="1.0" fill="#000"/>
<circle cx="175" cy="143" r="1.1" fill="#d7191c"/>
<text x="201.5" y="30.5" font-size="4.6" font-weight="normal" font-style="normal" fill="#111" font-family="Liberation Sans, sans-serif" textLength="17.5" lengthAdjust="spacingAndGlyphs">New Delhi</text>
<text x="295" y="33.4" font-size="7.4" font-weight="bold" font-style="normal" fill="#111" font-family="Liberation Sans, sans-serif" textLength="18.6" lengthAdjust="spacingAndGlyphs">Nepal</text>
<text x="177" y="64.1" font-size="7.6" font-weight="normal" font-style="normal" fill="#111" font-family="Liberation Sans, sans-serif" textLength="17.5" lengthAdjust="spacingAndGlyphs">Jaipur</text>
<text x="264" y="62.8" font-size="7.6" font-weight="normal" font-style="normal" fill="#111" font-family="Liberation Sans, sans-serif" textLength="26" lengthAdjust="spacingAndGlyphs">Lucknow</text>
<text x="254.9" y="75.8" font-size="7.6" font-weight="normal" font-style="normal" fill="#111" font-family="Liberation Sans, sans-serif" textLength="22.1" lengthAdjust="spacingAndGlyphs">Kanpur</text>
<text x="201.6" y="105.6" font-size="7.6" font-weight="bold" font-style="normal" fill="#111" font-family="Liberation Sans, sans-serif" textLength="14.3" lengthAdjust="spacingAndGlyphs">India</text>
<text x="176.4" y="145.2" font-size="7.6" font-weight="normal" font-style="normal" fill="#111" font-family="Liberation Sans, sans-serif" textLength="20" lengthAdjust="spacingAndGlyphs">Indore</text>
<text x="235.9" y="174.5" font-size="7.6" font-weight="normal" font-style="normal" fill="#111" font-family="Liberation Sans, sans-serif" textLength="22.9" lengthAdjust="spacingAndGlyphs">Nagpur</text>
<text x="119.8" y="137.9" font-size="7.6" font-weight="normal" font-style="normal" fill="#111" font-family="Liberation Sans, sans-serif" textLength="36.8" lengthAdjust="spacingAndGlyphs">Ahmedabad</text>
<text x="122.5" y="173.8" font-size="7.6" font-weight="normal" font-style="normal" fill="#111" font-family="Liberation Sans, sans-serif" textLength="17" lengthAdjust="spacingAndGlyphs">Surat</text>
<text x="50.2" y="144.5" font-size="5.0" font-weight="normal" font-style="italic" fill="#eee" font-family="Liberation Sans, sans-serif" textLength="27.6" lengthAdjust="spacingAndGlyphs">Gulf of Kutch</text>
<text x="30.5" y="99.4" font-size="7.6" font-weight="normal" font-style="normal" fill="#111" font-family="Liberation Sans, sans-serif" textLength="16.2" lengthAdjust="spacingAndGlyphs">rachi</text>
<rect x="17.5" y="9.5" width="29" height="77.5" fill="#fff" stroke="#777" stroke-width="1"/>
<rect x="20" y="24.4" width="9" height="8.6" fill="#d53e4f"/>
<rect x="20" y="33.9" width="9" height="8.6" fill="#fc8d59"/>
<rect x="20" y="43.7" width="9" height="8.6" fill="#fee08b"/>
<rect x="20" y="53" width="9" height="8.6" fill="#e6f598"/>
<rect x="20" y="63" width="9" height="8.6" fill="#99d594"/>
<rect x="20" y="73" width="9" height="8.6" fill="#3288bd"/>
<text x="37.3" y="27.7" text-anchor="middle" font-size="7.4" fill="#111" font-family="Liberation Sans, sans-serif">4</text>
<text x="37.3" y="36.7" text-anchor="middle" font-size="7.4" fill="#111" font-family="Liberation Sans, sans-serif">3</text>
<text x="37.3" y="46.2" text-anchor="middle" font-size="7.4" fill="#111" font-family="Liberation Sans, sans-serif">2.5</text>
<text x="37.3" y="55.3" text-anchor="middle" font-size="7.4" fill="#111" font-family="Liberation Sans, sans-serif">2</text>
<text x="37.3" y="64.7" text-anchor="middle" font-size="7.4" fill="#111" font-family="Liberation Sans, sans-serif">1</text>
<text x="37.3" y="73.7" text-anchor="middle" font-size="7.4" fill="#111" font-family="Liberation Sans, sans-serif">0.5</text>
<text x="37.3" y="82.7" text-anchor="middle" font-size="7.4" fill="#111" font-family="Liberation Sans, sans-serif">0</text>
</g>
<path d="M0.5,192.5 V0.5 H337.5" fill="none" stroke="#8a8a8a" stroke-width="1"/>
<path d="M337.5,0.5 V192.5 H0.5" fill="none" stroke="#b8b8b8" stroke-width="1"/>
</g>
<g transform="translate(347,493)">
<clipPath id="clipf"><rect x="0" y="0" width="338" height="193"/></clipPath>
<clipPath id="rf"><polygon points="132,5.8 137.5,2.6 143,2 153,5 153,17 160,16.6 167,19 169,28 173,33 178,37 179,42 181,44 183,40 188,39 194,40 195,47 199,53 202,60 206,63 215,65 225,67 230,72 230.3,77 229,82 226,88 223.3,94.1 219.8,97.6 218,104.6 218.9,111.5 221.5,116.8 225,118.5 228.5,116.8 227.7,111.5 223.3,106.3 221.5,101.1 225,97.6 228.5,95.8 232,94.3 246,94 254,91 259,95 272,95 285,99 295,102 298,115 295,117 282,118 278,125 287,130 287,135 282,141 279,145 273,148 268,156 263,165 258,166 247,164 231,165 218,166 205,168 200,162.5 195,165 189,170 181.5,172 174,165 163,161 155,157 150,160 142,166 139,174 133,179.5 131.5,194 30,194 30,140 38,126 41,122 44,118 46,114 47,111 50.5,109.9 58,111 67.3,112.1 73,111 80.5,109.2 89.2,108.5 91,105.5 89,99 86,89.5 80,83 76,75 68,69 65.5,64.2 66.3,61.3 69.2,52.6 76.5,43.8 82.3,40.1 85.3,40.9 89.6,45.3 98.4,43.8 107,43 108.6,39.4 113,35 114.5,29.2 118.8,24.8 126,22 130.5,14.6 133.4,5.8"/></clipPath>
<g clip-path="url(#clipf)">
<rect x="0" y="0" width="338" height="193" fill="#fff"/>
<path d="M83.4 90.3l2.4-1.8 2.3-2.1 3.1-.7 2.2-2.2 3.2-.4 2.4-1.9 2.9-1.1 2.3-2 2.5-1.6 2.6-1.6 2.5-1.8M83.4 90.3l.2-3.2-1.8-2.7 .2-3.2-1.4-2.8-.3-3.1 0-3.1-1.9-2.7 1-3.3-1.3-2.9 0-3.1-1.1-2.9 0-3.1-1.4-2.8M111.8 73.1l-.7-3.2 .3-3.4-1-3.2 .3-3.4-.5-3.3 .2-3.3-.1-3.4-.7-3.3-.3-3.3M75.6 51.4l2.8-1.7 2.3-2.5 3.1-1.2 2.5-2.1 2.6-2.1 3-1.3M91.9 40.5l3.3-.5 3.2 .8 3.2 .1 3.2 1 3.2 .1M108 42l.7 .6 .6 .7M129.2 83.2l-3.2-1.2-2.4-2.5-3.2-1.2-3.1-1.4-3-1.4-2.5-2.4M129.2 83.2l2.6-1.8 1.7-2.7 2.5-2 2-2.5 1.7-2.7 3.4-1.1 1.6-2.8M144.7 67.6l-1-3-1.1-2.8-.9-3-.7-3-2-2.6-.9-2.9-.6-3M137.5 47.3l-3.2-.2-3-1.5-3.3 .9-3.1-.8-3.1-.8-3.2 .3-3.1-1-3.1-.3-3.1-.6M57.8 48.9l-2.3-2.5-2.4-2.3-1.6-3.2-2.1-2.6-2.8-2.1M57.8 48.9l3.6 0 3.6 .5 3.4 1.3 3.7-.4 3.5 1.1M46.6 36.2l.6-3.1 2.1-2.5 .3-3.2 1.3-2.8 .4-3.1 1.1-2.9 .7-3.1 1.2-2.8 1.6-2.8M77.9 9.6l-3.3-.5-2.8-2-3.4-.3-2.9-1.7M77.9 9.6l1.2 2.8 1.7 2.6 .7 3.1 1.4 2.8 2.2 2.4 .1 3.3 2.4 2.3 .3 3.3 1 2.9 2.4 2.3 .6 3.1M55.9 9.9l2.9-2.1 3.1-1.9 3.6-.8M57.8 48.9l-1.1 2.8-1 2.9-1.6 2.5-1 2.9-1.4 2.6-2.1 2.4-1.4 2.6-1.3 2.7-.8 3-1.7 2.5-1.2 2.7-.5 3.1M42.7 81.6l2.9 1.2 3 1.1 2.8 1.4 2.6 2 3.1 .8 2.5 2 2.9 1.4 2.9 1.3 3.1 .8 2.6 1.8M83.4 90.3l-.7 .8-.2 1M82.5 92.1l-3.6 1.6-3.7 1.4-4.1 .3M10.8 193l2.8-1 2.9-1.4 2.5-2 2.6-2 2.8-1.4M24.4 185.2l.8 3 1.4 2.7 1.1 2.1M129.7 193l-2.3-.4-2.4 .4M123.7 193l-2.7-1.5-3.2-.3-3.2-.1-3.2-.1-3.3 .4-3.1-1.1-3.3 0-3.1-.7M97.3 193l.3-.4 1-3M96.3 167.5l3.1-.4 3.2-.1 3-1.1 3.1-.5 2.8-1.7 3.2 .1 2.9-1.6 3.2-.2 3.3 .4 2.7-2.2 3.2 .1M96.3 167.5l-.9 1.5-1.4 1.2M134.6 193l1.9-1.8 1.7-3.6 2.5-2.9M94 170.2l1.6 3.1-.7 3.6 1.6 3 .8 3.2 .6 3.3 .7 3.2M140.7 184.7l-1-3.2-1.5-3-1.6-2.9-.6-3.4-2-2.7-1.6-3-.5-3.4-1.9-2.8M144.7 67.6l3.3 .3 3.3 1.4 3.5-.8 3.4 0 3.2 1.6 3.4-.1 3.3 .6M137.5 47.3l2-2.7 3.1-1.4 1.5-3.2 3.4-1.2 1.9-2.8M149.4 36l3 .9 2.9 1.2 3.1 .9 3.1 .4 2.6 2.2 3.2 .5 2.9 1.3 3 .8M168.1 70.6l1.4-2.7 .9-2.9 .6-3 2-2.5-.1-3.3 1.9-2.5 1-2.9M175.8 50.8l-.5-3.6-2.1-3M0 127.7l2-1.6 2.5-1.7 2.6-1.5 3-.8M0 95l.6 .4 1.9 2.5 1.8 2.6 2.8 1.5 2.2 2.1 2.5 1.9 1.5 2.7 2.1 2.2M10.1 122.1l1.2-2.9 1.8-2.5 .7-3.1 1.6-2.7M42.7 81.6l-1.5-.1-1.3 .8M39.9 82.3l-1.2 2.9-2.4 2.2-1.4 2.8-1.7 2.6-1.3 2.8-1.8 2.6-2.9 1.8-.6 3.4-1.5 2.7-2.3 2.2M71.1 95.4l-2.1 2.6-1.3 2.9-.5 3.3-1.7 2.7-1.1 3-1.3 3-2.4 2.4-.2 3.4-2.6 2.3-.3 3.4-1.6 2.8M56 127.2l-2.4-2.2-3.4-.5-2.8-1.6-2.6-1.8-2.3-2.3-3-1.3-3.3-.6-2.8-1.5-2.2-2.6-2.7-1.6-3.1-1.1-2.6-1.8M15.3 62.4l-1.6 .9-1.7-.9M15.3 62.4l2.4-2 1.3-2.8 2.5-1.8 2.2-2.1 1-3.1 2.1-2.2 2.5-1.8 1.2-2.9 2-2.3 2.3-1.9 2-2.3M12 62.4l-2.2-2.2-.3-3.4-2.6-2-.8-3.1-.9-3-2.6-2.1-.5-3.1-1.4-2.8-.7-.7M36.8 37.2l-2.7-1.9-2.3-2.3-3-1.3-2.8-1.7-2-2.9-3-1.3-2.9-1.4-2.6-2-2.3-2.3-2.9-1.6M0 34.7l2.3-1.5 .8-3.3 2-2.6 .6-3.4 1.6-2.8 2.1-2.5M9.4 18.6l.4-.7 .5 .6M39.9 82.3l-2.9-1.5-1.9-2.7-2.4-2-2.2-2.3-3.4-.8-1.5-3.3-2.5-1.8-2.4-2.1-2.7-1.6-2.7-1.8M0 73l.3-.3 2.3-2.1 2.5-1.8 1.6-3 3.2-1 2.1-2.4M15.4 110.9l3.6-1.7 3.8-.9M46.6 36.2l-3.2 1.1-3.3 .1-3.3-.2M55.9 9.9l-2.7-1.5-3-1-2.4-2-2.6-1.8-3.1-.7-2.4-2.2-1.9-.7M28.3 0l-1 1.2-2.5 1.8-2.1 2.2-2.1 2.2-1.6 2.6-2.7 1.7-1.3 2.9-2.4 1.9-2.3 2M0 11.6l2.5 .9 2.5 1.9 1.6 2.8 2.8 1.4M149.4 36l-.4-3.2-1.2-3.1-.7-3.1 .9-3.5-1-3.1-.9-3.1 .2-3.3-.9-3.2M108 42l2-2.6-.1-3.3 2-2.5 1-3 0-3.3 2.7-2.2-.3-3.4 2.3-2.5 1-2.9 .8-3M145.4 10.4l-3.1 1-3.4-.6-3.2 1.2-3.3-.4-3.2 1.1-3.3-.5-3.2 1.3-3.3-.2M77.9 9.6l2.7-1.7 3-1 2.6-1.8 3.2-.7 2.7-1.6 2.7-1.6 2.3-1.2M108.9 0l.3 1 3.2 1.6 .8 3.4 2.9 1.8 .8 3.4 2.5 2.1M94.3 132.8l-.4-3.2 .6-3.1 .6-3.1 .8-3.1-1.5-3.2 1.1-3-.7-3.2 1-3.1M94.3 132.8l1.9 1 .9 1.9M97.1 135.7l3 .4 3-.2 3 .4 3 .4 3.1 0 3-.2 3-.5 3 .4 3 .1 3-.3M95.8 107.8l3.1-.7 3.1 1 3.1 .2 3.1-.3 3.2-.1 3.1 0 3.1 0 3.1-.5 3.1-1 3.1 .3M126.9 106.7l-.7 3.3 .5 3.2-.2 3.3 .7 3.3 .3 3.3-1.2 3.2 .8 3.3-.5 3.3 .6 3.3M96.3 167.5l.3-3.2-.6-3.2 0-3.2 .5-3.1-.1-3.2-.3-3.2 .3-3.2-.2-3.2 1.3-3.1-.4-3.2M134.8 144.4l-1.6 3-.4 3.3-.2 3.4-1.7 3-.9 3.2M134.8 144.4l-2-3.3-2.9-2.3-2.7-2.6M132.9 99.9l-.8-3.3-.5-3.4-.5-3.4-1.6-3.2-.3-3.4M132.9 99.9l-1.8 2.4-2.7 1.7-1.5 2.7M82.5 92.1l1.7 3 3.1 1.9 1.6 3.2 1.8 2.9 2.6 2.3 2.5 2.4M199.4 175.2l.4 3 1.1 3-.6 3.2 1.5 2.9-.2 3.1 .9 2.6M199.4 175.2l-3.2 .1-2.9-.8-3-.8-2.8-1.6-2.9-1-3.2 .1-3-.6-2.9-1.1M164.7 183.2l2.6-2.4 1.3-3.4 2.3-2.6 2.6-2.4 2-2.9M164.7 183.2l1 2.9 1.4 2.7 1.9 2.5 0 1.7M233.9 178.6l-1 3 .3 3.2-1.4 2.9-.6 3-.1 2.3M233.9 178.6l-1.9-2.6-3.1-1.2-2.5-1.9-2.2-2.4-2.2-2.3-2.8-1.5-2.5-1.9M216.7 164.8l-2.6 2.3-2.8 1.9-3.5 .6-2.6 2.2-3.3 1-2.5 2.4M140.7 184.7l3-.6 3 .8 3-.6 3-.7 3 .8 3-.8 3-.7 3 .3M132.9 99.9l3.2 .7 3.4 0 3 2.1 3.2 .7 3.4-.2M168.1 70.6l1.7 2.6 1.4 2.7 0 3.4 1.9 2.5 1 2.9M174.1 84.7l-2.9 1.3-1.9 2.8-3 1-1.9 2.7-2.3 2.1-2.5 1.9-2.9 1.4-2.4 1.9-2.5 1.9-2.7 1.5M174.7 163.9l-2.6-1.7-1.7-2.9-3.2-1.2-2.5-2-1.8-2.8-2.4-2-2.9-1.6-1.9-2.6-2.4-2.2-3-1.2-2.4-2.2M174.7 163.9l1-3 2.6-2.1 .2-3.5 2.2-2.3 1.5-2.8 1.5-2.7 1.1-3 1.3-2.8 1.7-2.7M187.8 139l-2.4-2.1-.9-3.3-2.1-2.4-1.9-2.5-2.8-1.8-1.9-2.5M175.8 124.4l-3-.9-3 1.8-3.1-1-3 .4-3 .1M147.9 141.5l2.3-2 .8-3.1 2.1-2.3 2.5-1.8 .8-3.2 3-1.5 1.3-2.8M134.8 144.4l3.4 0 3.3-.6 3.2-1.3 3.2-1M175.5 169.5l-.1-2.8-.7-2.8M149.1 103.2l1.1 2.9 1.9 2.5 1.6 2.6 1.6 2.6 .6 3.1 2.3 2.3 1.3 2.7 1.2 2.9M335.1 0l.2 .6 2 2.3 .7 .4M278.6 0l1.1 3.7 3 2.2 2.5 2.6M305.5 0l-.7 2.5-1.4 2.9M285.2 8.5l3.2 .3 2.8-1.7 3.2 .5 2.9-1.1 3.2 .3 2.9-1.4M338 15.4l-1 .8M337 16.2l-3.3-.1-3.2 1-3.2 1.1-3.5-1.1-3.2 .9-3.1 1.6-3.4-.4M314.1 19.2l-1.5-3.2-3-2.2-2.5-2.4-1.9-3-1.8-3M285.2 8.5l-1.4 2.8 .4 3.3-2 2.6-1.1 2.9 .6 3.4-1 2.9-1.4 2.8-.7 3-.7 3-1.2 2.9M303.4 42l-3.2-.9-3.2 .9-3.2 .4-3.2-1-3.3 .9-3.2-.3-3.2-.7M303.4 42l1-3 1.1-3 1.8-2.6 .9-3.1 1.7-2.6 2.3-2.4 .6-3.2 1.3-2.9M276.7 38.1l2.2 1.5 2 1.7M305.5 88.4l3.2 .2 3.2-.4 3-1.4 3.2 .4 3.2-.6 3.1-.7 3.2 .3 3.2 .1 3.1-.8M305.5 88.4l-.7-2.7-1-2.5M303.8 83.2l1.3-3 .2-3.2 2-2.7 1.3-3-.4-3.5 2.4-2.5-.1-3.5 1.3-2.9 1.3-2.9 .7-3.1M333.9 85.5l1.2-2.8-.1-3.3 1.1-2.9 1.8-2.6 .1-.8M313.8 52.9l3.2-.5 3.3-.1 3.1 1.5 3.3-.2 3.2-.4 3.2-.3 3.2 .8 1.7-.1M304 93.2l-2.7 1.7-3.1 .4-2.8 1.4-3.1 .5-2.5 2.1-2.9 1.1-3.4-.2-2.7 1.4-2.7 1.8-3 .7-3.2 .2-2.6 1.8M304 93.2l1-2.3 .5-2.5M268.8 105.7l.6-.3-.1 .7M268.8 105.7l0-3.3-1.9-2.8 .3-3.4-.7-3.2-2.3-2.7-.2-3.3-.2-3.2-1.1-3.1M279.7 69.7l-3.1 1.5-2.9 1.6-2.5 2.3-2.6 2.3-2.8 1.9-3.1 1.4M279.7 69.7l2.5 1.9 3.2 .4 2 2.7 2.7 1.5 2.6 1.6 3 1.1 2.3 2 2.8 1.3 3 1M303.4 42l1.7 2.6 3.1 1.2 1.1 3 2.7 1.6 1.8 2.5M280.9 41.3l-.8 3.1 1.3 3.2-.8 3.2 .2 3.1-.1 3.2-.4 3.1-.9 3.2-.2 3.1 .5 3.2M338 90.8l-.4-.3-2.1-2.3-1.6-2.7M337 16.2l.7 3.1-.1 3.1-.4 3.2 .8 2.7M28.7 154l3-1.2 2-2.7 2.7-1.6 2.8-1.4 2.8-1.4 3.2-.7 2.5-1.9 2.4-2.1 3.1-1 2.8-1.3 2.3-2.4M28.7 154l-.9 3.3-1.1 3.3-1.9 3-.5 3.4M24.3 167l1.7 2.8 .6 3.3 1.2 3M27.8 176.1l3.2 1 3.5-.9 3.1 1.3 3.2 1 3.5-.7 3.2 1 3.2 .9 3.3-.2 3.2 1.1M70.7 166.7l-1.7 2.8-2.4 2.2-2.8 1.8-1.5 3-3.3 1.3-1.8 2.8M70.7 166.7l-1.6-2.7-.6-3.2-1.7-2.7-.3-3.2-1.2-2.9-.5-3.2-2.3-2.5-.2-3.3-1.1-2.9-1.5-2.8M59.7 137.3l-.7-.5-.7-.5M10.1 122.1l1.3 2.8 1.6 2.7 2.1 2.3 1.2 2.8 1.8 2.6 1.7 2.5 .9 3.1 1.3 2.8 2 2.4 1.7 2.5 2.2 2.3 .8 3.1M56 127.2l1.4 2.8-.1 3.3 1 3M0 163.1l2.9 .1 3.1 .6 3.1 0 2.8 1.8 3.4-1 3 .6 2.9 1.4 3.1 .4M24.4 185.2l1.1-3 2-2.7 .3-3.4M60.9 193l-.1-.4 .1-3.3-1.5-2.8-1.4-2.9-.8-3M94 170.2l-3.3-.3-3.3-1-3.4 .3-3.4-.3-3.2-1.3-3.2-1-3.5 .1M94.3 132.8l-3 1.2-3.3-.7-3.1 1.2-3.1 .6-3.2-.5-3.1 1.3-3.3-.8-3 1.4-3.2 0-3.2-.4-3.1 1.2M152.9 2.2l0-2.2M152.9 2.2l3.2 .5 3.1 .6 3 1.1 2.9 1.5 3.3 .2 3.1 .7 3.1 .9 2.9 1.6 2.9 1.2 3.4-.1 3 1M196.3 0l-1 1.4-1.2 3.1-2 2.7-1.6 2.8M186.8 11.4l1.9-.5 1.8-.9M145.4 10.4l2.2-3.1 2.7-2.5 2.6-2.6M173.2 44.2l.7-3.2 1.6-2.8 2.1-2.6 .4-3.4 1.4-2.9 .5-3.2 1.6-2.9 1.4-2.9 1.9-2.7 .6-3.3 1.4-2.9M236.7 0l0 .6M236.7 .6l-2.3-.6M233.1 0l-2.5 .9-3.1 0-3-.6-3 .1-1.1-.4M216.7 0l-1.3 .5-2.5-.5M65.5 5.1l-.5-3 .7-2.1M175.8 50.8l3.1 .1 3.1-.1 3.1 .9 3 1 3.3-1.1 2.9 1.8 3.2-.6 3.1 .4 3.1 .4 3 .9 3.1 .1 3.2 0M213 54.6l1.1-3 .8-3.2 1.4-2.8 2.2-2.6 .4-3.3M218.9 39.7l-2.5-2-2.2-2.3-1.8-2.6-1.7-2.7-2.4-2.1-2.3-2.2-2.3-2.2-2.1-2.4-2.5-2-2.6-1.8-1.6-2.8-1.7-2.8-2.7-1.8M216.7 164.8l.1-3.4 .6-3.4 .4-3.4-.3-3.4M187.8 139l3.2-.8 3.2 .6 3.2 .2 3.1-1.2 3.2-.3 3.2 0M217.5 151.2l-2.8-2.2-1.3-3.4-1.6-3.1-2.5-2.5-2.4-2.5M233.9 178.6l2.7-1.3 3.3 .5 2.7-1.4 3-.6 2.5-2 3-.4 3-.6 2.9-.8M244.8 140.7l-2.7 2-3.6-.3-2.5 2.5-3.3 .4-3 1.4-2.9 1.4-3.5 .1-3 1.1-2.8 1.9M244.8 140.7l3.1 2.3 3.9 .9M257 172l-.4-3.2-.2-3.2-.9-3.1-1.3-2.9 .5-3.4-.6-3.1-1.7-2.9 .4-3.3-1-3M268.8 105.7l-3.1 .3-3 1.1-3.2-.4-3.1 .5-2.9 1.3-2.9 1-3.2 .1-3 .8-3 .8-3.2-.2-3 .7M269.3 106.1l.7 3 .5 3.1 2.1 2.7-.8 3.4 2 2.7-.2 3.3 .7 3 1.6 2.8M235.2 111.7l1.7 2.6 0 3.2 1.7 2.7-.2 3.3 1.1 2.8 1.4 2.8 1.1 2.8 .1 3.2 2.4 2.4 .3 3.2M251.8 143.9l2.7-1.5 2.3-2.1 3.1-.9 2.5-1.7 2.8-1.4 2.5-1.9 3.2-.6 2.4-2 2.6-1.7M257 172l1.6 .9 1.7 .9M260.3 173.8l.5 3.1 1.1 2.8 1.4 2.8 1.9 2.5 1.4 2.7 .9 2.9 1.7 2.4M338 108.1l-.6 1-.8 3.4-3 2.2-.9 3.3M338 124.6l-1.6-1.4-1.4-2.9-2.3-2.3M304 93.2l.4 3 .9 2.9 1.4 2.8 1.1 2.8 1.6 2.6 1.2 2.8 .4 3.1 .6 3 1.6 2.7M332.7 118l-3.2 1-3.3-.3-3.3-.7-3.2 .9-3.3 .2-3.2-.2M269.2 37.4l-3 1.5-3 1.8-2.4 2.6-3.4 .8-2.8 2M269.2 37.4l-1.6-2.8-1.4-2.9-2.3-2.4-2.7-2-2-2.6-.9-3.3-2.5-2.2-1.8-2.7-2.1-2.4-1.1-3.2-2-2.5M254.6 46.1l-3-1-3.3-.3-3-1.3-3.1-1-3.1-.6-2.9-1.7-3.3-.3-2.9-1.4-3.2-.5-3.2-.6M223.6 37.4l1-3.1 1.7-2.8 1.4-2.9 2.7-2.1 1-3.1 1.1-3.1 1.5-2.8 2.5-2.3 1.7-2.7 1.5-2.9 .9-3.1M248.8 8.4l-4-1.6-4.2-.3M276.7 38.1l-3.8-.3-3.7-.4M262.7 80.7l-3-.8-2.4-1.9-2.7-1.5-2.4-2-3.1-.8M249.1 73.7l.1-3.2 .6-3 .7-3.1 1.5-2.9 .9-3-.8-3.3 1.7-2.9 .5-3.1 .3-3.1M263.9 0l-2 .4-2.1 2.6-2.6 1.6-3.2 .5-2.2 2.4-3 .9M236.7 .6l1.6 3.2 2.3 2.7M218.9 39.7l2.4-1 2.3-1.3M231.5 109.6l-3.2 1.4-3.5 .3-3.3 1-3.1 1.4-3.5 .2M231.5 109.6l.1-3.2 .5-3.2 .5-3.2 .7-3.1-.3-3.3-.7-3.2-.1-3.3 1.8-3-.2-3.3 0-3.2M214.9 113.9l-2.9-1.3-2.1-2.4-2-2.3-2.7-1.6-1.9-2.6-3.5-.6-2.3-2-2.3-2.1-2.2-2.3-2.3-1.9M215.7 66.5l2.2 2.1 3.1 .7 2.1 2.5 3.3 .4 2.6 1.7 2.5 1.5 2.3 2.2M215.7 66.5l-1.7 2.6-2.3 2.2-2.7 1.7-1.3 2.9-2.6 1.9-2 2.4-2.6 1.7-1.2 3.2-2 2.4-2.2 2.2-2.4 1.9-2.4 2.1M190.3 93.7l.7 .3-.3 .8M235.2 111.7l-1.6-1.6-2.1-.5M206.9 137.5l.6-3.1 .9-3 1.2-2.9 .7-3 .9-3 .9-3 1.5-2.7 1.3-2.9M249.1 73.7l-3.2 .3-2.8 1.7-3.2 .2-3.2 .3-2.9 1.4M175.8 124.4l1.5-2.7 1.9-2.4 .2-3.2 1.3-2.7 2.1-2.4 1.2-2.8 1.5-2.5 1-2.9 1-2.9 2.4-2.2 .8-2.9M213 54.6l.4 3 .4 3 1.6 2.8 .3 3.1M174.1 84.7l2.7 1.4 2.8 1.4 2.8 1.3 2.9 1.2 2.6 1.6 2.4 2.1M338 170.6l-.6 1.3 .1 3.2-1.8 2.9 0 3.2-.9 3M321.8 193l1.1-1.5-.2-3.2M334.8 184.2l-3 1-2.9 1.4-3.2 .7-3 1M289.3 193l.8-.6 1.7-2.7 2-2.4 2.7-1.6 1.2-3.2 2.6-1.8 2.3-2.1 1.8-2.5M322.7 188.3l-2.8-1.5-2.7-1.5-2.4-2.1-2.2-2.4-2.7-1.5-2.5-2-3-1.2M316.9 150l-2.9 1.4-2 2.3-1.7 2.7-2.7 1.5-1.7 2.8-3 1.1-2 2.4M316.9 150l-.2-3.1-.9-3-.3-3.2-2-2.8 0-3.2 .1-3.2-.9-3-1.4-2.9-.4-3.2M280.5 132.6l.8 3 .6 3.1 1 3 2.6 2.3 1 3-.1 3.3 1 3 1.4 2.7 1.1 3M280.5 132.6l3.2-.7 3-.9 2.7-2.1 3.6 .4 2.9-1.3 3-1 3.2-.8 3-.9 2.7-2.2 3.1-.7M289.9 159l2.7 1.5 2.8 1.2 3.1 .6 2.4 1.9M338 152.6l-2.9-.4-3.1 .6-3-.9-3.1 0-2.9-1.4-3.2 .6-2.9-1.1M304.4 176.1l-1.5-2.8 .5-3.3-2.1-2.7-.4-3.1M313.2 118.9l-.8 2-1.5 1.5M260.3 173.8l2.9-.9 2.3-2.3 3.2-.3 2.3-2.1 2.7-1.3 2.7-1.4 3.1-.4 2.6-1.6 2.4-1.9 2.8-1.1 2.6-1.5M275.9 130.1l2.3 1.4 2.3 1.1" fill="none" stroke="#cdcdcd" stroke-width="0.5"/>
<polyline points="88,0 85,14.6 75,33.6" fill="none" stroke="#bbb" stroke-width="0.6"/>
<polyline points="95.5,3 94,13 98.4,17.5 104,14.6 102.8,3" fill="none" stroke="#bbb" stroke-width="0.6"/>
<polyline points="160,0 164,10 175,20 181,26 183,40" fill="none" stroke="#bbb" stroke-width="0.6"/>
<polyline points="205,0 204,10 200,20 199,28 203,36 210,40" fill="none" stroke="#bbb" stroke-width="0.6"/>
<polyline points="230,0 236,10 250,18 262,26 280,30 300,30" fill="none" stroke="#bbb" stroke-width="0.6"/>
<polyline points="210,40 222,42 240,46 262,58 272,70 280,80 295,90 310,92" fill="none" stroke="#bbb" stroke-width="0.6"/>
<polyline points="230,72 245,75 262,72 280,72 300,80 315,90" fill="none" stroke="#bbb" stroke-width="0.6"/>
<polyline points="298,108 310,110 316,120 330,128 338,130" fill="none" stroke="#bbb" stroke-width="0.6"/>
<polyline points="287,130 300,138 312,150 318,160" fill="none" stroke="#bbb" stroke-width="0.6"/>
<polyline points="263,165 268,175 262,185 265,194" fill="none" stroke="#bbb" stroke-width="0.6"/>
<polyline points="205,168 212,178 215,194" fill="none" stroke="#bbb" stroke-width="0.6"/>
<polyline points="150,160 155,172 160,185 165,194" fill="none" stroke="#bbb" stroke-width="0.6"/>
<polyline points="181.5,172 182,183 186,194" fill="none" stroke="#bbb" stroke-width="0.6"/>
<polyline points="240,165 245,178 252,194" fill="none" stroke="#bbb" stroke-width="0.6"/>
<polyline points="290,150 300,162 298,176 305,194" fill="none" stroke="#bbb" stroke-width="0.6"/>
<polyline points="20,95 30,100 40,96" fill="none" stroke="#bbb" stroke-width="0.6"/>
<polyline points="18,110 30,104 40,100" fill="none" stroke="#bbb" stroke-width="0.6"/>
<polyline points="0,85 12,90 20,95" fill="none" stroke="#bbb" stroke-width="0.6"/>
<polyline points="50,90 60,85 70,80" fill="none" stroke="#bbb" stroke-width="0.6"/>
<polyline points="76.5,0 71.4,7.3 70.7,13 71.4,17.5 66.3,28.5 48.8,30 47,31" fill="none" stroke="#444" stroke-width="0.7"/>
<polyline points="66.3,28.5 72,30.7 75,38 78,42.3" fill="none" stroke="#444" stroke-width="0.7"/>
<polyline points="153,5 158,0" fill="none" stroke="#444" stroke-width="0.7"/>
<polyline points="214,2 216,8 224.2,14.1 232.3,20.2 242.3,24.2 252.4,26.2 260.5,30.2 268.5,36.3 278.6,40.3 288.7,44.4 298.8,48.4 308.9,49.4 316.9,47.4 321,48.4" fill="none" stroke="#444" stroke-width="0.7"/>
<polyline points="246.4,22.2 248.4,14.1 250.4,6 254.4,0" fill="none" stroke="#444" stroke-width="0.7"/>
<polyline points="286.7,0 296.8,6 306.9,12.1 312.9,16.1 319,20.2" fill="none" stroke="#444" stroke-width="0.7"/>
<polyline points="315,48.4 321,52.4 319,60.5 316.9,68.5 321,76.6 319,87 322,100 318,115 322,130 318,145 322,160 318,175 322,193" fill="none" stroke="#444" stroke-width="0.7"/>
<g clip-path="url(#rf)">
<rect x="0" y="0" width="338" height="193" fill="#3288bd"/>
<polygon points="58,62 62,53.1 72,40 79,38 84.7,40.8 88.5,45.5 98,44.6 109.3,43.6 113.1,49.3 109.3,56.9 111.2,68.3 105.5,72.1 94.2,72.1 88.5,74 79,74 75.2,70.2 60,70" fill="#99d594"/>
<polygon points="130.2,17.1 134,9.5 137.8,7.6 141.6,9.5 143.5,19 147.3,19 143.5,22.8 132.1,22.8" fill="#99d594"/>
<polygon points="160.6,36.1 168.2,34.2 171,41.7 166.3,43.6 161.5,42.7" fill="#99d594"/>
<polygon points="181.4,44.1 189,44.1 189,55.5 183.3,55.5" fill="#99d594"/>
<polygon points="147.3,74 154.9,70.2 158.7,62.6 162.5,74 166.3,85.4 164.4,89.2 156.8,85.4 151.1,81.6 147.3,79.7" fill="#99d594"/>
<polygon points="105.5,94.9 116.9,89.2 120.7,91.1 118.8,100 103.6,100" fill="#99d594"/>
<polygon points="200.4,76.3 208,68.7 215.5,65 223.1,66.8 228.8,70.6 226.9,82 223.1,85.8 215.5,83.9 208,80.1 200.4,80.1" fill="#99d594"/>
<polygon points="223.1,80.1 226,80.1 226,85.8 223.1,85.8" fill="#e6f598"/>
<polygon points="236.4,95.3 255.4,91.5 274.4,93.4 287.6,97.2 300,102.9 300,170 160,170 160,97 198.5,83.9 217.4,85.8 223,89" fill="#99d594"/>
<polygon points="245.8,103.1 258.1,101.1 274.4,101.1 290.8,105.2 294.9,117.4 286.7,127.7 282.6,137.9 274.4,144 266.3,152.2 266.3,164.4 258.1,166.5 241.7,164.4 237.7,154.2 241.7,144 245.8,129.7" fill="#e6f598"/>
<polygon points="190.7,146.1 221.3,144 221.3,166.5 205,167.5 192.7,164.4 180.4,166.5 180.4,156.3" fill="#e6f598"/>
<polygon points="160,123.6 168.2,121.5 170.2,137.9 160,142" fill="#e6f598"/>
<polygon points="160,97 196.8,97 200.9,109.3 196.8,119.5 188.6,121.5 180.4,119.5 172.3,123.6 160,121.5" fill="#3288bd"/>
<polygon points="198.5,83.9 217.4,85.8 219.3,93.4 215.5,102.9 200.4,102.9" fill="#3288bd"/>
<polygon points="196.8,119.5 207,117.4 211.1,127.7 215.2,137.9 207,142 200.9,144 190.7,144 180.4,148.1 172.3,152.2 160,158.3 160,137.9 172.3,133.8 180.4,129.7 188.6,127.7 194.7,125.6" fill="#3288bd"/>
<polygon points="160,156.3 176.3,154.2 180.4,162.4 180.4,168.5 160,168.5" fill="#3288bd"/>
<polygon points="223.1,89.6 236.4,93.4 238.3,102.9 245.8,105.2 245.8,119.5 241.7,127.7 233.6,135.8 225.4,137.9 221.3,131.7 229.5,121.5 230.7,108.6" fill="#3288bd"/>
<polygon points="278.2,101 282.9,101 282.9,104.8 278.2,104.8" fill="#3288bd"/>
<polygon points="245.9,99.1 255.4,99.1 255.4,114.3 249.7,120 245.9,116.2" fill="#fee08b"/>
<polygon points="258.1,119.5 270.4,115.4 276.5,121.5 276.5,131.7 268.3,133.8 260.1,129.7" fill="#fee08b"/>
<polygon points="260.1,121.5 265.3,116.4 268.3,117.4 271.4,127.7 266.3,129.7 261.2,127.7" fill="#d53e4f"/>
<polygon points="245.8,127.7 254,125.6 254,133.8 247.9,135.8" fill="#fc8d59"/>
<polygon points="260.1,131.7 274.4,133.8 274.4,144 266.3,146.1 260.1,142" fill="#99d594"/>
<polygon points="217.2,144 231.5,142 237.7,146.1 239.7,156.3 233.6,164.4 223.4,164.4 219.3,156.3" fill="#fee08b"/>
<polygon points="221.3,148.1 233.6,146.1 237.7,152.2 237.7,158.3 231.5,164.4 223.4,164.4 220.3,156.3" fill="#fc8d59"/>
<polygon points="243.8,156.3 249.9,154.2 252,162.4 245.8,164.4" fill="#fee08b"/>
<polygon points="194.7,148.1 202.9,148.1 202.9,156.3 195.8,156.3" fill="#fee08b"/>
<polygon points="199.5,152.5 202.5,152.5 202.5,155.5 199.5,155.5" fill="#fc8d59"/>
<polygon points="100.3,93 115.6,93 115.6,101.8 104.6,106.1 98.1,104" fill="#99d594"/>
<polygon points="128.7,101.8 137.5,97.4 146.2,101.8 150.6,110.5 146.2,117.1 137.5,117.1 128.7,110.5" fill="#99d594"/>
<polygon points="133.1,106.1 141.9,104 146.2,110.5 141.9,114.9 135.3,114.9" fill="#e6f598"/>
<polygon points="109,134.6 117.8,132.4 120,141.2 111.2,141.2" fill="#99d594"/>
<polygon points="80.6,149.9 87.1,147.7 89.3,156.5 82.7,158.7" fill="#99d594"/>
<polygon points="124.3,141.2 137.5,136.8 146.2,145.6 146.2,156.5 137.5,163.1 133.1,171.8 124.3,169.6 122.2,158.7 126.5,149.9" fill="#99d594"/>
<polygon points="159.4,119.3 178,117.1 178,147.7 168.1,149.9 163.8,145.6" fill="#99d594"/>
<polygon points="146.2,128 159.4,123.7 168.1,132.4 163.8,147.7 159.4,154.3 150.6,156.5 144,149.9 146.2,141.2" fill="#e6f598"/>
<polygon points="155,99.6 168.1,97.4 172.5,110.5 161.6,112.7 155,108.3" fill="#99d594"/>
<polygon points="120,165.3 130.9,165.3 137.5,171.8 133.1,180.6 124.3,180.6 120,174" fill="#e6f598"/>
<polygon points="124.3,180.6 133.1,180.6 130.9,189.3 124.3,189.3" fill="#99d594"/>
<path d="M30 154.1l.8-2 1.2-2.9 .1-3.2 .8-3 .5-3.1 .8-3 1-2.9M35.2 134l-1.4-.7M164 61.9l-3.6-.2-3.3 1.2-3.6-.4-3.3 1.7-3.4 .2M164 61.9l2.3 2.3 2.7 2 2.8 1.6 2.9 1.5 2.8 1.8M177.5 71.1l-.7 2.2 .5 2.2M177.3 75.5l-2.3 2.3-2.4 2.2-.9 3.4-1.8 2.6-2.9 1.8-1.5 2.9M165.5 90.7l-3.5 .4-3.4-1.3-3.4 .2-3.4 .1-3.5 .1-3.4-.3M146.8 64.4l-.9 3.1 .5 3.3 .4 3.2-1.8 3.1 .6 3.2 .2 3.2 0 3.2-.9 3.2M165.5 90.7l1.9 2.7 .2 3.3 1.2 3 1.3 2.9 1.4 2.9 1.4 2.8 .7 3.2M140.8 106l.8-3.4-.9-3.4 .5-3.4 .7-3.3M140.8 106l1.9 2.9 2 2.9 2.6 2.3 1.8 3 2.6 2.4 2.6 2.3M173.6 111.5l-2.5 2.2-2.9 1.8-2.4 2.3-2.3 2.4-2.2 2.6M154.3 121.8l3.6-.3 3.4 1.3M144.9 89.9l-1.8 .9-1.2 1.7M121.5 115.5l2.4-2 3-1 3.3-.3 2.1-2.6 3.1-.6 2.9-1.1 2.5-1.9M121.5 115.5l-1.8-2.5-2.5-2-1.6-2.8-2.2-2.3-1.6-2.8-3.3-1.3-1.5-2.9M141.9 92.5l-3.2-1.5-3.7-.2-3.3-1.3-3.2-1.7-3.4-1.1M107 98.9l2.4-2.1 3.3-.7 2.6-1.6 2.1-2.5 2.7-1.6 2.3-2.2 2.7-1.5M121.5 115.5l.3 3.2-1.5 2.9 .2 3.1-1.7 2.9 0 3.1-.4 3.1M154.3 121.8l-2.1 2.7-2.7 1.9-2.8 1.9-2 2.8-2.5 2.2-3 1.6-2.3 2.4M118.4 133.8l3 1 3.2 .2 2.9 1.1 3.1 .7 3.3-.4 3 .9M167.7 155.4l1.4-4.1 2.9-3.3M167.7 155.4l-3.2 1.3-3.4 0-3.1 1.4-.5 .1M149.4 160.4l-1.1 .4M172 148l-1.9-2.5 .3-3.4-1.4-2.7-1.7-2.6-1.3-2.7-.5-3.2-1.2-2.8-1.7-2.5-1.3-2.8M136.9 137.3l2.1 2.5 .4 3.5 1.3 3 1.9 2.7 1.7 2.8 1.7 2.8 .2 3.6 2.1 2.6M165.8 18.6l0 0-2.7 1.7-1.6 2.7M147.2 3.2l-.3 .4M146.9 3.6l1.7 2.6 2.3 2 1.2 2.9 .9 .8M157.4 16.8l1.1 .9 .8 3.2 2.2 2.1M146.9 3.6l-3.5-1.1-3.6 .7-2.4-.5M175.7 35.2l-2.2-.1-3.3-.3-3.2-.9M167 33.9l-2.8-2.2-2.6-2.5M161.5 23l-.5 3.1 .6 3.1M167.7 155.4l1.1 3.3 2.2 2.8 2.1 2.7 .1 .5M148.3 160.8l-.3 .7M196.6 101.6l2.7 2 2 2.6 3.7 .6 2.1 2.5 2.2 2.5 3.2 1.2 1.9 2.9 2.6 1.9 3 1.4M196.6 101.6l-2.8 1.3-1.9 2.5-2.6 1.5-1.5 3-2.7 1.4M185.1 111.3l1.8 2.8 1.2 3.1 .8 3.3 1.1 3.2 1.6 2.9 1.5 2.9 .6 3.4 2.2 2.7M195.9 135.6l2.9-1.5 2.4-2.3 2.9-1.2 3.3-.6 2.9-1.3 2.5-2.2 2.8-1.5 2.9-1.3M218.5 123.7l.5-2.4 1-2.1M177.3 75.5l2.1 2.5 2.2 2.4 1.9 2.7 2.7 1.9 2.2 2.4 1.9 2.7 3.1 1.5 2.4 2.2 1.8 2.8M197.6 96.6l-.9 2.5-.1 2.5M173.6 111.5l3.8-.8 3.9 1.5 3.8-.9M172 148l3.1-.4 3-.4 2.9-1.2 3.2-.2 2.8-1.5 3.1-.4 2.9-1M193 142.9l1-3.8 1.9-3.5M193 142.9l1.9 2.4 1.9 2.4 1.8 2.5 2 2.2 1.9 2.4 2.7 1.6 1.3 2.9 2.6 1.8M228.6 147.7l-2.6 2.1-3 1.7-2.9 1.7-2.6 2.2-2.4 2.6-3.3 1-2.7 2.1M228.6 147.7l-.5-3.3-2-2.7-1.3-3-1.1-3.1-2.1-2.6-.8-3.2-1.1-3.1-1.2-3M121.4 64.8l3.1 .4 2.9-1.5 3.1 1.3 2.9-.8 3 .1 3-.4 3-.8 3 .2M121.4 64.8l-1.5-3.2-.1-3.4-.5-3.4-1.1-3.3-.4-3.4-.4-3.4-.6-3.4M145.4 63.3l-1.5-3.1-.5-3.2 .7-3.5-.2-3.4-.8-3.2-1.8-3.1 0-3.3-.6-3.3M116.8 41.3l2.9-1.4 2.9-1.2 3.3-.1 2.7-2.1 3-.8 3.2-.5M134.8 35.2l2.7 1.7 3.2 .3M146.8 64.4l-1.2 .1-.2-1.2M119.6 67.4l1.1 3.2 1.4 3.1 .4 3.4 1.2 3.1 1.3 3.1 .1 3.4M119.6 67.4l.9-1.3 .9-1.3M164 61.9l.4-3.1 .5-3.1 .9-3.1-1-3.2 .8-3.1-.3-3.2 .3-3.1 1.3-3 .1-3.1M161.6 29.2l-3.2 .5-3 1.3-2.7 1.7-3 1.2-3.1 .7-2.7 2.2-3.2 .4M109.8 38.2l3 1 4 2.1M130.9 13.2l.2 .9 1.2 2.9 0 3.1 1.4 2.9 .4 3-.9 3.3 1.7 2.8-.1 3.1M98.1 89.8l.5-3.4 1.9-2.9 1.3-3.2 .8-3.3 1.3-3.1 1.1-3.3M98.1 89.8l-3-1.1-3-.2-3-.6-3.2 .3-1.7-.6M74.6 74l2.6-1.3 2.9-1.8 2.8-1.9 2.4-2.3 2.4-2.5 2.5-2.2 3.1-1.5M93.3 60.5l2.6 1.7 2.1 2.3 2.8 1.5 1.4 3 2.8 1.6M107 98.9l-.8-.2-.9-.1M105.3 98.6l-2.7-2.7-1.9-3.3-2.6-2.8M119.6 67.4l-2.8 1.2-3 .4-2.9 .9-2.9 .4-3 .3M66 62.4l1.3 1.2 1.6 2.7 1.5 2.8 1.5 2.8 .1 .1M93.5 44.6l-.6 2.7 .7 3.3 .5 3.3-.5 3.3-.3 3.3M35.2 134l3.7-1.1 3.2-1.7 3-2.3M46.9 111.3l1.8 2.4M45.1 128.9l1.2-2.9 .5-3.1 1.2-3 .6-3.1 .1-3.1M30 155.2l2.5 1.1 2.3 2.2 2.1 2.3M36.9 160.8l2.4-2.2 2.7-1.4 2.7-1.5 3.2-.6 2.8-1.4 2.5-1.9 2.8-1.3 2.7-1.5 2.4-2M61.1 147l-.3-2.7 .6-2.5M45.1 128.9l2.6 2.4 3.3 1.3 1.9 3.2 3.5 1.2 2.7 2.1 2.3 2.7M48.7 113.7l3.5-.4 3.3-1.4 3.6 0 2-.5M125.5 194l0 0-3.1-.4-.8 .4M116.6 194l-.5-.2-1.7 .2M81.4 185.9l3 1.3 2.6 2.1 3.1 1.3 3.1 1.1 2.5 2.2 1.3 .1M81.4 185.9l-.8 .3-.9 0M79.7 186.2l-.1 3.1-1.7 2.7-1 2M71 159.5l-.7 3.4 .3 3.4-.8 3.3 .1 3.5-.7 3.3M71 159.5l2.8-1.9 3.5-.1 3.1-1 2.4-2.5 2.9-1.6 3.3-.5M81.4 185.9l2.9-1.7 1.6-3 3-1.6 2.3-2.2 1.7-2.9 3.3-1.3 1.9-2.6 2.8-1.8 1.8-2.7M79.7 186.2l-2.2-2.9-3.5-1.5-2.2-2.9-2.6-2.5M89 151.9l1.9 2.7 2.2 2.5 3.3 1.3 1.9 2.8 2 2.6 2.4 2.3M113 194l-.2-2.9-.5-3.2 1.7-3.1-.9-3.1-.2-3.2-.5-3.1 1.8-3.1-1.4-3.2 .6-3.1M102.7 166.1l3.6 .3 3.5 .2 3.6-.6M118.4 133.8l-.4 .2-.3 .3M140.5 170.1l-2.8-1-3.4 .1-3.2-1.4-3.2-.9-3.5 .5-3.3-.2-3.3-.6-3.1-1.4M117.7 134.3l-.7 3.1 0 3.1-.1 3.1-.1 3.1-.1 3.1-.3 3.1-.8 3.1-.3 3.1 .2 3.1-.8 3M114.7 165.2l-.3 1.1-1-.3M209.1 161.1l-.4 3-.9 3 0 .5M180.5 171.1l2 .6 0 0M283.8 138.9l-.3 .1-3.2-.2-2.9 1-2.8 1.2-2.7 1.4M266.2 159.2l-.4-.7-1.4-2.7M271.9 142.4l-1.2 2.8-1.7 2.6-1.6 2.7-.9 2.9-2.1 2.4M220.4 118.9l.1 .6-.5-.3M220.4 118.9l.5-3 .1-.2M224.5 107.7l0 0 .7-3 1.4-2.7 .5-3 .7-2.8M197.6 96.6l2.2-2.8 2.5-2.4 3.4-1.4 2.5-2.5 2.6-2.3M210.8 85.2l3.5-.7 3.3 .8 3.4 0 3.5 .2 2.7 .2M297.3 112.1l-.4-.4-2.7-1.8-2.3-2.4M286.6 135.5l.1-.7 .1-3.1-.8-2.3M285.6 117.7l-.5-1.1 1.3-3.1-.7-3M285.7 110.5l3.3-1.1 2.9-1.9M291.9 107.5l1.4-3.9 1.2-1.8M72.7 113.2l-.8 3 .2 3.1 1.3 3-.8 3 0 3.1 .6 3M72.7 113.2l3.4 0 3.4 .8 3.5-.6 3.4 1 3.5-1 3.4 .5M73.2 131.4l2.8 1.6 2.9 1.3 2.7 1.7 3.3 .3 2.3 2.7 3.2 .5M93.3 113.9l1 3.2 2.1 2.7 .8 3.3 1.8 2.8 1.6 3 .4 3.4M101 132.3l-3 1.2-2.1 2.6-3.2 1.1-2.3 2.3M61.4 141.8l2.3-2.1 2.7-1.8 2.1-2.4 2.3-2.1 2.4-2M71.1 111.4l1.6 1.8M105.3 98.6l-1.8 2.7-2.8 2-2.1 2.5-1.4 2.9-2.6 2.1-1.3 3.1M61.1 147l2.1 2.4 1.4 2.9 2.2 2.4 1.6 2.9 2.6 1.9M89 151.9l1.2-3-1.3-3.3 .9-3 .6-3.1M117.7 134.3l-3.3-1-3.5 1.1-3.3-.9-3.3-.1-3.3-1.1M37 161l2.3 2 2.9 1.2 2.4 1.8 2.4 1.9 1.8 2.7 3.1 .9 2.6 1.5 1.5 3.1 2.8 1.3M37 161l-1.2 2.8-.9 3-.7 2.9-1.3 2.9-.5 3-.6 3-1.3 2.8 0 3.2M58.8 177.4l-2.4 2-1.6 2.8-2.9 1.7-2 2.5-1.8 2.6-1.9 2.5-1.7 2.5M30.5 184.6l2.1 2.6 1.9 2.7 2.4 2.3 2.9 1.7 .1 .1M36.9 160.8l.7-.1-.6 .3M69.2 176.4l-3.5-.3-3.3 1.7-3.6-.4M246 155.8l3.1-.4 3 1.2 3.1-1.5 3.1-.1 3 .2 3.1 .6M246 155.8l-1.6 3 .4 3.6-1 1.8M228.6 147.7l3.7 .6 3.5 1.5 3.8-.2M239.6 149.6l2.7 3.6 3.7 2.6M275.8 108.2l-2.4-2.2-1-3.2-2.8-2-1.1-3.1-1.2-2.7M275.8 108.2l-2 2.6-2.4 2.2-3.1 1.5-2.4 2.3-2 2.7-1.7 2.8-2.9 1.8M258.5 94.6l-2.6 1.5-2.8 1.3-2.4 2.3-3.2 .6M247.5 100.3l-.5 3.3 .4 3.3-1 3.2 .5 3.3-.8 3.3 .7 3.3M259.3 124.1l-3.3 .3-3.1-1.2-3.2-.1M246.8 120l1.5 1.5 1.4 1.6M285.7 110.5l-3.4-.5-3.4-.4-3.1-1.4M271.9 142.4l-2.3-2.2-1.5-2.9-1.6-2.7-2.5-2.2-.4-3.6-2.4-2.2-1.9-2.5M237.1 94.2l1.6 1.5 2.8 1.7 3.2 1.1 2.8 1.8M220.4 118.9l3.3-.7 3.3 1.2 3.3-.6 3.3 .3 3.3 1.2 3.3-.9 3.3 .5 3.3 .1M239.6 149.6l.5-3.2 1-3 2.1-2.6 .5-3.2 1.7-2.7 1.5-2.8 .3-3.2 .6-3.2 1.9-2.6M193.7 40l.2 3 .3 3.1-.5 3.2 .1 3.2 1.1 3 .3 3.2M203.3 61l-.3 .1-3.4 0M199.6 61.1l-2.6-.5-1.8-1.9M177.5 71.1l2.2-2.3 3.2-.7 1.7-3 2.9-1.3 3.1-.9 2.3-2.1 2.3-2.1M210.8 85.2l-1-3.2-1.2-3.1-2.3-2.6-.3-3.5-2.2-2.7-1.4-3-1.9-2.8-.9-3.2M227.8 84.4l-.1-1.9-.3-3.1-.8-3.1-.5-3.2 .5-3.2-.2-1.5" fill="none" stroke="#3a3a3a" stroke-width="0.45" stroke-opacity="0.75"/>
</g>
<polygon points="132,5.8 137.5,2.6 143,2 153,5 153,17 160,16.6 167,19 169,28 173,33 178,37 179,42 181,44 183,40 188,39 194,40 195,47 199,53 202,60 206,63 215,65 225,67 230,72 230.3,77 229,82 226,88 223.3,94.1 219.8,97.6 218,104.6 218.9,111.5 221.5,116.8 225,118.5 228.5,116.8 227.7,111.5 223.3,106.3 221.5,101.1 225,97.6 228.5,95.8 232,94.3 246,94 254,91 259,95 272,95 285,99 295,102 298,115 295,117 282,118 278,125 287,130 287,135 282,141 279,145 273,148 268,156 263,165 258,166 247,164 231,165 218,166 205,168 200,162.5 195,165 189,170 181.5,172 174,165 163,161 155,157 150,160 142,166 139,174 133,179.5 131.5,194 30,194 30,140 38,126 41,122 44,118 46,114 47,111 50.5,109.9 58,111 67.3,112.1 73,111 80.5,109.2 89.2,108.5 91,105.5 89,99 86,89.5 80,83 76,75 68,69 65.5,64.2 66.3,61.3 69.2,52.6 76.5,43.8 82.3,40.1 85.3,40.9 89.6,45.3 98.4,43.8 107,43 108.6,39.4 113,35 114.5,29.2 118.8,24.8 126,22 130.5,14.6 133.4,5.8" fill="none" stroke="#222" stroke-width="0.8"/>
<polygon points="27.9,115.8 30.8,117.2 36.7,118.7 39.6,121.6 41.1,124.5 44,126 45.4,128.9 49.8,133.3 55.7,136.2 63,138.4 71.7,137.7 79,135.5 81.2,134.7 77.6,138.4 74.6,142 68.8,145 61.5,147.1 57.1,148.6 53.5,148.6 52.7,150.8 55.7,153.7 60,158.1 64.4,162.5 68.8,166.9 74.6,172.7 80.5,177.1 84.9,180 90.7,178.5 98,175.6 103.8,172.7 109.7,166.9 112.6,162.5 108.2,159.6 111.1,156.6 112.6,153.7 111.7,152.3 116.8,151.3 122.9,152.3 118.8,153.3 117.8,159.5 120.9,161.5 126,162.5 120.9,163.6 118.8,166.6 119.8,171.7 121.9,175.8 122.9,179.9 121.9,186 120.9,194 27.9,194" fill="#000"/>
<circle cx="198.8" cy="29.8" r="1.0" fill="#000"/>
<circle cx="175.7" cy="62.2" r="1.0" fill="#000"/>
<circle cx="263.4" cy="60" r="1.0" fill="#000"/>
<circle cx="253" cy="69.9" r="1.0" fill="#000"/>
<circle cx="234.8" cy="172.5" r="1.0" fill="#000"/>
<circle cx="118.5" cy="136" r="1.0" fill="#000"/>
<circle cx="121" cy="172.4" r="1.0" fill="#000"/>
<circle cx="175" cy="143" r="1.1" fill="#d7191c"/>
<text x="201.5" y="30.5" font-size="4.6" font-weight="normal" font-style="normal" fill="#111" font-family="Liberation Sans, sans-serif" textLength="17.5" lengthAdjust="spacingAndGlyphs">New Delhi</text>
<text x="295" y="33.4" font-size="7.4" font-weight="bold" font-style="normal" fill="#111" font-family="Liberation Sans, sans-serif" textLength="18.6" lengthAdjust="spacingAndGlyphs">Nepal</text>
<text x="177" y="64.1" font-size="7.6" font-weight="normal" font-style="normal" fill="#111" font-family="Liberation Sans, sans-serif" textLength="17.5" lengthAdjust="spacingAndGlyphs">Jaipur</text>
<text x="264" y="62.8" font-size="7.6" font-weight="normal" font-style="normal" fill="#111" font-family="Liberation Sans, sans-serif" textLength="26" lengthAdjust="spacingAndGlyphs">Lucknow</text>
<text x="254.9" y="75.8" font-size="7.6" font-weight="normal" font-style="normal" fill="#111" font-family="Liberation Sans, sans-serif" textLength="22.1" lengthAdjust="spacingAndGlyphs">Kanpur</text>
<text x="201.6" y="105.6" font-size="7.6" font-weight="bold" font-style="normal" fill="#111" font-family="Liberation Sans, sans-serif" textLength="14.3" lengthAdjust="spacingAndGlyphs">India</text>
<text x="176.4" y="145.2" font-size="7.6" font-weight="normal" font-style="normal" fill="#111" font-family="Liberation Sans, sans-serif" textLength="20" lengthAdjust="spacingAndGlyphs">Indore</text>
<text x="235.9" y="174.5" font-size="7.6" font-weight="normal" font-style="normal" fill="#111" font-family="Liberation Sans, sans-serif" textLength="22.9" lengthAdjust="spacingAndGlyphs">Nagpur</text>
<text x="119.8" y="137.9" font-size="7.6" font-weight="normal" font-style="normal" fill="#111" font-family="Liberation Sans, sans-serif" textLength="36.8" lengthAdjust="spacingAndGlyphs">Ahmedabad</text>
<text x="122.5" y="173.8" font-size="7.6" font-weight="normal" font-style="normal" fill="#111" font-family="Liberation Sans, sans-serif" textLength="17" lengthAdjust="spacingAndGlyphs">Surat</text>
<text x="50.2" y="144.5" font-size="5.0" font-weight="normal" font-style="italic" fill="#eee" font-family="Liberation Sans, sans-serif" textLength="27.6" lengthAdjust="spacingAndGlyphs">Gulf of Kutch</text>
<text x="30.5" y="99.4" font-size="7.6" font-weight="normal" font-style="normal" fill="#111" font-family="Liberation Sans, sans-serif" textLength="16.2" lengthAdjust="spacingAndGlyphs">rachi</text>
<rect x="17.5" y="9.5" width="29" height="77.5" fill="#fff" stroke="#777" stroke-width="1"/>
<rect x="20" y="24.4" width="9" height="8.6" fill="#d53e4f"/>
<rect x="20" y="33.9" width="9" height="8.6" fill="#fc8d59"/>
<rect x="20" y="43.7" width="9" height="8.6" fill="#fee08b"/>
<rect x="20" y="53" width="9" height="8.6" fill="#e6f598"/>
<rect x="20" y="63" width="9" height="8.6" fill="#99d594"/>
<rect x="20" y="73" width="9" height="8.6" fill="#3288bd"/>
<text x="37.3" y="27.7" text-anchor="middle" font-size="7.4" fill="#111" font-family="Liberation Sans, sans-serif">4</text>
<text x="37.3" y="36.7" text-anchor="middle" font-size="7.4" fill="#111" font-family="Liberation Sans, sans-serif">3</text>
<text x="37.3" y="46.2" text-anchor="middle" font-size="7.4" fill="#111" font-family="Liberation Sans, sans-serif">2.5</text>
<text x="37.3" y="55.3" text-anchor="middle" font-size="7.4" fill="#111" font-family="Liberation Sans, sans-serif">2</text>
<text x="37.3" y="64.7" text-anchor="middle" font-size="7.4" fill="#111" font-family="Liberation Sans, sans-serif">1</text>
<text x="37.3" y="73.7" text-anchor="middle" font-size="7.4" fill="#111" font-family="Liberation Sans, sans-serif">0.5</text>
<text x="37.3" y="82.7" text-anchor="middle" font-size="7.4" fill="#111" font-family="Liberation Sans, sans-serif">0</text>
</g>
<path d="M0.5,192.5 V0.5 H337.5" fill="none" stroke="#8a8a8a" stroke-width="1"/>
<path d="M337.5,0.5 V192.5 H0.5" fill="none" stroke="#b8b8b8" stroke-width="1"/>
</g>
<g transform="translate(0,752)">
<clipPath id="clipg"><rect x="0" y="0" width="338" height="193"/></clipPath>
<clipPath id="rg"><polygon points="132,5.8 137.5,2.6 143,2 153,5 153,17 160,16.6 167,19 169,28 173,33 178,37 179,42 181,44 183,40 188,39 194,40 195,47 199,53 202,60 206,63 215,65 225,67 230,72 230.3,77 229,82 226,88 223.3,94.1 219.8,97.6 218,104.6 218.9,111.5 221.5,116.8 225,118.5 228.5,116.8 227.7,111.5 223.3,106.3 221.5,101.1 225,97.6 228.5,95.8 232,94.3 246,94 254,91 259,95 272,95 285,99 295,102 298,115 295,117 282,118 278,125 287,130 287,135 282,141 279,145 273,148 268,156 263,165 258,166 247,164 231,165 218,166 205,168 200,162.5 195,165 189,170 181.5,172 174,165 163,161 155,157 150,160 142,166 139,174 133,179.5 131.5,194 30,194 30,140 38,126 41,122 44,118 46,114 47,111 50.5,109.9 58,111 67.3,112.1 73,111 80.5,109.2 89.2,108.5 91,105.5 89,99 86,89.5 80,83 76,75 68,69 65.5,64.2 66.3,61.3 69.2,52.6 76.5,43.8 82.3,40.1 85.3,40.9 89.6,45.3 98.4,43.8 107,43 108.6,39.4 113,35 114.5,29.2 118.8,24.8 126,22 130.5,14.6 133.4,5.8"/></clipPath>
<g clip-path="url(#clipg)">
<rect x="0" y="0" width="338" height="193" fill="#fff"/>
<path d="M83.4 90.3l2.4-1.8 2.3-2.1 3.1-.7 2.2-2.2 3.2-.4 2.4-1.9 2.9-1.1 2.3-2 2.5-1.6 2.6-1.6 2.5-1.8M83.4 90.3l.2-3.2-1.8-2.7 .2-3.2-1.4-2.8-.3-3.1 0-3.1-1.9-2.7 1-3.3-1.3-2.9 0-3.1-1.1-2.9 0-3.1-1.4-2.8M111.8 73.1l-.7-3.2 .3-3.4-1-3.2 .3-3.4-.5-3.3 .2-3.3-.1-3.4-.7-3.3-.3-3.3M75.6 51.4l2.8-1.7 2.3-2.5 3.1-1.2 2.5-2.1 2.6-2.1 3-1.3M91.9 40.5l3.3-.5 3.2 .8 3.2 .1 3.2 1 3.2 .1M108 42l.7 .6 .6 .7M129.2 83.2l-3.2-1.2-2.4-2.5-3.2-1.2-3.1-1.4-3-1.4-2.5-2.4M129.2 83.2l2.6-1.8 1.7-2.7 2.5-2 2-2.5 1.7-2.7 3.4-1.1 1.6-2.8M144.7 67.6l-1-3-1.1-2.8-.9-3-.7-3-2-2.6-.9-2.9-.6-3M137.5 47.3l-3.2-.2-3-1.5-3.3 .9-3.1-.8-3.1-.8-3.2 .3-3.1-1-3.1-.3-3.1-.6M57.8 48.9l-2.3-2.5-2.4-2.3-1.6-3.2-2.1-2.6-2.8-2.1M57.8 48.9l3.6 0 3.6 .5 3.4 1.3 3.7-.4 3.5 1.1M46.6 36.2l.6-3.1 2.1-2.5 .3-3.2 1.3-2.8 .4-3.1 1.1-2.9 .7-3.1 1.2-2.8 1.6-2.8M77.9 9.6l-3.3-.5-2.8-2-3.4-.3-2.9-1.7M77.9 9.6l1.2 2.8 1.7 2.6 .7 3.1 1.4 2.8 2.2 2.4 .1 3.3 2.4 2.3 .3 3.3 1 2.9 2.4 2.3 .6 3.1M55.9 9.9l2.9-2.1 3.1-1.9 3.6-.8M57.8 48.9l-1.1 2.8-1 2.9-1.6 2.5-1 2.9-1.4 2.6-2.1 2.4-1.4 2.6-1.3 2.7-.8 3-1.7 2.5-1.2 2.7-.5 3.1M42.7 81.6l2.9 1.2 3 1.1 2.8 1.4 2.6 2 3.1 .8 2.5 2 2.9 1.4 2.9 1.3 3.1 .8 2.6 1.8M83.4 90.3l-.7 .8-.2 1M82.5 92.1l-3.6 1.6-3.7 1.4-4.1 .3M10.8 193l2.8-1 2.9-1.4 2.5-2 2.6-2 2.8-1.4M24.4 185.2l.8 3 1.4 2.7 1.1 2.1M129.7 193l-2.3-.4-2.4 .4M123.7 193l-2.7-1.5-3.2-.3-3.2-.1-3.2-.1-3.3 .4-3.1-1.1-3.3 0-3.1-.7M97.3 193l.3-.4 1-3M96.3 167.5l3.1-.4 3.2-.1 3-1.1 3.1-.5 2.8-1.7 3.2 .1 2.9-1.6 3.2-.2 3.3 .4 2.7-2.2 3.2 .1M96.3 167.5l-.9 1.5-1.4 1.2M134.6 193l1.9-1.8 1.7-3.6 2.5-2.9M94 170.2l1.6 3.1-.7 3.6 1.6 3 .8 3.2 .6 3.3 .7 3.2M140.7 184.7l-1-3.2-1.5-3-1.6-2.9-.6-3.4-2-2.7-1.6-3-.5-3.4-1.9-2.8M144.7 67.6l3.3 .3 3.3 1.4 3.5-.8 3.4 0 3.2 1.6 3.4-.1 3.3 .6M137.5 47.3l2-2.7 3.1-1.4 1.5-3.2 3.4-1.2 1.9-2.8M149.4 36l3 .9 2.9 1.2 3.1 .9 3.1 .4 2.6 2.2 3.2 .5 2.9 1.3 3 .8M168.1 70.6l1.4-2.7 .9-2.9 .6-3 2-2.5-.1-3.3 1.9-2.5 1-2.9M175.8 50.8l-.5-3.6-2.1-3M0 127.7l2-1.6 2.5-1.7 2.6-1.5 3-.8M0 95l.6 .4 1.9 2.5 1.8 2.6 2.8 1.5 2.2 2.1 2.5 1.9 1.5 2.7 2.1 2.2M10.1 122.1l1.2-2.9 1.8-2.5 .7-3.1 1.6-2.7M42.7 81.6l-1.5-.1-1.3 .8M39.9 82.3l-1.2 2.9-2.4 2.2-1.4 2.8-1.7 2.6-1.3 2.8-1.8 2.6-2.9 1.8-.6 3.4-1.5 2.7-2.3 2.2M71.1 95.4l-2.1 2.6-1.3 2.9-.5 3.3-1.7 2.7-1.1 3-1.3 3-2.4 2.4-.2 3.4-2.6 2.3-.3 3.4-1.6 2.8M56 127.2l-2.4-2.2-3.4-.5-2.8-1.6-2.6-1.8-2.3-2.3-3-1.3-3.3-.6-2.8-1.5-2.2-2.6-2.7-1.6-3.1-1.1-2.6-1.8M15.3 62.4l-1.6 .9-1.7-.9M15.3 62.4l2.4-2 1.3-2.8 2.5-1.8 2.2-2.1 1-3.1 2.1-2.2 2.5-1.8 1.2-2.9 2-2.3 2.3-1.9 2-2.3M12 62.4l-2.2-2.2-.3-3.4-2.6-2-.8-3.1-.9-3-2.6-2.1-.5-3.1-1.4-2.8-.7-.7M36.8 37.2l-2.7-1.9-2.3-2.3-3-1.3-2.8-1.7-2-2.9-3-1.3-2.9-1.4-2.6-2-2.3-2.3-2.9-1.6M0 34.7l2.3-1.5 .8-3.3 2-2.6 .6-3.4 1.6-2.8 2.1-2.5M9.4 18.6l.4-.7 .5 .6M39.9 82.3l-2.9-1.5-1.9-2.7-2.4-2-2.2-2.3-3.4-.8-1.5-3.3-2.5-1.8-2.4-2.1-2.7-1.6-2.7-1.8M0 73l.3-.3 2.3-2.1 2.5-1.8 1.6-3 3.2-1 2.1-2.4M15.4 110.9l3.6-1.7 3.8-.9M46.6 36.2l-3.2 1.1-3.3 .1-3.3-.2M55.9 9.9l-2.7-1.5-3-1-2.4-2-2.6-1.8-3.1-.7-2.4-2.2-1.9-.7M28.3 0l-1 1.2-2.5 1.8-2.1 2.2-2.1 2.2-1.6 2.6-2.7 1.7-1.3 2.9-2.4 1.9-2.3 2M0 11.6l2.5 .9 2.5 1.9 1.6 2.8 2.8 1.4M149.4 36l-.4-3.2-1.2-3.1-.7-3.1 .9-3.5-1-3.1-.9-3.1 .2-3.3-.9-3.2M108 42l2-2.6-.1-3.3 2-2.5 1-3 0-3.3 2.7-2.2-.3-3.4 2.3-2.5 1-2.9 .8-3M145.4 10.4l-3.1 1-3.4-.6-3.2 1.2-3.3-.4-3.2 1.1-3.3-.5-3.2 1.3-3.3-.2M77.9 9.6l2.7-1.7 3-1 2.6-1.8 3.2-.7 2.7-1.6 2.7-1.6 2.3-1.2M108.9 0l.3 1 3.2 1.6 .8 3.4 2.9 1.8 .8 3.4 2.5 2.1M94.3 132.8l-.4-3.2 .6-3.1 .6-3.1 .8-3.1-1.5-3.2 1.1-3-.7-3.2 1-3.1M94.3 132.8l1.9 1 .9 1.9M97.1 135.7l3 .4 3-.2 3 .4 3 .4 3.1 0 3-.2 3-.5 3 .4 3 .1 3-.3M95.8 107.8l3.1-.7 3.1 1 3.1 .2 3.1-.3 3.2-.1 3.1 0 3.1 0 3.1-.5 3.1-1 3.1 .3M126.9 106.7l-.7 3.3 .5 3.2-.2 3.3 .7 3.3 .3 3.3-1.2 3.2 .8 3.3-.5 3.3 .6 3.3M96.3 167.5l.3-3.2-.6-3.2 0-3.2 .5-3.1-.1-3.2-.3-3.2 .3-3.2-.2-3.2 1.3-3.1-.4-3.2M134.8 144.4l-1.6 3-.4 3.3-.2 3.4-1.7 3-.9 3.2M134.8 144.4l-2-3.3-2.9-2.3-2.7-2.6M132.9 99.9l-.8-3.3-.5-3.4-.5-3.4-1.6-3.2-.3-3.4M132.9 99.9l-1.8 2.4-2.7 1.7-1.5 2.7M82.5 92.1l1.7 3 3.1 1.9 1.6 3.2 1.8 2.9 2.6 2.3 2.5 2.4M199.4 175.2l.4 3 1.1 3-.6 3.2 1.5 2.9-.2 3.1 .9 2.6M199.4 175.2l-3.2 .1-2.9-.8-3-.8-2.8-1.6-2.9-1-3.2 .1-3-.6-2.9-1.1M164.7 183.2l2.6-2.4 1.3-3.4 2.3-2.6 2.6-2.4 2-2.9M164.7 183.2l1 2.9 1.4 2.7 1.9 2.5 0 1.7M233.9 178.6l-1 3 .3 3.2-1.4 2.9-.6 3-.1 2.3M233.9 178.6l-1.9-2.6-3.1-1.2-2.5-1.9-2.2-2.4-2.2-2.3-2.8-1.5-2.5-1.9M216.7 164.8l-2.6 2.3-2.8 1.9-3.5 .6-2.6 2.2-3.3 1-2.5 2.4M140.7 184.7l3-.6 3 .8 3-.6 3-.7 3 .8 3-.8 3-.7 3 .3M132.9 99.9l3.2 .7 3.4 0 3 2.1 3.2 .7 3.4-.2M168.1 70.6l1.7 2.6 1.4 2.7 0 3.4 1.9 2.5 1 2.9M174.1 84.7l-2.9 1.3-1.9 2.8-3 1-1.9 2.7-2.3 2.1-2.5 1.9-2.9 1.4-2.4 1.9-2.5 1.9-2.7 1.5M174.7 163.9l-2.6-1.7-1.7-2.9-3.2-1.2-2.5-2-1.8-2.8-2.4-2-2.9-1.6-1.9-2.6-2.4-2.2-3-1.2-2.4-2.2M174.7 163.9l1-3 2.6-2.1 .2-3.5 2.2-2.3 1.5-2.8 1.5-2.7 1.1-3 1.3-2.8 1.7-2.7M187.8 139l-2.4-2.1-.9-3.3-2.1-2.4-1.9-2.5-2.8-1.8-1.9-2.5M175.8 124.4l-3-.9-3 1.8-3.1-1-3 .4-3 .1M147.9 141.5l2.3-2 .8-3.1 2.1-2.3 2.5-1.8 .8-3.2 3-1.5 1.3-2.8M134.8 144.4l3.4 0 3.3-.6 3.2-1.3 3.2-1M175.5 169.5l-.1-2.8-.7-2.8M149.1 103.2l1.1 2.9 1.9 2.5 1.6 2.6 1.6 2.6 .6 3.1 2.3 2.3 1.3 2.7 1.2 2.9M335.1 0l.2 .6 2 2.3 .7 .4M278.6 0l1.1 3.7 3 2.2 2.5 2.6M305.5 0l-.7 2.5-1.4 2.9M285.2 8.5l3.2 .3 2.8-1.7 3.2 .5 2.9-1.1 3.2 .3 2.9-1.4M338 15.4l-1 .8M337 16.2l-3.3-.1-3.2 1-3.2 1.1-3.5-1.1-3.2 .9-3.1 1.6-3.4-.4M314.1 19.2l-1.5-3.2-3-2.2-2.5-2.4-1.9-3-1.8-3M285.2 8.5l-1.4 2.8 .4 3.3-2 2.6-1.1 2.9 .6 3.4-1 2.9-1.4 2.8-.7 3-.7 3-1.2 2.9M303.4 42l-3.2-.9-3.2 .9-3.2 .4-3.2-1-3.3 .9-3.2-.3-3.2-.7M303.4 42l1-3 1.1-3 1.8-2.6 .9-3.1 1.7-2.6 2.3-2.4 .6-3.2 1.3-2.9M276.7 38.1l2.2 1.5 2 1.7M305.5 88.4l3.2 .2 3.2-.4 3-1.4 3.2 .4 3.2-.6 3.1-.7 3.2 .3 3.2 .1 3.1-.8M305.5 88.4l-.7-2.7-1-2.5M303.8 83.2l1.3-3 .2-3.2 2-2.7 1.3-3-.4-3.5 2.4-2.5-.1-3.5 1.3-2.9 1.3-2.9 .7-3.1M333.9 85.5l1.2-2.8-.1-3.3 1.1-2.9 1.8-2.6 .1-.8M313.8 52.9l3.2-.5 3.3-.1 3.1 1.5 3.3-.2 3.2-.4 3.2-.3 3.2 .8 1.7-.1M304 93.2l-2.7 1.7-3.1 .4-2.8 1.4-3.1 .5-2.5 2.1-2.9 1.1-3.4-.2-2.7 1.4-2.7 1.8-3 .7-3.2 .2-2.6 1.8M304 93.2l1-2.3 .5-2.5M268.8 105.7l.6-.3-.1 .7M268.8 105.7l0-3.3-1.9-2.8 .3-3.4-.7-3.2-2.3-2.7-.2-3.3-.2-3.2-1.1-3.1M279.7 69.7l-3.1 1.5-2.9 1.6-2.5 2.3-2.6 2.3-2.8 1.9-3.1 1.4M279.7 69.7l2.5 1.9 3.2 .4 2 2.7 2.7 1.5 2.6 1.6 3 1.1 2.3 2 2.8 1.3 3 1M303.4 42l1.7 2.6 3.1 1.2 1.1 3 2.7 1.6 1.8 2.5M280.9 41.3l-.8 3.1 1.3 3.2-.8 3.2 .2 3.1-.1 3.2-.4 3.1-.9 3.2-.2 3.1 .5 3.2M338 90.8l-.4-.3-2.1-2.3-1.6-2.7M337 16.2l.7 3.1-.1 3.1-.4 3.2 .8 2.7M28.7 154l3-1.2 2-2.7 2.7-1.6 2.8-1.4 2.8-1.4 3.2-.7 2.5-1.9 2.4-2.1 3.1-1 2.8-1.3 2.3-2.4M28.7 154l-.9 3.3-1.1 3.3-1.9 3-.5 3.4M24.3 167l1.7 2.8 .6 3.3 1.2 3M27.8 176.1l3.2 1 3.5-.9 3.1 1.3 3.2 1 3.5-.7 3.2 1 3.2 .9 3.3-.2 3.2 1.1M70.7 166.7l-1.7 2.8-2.4 2.2-2.8 1.8-1.5 3-3.3 1.3-1.8 2.8M70.7 166.7l-1.6-2.7-.6-3.2-1.7-2.7-.3-3.2-1.2-2.9-.5-3.2-2.3-2.5-.2-3.3-1.1-2.9-1.5-2.8M59.7 137.3l-.7-.5-.7-.5M10.1 122.1l1.3 2.8 1.6 2.7 2.1 2.3 1.2 2.8 1.8 2.6 1.7 2.5 .9 3.1 1.3 2.8 2 2.4 1.7 2.5 2.2 2.3 .8 3.1M56 127.2l1.4 2.8-.1 3.3 1 3M0 163.1l2.9 .1 3.1 .6 3.1 0 2.8 1.8 3.4-1 3 .6 2.9 1.4 3.1 .4M24.4 185.2l1.1-3 2-2.7 .3-3.4M60.9 193l-.1-.4 .1-3.3-1.5-2.8-1.4-2.9-.8-3M94 170.2l-3.3-.3-3.3-1-3.4 .3-3.4-.3-3.2-1.3-3.2-1-3.5 .1M94.3 132.8l-3 1.2-3.3-.7-3.1 1.2-3.1 .6-3.2-.5-3.1 1.3-3.3-.8-3 1.4-3.2 0-3.2-.4-3.1 1.2M152.9 2.2l0-2.2M152.9 2.2l3.2 .5 3.1 .6 3 1.1 2.9 1.5 3.3 .2 3.1 .7 3.1 .9 2.9 1.6 2.9 1.2 3.4-.1 3 1M196.3 0l-1 1.4-1.2 3.1-2 2.7-1.6 2.8M186.8 11.4l1.9-.5 1.8-.9M145.4 10.4l2.2-3.1 2.7-2.5 2.6-2.6M173.2 44.2l.7-3.2 1.6-2.8 2.1-2.6 .4-3.4 1.4-2.9 .5-3.2 1.6-2.9 1.4-2.9 1.9-2.7 .6-3.3 1.4-2.9M236.7 0l0 .6M236.7 .6l-2.3-.6M233.1 0l-2.5 .9-3.1 0-3-.6-3 .1-1.1-.4M216.7 0l-1.3 .5-2.5-.5M65.5 5.1l-.5-3 .7-2.1M175.8 50.8l3.1 .1 3.1-.1 3.1 .9 3 1 3.3-1.1 2.9 1.8 3.2-.6 3.1 .4 3.1 .4 3 .9 3.1 .1 3.2 0M213 54.6l1.1-3 .8-3.2 1.4-2.8 2.2-2.6 .4-3.3M218.9 39.7l-2.5-2-2.2-2.3-1.8-2.6-1.7-2.7-2.4-2.1-2.3-2.2-2.3-2.2-2.1-2.4-2.5-2-2.6-1.8-1.6-2.8-1.7-2.8-2.7-1.8M216.7 164.8l.1-3.4 .6-3.4 .4-3.4-.3-3.4M187.8 139l3.2-.8 3.2 .6 3.2 .2 3.1-1.2 3.2-.3 3.2 0M217.5 151.2l-2.8-2.2-1.3-3.4-1.6-3.1-2.5-2.5-2.4-2.5M233.9 178.6l2.7-1.3 3.3 .5 2.7-1.4 3-.6 2.5-2 3-.4 3-.6 2.9-.8M244.8 140.7l-2.7 2-3.6-.3-2.5 2.5-3.3 .4-3 1.4-2.9 1.4-3.5 .1-3 1.1-2.8 1.9M244.8 140.7l3.1 2.3 3.9 .9M257 172l-.4-3.2-.2-3.2-.9-3.1-1.3-2.9 .5-3.4-.6-3.1-1.7-2.9 .4-3.3-1-3M268.8 105.7l-3.1 .3-3 1.1-3.2-.4-3.1 .5-2.9 1.3-2.9 1-3.2 .1-3 .8-3 .8-3.2-.2-3 .7M269.3 106.1l.7 3 .5 3.1 2.1 2.7-.8 3.4 2 2.7-.2 3.3 .7 3 1.6 2.8M235.2 111.7l1.7 2.6 0 3.2 1.7 2.7-.2 3.3 1.1 2.8 1.4 2.8 1.1 2.8 .1 3.2 2.4 2.4 .3 3.2M251.8 143.9l2.7-1.5 2.3-2.1 3.1-.9 2.5-1.7 2.8-1.4 2.5-1.9 3.2-.6 2.4-2 2.6-1.7M257 172l1.6 .9 1.7 .9M260.3 173.8l.5 3.1 1.1 2.8 1.4 2.8 1.9 2.5 1.4 2.7 .9 2.9 1.7 2.4M338 108.1l-.6 1-.8 3.4-3 2.2-.9 3.3M338 124.6l-1.6-1.4-1.4-2.9-2.3-2.3M304 93.2l.4 3 .9 2.9 1.4 2.8 1.1 2.8 1.6 2.6 1.2 2.8 .4 3.1 .6 3 1.6 2.7M332.7 118l-3.2 1-3.3-.3-3.3-.7-3.2 .9-3.3 .2-3.2-.2M269.2 37.4l-3 1.5-3 1.8-2.4 2.6-3.4 .8-2.8 2M269.2 37.4l-1.6-2.8-1.4-2.9-2.3-2.4-2.7-2-2-2.6-.9-3.3-2.5-2.2-1.8-2.7-2.1-2.4-1.1-3.2-2-2.5M254.6 46.1l-3-1-3.3-.3-3-1.3-3.1-1-3.1-.6-2.9-1.7-3.3-.3-2.9-1.4-3.2-.5-3.2-.6M223.6 37.4l1-3.1 1.7-2.8 1.4-2.9 2.7-2.1 1-3.1 1.1-3.1 1.5-2.8 2.5-2.3 1.7-2.7 1.5-2.9 .9-3.1M248.8 8.4l-4-1.6-4.2-.3M276.7 38.1l-3.8-.3-3.7-.4M262.7 80.7l-3-.8-2.4-1.9-2.7-1.5-2.4-2-3.1-.8M249.1 73.7l.1-3.2 .6-3 .7-3.1 1.5-2.9 .9-3-.8-3.3 1.7-2.9 .5-3.1 .3-3.1M263.9 0l-2 .4-2.1 2.6-2.6 1.6-3.2 .5-2.2 2.4-3 .9M236.7 .6l1.6 3.2 2.3 2.7M218.9 39.7l2.4-1 2.3-1.3M231.5 109.6l-3.2 1.4-3.5 .3-3.3 1-3.1 1.4-3.5 .2M231.5 109.6l.1-3.2 .5-3.2 .5-3.2 .7-3.1-.3-3.3-.7-3.2-.1-3.3 1.8-3-.2-3.3 0-3.2M214.9 113.9l-2.9-1.3-2.1-2.4-2-2.3-2.7-1.6-1.9-2.6-3.5-.6-2.3-2-2.3-2.1-2.2-2.3-2.3-1.9M215.7 66.5l2.2 2.1 3.1 .7 2.1 2.5 3.3 .4 2.6 1.7 2.5 1.5 2.3 2.2M215.7 66.5l-1.7 2.6-2.3 2.2-2.7 1.7-1.3 2.9-2.6 1.9-2 2.4-2.6 1.7-1.2 3.2-2 2.4-2.2 2.2-2.4 1.9-2.4 2.1M190.3 93.7l.7 .3-.3 .8M235.2 111.7l-1.6-1.6-2.1-.5M206.9 137.5l.6-3.1 .9-3 1.2-2.9 .7-3 .9-3 .9-3 1.5-2.7 1.3-2.9M249.1 73.7l-3.2 .3-2.8 1.7-3.2 .2-3.2 .3-2.9 1.4M175.8 124.4l1.5-2.7 1.9-2.4 .2-3.2 1.3-2.7 2.1-2.4 1.2-2.8 1.5-2.5 1-2.9 1-2.9 2.4-2.2 .8-2.9M213 54.6l.4 3 .4 3 1.6 2.8 .3 3.1M174.1 84.7l2.7 1.4 2.8 1.4 2.8 1.3 2.9 1.2 2.6 1.6 2.4 2.1M338 170.6l-.6 1.3 .1 3.2-1.8 2.9 0 3.2-.9 3M321.8 193l1.1-1.5-.2-3.2M334.8 184.2l-3 1-2.9 1.4-3.2 .7-3 1M289.3 193l.8-.6 1.7-2.7 2-2.4 2.7-1.6 1.2-3.2 2.6-1.8 2.3-2.1 1.8-2.5M322.7 188.3l-2.8-1.5-2.7-1.5-2.4-2.1-2.2-2.4-2.7-1.5-2.5-2-3-1.2M316.9 150l-2.9 1.4-2 2.3-1.7 2.7-2.7 1.5-1.7 2.8-3 1.1-2 2.4M316.9 150l-.2-3.1-.9-3-.3-3.2-2-2.8 0-3.2 .1-3.2-.9-3-1.4-2.9-.4-3.2M280.5 132.6l.8 3 .6 3.1 1 3 2.6 2.3 1 3-.1 3.3 1 3 1.4 2.7 1.1 3M280.5 132.6l3.2-.7 3-.9 2.7-2.1 3.6 .4 2.9-1.3 3-1 3.2-.8 3-.9 2.7-2.2 3.1-.7M289.9 159l2.7 1.5 2.8 1.2 3.1 .6 2.4 1.9M338 152.6l-2.9-.4-3.1 .6-3-.9-3.1 0-2.9-1.4-3.2 .6-2.9-1.1M304.4 176.1l-1.5-2.8 .5-3.3-2.1-2.7-.4-3.1M313.2 118.9l-.8 2-1.5 1.5M260.3 173.8l2.9-.9 2.3-2.3 3.2-.3 2.3-2.1 2.7-1.3 2.7-1.4 3.1-.4 2.6-1.6 2.4-1.9 2.8-1.1 2.6-1.5M275.9 130.1l2.3 1.4 2.3 1.1" fill="none" stroke="#cdcdcd" stroke-width="0.5"/>
<polyline points="88,0 85,14.6 75,33.6" fill="none" stroke="#bbb" stroke-width="0.6"/>
<polyline points="95.5,3 94,13 98.4,17.5 104,14.6 102.8,3" fill="none" stroke="#bbb" stroke-width="0.6"/>
<polyline points="160,0 164,10 175,20 181,26 183,40" fill="none" stroke="#bbb" stroke-width="0.6"/>
<polyline points="205,0 204,10 200,20 199,28 203,36 210,40" fill="none" stroke="#bbb" stroke-width="0.6"/>
<polyline points="230,0 236,10 250,18 262,26 280,30 300,30" fill="none" stroke="#bbb" stroke-width="0.6"/>
<polyline points="210,40 222,42 240,46 262,58 272,70 280,80 295,90 310,92" fill="none" stroke="#bbb" stroke-width="0.6"/>
<polyline points="230,72 245,75 262,72 280,72 300,80 315,90" fill="none" stroke="#bbb" stroke-width="0.6"/>
<polyline points="298,108 310,110 316,120 330,128 338,130" fill="none" stroke="#bbb" stroke-width="0.6"/>
<polyline points="287,130 300,138 312,150 318,160" fill="none" stroke="#bbb" stroke-width="0.6"/>
<polyline points="263,165 268,175 262,185 265,194" fill="none" stroke="#bbb" stroke-width="0.6"/>
<polyline points="205,168 212,178 215,194" fill="none" stroke="#bbb" stroke-width="0.6"/>
<polyline points="150,160 155,172 160,185 165,194" fill="none" stroke="#bbb" stroke-width="0.6"/>
<polyline points="181.5,172 182,183 186,194" fill="none" stroke="#bbb" stroke-width="0.6"/>
<polyline points="240,165 245,178 252,194" fill="none" stroke="#bbb" stroke-width="0.6"/>
<polyline points="290,150 300,162 298,176 305,194" fill="none" stroke="#bbb" stroke-width="0.6"/>
<polyline points="20,95 30,100 40,96" fill="none" stroke="#bbb" stroke-width="0.6"/>
<polyline points="18,110 30,104 40,100" fill="none" stroke="#bbb" stroke-width="0.6"/>
<polyline points="0,85 12,90 20,95" fill="none" stroke="#bbb" stroke-width="0.6"/>
<polyline points="50,90 60,85 70,80" fill="none" stroke="#bbb" stroke-width="0.6"/>
<polyline points="76.5,0 71.4,7.3 70.7,13 71.4,17.5 66.3,28.5 48.8,30 47,31" fill="none" stroke="#444" stroke-width="0.7"/>
<polyline points="66.3,28.5 72,30.7 75,38 78,42.3" fill="none" stroke="#444" stroke-width="0.7"/>
<polyline points="153,5 158,0" fill="none" stroke="#444" stroke-width="0.7"/>
<polyline points="214,2 216,8 224.2,14.1 232.3,20.2 242.3,24.2 252.4,26.2 260.5,30.2 268.5,36.3 278.6,40.3 288.7,44.4 298.8,48.4 308.9,49.4 316.9,47.4 321,48.4" fill="none" stroke="#444" stroke-width="0.7"/>
<polyline points="246.4,22.2 248.4,14.1 250.4,6 254.4,0" fill="none" stroke="#444" stroke-width="0.7"/>
<polyline points="286.7,0 296.8,6 306.9,12.1 312.9,16.1 319,20.2" fill="none" stroke="#444" stroke-width="0.7"/>
<polyline points="315,48.4 321,52.4 319,60.5 316.9,68.5 321,76.6 319,87 322,100 318,115 322,130 318,145 322,160 318,175 322,193" fill="none" stroke="#444" stroke-width="0.7"/>
<g clip-path="url(#rg)">
<rect x="0" y="0" width="338" height="193" fill="#3288bd"/>
<polygon points="58,62 62,53.1 72,40 79,38 84.7,40.8 88.5,45.5 98,44.6 109.3,43.6 113.1,49.3 109.3,55 111.2,62.6 111.2,72.1 105.5,72.1 94.2,72.1 88.5,75.9 79,75 75.2,70.2 60,70" fill="#99d594"/>
<polygon points="126.4,26.6 132.1,11.4 139.7,3.8 149.2,5.7 149.2,20.9 141.6,24.7" fill="#99d594"/>
<polygon points="128.3,24.7 132.1,15.2 135.9,7.6 143.5,5.7 147.3,11.4 147.3,19 143.5,22.8 135.9,22.8" fill="#e6f598"/>
<polygon points="105.5,94.9 113.1,93 116.9,100 103.6,100" fill="#99d594"/>
<polygon points="135.9,91.1 143.5,89.2 143.5,100 135.9,100" fill="#e6f598"/>
<polygon points="139.7,85.4 149.2,78 152,82 154.6,96.4 158.7,100 139.7,100" fill="#99d594"/>
<polygon points="159,48.2 166.3,46.8 176.5,45.3 182.3,40.9 191.1,39.5 198.4,43.8 201.3,52.6 204.2,61.4 198.4,57 188.2,55.5 178,59.9 172.1,64.3 164.8,61.4 159,54.1" fill="#99d594"/>
<polygon points="182.3,42.4 191.1,42.4 191.1,52.6 183.8,52.6" fill="#e6f598"/>
<polygon points="186.7,86.2 198.4,76 205.7,70.1 214.5,65.7 221.8,67.2 227.6,74.5 224.7,84.7 221.8,90.6 217.4,93.5 210.1,96.4 201.3,95 195.5,93.5 189.6,92" fill="#99d594"/>
<polygon points="217.4,65.7 226.1,67.2 229.1,73 227.6,81.8 224.7,84.7 220.3,80.3 215.9,73" fill="#3288bd"/>
<polygon points="140,81.8 151.7,81.8 154.6,96.4 148.8,99.3 140,99.3" fill="#99d594"/>
<polygon points="148.8,70.1 156.1,64.3 161.9,65.7 163.4,74.5 159,80.3 151.7,80.3 148.8,76" fill="#e6f598"/>
<polygon points="176.5,73 183.8,71.6 188.2,84.7 180.9,89.1 176.5,84.7" fill="#99d594"/>
<polygon points="183.8,93.5 201.3,92 202.8,99.3 201.3,108 183.8,108" fill="#e6f598"/>
<polygon points="160,95 200,90 225,90 250,92 300,100 300,170 160,170" fill="#e6f598"/>
<polygon points="170,90.6 179.5,88.7 181.4,100.1 175.7,107.7 170,107.7" fill="#99d594"/>
<polygon points="253.5,92.5 272.5,92.5 287.6,98.2 299,103.9 300,111.5 283.9,109.6 272.5,105.8 261.1,103.9 253.5,100.1" fill="#99d594"/>
<polygon points="196.8,110.3 221.3,108.2 225.4,122.5 227.4,138.9 217.2,143 205,143 194.7,143 190.7,134.8 196.8,126.6" fill="#99d594"/>
<polygon points="200.4,117.2 215.5,113.4 223.1,119.1 225,128 200.4,128" fill="#99d594"/>
<polygon points="160,122.5 168.2,118.4 172.3,130.7 166.1,136.8 160,138.9" fill="#99d594"/>
<polygon points="160,151.1 166.1,155.2 168.2,163.4 160,165.4" fill="#99d594"/>
<polygon points="264.2,132.7 274.4,132.7 278.5,138.9 274.4,145 266.3,143" fill="#99d594"/>
<polygon points="258.1,98 282.6,98 290.8,104.1 282.6,108.2 266.3,108.2 258.1,106.2" fill="#99d594"/>
<polygon points="225,90.6 232.6,92.5 238.3,96.3 245.8,98 245.8,118.4 243.8,128.7 237.7,132.7 233.6,130.7 235.6,118.4 227.4,110.3 225,103.9" fill="#3288bd"/>
<polygon points="166.1,136.8 178.4,134.8 186.6,130.7 196.8,128.7 200.9,134.8 194.7,138.9 188.6,138.9 182.5,147.1 180.4,155.2 176.3,163.4 168.2,163.4 166.1,155.2" fill="#3288bd"/>
<polygon points="172.3,118.4 180.4,116.4 184.5,126.6 180.4,130.7 174.3,128.7" fill="#3288bd"/>
<polygon points="198.8,118.4 207,118.4 209,130.7 207,134.8 200.9,134.8 198.8,128.7" fill="#3288bd"/>
<polygon points="160,116.4 164.1,116.4 164.1,122.5 160,122.5" fill="#3288bd"/>
<polygon points="200.4,119.1 206.1,119.1 206.1,124.8 200.4,124.8" fill="#3288bd"/>
<polygon points="247.9,104.1 254,102.1 255,114.3 249.9,116.4 246.9,112.3" fill="#fc8d59"/>
<polygon points="241.7,130.7 247.9,126.6 254,128.7 254,134.8 247.9,136.8 241.7,134.8" fill="#fc8d59"/>
<polygon points="242.8,131.7 249.9,130.7 249.9,135.8 243.8,135.8" fill="#d53e4f"/>
<polygon points="262.2,118.4 266.3,116.4 270.4,124.6 270.4,128.7 264.2,130.7 261.2,124.6" fill="#fc8d59"/>
<polygon points="266.3,123.5 269.3,123.5 269.3,126.6 266.3,126.6" fill="#d53e4f"/>
<polygon points="221.3,147.1 229.5,143 237.7,143 239.7,155.2 237.7,165.4 225.4,165.4 221.3,159.3" fill="#fee08b"/>
<polygon points="249.9,143 266.3,147.1 266.3,157.3 258.1,159.3 252,153.2" fill="#fee08b"/>
<polygon points="221.3,150.1 223.4,150.1 223.4,152.2 221.3,152.2" fill="#fc8d59"/>
<polygon points="223.4,145 225.4,145 225.4,147.1 223.4,147.1" fill="#fc8d59"/>
<polygon points="40,112 90,105 125,100 160,95 178,95 178,170 130,190 90,185 55,160 42,125" fill="#99d594"/>
<polygon points="35,116 49.9,108 71.8,108 87.1,106 91.5,112.7 93.7,119.3 100.3,125.8 102.4,136.8 98.1,143.4 89.3,141.2 82.7,134.6 71.8,138 60.8,140 49.9,140 36,132" fill="#e6f598"/>
<polygon points="87.1,154.3 100.3,152.1 111.2,158.7 106.8,171.8 98.1,176.2 89.3,169.6" fill="#e6f598"/>
<polygon points="67.4,136.8 82.7,134.6 84.9,145.6 71.8,147.7" fill="#e6f598"/>
<polygon points="60.8,156.5 67.4,154.3 71.8,160.9 69.6,167.4 63,165.3" fill="#3288bd"/>
<polygon points="78.4,152.1 82.7,152.1 82.7,155.4 78.4,155.4" fill="#3288bd"/>
<polygon points="95.9,106.1 115.6,104 124.3,110.5 122.2,119.3 115.6,121.5 109,125.8 106.8,136.8 111.2,143.4 109,149.9 102.4,152.1 98.1,147.7 102.4,136.8 102.4,125.8 95.9,119.3" fill="#3288bd"/>
<polygon points="89.3,93 104.6,93 106.8,101.8 95.9,106.1 89.3,104" fill="#3288bd"/>
<polygon points="113.4,93 133.1,93 133.1,99.6 120,101.8 113.4,99.6" fill="#3288bd"/>
<polygon points="150.6,93 172.5,93 172.5,97.4 155,97.4" fill="#3288bd"/>
<polygon points="133.1,136.8 144,134.6 144,145.6 137.5,152.1 133.1,147.7" fill="#3288bd"/>
<polygon points="165.9,136.8 178,134.6 178,163.1 170.3,165.3 165.9,154.3" fill="#3288bd"/>
<polygon points="124.3,119.3 137.5,114.9 146.2,121.5 144,132.4 133.1,134.6 124.3,130.2" fill="#e6f598"/>
<polygon points="146.2,139 159.4,136.8 163.8,149.9 159.4,158.7 148.4,158.7 144,149.9" fill="#e6f598"/>
<polygon points="150.6,143.4 155,143.4 155,149.9 150.6,149.9" fill="#fee08b"/>
<polygon points="159.4,101.8 172.5,99.6 178,112.7 170.3,121.5 159.4,119.3" fill="#e6f598"/>
<polygon points="120,165.3 133.1,165.3 137.5,171.8 130.9,180.6 122.2,180.6" fill="#e6f598"/>
<polygon points="124.3,176.2 141.9,176.2 141.9,182.8 133.1,185 124.3,185" fill="#3288bd"/>
<path d="M30 154.1l.8-2 1.2-2.9 .1-3.2 .8-3 .5-3.1 .8-3 1-2.9M35.2 134l-1.4-.7M164 61.9l-3.6-.2-3.3 1.2-3.6-.4-3.3 1.7-3.4 .2M164 61.9l2.3 2.3 2.7 2 2.8 1.6 2.9 1.5 2.8 1.8M177.5 71.1l-.7 2.2 .5 2.2M177.3 75.5l-2.3 2.3-2.4 2.2-.9 3.4-1.8 2.6-2.9 1.8-1.5 2.9M165.5 90.7l-3.5 .4-3.4-1.3-3.4 .2-3.4 .1-3.5 .1-3.4-.3M146.8 64.4l-.9 3.1 .5 3.3 .4 3.2-1.8 3.1 .6 3.2 .2 3.2 0 3.2-.9 3.2M165.5 90.7l1.9 2.7 .2 3.3 1.2 3 1.3 2.9 1.4 2.9 1.4 2.8 .7 3.2M140.8 106l.8-3.4-.9-3.4 .5-3.4 .7-3.3M140.8 106l1.9 2.9 2 2.9 2.6 2.3 1.8 3 2.6 2.4 2.6 2.3M173.6 111.5l-2.5 2.2-2.9 1.8-2.4 2.3-2.3 2.4-2.2 2.6M154.3 121.8l3.6-.3 3.4 1.3M144.9 89.9l-1.8 .9-1.2 1.7M121.5 115.5l2.4-2 3-1 3.3-.3 2.1-2.6 3.1-.6 2.9-1.1 2.5-1.9M121.5 115.5l-1.8-2.5-2.5-2-1.6-2.8-2.2-2.3-1.6-2.8-3.3-1.3-1.5-2.9M141.9 92.5l-3.2-1.5-3.7-.2-3.3-1.3-3.2-1.7-3.4-1.1M107 98.9l2.4-2.1 3.3-.7 2.6-1.6 2.1-2.5 2.7-1.6 2.3-2.2 2.7-1.5M121.5 115.5l.3 3.2-1.5 2.9 .2 3.1-1.7 2.9 0 3.1-.4 3.1M154.3 121.8l-2.1 2.7-2.7 1.9-2.8 1.9-2 2.8-2.5 2.2-3 1.6-2.3 2.4M118.4 133.8l3 1 3.2 .2 2.9 1.1 3.1 .7 3.3-.4 3 .9M167.7 155.4l1.4-4.1 2.9-3.3M167.7 155.4l-3.2 1.3-3.4 0-3.1 1.4-.5 .1M149.4 160.4l-1.1 .4M172 148l-1.9-2.5 .3-3.4-1.4-2.7-1.7-2.6-1.3-2.7-.5-3.2-1.2-2.8-1.7-2.5-1.3-2.8M136.9 137.3l2.1 2.5 .4 3.5 1.3 3 1.9 2.7 1.7 2.8 1.7 2.8 .2 3.6 2.1 2.6M165.8 18.6l0 0-2.7 1.7-1.6 2.7M147.2 3.2l-.3 .4M146.9 3.6l1.7 2.6 2.3 2 1.2 2.9 .9 .8M157.4 16.8l1.1 .9 .8 3.2 2.2 2.1M146.9 3.6l-3.5-1.1-3.6 .7-2.4-.5M175.7 35.2l-2.2-.1-3.3-.3-3.2-.9M167 33.9l-2.8-2.2-2.6-2.5M161.5 23l-.5 3.1 .6 3.1M167.7 155.4l1.1 3.3 2.2 2.8 2.1 2.7 .1 .5M148.3 160.8l-.3 .7M196.6 101.6l2.7 2 2 2.6 3.7 .6 2.1 2.5 2.2 2.5 3.2 1.2 1.9 2.9 2.6 1.9 3 1.4M196.6 101.6l-2.8 1.3-1.9 2.5-2.6 1.5-1.5 3-2.7 1.4M185.1 111.3l1.8 2.8 1.2 3.1 .8 3.3 1.1 3.2 1.6 2.9 1.5 2.9 .6 3.4 2.2 2.7M195.9 135.6l2.9-1.5 2.4-2.3 2.9-1.2 3.3-.6 2.9-1.3 2.5-2.2 2.8-1.5 2.9-1.3M218.5 123.7l.5-2.4 1-2.1M177.3 75.5l2.1 2.5 2.2 2.4 1.9 2.7 2.7 1.9 2.2 2.4 1.9 2.7 3.1 1.5 2.4 2.2 1.8 2.8M197.6 96.6l-.9 2.5-.1 2.5M173.6 111.5l3.8-.8 3.9 1.5 3.8-.9M172 148l3.1-.4 3-.4 2.9-1.2 3.2-.2 2.8-1.5 3.1-.4 2.9-1M193 142.9l1-3.8 1.9-3.5M193 142.9l1.9 2.4 1.9 2.4 1.8 2.5 2 2.2 1.9 2.4 2.7 1.6 1.3 2.9 2.6 1.8M228.6 147.7l-2.6 2.1-3 1.7-2.9 1.7-2.6 2.2-2.4 2.6-3.3 1-2.7 2.1M228.6 147.7l-.5-3.3-2-2.7-1.3-3-1.1-3.1-2.1-2.6-.8-3.2-1.1-3.1-1.2-3M121.4 64.8l3.1 .4 2.9-1.5 3.1 1.3 2.9-.8 3 .1 3-.4 3-.8 3 .2M121.4 64.8l-1.5-3.2-.1-3.4-.5-3.4-1.1-3.3-.4-3.4-.4-3.4-.6-3.4M145.4 63.3l-1.5-3.1-.5-3.2 .7-3.5-.2-3.4-.8-3.2-1.8-3.1 0-3.3-.6-3.3M116.8 41.3l2.9-1.4 2.9-1.2 3.3-.1 2.7-2.1 3-.8 3.2-.5M134.8 35.2l2.7 1.7 3.2 .3M146.8 64.4l-1.2 .1-.2-1.2M119.6 67.4l1.1 3.2 1.4 3.1 .4 3.4 1.2 3.1 1.3 3.1 .1 3.4M119.6 67.4l.9-1.3 .9-1.3M164 61.9l.4-3.1 .5-3.1 .9-3.1-1-3.2 .8-3.1-.3-3.2 .3-3.1 1.3-3 .1-3.1M161.6 29.2l-3.2 .5-3 1.3-2.7 1.7-3 1.2-3.1 .7-2.7 2.2-3.2 .4M109.8 38.2l3 1 4 2.1M130.9 13.2l.2 .9 1.2 2.9 0 3.1 1.4 2.9 .4 3-.9 3.3 1.7 2.8-.1 3.1M98.1 89.8l.5-3.4 1.9-2.9 1.3-3.2 .8-3.3 1.3-3.1 1.1-3.3M98.1 89.8l-3-1.1-3-.2-3-.6-3.2 .3-1.7-.6M74.6 74l2.6-1.3 2.9-1.8 2.8-1.9 2.4-2.3 2.4-2.5 2.5-2.2 3.1-1.5M93.3 60.5l2.6 1.7 2.1 2.3 2.8 1.5 1.4 3 2.8 1.6M107 98.9l-.8-.2-.9-.1M105.3 98.6l-2.7-2.7-1.9-3.3-2.6-2.8M119.6 67.4l-2.8 1.2-3 .4-2.9 .9-2.9 .4-3 .3M66 62.4l1.3 1.2 1.6 2.7 1.5 2.8 1.5 2.8 .1 .1M93.5 44.6l-.6 2.7 .7 3.3 .5 3.3-.5 3.3-.3 3.3M35.2 134l3.7-1.1 3.2-1.7 3-2.3M46.9 111.3l1.8 2.4M45.1 128.9l1.2-2.9 .5-3.1 1.2-3 .6-3.1 .1-3.1M30 155.2l2.5 1.1 2.3 2.2 2.1 2.3M36.9 160.8l2.4-2.2 2.7-1.4 2.7-1.5 3.2-.6 2.8-1.4 2.5-1.9 2.8-1.3 2.7-1.5 2.4-2M61.1 147l-.3-2.7 .6-2.5M45.1 128.9l2.6 2.4 3.3 1.3 1.9 3.2 3.5 1.2 2.7 2.1 2.3 2.7M48.7 113.7l3.5-.4 3.3-1.4 3.6 0 2-.5M125.5 194l0 0-3.1-.4-.8 .4M116.6 194l-.5-.2-1.7 .2M81.4 185.9l3 1.3 2.6 2.1 3.1 1.3 3.1 1.1 2.5 2.2 1.3 .1M81.4 185.9l-.8 .3-.9 0M79.7 186.2l-.1 3.1-1.7 2.7-1 2M71 159.5l-.7 3.4 .3 3.4-.8 3.3 .1 3.5-.7 3.3M71 159.5l2.8-1.9 3.5-.1 3.1-1 2.4-2.5 2.9-1.6 3.3-.5M81.4 185.9l2.9-1.7 1.6-3 3-1.6 2.3-2.2 1.7-2.9 3.3-1.3 1.9-2.6 2.8-1.8 1.8-2.7M79.7 186.2l-2.2-2.9-3.5-1.5-2.2-2.9-2.6-2.5M89 151.9l1.9 2.7 2.2 2.5 3.3 1.3 1.9 2.8 2 2.6 2.4 2.3M113 194l-.2-2.9-.5-3.2 1.7-3.1-.9-3.1-.2-3.2-.5-3.1 1.8-3.1-1.4-3.2 .6-3.1M102.7 166.1l3.6 .3 3.5 .2 3.6-.6M118.4 133.8l-.4 .2-.3 .3M140.5 170.1l-2.8-1-3.4 .1-3.2-1.4-3.2-.9-3.5 .5-3.3-.2-3.3-.6-3.1-1.4M117.7 134.3l-.7 3.1 0 3.1-.1 3.1-.1 3.1-.1 3.1-.3 3.1-.8 3.1-.3 3.1 .2 3.1-.8 3M114.7 165.2l-.3 1.1-1-.3M209.1 161.1l-.4 3-.9 3 0 .5M180.5 171.1l2 .6 0 0M283.8 138.9l-.3 .1-3.2-.2-2.9 1-2.8 1.2-2.7 1.4M266.2 159.2l-.4-.7-1.4-2.7M271.9 142.4l-1.2 2.8-1.7 2.6-1.6 2.7-.9 2.9-2.1 2.4M220.4 118.9l.1 .6-.5-.3M220.4 118.9l.5-3 .1-.2M224.5 107.7l0 0 .7-3 1.4-2.7 .5-3 .7-2.8M197.6 96.6l2.2-2.8 2.5-2.4 3.4-1.4 2.5-2.5 2.6-2.3M210.8 85.2l3.5-.7 3.3 .8 3.4 0 3.5 .2 2.7 .2M297.3 112.1l-.4-.4-2.7-1.8-2.3-2.4M286.6 135.5l.1-.7 .1-3.1-.8-2.3M285.6 117.7l-.5-1.1 1.3-3.1-.7-3M285.7 110.5l3.3-1.1 2.9-1.9M291.9 107.5l1.4-3.9 1.2-1.8M72.7 113.2l-.8 3 .2 3.1 1.3 3-.8 3 0 3.1 .6 3M72.7 113.2l3.4 0 3.4 .8 3.5-.6 3.4 1 3.5-1 3.4 .5M73.2 131.4l2.8 1.6 2.9 1.3 2.7 1.7 3.3 .3 2.3 2.7 3.2 .5M93.3 113.9l1 3.2 2.1 2.7 .8 3.3 1.8 2.8 1.6 3 .4 3.4M101 132.3l-3 1.2-2.1 2.6-3.2 1.1-2.3 2.3M61.4 141.8l2.3-2.1 2.7-1.8 2.1-2.4 2.3-2.1 2.4-2M71.1 111.4l1.6 1.8M105.3 98.6l-1.8 2.7-2.8 2-2.1 2.5-1.4 2.9-2.6 2.1-1.3 3.1M61.1 147l2.1 2.4 1.4 2.9 2.2 2.4 1.6 2.9 2.6 1.9M89 151.9l1.2-3-1.3-3.3 .9-3 .6-3.1M117.7 134.3l-3.3-1-3.5 1.1-3.3-.9-3.3-.1-3.3-1.1M37 161l2.3 2 2.9 1.2 2.4 1.8 2.4 1.9 1.8 2.7 3.1 .9 2.6 1.5 1.5 3.1 2.8 1.3M37 161l-1.2 2.8-.9 3-.7 2.9-1.3 2.9-.5 3-.6 3-1.3 2.8 0 3.2M58.8 177.4l-2.4 2-1.6 2.8-2.9 1.7-2 2.5-1.8 2.6-1.9 2.5-1.7 2.5M30.5 184.6l2.1 2.6 1.9 2.7 2.4 2.3 2.9 1.7 .1 .1M36.9 160.8l.7-.1-.6 .3M69.2 176.4l-3.5-.3-3.3 1.7-3.6-.4M246 155.8l3.1-.4 3 1.2 3.1-1.5 3.1-.1 3 .2 3.1 .6M246 155.8l-1.6 3 .4 3.6-1 1.8M228.6 147.7l3.7 .6 3.5 1.5 3.8-.2M239.6 149.6l2.7 3.6 3.7 2.6M275.8 108.2l-2.4-2.2-1-3.2-2.8-2-1.1-3.1-1.2-2.7M275.8 108.2l-2 2.6-2.4 2.2-3.1 1.5-2.4 2.3-2 2.7-1.7 2.8-2.9 1.8M258.5 94.6l-2.6 1.5-2.8 1.3-2.4 2.3-3.2 .6M247.5 100.3l-.5 3.3 .4 3.3-1 3.2 .5 3.3-.8 3.3 .7 3.3M259.3 124.1l-3.3 .3-3.1-1.2-3.2-.1M246.8 120l1.5 1.5 1.4 1.6M285.7 110.5l-3.4-.5-3.4-.4-3.1-1.4M271.9 142.4l-2.3-2.2-1.5-2.9-1.6-2.7-2.5-2.2-.4-3.6-2.4-2.2-1.9-2.5M237.1 94.2l1.6 1.5 2.8 1.7 3.2 1.1 2.8 1.8M220.4 118.9l3.3-.7 3.3 1.2 3.3-.6 3.3 .3 3.3 1.2 3.3-.9 3.3 .5 3.3 .1M239.6 149.6l.5-3.2 1-3 2.1-2.6 .5-3.2 1.7-2.7 1.5-2.8 .3-3.2 .6-3.2 1.9-2.6M193.7 40l.2 3 .3 3.1-.5 3.2 .1 3.2 1.1 3 .3 3.2M203.3 61l-.3 .1-3.4 0M199.6 61.1l-2.6-.5-1.8-1.9M177.5 71.1l2.2-2.3 3.2-.7 1.7-3 2.9-1.3 3.1-.9 2.3-2.1 2.3-2.1M210.8 85.2l-1-3.2-1.2-3.1-2.3-2.6-.3-3.5-2.2-2.7-1.4-3-1.9-2.8-.9-3.2M227.8 84.4l-.1-1.9-.3-3.1-.8-3.1-.5-3.2 .5-3.2-.2-1.5" fill="none" stroke="#3a3a3a" stroke-width="0.45" stroke-opacity="0.75"/>
</g>
<polygon points="132,5.8 137.5,2.6 143,2 153,5 153,17 160,16.6 167,19 169,28 173,33 178,37 179,42 181,44 183,40 188,39 194,40 195,47 199,53 202,60 206,63 215,65 225,67 230,72 230.3,77 229,82 226,88 223.3,94.1 219.8,97.6 218,104.6 218.9,111.5 221.5,116.8 225,118.5 228.5,116.8 227.7,111.5 223.3,106.3 221.5,101.1 225,97.6 228.5,95.8 232,94.3 246,94 254,91 259,95 272,95 285,99 295,102 298,115 295,117 282,118 278,125 287,130 287,135 282,141 279,145 273,148 268,156 263,165 258,166 247,164 231,165 218,166 205,168 200,162.5 195,165 189,170 181.5,172 174,165 163,161 155,157 150,160 142,166 139,174 133,179.5 131.5,194 30,194 30,140 38,126 41,122 44,118 46,114 47,111 50.5,109.9 58,111 67.3,112.1 73,111 80.5,109.2 89.2,108.5 91,105.5 89,99 86,89.5 80,83 76,75 68,69 65.5,64.2 66.3,61.3 69.2,52.6 76.5,43.8 82.3,40.1 85.3,40.9 89.6,45.3 98.4,43.8 107,43 108.6,39.4 113,35 114.5,29.2 118.8,24.8 126,22 130.5,14.6 133.4,5.8" fill="none" stroke="#222" stroke-width="0.8"/>
<polygon points="27.9,115.8 30.8,117.2 36.7,118.7 39.6,121.6 41.1,124.5 44,126 45.4,128.9 49.8,133.3 55.7,136.2 63,138.4 71.7,137.7 79,135.5 81.2,134.7 77.6,138.4 74.6,142 68.8,145 61.5,147.1 57.1,148.6 53.5,148.6 52.7,150.8 55.7,153.7 60,158.1 64.4,162.5 68.8,166.9 74.6,172.7 80.5,177.1 84.9,180 90.7,178.5 98,175.6 103.8,172.7 109.7,166.9 112.6,162.5 108.2,159.6 111.1,156.6 112.6,153.7 111.7,152.3 116.8,151.3 122.9,152.3 118.8,153.3 117.8,159.5 120.9,161.5 126,162.5 120.9,163.6 118.8,166.6 119.8,171.7 121.9,175.8 122.9,179.9 121.9,186 120.9,194 27.9,194" fill="#000"/>
<circle cx="198.8" cy="29.8" r="1.0" fill="#000"/>
<circle cx="175.7" cy="62.2" r="1.0" fill="#000"/>
<circle cx="263.4" cy="60" r="1.0" fill="#000"/>
<circle cx="253" cy="69.9" r="1.0" fill="#000"/>
<circle cx="234.8" cy="172.5" r="1.0" fill="#000"/>
<circle cx="118.5" cy="136" r="1.0" fill="#000"/>
<circle cx="121" cy="172.4" r="1.0" fill="#000"/>
<circle cx="175" cy="143" r="1.1" fill="#d7191c"/>
<text x="201.5" y="30.5" font-size="4.6" font-weight="normal" font-style="normal" fill="#111" font-family="Liberation Sans, sans-serif" textLength="17.5" lengthAdjust="spacingAndGlyphs">New Delhi</text>
<text x="295" y="33.4" font-size="7.4" font-weight="bold" font-style="normal" fill="#111" font-family="Liberation Sans, sans-serif" textLength="18.6" lengthAdjust="spacingAndGlyphs">Nepal</text>
<text x="177" y="64.1" font-size="7.6" font-weight="normal" font-style="normal" fill="#111" font-family="Liberation Sans, sans-serif" textLength="17.5" lengthAdjust="spacingAndGlyphs">Jaipur</text>
<text x="264" y="62.8" font-size="7.6" font-weight="normal" font-style="normal" fill="#111" font-family="Liberation Sans, sans-serif" textLength="26" lengthAdjust="spacingAndGlyphs">Lucknow</text>
<text x="254.9" y="75.8" font-size="7.6" font-weight="normal" font-style="normal" fill="#111" font-family="Liberation Sans, sans-serif" textLength="22.1" lengthAdjust="spacingAndGlyphs">Kanpur</text>
<text x="201.6" y="105.6" font-size="7.6" font-weight="bold" font-style="normal" fill="#111" font-family="Liberation Sans, sans-serif" textLength="14.3" lengthAdjust="spacingAndGlyphs">India</text>
<text x="176.4" y="145.2" font-size="7.6" font-weight="normal" font-style="normal" fill="#111" font-family="Liberation Sans, sans-serif" textLength="20" lengthAdjust="spacingAndGlyphs">Indore</text>
<text x="235.9" y="174.5" font-size="7.6" font-weight="normal" font-style="normal" fill="#111" font-family="Liberation Sans, sans-serif" textLength="22.9" lengthAdjust="spacingAndGlyphs">Nagpur</text>
<text x="119.8" y="137.9" font-size="7.6" font-weight="normal" font-style="normal" fill="#111" font-family="Liberation Sans, sans-serif" textLength="36.8" lengthAdjust="spacingAndGlyphs">Ahmedabad</text>
<text x="122.5" y="173.8" font-size="7.6" font-weight="normal" font-style="normal" fill="#111" font-family="Liberation Sans, sans-serif" textLength="17" lengthAdjust="spacingAndGlyphs">Surat</text>
<text x="50.2" y="144.5" font-size="5.0" font-weight="normal" font-style="italic" fill="#eee" font-family="Liberation Sans, sans-serif" textLength="27.6" lengthAdjust="spacingAndGlyphs">Gulf of Kutch</text>
<text x="30.5" y="99.4" font-size="7.6" font-weight="normal" font-style="normal" fill="#111" font-family="Liberation Sans, sans-serif" textLength="16.2" lengthAdjust="spacingAndGlyphs">rachi</text>
<rect x="17.5" y="9.5" width="29" height="77.5" fill="#fff" stroke="#777" stroke-width="1"/>
<rect x="20" y="24.4" width="9" height="8.6" fill="#d53e4f"/>
<rect x="20" y="33.9" width="9" height="8.6" fill="#fc8d59"/>
<rect x="20" y="43.7" width="9" height="8.6" fill="#fee08b"/>
<rect x="20" y="53" width="9" height="8.6" fill="#e6f598"/>
<rect x="20" y="63" width="9" height="8.6" fill="#99d594"/>
<rect x="20" y="73" width="9" height="8.6" fill="#3288bd"/>
<text x="37.3" y="27.7" text-anchor="middle" font-size="7.4" fill="#111" font-family="Liberation Sans, sans-serif">4</text>
<text x="37.3" y="36.7" text-anchor="middle" font-size="7.4" fill="#111" font-family="Liberation Sans, sans-serif">3</text>
<text x="37.3" y="46.2" text-anchor="middle" font-size="7.4" fill="#111" font-family="Liberation Sans, sans-serif">2.5</text>
<text x="37.3" y="55.3" text-anchor="middle" font-size="7.4" fill="#111" font-family="Liberation Sans, sans-serif">2</text>
<text x="37.3" y="64.7" text-anchor="middle" font-size="7.4" fill="#111" font-family="Liberation Sans, sans-serif">1</text>
<text x="37.3" y="73.7" text-anchor="middle" font-size="7.4" fill="#111" font-family="Liberation Sans, sans-serif">0.5</text>
<text x="37.3" y="82.7" text-anchor="middle" font-size="7.4" fill="#111" font-family="Liberation Sans, sans-serif">0</text>
</g>
<path d="M0.5,192.5 V0.5 H337.5" fill="none" stroke="#8a8a8a" stroke-width="1"/>
<path d="M337.5,0.5 V192.5 H0.5" fill="none" stroke="#b8b8b8" stroke-width="1"/>
</g>
<g transform="translate(347,752)">
<clipPath id="cliph"><rect x="0" y="0" width="338" height="193"/></clipPath>
<clipPath id="rh"><polygon points="132,5.8 137.5,2.6 143,2 153,5 153,17 160,16.6 167,19 169,28 173,33 178,37 179,42 181,44 183,40 188,39 194,40 195,47 199,53 202,60 206,63 215,65 225,67 230,72 230.3,77 229,82 226,88 223.3,94.1 219.8,97.6 218,104.6 218.9,111.5 221.5,116.8 225,118.5 228.5,116.8 227.7,111.5 223.3,106.3 221.5,101.1 225,97.6 228.5,95.8 232,94.3 246,94 254,91 259,95 272,95 285,99 295,102 298,115 295,117 282,118 278,125 287,130 287,135 282,141 279,145 273,148 268,156 263,165 258,166 247,164 231,165 218,166 205,168 200,162.5 195,165 189,170 181.5,172 174,165 163,161 155,157 150,160 142,166 139,174 133,179.5 131.5,194 30,194 30,140 38,126 41,122 44,118 46,114 47,111 50.5,109.9 58,111 67.3,112.1 73,111 80.5,109.2 89.2,108.5 91,105.5 89,99 86,89.5 80,83 76,75 68,69 65.5,64.2 66.3,61.3 69.2,52.6 76.5,43.8 82.3,40.1 85.3,40.9 89.6,45.3 98.4,43.8 107,43 108.6,39.4 113,35 114.5,29.2 118.8,24.8 126,22 130.5,14.6 133.4,5.8"/></clipPath>
<g clip-path="url(#cliph)">
<rect x="0" y="0" width="338" height="193" fill="#fff"/>
<path d="M83.4 90.3l2.4-1.8 2.3-2.1 3.1-.7 2.2-2.2 3.2-.4 2.4-1.9 2.9-1.1 2.3-2 2.5-1.6 2.6-1.6 2.5-1.8M83.4 90.3l.2-3.2-1.8-2.7 .2-3.2-1.4-2.8-.3-3.1 0-3.1-1.9-2.7 1-3.3-1.3-2.9 0-3.1-1.1-2.9 0-3.1-1.4-2.8M111.8 73.1l-.7-3.2 .3-3.4-1-3.2 .3-3.4-.5-3.3 .2-3.3-.1-3.4-.7-3.3-.3-3.3M75.6 51.4l2.8-1.7 2.3-2.5 3.1-1.2 2.5-2.1 2.6-2.1 3-1.3M91.9 40.5l3.3-.5 3.2 .8 3.2 .1 3.2 1 3.2 .1M108 42l.7 .6 .6 .7M129.2 83.2l-3.2-1.2-2.4-2.5-3.2-1.2-3.1-1.4-3-1.4-2.5-2.4M129.2 83.2l2.6-1.8 1.7-2.7 2.5-2 2-2.5 1.7-2.7 3.4-1.1 1.6-2.8M144.7 67.6l-1-3-1.1-2.8-.9-3-.7-3-2-2.6-.9-2.9-.6-3M137.5 47.3l-3.2-.2-3-1.5-3.3 .9-3.1-.8-3.1-.8-3.2 .3-3.1-1-3.1-.3-3.1-.6M57.8 48.9l-2.3-2.5-2.4-2.3-1.6-3.2-2.1-2.6-2.8-2.1M57.8 48.9l3.6 0 3.6 .5 3.4 1.3 3.7-.4 3.5 1.1M46.6 36.2l.6-3.1 2.1-2.5 .3-3.2 1.3-2.8 .4-3.1 1.1-2.9 .7-3.1 1.2-2.8 1.6-2.8M77.9 9.6l-3.3-.5-2.8-2-3.4-.3-2.9-1.7M77.9 9.6l1.2 2.8 1.7 2.6 .7 3.1 1.4 2.8 2.2 2.4 .1 3.3 2.4 2.3 .3 3.3 1 2.9 2.4 2.3 .6 3.1M55.9 9.9l2.9-2.1 3.1-1.9 3.6-.8M57.8 48.9l-1.1 2.8-1 2.9-1.6 2.5-1 2.9-1.4 2.6-2.1 2.4-1.4 2.6-1.3 2.7-.8 3-1.7 2.5-1.2 2.7-.5 3.1M42.7 81.6l2.9 1.2 3 1.1 2.8 1.4 2.6 2 3.1 .8 2.5 2 2.9 1.4 2.9 1.3 3.1 .8 2.6 1.8M83.4 90.3l-.7 .8-.2 1M82.5 92.1l-3.6 1.6-3.7 1.4-4.1 .3M10.8 193l2.8-1 2.9-1.4 2.5-2 2.6-2 2.8-1.4M24.4 185.2l.8 3 1.4 2.7 1.1 2.1M129.7 193l-2.3-.4-2.4 .4M123.7 193l-2.7-1.5-3.2-.3-3.2-.1-3.2-.1-3.3 .4-3.1-1.1-3.3 0-3.1-.7M97.3 193l.3-.4 1-3M96.3 167.5l3.1-.4 3.2-.1 3-1.1 3.1-.5 2.8-1.7 3.2 .1 2.9-1.6 3.2-.2 3.3 .4 2.7-2.2 3.2 .1M96.3 167.5l-.9 1.5-1.4 1.2M134.6 193l1.9-1.8 1.7-3.6 2.5-2.9M94 170.2l1.6 3.1-.7 3.6 1.6 3 .8 3.2 .6 3.3 .7 3.2M140.7 184.7l-1-3.2-1.5-3-1.6-2.9-.6-3.4-2-2.7-1.6-3-.5-3.4-1.9-2.8M144.7 67.6l3.3 .3 3.3 1.4 3.5-.8 3.4 0 3.2 1.6 3.4-.1 3.3 .6M137.5 47.3l2-2.7 3.1-1.4 1.5-3.2 3.4-1.2 1.9-2.8M149.4 36l3 .9 2.9 1.2 3.1 .9 3.1 .4 2.6 2.2 3.2 .5 2.9 1.3 3 .8M168.1 70.6l1.4-2.7 .9-2.9 .6-3 2-2.5-.1-3.3 1.9-2.5 1-2.9M175.8 50.8l-.5-3.6-2.1-3M0 127.7l2-1.6 2.5-1.7 2.6-1.5 3-.8M0 95l.6 .4 1.9 2.5 1.8 2.6 2.8 1.5 2.2 2.1 2.5 1.9 1.5 2.7 2.1 2.2M10.1 122.1l1.2-2.9 1.8-2.5 .7-3.1 1.6-2.7M42.7 81.6l-1.5-.1-1.3 .8M39.9 82.3l-1.2 2.9-2.4 2.2-1.4 2.8-1.7 2.6-1.3 2.8-1.8 2.6-2.9 1.8-.6 3.4-1.5 2.7-2.3 2.2M71.1 95.4l-2.1 2.6-1.3 2.9-.5 3.3-1.7 2.7-1.1 3-1.3 3-2.4 2.4-.2 3.4-2.6 2.3-.3 3.4-1.6 2.8M56 127.2l-2.4-2.2-3.4-.5-2.8-1.6-2.6-1.8-2.3-2.3-3-1.3-3.3-.6-2.8-1.5-2.2-2.6-2.7-1.6-3.1-1.1-2.6-1.8M15.3 62.4l-1.6 .9-1.7-.9M15.3 62.4l2.4-2 1.3-2.8 2.5-1.8 2.2-2.1 1-3.1 2.1-2.2 2.5-1.8 1.2-2.9 2-2.3 2.3-1.9 2-2.3M12 62.4l-2.2-2.2-.3-3.4-2.6-2-.8-3.1-.9-3-2.6-2.1-.5-3.1-1.4-2.8-.7-.7M36.8 37.2l-2.7-1.9-2.3-2.3-3-1.3-2.8-1.7-2-2.9-3-1.3-2.9-1.4-2.6-2-2.3-2.3-2.9-1.6M0 34.7l2.3-1.5 .8-3.3 2-2.6 .6-3.4 1.6-2.8 2.1-2.5M9.4 18.6l.4-.7 .5 .6M39.9 82.3l-2.9-1.5-1.9-2.7-2.4-2-2.2-2.3-3.4-.8-1.5-3.3-2.5-1.8-2.4-2.1-2.7-1.6-2.7-1.8M0 73l.3-.3 2.3-2.1 2.5-1.8 1.6-3 3.2-1 2.1-2.4M15.4 110.9l3.6-1.7 3.8-.9M46.6 36.2l-3.2 1.1-3.3 .1-3.3-.2M55.9 9.9l-2.7-1.5-3-1-2.4-2-2.6-1.8-3.1-.7-2.4-2.2-1.9-.7M28.3 0l-1 1.2-2.5 1.8-2.1 2.2-2.1 2.2-1.6 2.6-2.7 1.7-1.3 2.9-2.4 1.9-2.3 2M0 11.6l2.5 .9 2.5 1.9 1.6 2.8 2.8 1.4M149.4 36l-.4-3.2-1.2-3.1-.7-3.1 .9-3.5-1-3.1-.9-3.1 .2-3.3-.9-3.2M108 42l2-2.6-.1-3.3 2-2.5 1-3 0-3.3 2.7-2.2-.3-3.4 2.3-2.5 1-2.9 .8-3M145.4 10.4l-3.1 1-3.4-.6-3.2 1.2-3.3-.4-3.2 1.1-3.3-.5-3.2 1.3-3.3-.2M77.9 9.6l2.7-1.7 3-1 2.6-1.8 3.2-.7 2.7-1.6 2.7-1.6 2.3-1.2M108.9 0l.3 1 3.2 1.6 .8 3.4 2.9 1.8 .8 3.4 2.5 2.1M94.3 132.8l-.4-3.2 .6-3.1 .6-3.1 .8-3.1-1.5-3.2 1.1-3-.7-3.2 1-3.1M94.3 132.8l1.9 1 .9 1.9M97.1 135.7l3 .4 3-.2 3 .4 3 .4 3.1 0 3-.2 3-.5 3 .4 3 .1 3-.3M95.8 107.8l3.1-.7 3.1 1 3.1 .2 3.1-.3 3.2-.1 3.1 0 3.1 0 3.1-.5 3.1-1 3.1 .3M126.9 106.7l-.7 3.3 .5 3.2-.2 3.3 .7 3.3 .3 3.3-1.2 3.2 .8 3.3-.5 3.3 .6 3.3M96.3 167.5l.3-3.2-.6-3.2 0-3.2 .5-3.1-.1-3.2-.3-3.2 .3-3.2-.2-3.2 1.3-3.1-.4-3.2M134.8 144.4l-1.6 3-.4 3.3-.2 3.4-1.7 3-.9 3.2M134.8 144.4l-2-3.3-2.9-2.3-2.7-2.6M132.9 99.9l-.8-3.3-.5-3.4-.5-3.4-1.6-3.2-.3-3.4M132.9 99.9l-1.8 2.4-2.7 1.7-1.5 2.7M82.5 92.1l1.7 3 3.1 1.9 1.6 3.2 1.8 2.9 2.6 2.3 2.5 2.4M199.4 175.2l.4 3 1.1 3-.6 3.2 1.5 2.9-.2 3.1 .9 2.6M199.4 175.2l-3.2 .1-2.9-.8-3-.8-2.8-1.6-2.9-1-3.2 .1-3-.6-2.9-1.1M164.7 183.2l2.6-2.4 1.3-3.4 2.3-2.6 2.6-2.4 2-2.9M164.7 183.2l1 2.9 1.4 2.7 1.9 2.5 0 1.7M233.9 178.6l-1 3 .3 3.2-1.4 2.9-.6 3-.1 2.3M233.9 178.6l-1.9-2.6-3.1-1.2-2.5-1.9-2.2-2.4-2.2-2.3-2.8-1.5-2.5-1.9M216.7 164.8l-2.6 2.3-2.8 1.9-3.5 .6-2.6 2.2-3.3 1-2.5 2.4M140.7 184.7l3-.6 3 .8 3-.6 3-.7 3 .8 3-.8 3-.7 3 .3M132.9 99.9l3.2 .7 3.4 0 3 2.1 3.2 .7 3.4-.2M168.1 70.6l1.7 2.6 1.4 2.7 0 3.4 1.9 2.5 1 2.9M174.1 84.7l-2.9 1.3-1.9 2.8-3 1-1.9 2.7-2.3 2.1-2.5 1.9-2.9 1.4-2.4 1.9-2.5 1.9-2.7 1.5M174.7 163.9l-2.6-1.7-1.7-2.9-3.2-1.2-2.5-2-1.8-2.8-2.4-2-2.9-1.6-1.9-2.6-2.4-2.2-3-1.2-2.4-2.2M174.7 163.9l1-3 2.6-2.1 .2-3.5 2.2-2.3 1.5-2.8 1.5-2.7 1.1-3 1.3-2.8 1.7-2.7M187.8 139l-2.4-2.1-.9-3.3-2.1-2.4-1.9-2.5-2.8-1.8-1.9-2.5M175.8 124.4l-3-.9-3 1.8-3.1-1-3 .4-3 .1M147.9 141.5l2.3-2 .8-3.1 2.1-2.3 2.5-1.8 .8-3.2 3-1.5 1.3-2.8M134.8 144.4l3.4 0 3.3-.6 3.2-1.3 3.2-1M175.5 169.5l-.1-2.8-.7-2.8M149.1 103.2l1.1 2.9 1.9 2.5 1.6 2.6 1.6 2.6 .6 3.1 2.3 2.3 1.3 2.7 1.2 2.9M335.1 0l.2 .6 2 2.3 .7 .4M278.6 0l1.1 3.7 3 2.2 2.5 2.6M305.5 0l-.7 2.5-1.4 2.9M285.2 8.5l3.2 .3 2.8-1.7 3.2 .5 2.9-1.1 3.2 .3 2.9-1.4M338 15.4l-1 .8M337 16.2l-3.3-.1-3.2 1-3.2 1.1-3.5-1.1-3.2 .9-3.1 1.6-3.4-.4M314.1 19.2l-1.5-3.2-3-2.2-2.5-2.4-1.9-3-1.8-3M285.2 8.5l-1.4 2.8 .4 3.3-2 2.6-1.1 2.9 .6 3.4-1 2.9-1.4 2.8-.7 3-.7 3-1.2 2.9M303.4 42l-3.2-.9-3.2 .9-3.2 .4-3.2-1-3.3 .9-3.2-.3-3.2-.7M303.4 42l1-3 1.1-3 1.8-2.6 .9-3.1 1.7-2.6 2.3-2.4 .6-3.2 1.3-2.9M276.7 38.1l2.2 1.5 2 1.7M305.5 88.4l3.2 .2 3.2-.4 3-1.4 3.2 .4 3.2-.6 3.1-.7 3.2 .3 3.2 .1 3.1-.8M305.5 88.4l-.7-2.7-1-2.5M303.8 83.2l1.3-3 .2-3.2 2-2.7 1.3-3-.4-3.5 2.4-2.5-.1-3.5 1.3-2.9 1.3-2.9 .7-3.1M333.9 85.5l1.2-2.8-.1-3.3 1.1-2.9 1.8-2.6 .1-.8M313.8 52.9l3.2-.5 3.3-.1 3.1 1.5 3.3-.2 3.2-.4 3.2-.3 3.2 .8 1.7-.1M304 93.2l-2.7 1.7-3.1 .4-2.8 1.4-3.1 .5-2.5 2.1-2.9 1.1-3.4-.2-2.7 1.4-2.7 1.8-3 .7-3.2 .2-2.6 1.8M304 93.2l1-2.3 .5-2.5M268.8 105.7l.6-.3-.1 .7M268.8 105.7l0-3.3-1.9-2.8 .3-3.4-.7-3.2-2.3-2.7-.2-3.3-.2-3.2-1.1-3.1M279.7 69.7l-3.1 1.5-2.9 1.6-2.5 2.3-2.6 2.3-2.8 1.9-3.1 1.4M279.7 69.7l2.5 1.9 3.2 .4 2 2.7 2.7 1.5 2.6 1.6 3 1.1 2.3 2 2.8 1.3 3 1M303.4 42l1.7 2.6 3.1 1.2 1.1 3 2.7 1.6 1.8 2.5M280.9 41.3l-.8 3.1 1.3 3.2-.8 3.2 .2 3.1-.1 3.2-.4 3.1-.9 3.2-.2 3.1 .5 3.2M338 90.8l-.4-.3-2.1-2.3-1.6-2.7M337 16.2l.7 3.1-.1 3.1-.4 3.2 .8 2.7M28.7 154l3-1.2 2-2.7 2.7-1.6 2.8-1.4 2.8-1.4 3.2-.7 2.5-1.9 2.4-2.1 3.1-1 2.8-1.3 2.3-2.4M28.7 154l-.9 3.3-1.1 3.3-1.9 3-.5 3.4M24.3 167l1.7 2.8 .6 3.3 1.2 3M27.8 176.1l3.2 1 3.5-.9 3.1 1.3 3.2 1 3.5-.7 3.2 1 3.2 .9 3.3-.2 3.2 1.1M70.7 166.7l-1.7 2.8-2.4 2.2-2.8 1.8-1.5 3-3.3 1.3-1.8 2.8M70.7 166.7l-1.6-2.7-.6-3.2-1.7-2.7-.3-3.2-1.2-2.9-.5-3.2-2.3-2.5-.2-3.3-1.1-2.9-1.5-2.8M59.7 137.3l-.7-.5-.7-.5M10.1 122.1l1.3 2.8 1.6 2.7 2.1 2.3 1.2 2.8 1.8 2.6 1.7 2.5 .9 3.1 1.3 2.8 2 2.4 1.7 2.5 2.2 2.3 .8 3.1M56 127.2l1.4 2.8-.1 3.3 1 3M0 163.1l2.9 .1 3.1 .6 3.1 0 2.8 1.8 3.4-1 3 .6 2.9 1.4 3.1 .4M24.4 185.2l1.1-3 2-2.7 .3-3.4M60.9 193l-.1-.4 .1-3.3-1.5-2.8-1.4-2.9-.8-3M94 170.2l-3.3-.3-3.3-1-3.4 .3-3.4-.3-3.2-1.3-3.2-1-3.5 .1M94.3 132.8l-3 1.2-3.3-.7-3.1 1.2-3.1 .6-3.2-.5-3.1 1.3-3.3-.8-3 1.4-3.2 0-3.2-.4-3.1 1.2M152.9 2.2l0-2.2M152.9 2.2l3.2 .5 3.1 .6 3 1.1 2.9 1.5 3.3 .2 3.1 .7 3.1 .9 2.9 1.6 2.9 1.2 3.4-.1 3 1M196.3 0l-1 1.4-1.2 3.1-2 2.7-1.6 2.8M186.8 11.4l1.9-.5 1.8-.9M145.4 10.4l2.2-3.1 2.7-2.5 2.6-2.6M173.2 44.2l.7-3.2 1.6-2.8 2.1-2.6 .4-3.4 1.4-2.9 .5-3.2 1.6-2.9 1.4-2.9 1.9-2.7 .6-3.3 1.4-2.9M236.7 0l0 .6M236.7 .6l-2.3-.6M233.1 0l-2.5 .9-3.1 0-3-.6-3 .1-1.1-.4M216.7 0l-1.3 .5-2.5-.5M65.5 5.1l-.5-3 .7-2.1M175.8 50.8l3.1 .1 3.1-.1 3.1 .9 3 1 3.3-1.1 2.9 1.8 3.2-.6 3.1 .4 3.1 .4 3 .9 3.1 .1 3.2 0M213 54.6l1.1-3 .8-3.2 1.4-2.8 2.2-2.6 .4-3.3M218.9 39.7l-2.5-2-2.2-2.3-1.8-2.6-1.7-2.7-2.4-2.1-2.3-2.2-2.3-2.2-2.1-2.4-2.5-2-2.6-1.8-1.6-2.8-1.7-2.8-2.7-1.8M216.7 164.8l.1-3.4 .6-3.4 .4-3.4-.3-3.4M187.8 139l3.2-.8 3.2 .6 3.2 .2 3.1-1.2 3.2-.3 3.2 0M217.5 151.2l-2.8-2.2-1.3-3.4-1.6-3.1-2.5-2.5-2.4-2.5M233.9 178.6l2.7-1.3 3.3 .5 2.7-1.4 3-.6 2.5-2 3-.4 3-.6 2.9-.8M244.8 140.7l-2.7 2-3.6-.3-2.5 2.5-3.3 .4-3 1.4-2.9 1.4-3.5 .1-3 1.1-2.8 1.9M244.8 140.7l3.1 2.3 3.9 .9M257 172l-.4-3.2-.2-3.2-.9-3.1-1.3-2.9 .5-3.4-.6-3.1-1.7-2.9 .4-3.3-1-3M268.8 105.7l-3.1 .3-3 1.1-3.2-.4-3.1 .5-2.9 1.3-2.9 1-3.2 .1-3 .8-3 .8-3.2-.2-3 .7M269.3 106.1l.7 3 .5 3.1 2.1 2.7-.8 3.4 2 2.7-.2 3.3 .7 3 1.6 2.8M235.2 111.7l1.7 2.6 0 3.2 1.7 2.7-.2 3.3 1.1 2.8 1.4 2.8 1.1 2.8 .1 3.2 2.4 2.4 .3 3.2M251.8 143.9l2.7-1.5 2.3-2.1 3.1-.9 2.5-1.7 2.8-1.4 2.5-1.9 3.2-.6 2.4-2 2.6-1.7M257 172l1.6 .9 1.7 .9M260.3 173.8l.5 3.1 1.1 2.8 1.4 2.8 1.9 2.5 1.4 2.7 .9 2.9 1.7 2.4M338 108.1l-.6 1-.8 3.4-3 2.2-.9 3.3M338 124.6l-1.6-1.4-1.4-2.9-2.3-2.3M304 93.2l.4 3 .9 2.9 1.4 2.8 1.1 2.8 1.6 2.6 1.2 2.8 .4 3.1 .6 3 1.6 2.7M332.7 118l-3.2 1-3.3-.3-3.3-.7-3.2 .9-3.3 .2-3.2-.2M269.2 37.4l-3 1.5-3 1.8-2.4 2.6-3.4 .8-2.8 2M269.2 37.4l-1.6-2.8-1.4-2.9-2.3-2.4-2.7-2-2-2.6-.9-3.3-2.5-2.2-1.8-2.7-2.1-2.4-1.1-3.2-2-2.5M254.6 46.1l-3-1-3.3-.3-3-1.3-3.1-1-3.1-.6-2.9-1.7-3.3-.3-2.9-1.4-3.2-.5-3.2-.6M223.6 37.4l1-3.1 1.7-2.8 1.4-2.9 2.7-2.1 1-3.1 1.1-3.1 1.5-2.8 2.5-2.3 1.7-2.7 1.5-2.9 .9-3.1M248.8 8.4l-4-1.6-4.2-.3M276.7 38.1l-3.8-.3-3.7-.4M262.7 80.7l-3-.8-2.4-1.9-2.7-1.5-2.4-2-3.1-.8M249.1 73.7l.1-3.2 .6-3 .7-3.1 1.5-2.9 .9-3-.8-3.3 1.7-2.9 .5-3.1 .3-3.1M263.9 0l-2 .4-2.1 2.6-2.6 1.6-3.2 .5-2.2 2.4-3 .9M236.7 .6l1.6 3.2 2.3 2.7M218.9 39.7l2.4-1 2.3-1.3M231.5 109.6l-3.2 1.4-3.5 .3-3.3 1-3.1 1.4-3.5 .2M231.5 109.6l.1-3.2 .5-3.2 .5-3.2 .7-3.1-.3-3.3-.7-3.2-.1-3.3 1.8-3-.2-3.3 0-3.2M214.9 113.9l-2.9-1.3-2.1-2.4-2-2.3-2.7-1.6-1.9-2.6-3.5-.6-2.3-2-2.3-2.1-2.2-2.3-2.3-1.9M215.7 66.5l2.2 2.1 3.1 .7 2.1 2.5 3.3 .4 2.6 1.7 2.5 1.5 2.3 2.2M215.7 66.5l-1.7 2.6-2.3 2.2-2.7 1.7-1.3 2.9-2.6 1.9-2 2.4-2.6 1.7-1.2 3.2-2 2.4-2.2 2.2-2.4 1.9-2.4 2.1M190.3 93.7l.7 .3-.3 .8M235.2 111.7l-1.6-1.6-2.1-.5M206.9 137.5l.6-3.1 .9-3 1.2-2.9 .7-3 .9-3 .9-3 1.5-2.7 1.3-2.9M249.1 73.7l-3.2 .3-2.8 1.7-3.2 .2-3.2 .3-2.9 1.4M175.8 124.4l1.5-2.7 1.9-2.4 .2-3.2 1.3-2.7 2.1-2.4 1.2-2.8 1.5-2.5 1-2.9 1-2.9 2.4-2.2 .8-2.9M213 54.6l.4 3 .4 3 1.6 2.8 .3 3.1M174.1 84.7l2.7 1.4 2.8 1.4 2.8 1.3 2.9 1.2 2.6 1.6 2.4 2.1M338 170.6l-.6 1.3 .1 3.2-1.8 2.9 0 3.2-.9 3M321.8 193l1.1-1.5-.2-3.2M334.8 184.2l-3 1-2.9 1.4-3.2 .7-3 1M289.3 193l.8-.6 1.7-2.7 2-2.4 2.7-1.6 1.2-3.2 2.6-1.8 2.3-2.1 1.8-2.5M322.7 188.3l-2.8-1.5-2.7-1.5-2.4-2.1-2.2-2.4-2.7-1.5-2.5-2-3-1.2M316.9 150l-2.9 1.4-2 2.3-1.7 2.7-2.7 1.5-1.7 2.8-3 1.1-2 2.4M316.9 150l-.2-3.1-.9-3-.3-3.2-2-2.8 0-3.2 .1-3.2-.9-3-1.4-2.9-.4-3.2M280.5 132.6l.8 3 .6 3.1 1 3 2.6 2.3 1 3-.1 3.3 1 3 1.4 2.7 1.1 3M280.5 132.6l3.2-.7 3-.9 2.7-2.1 3.6 .4 2.9-1.3 3-1 3.2-.8 3-.9 2.7-2.2 3.1-.7M289.9 159l2.7 1.5 2.8 1.2 3.1 .6 2.4 1.9M338 152.6l-2.9-.4-3.1 .6-3-.9-3.1 0-2.9-1.4-3.2 .6-2.9-1.1M304.4 176.1l-1.5-2.8 .5-3.3-2.1-2.7-.4-3.1M313.2 118.9l-.8 2-1.5 1.5M260.3 173.8l2.9-.9 2.3-2.3 3.2-.3 2.3-2.1 2.7-1.3 2.7-1.4 3.1-.4 2.6-1.6 2.4-1.9 2.8-1.1 2.6-1.5M275.9 130.1l2.3 1.4 2.3 1.1" fill="none" stroke="#cdcdcd" stroke-width="0.5"/>
<polyline points="88,0 85,14.6 75,33.6" fill="none" stroke="#bbb" stroke-width="0.6"/>
<polyline points="95.5,3 94,13 98.4,17.5 104,14.6 102.8,3" fill="none" stroke="#bbb" stroke-width="0.6"/>
<polyline points="160,0 164,10 175,20 181,26 183,40" fill="none" stroke="#bbb" stroke-width="0.6"/>
<polyline points="205,0 204,10 200,20 199,28 203,36 210,40" fill="none" stroke="#bbb" stroke-width="0.6"/>
<polyline points="230,0 236,10 250,18 262,26 280,30 300,30" fill="none" stroke="#bbb" stroke-width="0.6"/>
<polyline points="210,40 222,42 240,46 262,58 272,70 280,80 295,90 310,92" fill="none" stroke="#bbb" stroke-width="0.6"/>
<polyline points="230,72 245,75 262,72 280,72 300,80 315,90" fill="none" stroke="#bbb" stroke-width="0.6"/>
<polyline points="298,108 310,110 316,120 330,128 338,130" fill="none" stroke="#bbb" stroke-width="0.6"/>
<polyline points="287,130 300,138 312,150 318,160" fill="none" stroke="#bbb" stroke-width="0.6"/>
<polyline points="263,165 268,175 262,185 265,194" fill="none" stroke="#bbb" stroke-width="0.6"/>
<polyline points="205,168 212,178 215,194" fill="none" stroke="#bbb" stroke-width="0.6"/>
<polyline points="150,160 155,172 160,185 165,194" fill="none" stroke="#bbb" stroke-width="0.6"/>
<polyline points="181.5,172 182,183 186,194" fill="none" stroke="#bbb" stroke-width="0.6"/>
<polyline points="240,165 245,178 252,194" fill="none" stroke="#bbb" stroke-width="0.6"/>
<polyline points="290,150 300,162 298,176 305,194" fill="none" stroke="#bbb" stroke-width="0.6"/>
<polyline points="20,95 30,100 40,96" fill="none" stroke="#bbb" stroke-width="0.6"/>
<polyline points="18,110 30,104 40,100" fill="none" stroke="#bbb" stroke-width="0.6"/>
<polyline points="0,85 12,90 20,95" fill="none" stroke="#bbb" stroke-width="0.6"/>
<polyline points="50,90 60,85 70,80" fill="none" stroke="#bbb" stroke-width="0.6"/>
<polyline points="76.5,0 71.4,7.3 70.7,13 71.4,17.5 66.3,28.5 48.8,30 47,31" fill="none" stroke="#444" stroke-width="0.7"/>
<polyline points="66.3,28.5 72,30.7 75,38 78,42.3" fill="none" stroke="#444" stroke-width="0.7"/>
<polyline points="153,5 158,0" fill="none" stroke="#444" stroke-width="0.7"/>
<polyline points="214,2 216,8 224.2,14.1 232.3,20.2 242.3,24.2 252.4,26.2 260.5,30.2 268.5,36.3 278.6,40.3 288.7,44.4 298.8,48.4 308.9,49.4 316.9,47.4 321,48.4" fill="none" stroke="#444" stroke-width="0.7"/>
<polyline points="246.4,22.2 248.4,14.1 250.4,6 254.4,0" fill="none" stroke="#444" stroke-width="0.7"/>
<polyline points="286.7,0 296.8,6 306.9,12.1 312.9,16.1 319,20.2" fill="none" stroke="#444" stroke-width="0.7"/>
<polyline points="315,48.4 321,52.4 319,60.5 316.9,68.5 321,76.6 319,87 322,100 318,115 322,130 318,145 322,160 318,175 322,193" fill="none" stroke="#444" stroke-width="0.7"/>
<g clip-path="url(#rh)">
<rect x="0" y="0" width="338" height="193" fill="#3288bd"/>
<polygon points="126.4,22.8 132.1,13.3 135.9,7.6 141.6,5.7 143.5,11.4 144.4,22.8" fill="#99d594"/>
<polygon points="160.6,51.2 166.3,49.3 170,53.1 168.2,56.9 162.5,56" fill="#99d594"/>
<polygon points="151.1,72.1 156.8,64.5 158.7,62.6 162.5,72.1 164.4,81.6 162.5,85.4 154.9,81.6 151.1,77.8" fill="#99d594"/>
<polygon points="172,68.3 177.6,66.4 185.2,74 185.2,79.7 179.5,79.7 172,74" fill="#99d594"/>
<polygon points="137.8,89.2 149.2,85.4 160.6,87.3 160.6,94.9 151.1,100 137.8,100" fill="#99d594"/>
<polygon points="175.8,91.1 185.2,89.2 190,91.1 190,100 175.8,100" fill="#e6f598"/>
<polygon points="198.5,48.9 202.3,52.7 204.2,60.3 208,64.1 200.4,66 198.5,58.4" fill="#99d594"/>
<polygon points="138.5,84.7 159.7,63.5 180.9,55 202,55 223.2,63.5 227.5,84.7 210.5,97.4 189.3,97.4 172.4,105.8 155.5,110.1 138.5,105.8" fill="#99d594"/>
<polygon points="180.9,76.2 197.8,74.1 202,88.9 189.3,97.4 178.8,91" fill="#3288bd"/>
<polygon points="160,80 172,78 175,92 165,98 158,90" fill="#3288bd"/>
<polygon points="170,67.8 181.4,66 187.1,73.5 183.3,79.2 175.7,77.3 170,73.5" fill="#99d594"/>
<polygon points="204.2,66 215.5,64.1 219.3,67.8 226.9,66 225,81.1 219.3,84.9 213.6,83 206.1,75.4" fill="#99d594"/>
<polygon points="213.6,66 226.9,66 230.7,71.6 228.8,83 219.3,83 215.5,75.4" fill="#3288bd"/>
<polygon points="196.6,88.7 208,83 219.3,83 223.1,88.7 217.4,92.5 208,92.5 198.5,94.4" fill="#99d594"/>
<polygon points="165,90 200,88 225,90 250,92 300,100 300,172 160,172 160,95" fill="#e6f598"/>
<polygon points="170,90.6 181.4,88.7 189,94.4 173.8,98.2 170,100.1" fill="#99d594"/>
<polygon points="253.5,92.5 272.5,92.5 287.6,98.2 299,103.9 300,111.5 283.9,109.6 272.5,105.8 261.1,103.9 253.5,100.1" fill="#99d594"/>
<polygon points="270.4,110.3 282.6,110.3 282.6,120.5 272.4,120.5" fill="#99d594"/>
<polygon points="160,120.5 172.3,124.6 172.3,134.8 160,136.8" fill="#99d594"/>
<polygon points="160,157.3 180.4,155.2 190.7,159.3 200.9,159.3 211.1,155.2 213.1,165.4 200.9,167.5 184.5,165.4 172.3,165.4 160,165.4" fill="#99d594"/>
<polygon points="200.9,102.1 223.4,102.1 227.4,114.3 221.3,124.6 219.3,116.4 213.1,112.3 200.9,114.3" fill="#99d594"/>
<polygon points="219.3,109.6 226.9,111.5 232.6,117.2 232.6,128 219.3,128" fill="#99d594"/>
<polygon points="225,90.6 232.6,92.5 242.1,96.3 245.8,98 245.8,126.6 241.7,128.7 237.7,124.6 235.6,114.3 229.5,108.2 225,103.9" fill="#3288bd"/>
<polygon points="200.9,114.3 213.1,112.3 219.3,116.4 221.3,126.6 217.2,132.7 209,136.8 205,147.1 200.9,147.1 196.8,138.9 190.7,134.8 190.7,128.7 198.8,126.6 200.9,120.5" fill="#3288bd"/>
<polygon points="166.1,136.8 180.4,134.8 190.7,132.7 198.8,138.9 194.7,143 184.5,143 180.4,149.1 180.4,155.2 174.3,157.3 168.2,151.1 166.1,143" fill="#3288bd"/>
<polygon points="160,110.3 172.3,106.2 176.3,118.4 168.2,122.5 160,120.5" fill="#3288bd"/>
<polygon points="170,103.9 173.8,103.9 173.8,115.3 170,117.2" fill="#3288bd"/>
<polygon points="245.9,100.1 255.4,98.2 257.3,109.6 253.5,117.2 245.9,117.2" fill="#fee08b"/>
<polygon points="247.9,104.1 254,102.1 256,114.3 249.9,116.4 246.9,110.3" fill="#fc8d59"/>
<polygon points="239.7,130.7 245.8,126.6 252,128.7 252,134.8 245.8,136.8 239.7,134.8" fill="#fc8d59"/>
<polygon points="241.7,131.7 247.9,130.7 247.9,135.8 242.8,135.8" fill="#d53e4f"/>
<polygon points="254,134.8 274.4,132.7 276.5,145 266.3,151.1 256,149.1" fill="#fee08b"/>
<polygon points="260.1,122.5 266.3,120.5 272.4,124.6 272.4,132.7 266.3,132.7 260.1,128.7" fill="#fc8d59"/>
<polygon points="265.3,126.6 271.4,126.6 271.4,131.7 265.3,131.7" fill="#d53e4f"/>
<polygon points="249.9,147.1 266.3,145 268.3,155.2 262.2,167.5 249.9,165.4" fill="#fee08b"/>
<polygon points="254,153.2 264.2,149.1 268.3,153.2 262.2,165.4 258.1,167.5 254,159.3" fill="#fc8d59"/>
<polygon points="219.3,143 235.6,140.9 241.7,149.1 237.7,159.3 227.4,163.4 219.3,159.3" fill="#fee08b"/>
<polygon points="221.3,147.1 233.6,143 235.6,149.1 227.4,153.2 221.3,153.2" fill="#fc8d59"/>
<polygon points="223.4,146 231.5,145 231.5,149.1 224.4,149.1" fill="#d53e4f"/>
<polygon points="180.4,159.3 190.7,159.3 190.7,171.6 180.4,171.6" fill="#fee08b"/>
<polygon points="184.5,163.4 188.6,163.4 188.6,168.5 184.5,168.5" fill="#fc8d59"/>
<polygon points="40,112 90,105 125,100 160,95 178,95 178,170 130,190 90,185 55,160 42,125" fill="#99d594"/>
<polygon points="35,116 49.9,108 71.8,108 87.1,106 91.5,112.7 93.7,121.5 102.4,125.8 104.6,136.8 100.3,145.6 89.3,143.4 82.7,134.6 71.8,138 60.8,140 49.9,140 36,132" fill="#e6f598"/>
<polygon points="87.1,143.4 102.4,141.2 111.2,147.7 111.2,158.7 100.3,165.3 91.5,163.1 87.1,154.3" fill="#e6f598"/>
<polygon points="98.1,156.5 106.8,156.5 109,167.4 100.3,169.6" fill="#fee08b"/>
<polygon points="60.8,156.5 71.8,154.3 74,163.1 67.4,167.4 63,163.1" fill="#3288bd"/>
<polygon points="78.4,149.9 80.6,149.9 80.6,154.3 78.4,154.3" fill="#3288bd"/>
<polygon points="95.9,106.1 124.3,104 124.3,114.9 120,121.5 120,132.4 124.3,136.8 122.2,145.6 115.6,145.6 109,136.8 106.8,125.8 100.3,119.3 95.9,112.7" fill="#3288bd"/>
<polygon points="89.3,93 115.6,93 124.3,99.6 124.3,104 95.9,106.1 89.3,101.8" fill="#3288bd"/>
<polygon points="141.9,106.1 150.6,101.8 159.4,106.1 168.1,110.5 168.1,121.5 159.4,125.8 150.6,123.7" fill="#3288bd"/>
<polygon points="137.5,93 155,93 159.4,99.6 146.2,101.8 137.5,99.6" fill="#3288bd"/>
<polygon points="165.9,134.6 178,132.4 178,156.5 168.1,156.5" fill="#3288bd"/>
<polygon points="146.2,125.8 159.4,123.7 163.8,136.8 161.6,149.9 155,158.7 146.2,156.5 144,143.4" fill="#e6f598"/>
<polygon points="146.2,136.8 159.4,134.6 160.5,152.1 150.6,156.5 146.2,149.9" fill="#fee08b"/>
<polygon points="150.6,141.2 156.1,139 157.2,149.9 152.8,154.3 149.5,149.9" fill="#fc8d59"/>
<polygon points="130.9,158.7 139.7,158.7 141.9,167.4 135.3,169.6 130.9,167.4" fill="#fee08b"/>
<polygon points="120,165.3 130.9,165.3 135.3,171.8 130.9,178.4 122.2,178.4" fill="#e6f598"/>
<polygon points="124.3,176.2 141.9,176.2 141.9,182.8 133.1,185 124.3,185" fill="#3288bd"/>
<path d="M30 154.1l.8-2 1.2-2.9 .1-3.2 .8-3 .5-3.1 .8-3 1-2.9M35.2 134l-1.4-.7M164 61.9l-3.6-.2-3.3 1.2-3.6-.4-3.3 1.7-3.4 .2M164 61.9l2.3 2.3 2.7 2 2.8 1.6 2.9 1.5 2.8 1.8M177.5 71.1l-.7 2.2 .5 2.2M177.3 75.5l-2.3 2.3-2.4 2.2-.9 3.4-1.8 2.6-2.9 1.8-1.5 2.9M165.5 90.7l-3.5 .4-3.4-1.3-3.4 .2-3.4 .1-3.5 .1-3.4-.3M146.8 64.4l-.9 3.1 .5 3.3 .4 3.2-1.8 3.1 .6 3.2 .2 3.2 0 3.2-.9 3.2M165.5 90.7l1.9 2.7 .2 3.3 1.2 3 1.3 2.9 1.4 2.9 1.4 2.8 .7 3.2M140.8 106l.8-3.4-.9-3.4 .5-3.4 .7-3.3M140.8 106l1.9 2.9 2 2.9 2.6 2.3 1.8 3 2.6 2.4 2.6 2.3M173.6 111.5l-2.5 2.2-2.9 1.8-2.4 2.3-2.3 2.4-2.2 2.6M154.3 121.8l3.6-.3 3.4 1.3M144.9 89.9l-1.8 .9-1.2 1.7M121.5 115.5l2.4-2 3-1 3.3-.3 2.1-2.6 3.1-.6 2.9-1.1 2.5-1.9M121.5 115.5l-1.8-2.5-2.5-2-1.6-2.8-2.2-2.3-1.6-2.8-3.3-1.3-1.5-2.9M141.9 92.5l-3.2-1.5-3.7-.2-3.3-1.3-3.2-1.7-3.4-1.1M107 98.9l2.4-2.1 3.3-.7 2.6-1.6 2.1-2.5 2.7-1.6 2.3-2.2 2.7-1.5M121.5 115.5l.3 3.2-1.5 2.9 .2 3.1-1.7 2.9 0 3.1-.4 3.1M154.3 121.8l-2.1 2.7-2.7 1.9-2.8 1.9-2 2.8-2.5 2.2-3 1.6-2.3 2.4M118.4 133.8l3 1 3.2 .2 2.9 1.1 3.1 .7 3.3-.4 3 .9M167.7 155.4l1.4-4.1 2.9-3.3M167.7 155.4l-3.2 1.3-3.4 0-3.1 1.4-.5 .1M149.4 160.4l-1.1 .4M172 148l-1.9-2.5 .3-3.4-1.4-2.7-1.7-2.6-1.3-2.7-.5-3.2-1.2-2.8-1.7-2.5-1.3-2.8M136.9 137.3l2.1 2.5 .4 3.5 1.3 3 1.9 2.7 1.7 2.8 1.7 2.8 .2 3.6 2.1 2.6M165.8 18.6l0 0-2.7 1.7-1.6 2.7M147.2 3.2l-.3 .4M146.9 3.6l1.7 2.6 2.3 2 1.2 2.9 .9 .8M157.4 16.8l1.1 .9 .8 3.2 2.2 2.1M146.9 3.6l-3.5-1.1-3.6 .7-2.4-.5M175.7 35.2l-2.2-.1-3.3-.3-3.2-.9M167 33.9l-2.8-2.2-2.6-2.5M161.5 23l-.5 3.1 .6 3.1M167.7 155.4l1.1 3.3 2.2 2.8 2.1 2.7 .1 .5M148.3 160.8l-.3 .7M196.6 101.6l2.7 2 2 2.6 3.7 .6 2.1 2.5 2.2 2.5 3.2 1.2 1.9 2.9 2.6 1.9 3 1.4M196.6 101.6l-2.8 1.3-1.9 2.5-2.6 1.5-1.5 3-2.7 1.4M185.1 111.3l1.8 2.8 1.2 3.1 .8 3.3 1.1 3.2 1.6 2.9 1.5 2.9 .6 3.4 2.2 2.7M195.9 135.6l2.9-1.5 2.4-2.3 2.9-1.2 3.3-.6 2.9-1.3 2.5-2.2 2.8-1.5 2.9-1.3M218.5 123.7l.5-2.4 1-2.1M177.3 75.5l2.1 2.5 2.2 2.4 1.9 2.7 2.7 1.9 2.2 2.4 1.9 2.7 3.1 1.5 2.4 2.2 1.8 2.8M197.6 96.6l-.9 2.5-.1 2.5M173.6 111.5l3.8-.8 3.9 1.5 3.8-.9M172 148l3.1-.4 3-.4 2.9-1.2 3.2-.2 2.8-1.5 3.1-.4 2.9-1M193 142.9l1-3.8 1.9-3.5M193 142.9l1.9 2.4 1.9 2.4 1.8 2.5 2 2.2 1.9 2.4 2.7 1.6 1.3 2.9 2.6 1.8M228.6 147.7l-2.6 2.1-3 1.7-2.9 1.7-2.6 2.2-2.4 2.6-3.3 1-2.7 2.1M228.6 147.7l-.5-3.3-2-2.7-1.3-3-1.1-3.1-2.1-2.6-.8-3.2-1.1-3.1-1.2-3M121.4 64.8l3.1 .4 2.9-1.5 3.1 1.3 2.9-.8 3 .1 3-.4 3-.8 3 .2M121.4 64.8l-1.5-3.2-.1-3.4-.5-3.4-1.1-3.3-.4-3.4-.4-3.4-.6-3.4M145.4 63.3l-1.5-3.1-.5-3.2 .7-3.5-.2-3.4-.8-3.2-1.8-3.1 0-3.3-.6-3.3M116.8 41.3l2.9-1.4 2.9-1.2 3.3-.1 2.7-2.1 3-.8 3.2-.5M134.8 35.2l2.7 1.7 3.2 .3M146.8 64.4l-1.2 .1-.2-1.2M119.6 67.4l1.1 3.2 1.4 3.1 .4 3.4 1.2 3.1 1.3 3.1 .1 3.4M119.6 67.4l.9-1.3 .9-1.3M164 61.9l.4-3.1 .5-3.1 .9-3.1-1-3.2 .8-3.1-.3-3.2 .3-3.1 1.3-3 .1-3.1M161.6 29.2l-3.2 .5-3 1.3-2.7 1.7-3 1.2-3.1 .7-2.7 2.2-3.2 .4M109.8 38.2l3 1 4 2.1M130.9 13.2l.2 .9 1.2 2.9 0 3.1 1.4 2.9 .4 3-.9 3.3 1.7 2.8-.1 3.1M98.1 89.8l.5-3.4 1.9-2.9 1.3-3.2 .8-3.3 1.3-3.1 1.1-3.3M98.1 89.8l-3-1.1-3-.2-3-.6-3.2 .3-1.7-.6M74.6 74l2.6-1.3 2.9-1.8 2.8-1.9 2.4-2.3 2.4-2.5 2.5-2.2 3.1-1.5M93.3 60.5l2.6 1.7 2.1 2.3 2.8 1.5 1.4 3 2.8 1.6M107 98.9l-.8-.2-.9-.1M105.3 98.6l-2.7-2.7-1.9-3.3-2.6-2.8M119.6 67.4l-2.8 1.2-3 .4-2.9 .9-2.9 .4-3 .3M66 62.4l1.3 1.2 1.6 2.7 1.5 2.8 1.5 2.8 .1 .1M93.5 44.6l-.6 2.7 .7 3.3 .5 3.3-.5 3.3-.3 3.3M35.2 134l3.7-1.1 3.2-1.7 3-2.3M46.9 111.3l1.8 2.4M45.1 128.9l1.2-2.9 .5-3.1 1.2-3 .6-3.1 .1-3.1M30 155.2l2.5 1.1 2.3 2.2 2.1 2.3M36.9 160.8l2.4-2.2 2.7-1.4 2.7-1.5 3.2-.6 2.8-1.4 2.5-1.9 2.8-1.3 2.7-1.5 2.4-2M61.1 147l-.3-2.7 .6-2.5M45.1 128.9l2.6 2.4 3.3 1.3 1.9 3.2 3.5 1.2 2.7 2.1 2.3 2.7M48.7 113.7l3.5-.4 3.3-1.4 3.6 0 2-.5M125.5 194l0 0-3.1-.4-.8 .4M116.6 194l-.5-.2-1.7 .2M81.4 185.9l3 1.3 2.6 2.1 3.1 1.3 3.1 1.1 2.5 2.2 1.3 .1M81.4 185.9l-.8 .3-.9 0M79.7 186.2l-.1 3.1-1.7 2.7-1 2M71 159.5l-.7 3.4 .3 3.4-.8 3.3 .1 3.5-.7 3.3M71 159.5l2.8-1.9 3.5-.1 3.1-1 2.4-2.5 2.9-1.6 3.3-.5M81.4 185.9l2.9-1.7 1.6-3 3-1.6 2.3-2.2 1.7-2.9 3.3-1.3 1.9-2.6 2.8-1.8 1.8-2.7M79.7 186.2l-2.2-2.9-3.5-1.5-2.2-2.9-2.6-2.5M89 151.9l1.9 2.7 2.2 2.5 3.3 1.3 1.9 2.8 2 2.6 2.4 2.3M113 194l-.2-2.9-.5-3.2 1.7-3.1-.9-3.1-.2-3.2-.5-3.1 1.8-3.1-1.4-3.2 .6-3.1M102.7 166.1l3.6 .3 3.5 .2 3.6-.6M118.4 133.8l-.4 .2-.3 .3M140.5 170.1l-2.8-1-3.4 .1-3.2-1.4-3.2-.9-3.5 .5-3.3-.2-3.3-.6-3.1-1.4M117.7 134.3l-.7 3.1 0 3.1-.1 3.1-.1 3.1-.1 3.1-.3 3.1-.8 3.1-.3 3.1 .2 3.1-.8 3M114.7 165.2l-.3 1.1-1-.3M209.1 161.1l-.4 3-.9 3 0 .5M180.5 171.1l2 .6 0 0M283.8 138.9l-.3 .1-3.2-.2-2.9 1-2.8 1.2-2.7 1.4M266.2 159.2l-.4-.7-1.4-2.7M271.9 142.4l-1.2 2.8-1.7 2.6-1.6 2.7-.9 2.9-2.1 2.4M220.4 118.9l.1 .6-.5-.3M220.4 118.9l.5-3 .1-.2M224.5 107.7l0 0 .7-3 1.4-2.7 .5-3 .7-2.8M197.6 96.6l2.2-2.8 2.5-2.4 3.4-1.4 2.5-2.5 2.6-2.3M210.8 85.2l3.5-.7 3.3 .8 3.4 0 3.5 .2 2.7 .2M297.3 112.1l-.4-.4-2.7-1.8-2.3-2.4M286.6 135.5l.1-.7 .1-3.1-.8-2.3M285.6 117.7l-.5-1.1 1.3-3.1-.7-3M285.7 110.5l3.3-1.1 2.9-1.9M291.9 107.5l1.4-3.9 1.2-1.8M72.7 113.2l-.8 3 .2 3.1 1.3 3-.8 3 0 3.1 .6 3M72.7 113.2l3.4 0 3.4 .8 3.5-.6 3.4 1 3.5-1 3.4 .5M73.2 131.4l2.8 1.6 2.9 1.3 2.7 1.7 3.3 .3 2.3 2.7 3.2 .5M93.3 113.9l1 3.2 2.1 2.7 .8 3.3 1.8 2.8 1.6 3 .4 3.4M101 132.3l-3 1.2-2.1 2.6-3.2 1.1-2.3 2.3M61.4 141.8l2.3-2.1 2.7-1.8 2.1-2.4 2.3-2.1 2.4-2M71.1 111.4l1.6 1.8M105.3 98.6l-1.8 2.7-2.8 2-2.1 2.5-1.4 2.9-2.6 2.1-1.3 3.1M61.1 147l2.1 2.4 1.4 2.9 2.2 2.4 1.6 2.9 2.6 1.9M89 151.9l1.2-3-1.3-3.3 .9-3 .6-3.1M117.7 134.3l-3.3-1-3.5 1.1-3.3-.9-3.3-.1-3.3-1.1M37 161l2.3 2 2.9 1.2 2.4 1.8 2.4 1.9 1.8 2.7 3.1 .9 2.6 1.5 1.5 3.1 2.8 1.3M37 161l-1.2 2.8-.9 3-.7 2.9-1.3 2.9-.5 3-.6 3-1.3 2.8 0 3.2M58.8 177.4l-2.4 2-1.6 2.8-2.9 1.7-2 2.5-1.8 2.6-1.9 2.5-1.7 2.5M30.5 184.6l2.1 2.6 1.9 2.7 2.4 2.3 2.9 1.7 .1 .1M36.9 160.8l.7-.1-.6 .3M69.2 176.4l-3.5-.3-3.3 1.7-3.6-.4M246 155.8l3.1-.4 3 1.2 3.1-1.5 3.1-.1 3 .2 3.1 .6M246 155.8l-1.6 3 .4 3.6-1 1.8M228.6 147.7l3.7 .6 3.5 1.5 3.8-.2M239.6 149.6l2.7 3.6 3.7 2.6M275.8 108.2l-2.4-2.2-1-3.2-2.8-2-1.1-3.1-1.2-2.7M275.8 108.2l-2 2.6-2.4 2.2-3.1 1.5-2.4 2.3-2 2.7-1.7 2.8-2.9 1.8M258.5 94.6l-2.6 1.5-2.8 1.3-2.4 2.3-3.2 .6M247.5 100.3l-.5 3.3 .4 3.3-1 3.2 .5 3.3-.8 3.3 .7 3.3M259.3 124.1l-3.3 .3-3.1-1.2-3.2-.1M246.8 120l1.5 1.5 1.4 1.6M285.7 110.5l-3.4-.5-3.4-.4-3.1-1.4M271.9 142.4l-2.3-2.2-1.5-2.9-1.6-2.7-2.5-2.2-.4-3.6-2.4-2.2-1.9-2.5M237.1 94.2l1.6 1.5 2.8 1.7 3.2 1.1 2.8 1.8M220.4 118.9l3.3-.7 3.3 1.2 3.3-.6 3.3 .3 3.3 1.2 3.3-.9 3.3 .5 3.3 .1M239.6 149.6l.5-3.2 1-3 2.1-2.6 .5-3.2 1.7-2.7 1.5-2.8 .3-3.2 .6-3.2 1.9-2.6M193.7 40l.2 3 .3 3.1-.5 3.2 .1 3.2 1.1 3 .3 3.2M203.3 61l-.3 .1-3.4 0M199.6 61.1l-2.6-.5-1.8-1.9M177.5 71.1l2.2-2.3 3.2-.7 1.7-3 2.9-1.3 3.1-.9 2.3-2.1 2.3-2.1M210.8 85.2l-1-3.2-1.2-3.1-2.3-2.6-.3-3.5-2.2-2.7-1.4-3-1.9-2.8-.9-3.2M227.8 84.4l-.1-1.9-.3-3.1-.8-3.1-.5-3.2 .5-3.2-.2-1.5" fill="none" stroke="#3a3a3a" stroke-width="0.45" stroke-opacity="0.75"/>
</g>
<polygon points="132,5.8 137.5,2.6 143,2 153,5 153,17 160,16.6 167,19 169,28 173,33 178,37 179,42 181,44 183,40 188,39 194,40 195,47 199,53 202,60 206,63 215,65 225,67 230,72 230.3,77 229,82 226,88 223.3,94.1 219.8,97.6 218,104.6 218.9,111.5 221.5,116.8 225,118.5 228.5,116.8 227.7,111.5 223.3,106.3 221.5,101.1 225,97.6 228.5,95.8 232,94.3 246,94 254,91 259,95 272,95 285,99 295,102 298,115 295,117 282,118 278,125 287,130 287,135 282,141 279,145 273,148 268,156 263,165 258,166 247,164 231,165 218,166 205,168 200,162.5 195,165 189,170 181.5,172 174,165 163,161 155,157 150,160 142,166 139,174 133,179.5 131.5,194 30,194 30,140 38,126 41,122 44,118 46,114 47,111 50.5,109.9 58,111 67.3,112.1 73,111 80.5,109.2 89.2,108.5 91,105.5 89,99 86,89.5 80,83 76,75 68,69 65.5,64.2 66.3,61.3 69.2,52.6 76.5,43.8 82.3,40.1 85.3,40.9 89.6,45.3 98.4,43.8 107,43 108.6,39.4 113,35 114.5,29.2 118.8,24.8 126,22 130.5,14.6 133.4,5.8" fill="none" stroke="#222" stroke-width="0.8"/>
<polygon points="27.9,115.8 30.8,117.2 36.7,118.7 39.6,121.6 41.1,124.5 44,126 45.4,128.9 49.8,133.3 55.7,136.2 63,138.4 71.7,137.7 79,135.5 81.2,134.7 77.6,138.4 74.6,142 68.8,145 61.5,147.1 57.1,148.6 53.5,148.6 52.7,150.8 55.7,153.7 60,158.1 64.4,162.5 68.8,166.9 74.6,172.7 80.5,177.1 84.9,180 90.7,178.5 98,175.6 103.8,172.7 109.7,166.9 112.6,162.5 108.2,159.6 111.1,156.6 112.6,153.7 111.7,152.3 116.8,151.3 122.9,152.3 118.8,153.3 117.8,159.5 120.9,161.5 126,162.5 120.9,163.6 118.8,166.6 119.8,171.7 121.9,175.8 122.9,179.9 121.9,186 120.9,194 27.9,194" fill="#000"/>
<circle cx="198.8" cy="29.8" r="1.0" fill="#000"/>
<circle cx="175.7" cy="62.2" r="1.0" fill="#000"/>
<circle cx="263.4" cy="60" r="1.0" fill="#000"/>
<circle cx="253" cy="69.9" r="1.0" fill="#000"/>
<circle cx="234.8" cy="172.5" r="1.0" fill="#000"/>
<circle cx="118.5" cy="136" r="1.0" fill="#000"/>
<circle cx="121" cy="172.4" r="1.0" fill="#000"/>
<circle cx="175" cy="143" r="1.1" fill="#d7191c"/>
<text x="201.5" y="30.5" font-size="4.6" font-weight="normal" font-style="normal" fill="#111" font-family="Liberation Sans, sans-serif" textLength="17.5" lengthAdjust="spacingAndGlyphs">New Delhi</text>
<text x="295" y="33.4" font-size="7.4" font-weight="bold" font-style="normal" fill="#111" font-family="Liberation Sans, sans-serif" textLength="18.6" lengthAdjust="spacingAndGlyphs">Nepal</text>
<text x="177" y="64.1" font-size="7.6" font-weight="normal" font-style="normal" fill="#111" font-family="Liberation Sans, sans-serif" textLength="17.5" lengthAdjust="spacingAndGlyphs">Jaipur</text>
<text x="264" y="62.8" font-size="7.6" font-weight="normal" font-style="normal" fill="#111" font-family="Liberation Sans, sans-serif" textLength="26" lengthAdjust="spacingAndGlyphs">Lucknow</text>
<text x="254.9" y="75.8" font-size="7.6" font-weight="normal" font-style="normal" fill="#111" font-family="Liberation Sans, sans-serif" textLength="22.1" lengthAdjust="spacingAndGlyphs">Kanpur</text>
<text x="201.6" y="105.6" font-size="7.6" font-weight="bold" font-style="normal" fill="#111" font-family="Liberation Sans, sans-serif" textLength="14.3" lengthAdjust="spacingAndGlyphs">India</text>
<text x="176.4" y="145.2" font-size="7.6" font-weight="normal" font-style="normal" fill="#111" font-family="Liberation Sans, sans-serif" textLength="20" lengthAdjust="spacingAndGlyphs">Indore</text>
<text x="235.9" y="174.5" font-size="7.6" font-weight="normal" font-style="normal" fill="#111" font-family="Liberation Sans, sans-serif" textLength="22.9" lengthAdjust="spacingAndGlyphs">Nagpur</text>
<text x="119.8" y="137.9" font-size="7.6" font-weight="normal" font-style="normal" fill="#111" font-family="Liberation Sans, sans-serif" textLength="36.8" lengthAdjust="spacingAndGlyphs">Ahmedabad</text>
<text x="122.5" y="173.8" font-size="7.6" font-weight="normal" font-style="normal" fill="#111" font-family="Liberation Sans, sans-serif" textLength="17" lengthAdjust="spacingAndGlyphs">Surat</text>
<text x="50.2" y="144.5" font-size="5.0" font-weight="normal" font-style="italic" fill="#eee" font-family="Liberation Sans, sans-serif" textLength="27.6" lengthAdjust="spacingAndGlyphs">Gulf of Kutch</text>
<text x="30.5" y="99.4" font-size="7.6" font-weight="normal" font-style="normal" fill="#111" font-family="Liberation Sans, sans-serif" textLength="16.2" lengthAdjust="spacingAndGlyphs">rachi</text>
<rect x="17.5" y="9.5" width="29" height="77.5" fill="#fff" stroke="#777" stroke-width="1"/>
<rect x="20" y="24.4" width="9" height="8.6" fill="#d53e4f"/>
<rect x="20" y="33.9" width="9" height="8.6" fill="#fc8d59"/>
<rect x="20" y="43.7" width="9" height="8.6" fill="#fee08b"/>
<rect x="20" y="53" width="9" height="8.6" fill="#e6f598"/>
<rect x="20" y="63" width="9" height="8.6" fill="#99d594"/>
<rect x="20" y="73" width="9" height="8.6" fill="#3288bd"/>
<text x="37.3" y="27.7" text-anchor="middle" font-size="7.4" fill="#111" font-family="Liberation Sans, sans-serif">4</text>
<text x="37.3" y="36.7" text-anchor="middle" font-size="7.4" fill="#111" font-family="Liberation Sans, sans-serif">3</text>
<text x="37.3" y="46.2" text-anchor="middle" font-size="7.4" fill="#111" font-family="Liberation Sans, sans-serif">2.5</text>
<text x="37.3" y="55.3" text-anchor="middle" font-size="7.4" fill="#111" font-family="Liberation Sans, sans-serif">2</text>
<text x="37.3" y="64.7" text-anchor="middle" font-size="7.4" fill="#111" font-family="Liberation Sans, sans-serif">1</text>
<text x="37.3" y="73.7" text-anchor="middle" font-size="7.4" fill="#111" font-family="Liberation Sans, sans-serif">0.5</text>
<text x="37.3" y="82.7" text-anchor="middle" font-size="7.4" fill="#111" font-family="Liberation Sans, sans-serif">0</text>
</g>
<path d="M0.5,192.5 V0.5 H337.5" fill="none" stroke="#8a8a8a" stroke-width="1"/>
<path d="M337.5,0.5 V192.5 H0.5" fill="none" stroke="#b8b8b8" stroke-width="1"/>
</g>
<g>
<rect x="174" y="987" width="337" height="192" fill="#fff"/>
<path d="M366.2,1134.1 L369.1,1132.8 L371.7,1131.0M366.2,1134.1 L365.9,1137.3 L366.1,1140.5M366.1,1140.5 L368.1,1141.3 L368.4,1141.5M343.3,1045.4 L343.8,1049.1 L344.9,1052.6 L345.3,1056.3M343.3,1045.4 L339.4,1046.1 L335.6,1047.4 L331.7,1048.2M345.3,1056.3 L342.4,1057.4 L339.7,1059.2 L336.6,1060.1M336.6,1060.1 L333.7,1058.1 L331.0,1055.9 L328.4,1053.6M328.4,1053.6 L330.4,1051.1 L331.7,1048.2M322.8,1068.5 L323.4,1064.9 L324.5,1061.5 L325.4,1058.0 L325.5,1054.3M322.8,1068.5 L326.1,1069.1 L329.3,1068.5 L332.5,1068.1 L335.8,1068.5M325.5,1054.3 L326.8,1053.4 L328.4,1053.6M335.8,1068.5 L335.8,1064.3 L336.6,1060.1M265.7,1074.7 L264.5,1072.3 L264.3,1069.5M265.7,1074.7 L262.9,1076.4 L260.3,1078.4 L258.1,1080.2M259.3,1067.6 L260.8,1068.4 L264.3,1069.5M310.2,1062.0 L306.9,1062.1 L303.7,1061.1M310.2,1062.0 L312.8,1064.6 L315.1,1067.6M303.7,1061.1 L301.4,1063.7 L300.8,1067.3 L298.5,1069.8M298.5,1069.8 L299.2,1071.3 L299.1,1073.0M299.1,1073.0 L303.0,1073.7 L306.8,1074.7 L310.7,1075.2M310.7,1075.2 L313.1,1071.5 L315.1,1067.6M322.8,1068.5 L323.0,1068.8 L322.6,1068.6M325.5,1054.3 L323.1,1052.8 L320.5,1052.1M320.5,1052.1 L319.5,1052.5 L318.6,1052.4M318.6,1052.4 L316.4,1054.8 L314.1,1056.9 L312.1,1059.4 L310.2,1062.0M322.6,1068.6 L318.9,1068.1 L315.1,1067.6M318.6,1052.4 L316.1,1050.4 L313.4,1048.7 L310.3,1047.8 L307.8,1045.8M303.7,1061.1 L302.3,1058.2 L301.0,1055.3M307.8,1045.8 L305.6,1049.1 L302.7,1051.7 L301.0,1055.3M417.5,1059.2 L417.8,1059.4 L420.4,1062.5M420.4,1062.5 L422.3,1060.5M336.4,1069.4 L339.4,1070.6 L342.7,1070.2 L345.6,1071.5M336.4,1069.4 L335.1,1072.6 L334.7,1076.0 L333.7,1079.3M345.6,1071.5 L345.9,1075.0 L344.8,1078.4 L345.3,1081.8M333.7,1079.3 L336.8,1081.2 L339.8,1083.4M345.3,1081.8 L345.0,1081.9 L345.1,1082.1M345.1,1082.1 L342.4,1082.8 L339.8,1083.4M264.3,1069.5 L265.7,1067.6M371.7,1129.7 L371.4,1130.3 L371.7,1131.0M371.7,1129.7 L373.8,1127.1 L375.8,1124.3M375.8,1124.3 L378.0,1124.6 L380.1,1123.9M380.1,1123.9 L382.6,1127.2 L382.8,1127.6M411.4,1096.7 L410.0,1096.7M415.4,1085.2 L411.9,1086.4 L408.7,1088.2 L405.2,1089.3M415.4,1085.2 L417.3,1086.0 L418.8,1087.3M405.2,1089.3 L404.6,1090.2 L405.0,1091.2M410.0,1096.7 L407.6,1093.9 L405.0,1091.2M279.9,1071.7 L280.9,1071.8 L281.6,1072.4M279.9,1071.7 L278.5,1068.8 L278.1,1066.7M281.6,1072.4 L284.3,1070.1 L287.5,1068.7 L290.7,1067.2M285.3,1059.5 L287.9,1059.4M287.9,1059.4 L289.3,1063.3 L290.7,1067.2M265.7,1074.7 L268.2,1075.5 L270.3,1077.0M270.3,1077.0 L273.4,1075.0 L276.9,1073.7 L279.9,1071.7M285.6,1079.8 L284.1,1075.9 L281.6,1072.4M285.6,1079.8 L289.3,1079.2 L293.1,1079.7 L296.8,1080.0M296.8,1080.0 L298.6,1076.7 L299.1,1073.0M298.5,1069.8 L294.5,1068.8 L290.7,1067.2M294.0,1052.6 L297.4,1054.1 L301.0,1055.3M294.0,1052.6 L292.5,1055.4 L289.9,1057.2 L287.9,1059.4M343.8,1155.7 L343.2,1155.1 L340.9,1152.8M340.9,1152.8 L342.1,1151.7 L343.0,1150.3M354.7,1154.2 L354.7,1153.0 L353.8,1151.0M343.0,1150.3 L346.6,1150.0 L350.2,1150.4 L353.8,1151.0M357.4,1087.3 L357.1,1084.0 L356.5,1080.8M357.4,1087.3 L354.7,1090.4 L351.7,1093.3M356.5,1080.8 L352.7,1080.6 L349.1,1082.1 L345.3,1081.8M345.1,1082.1 L346.6,1084.9 L347.9,1087.7 L349.1,1090.5 L350.6,1093.3M351.7,1093.3 L351.1,1092.9 L350.6,1093.3M371.7,1129.7 L368.4,1127.4 L365.7,1124.4M365.7,1124.4 L363.4,1126.8 L360.6,1128.3 L358.3,1130.7M366.2,1134.1 L363.7,1132.7 L360.8,1132.2 L358.3,1130.8M358.3,1130.8 L358.7,1130.8 L358.3,1130.7M417.5,1075.8 L415.2,1072.6 L412.3,1070.0M417.5,1075.8 L420.9,1075.8 L424.0,1074.5M412.3,1070.0 L415.2,1068.8 L417.9,1067.3 L420.4,1065.3M420.4,1065.3 L423.1,1067.6 L425.2,1070.5M424.0,1074.5 L425.3,1073.8 L425.5,1072.3M425.2,1070.5 L426.0,1071.3 L425.5,1072.3M415.4,1085.2 L415.1,1083.5 L414.5,1081.9M414.5,1081.9 L416.0,1078.9 L417.5,1075.8M424.1,1076.5 L424.0,1074.5M429.2,1073.0 L425.5,1072.3M429.6,1066.9 L427.1,1067.8 L425.2,1070.5M404.4,1078.5 L406.3,1078.3 L408.1,1077.6M404.4,1078.5 L401.6,1077.1 L398.8,1075.7M408.1,1077.6 L410.0,1073.8 L411.7,1069.9M398.8,1075.7 L398.8,1073.8 L397.9,1072.2M397.9,1072.2 L400.5,1069.7 L403.5,1067.7 L406.1,1065.3M411.7,1069.9 L408.7,1068.0 L406.5,1065.2M406.5,1065.2 L406.3,1065.0 L406.1,1065.3M405.2,1089.2 L404.7,1089.6 L405.2,1089.3M405.2,1089.2 L405.1,1085.6 L404.8,1082.1 L404.4,1078.5M414.5,1081.9 L411.6,1079.3 L408.1,1077.6M412.3,1070.0 L412.1,1069.4 L411.7,1069.9M411.8,1057.7 L410.8,1060.1 L407.9,1062.2 L406.5,1065.2M420.4,1062.5 L420.1,1063.9 L420.4,1065.3M401.6,1131.6 L401.6,1128.3 L401.2,1125.0M401.6,1131.6 L404.1,1132.0 L406.0,1133.3M405.3,1122.6 L403.2,1123.5 L401.2,1125.0M406.3,1133.0 L407.6,1130.9 L408.6,1128.7M294.0,1052.6 L291.9,1048.9 L290.1,1045.1M280.6,1048.9 L281.1,1046.9M290.1,1045.1 L287.0,1045.2 L284.2,1046.8 L281.1,1046.9M281.1,1046.9 L278.7,1044.3 L277.0,1043.3M344.4,1043.2 L345.9,1042.8 L346.9,1041.6M344.4,1043.2 L341.6,1041.7 L340.2,1038.6 L337.5,1037.0 L335.1,1035.1M346.9,1041.6 L348.3,1039.2 L349.3,1036.7M349.3,1036.7 L347.8,1033.7 L347.4,1030.3 L346.5,1027.1M346.5,1027.1 L342.2,1027.4 L337.9,1026.7M337.9,1026.7 L336.2,1030.8 L335.1,1035.1M343.3,1045.4 L343.3,1044.0 L344.4,1043.2M331.7,1048.2 L331.2,1044.6 L329.3,1041.4 L328.9,1037.8M335.1,1035.1 L332.0,1036.5 L328.9,1037.8M320.5,1052.1 L320.6,1048.3 L320.2,1044.5 L320.6,1040.7M328.9,1037.8 L328.7,1037.9 L328.6,1037.7M320.6,1040.7 L324.4,1038.6 L328.6,1037.7M337.9,1026.7 L335.0,1023.4 L332.1,1020.1M332.1,1020.1 L330.3,1023.8 L327.5,1026.7 L325.0,1029.8M328.6,1037.7 L327.1,1033.6 L325.0,1029.8M335.8,1068.5 L336.1,1068.9 L336.4,1069.4M345.3,1056.3 L347.1,1057.5 L349.1,1058.5M345.6,1071.5 L347.0,1070.8 L348.3,1069.9M348.3,1069.9 L347.9,1066.1 L349.3,1062.3 L349.1,1058.5M356.5,1080.8 L356.4,1080.3 L356.9,1080.2M356.9,1080.2 L356.4,1077.1 L355.1,1074.3 L353.6,1071.5M348.3,1069.9 L350.8,1071.3 L353.6,1071.5M380.1,1123.9 L382.2,1121.4 L384.1,1118.6M390.9,1128.7 L391.2,1125.3 L392.4,1121.8M384.1,1118.6 L388.4,1119.8 L392.4,1121.8M401.6,1131.6 L398.8,1132.8 L395.8,1133.0M401.2,1125.0 L397.7,1122.8 L393.8,1121.1M393.8,1121.1 L393.0,1121.3 L392.4,1121.8M364.5,1107.8 L366.6,1104.9 L368.7,1102.0 L371.4,1099.5M364.5,1107.8 L361.4,1104.7 L358.3,1101.5M371.4,1099.5 L367.5,1097.7 L363.8,1095.7M363.8,1095.7 L360.8,1097.2 L358.1,1099.1M358.1,1099.1 L358.7,1100.3 L358.3,1101.5M357.4,1087.3 L360.6,1088.7 L364.1,1089.5M364.1,1089.5 L363.8,1092.6 L363.8,1095.7M351.7,1093.3 L354.9,1096.2 L358.1,1099.1M313.9,1112.6 L314.6,1112.9 L315.3,1112.7M313.9,1112.6 L311.4,1109.6 L308.2,1107.2M321.7,1101.7 L320.3,1100.9 L320.0,1099.4M321.7,1101.7 L321.3,1103.3 L321.6,1105.1M321.6,1105.1 L319.7,1107.8 L317.2,1110.0 L315.3,1112.7M310.5,1101.2 L309.0,1104.0 L308.2,1107.2M310.5,1101.2 L313.6,1100.8 L316.6,1100.0 L319.7,1099.2M319.7,1099.2 L319.9,1099.0 L320.0,1099.4M345.2,1097.9 L345.6,1097.2 L345.8,1096.4M345.2,1097.9 L342.4,1098.7 L339.5,1099.5 L336.7,1100.5 L333.8,1101.1M345.8,1096.4 L343.4,1094.0 L340.3,1092.4 L338.0,1089.8M333.8,1101.1 L333.9,1100.9 L333.7,1101.1M333.7,1101.1 L333.4,1098.1 L332.2,1095.3 L332.3,1092.3M338.0,1089.8 L335.5,1091.7 L332.3,1092.3M350.6,1093.3 L347.8,1094.4 L345.8,1096.4M350.8,1107.4 L348.9,1106.4 L347.2,1105.2M350.8,1107.4 L353.6,1105.9 L355.4,1103.1 L358.3,1101.5M347.2,1105.2 L346.1,1101.5 L345.2,1097.9M335.6,1107.7 L337.8,1108.4 L339.9,1109.3M335.6,1107.7 L334.6,1104.4 L333.8,1101.1M339.9,1109.3 L343.4,1107.0 L347.2,1105.2M339.8,1083.4 L339.0,1086.7 L338.0,1089.8M335.6,1107.7 L333.1,1110.0 L330.7,1112.6M330.7,1112.6 L330.4,1113.3 L329.8,1112.7M321.7,1101.7 L324.7,1100.9 L327.7,1101.2 L330.7,1100.7 L333.7,1101.1M329.8,1112.7 L327.2,1110.0 L324.1,1107.9 L321.6,1105.1M320.0,1099.4 L321.7,1096.7 L323.8,1094.4 L325.0,1091.5 L326.8,1089.0M326.8,1089.0 L329.9,1090.0 L332.3,1092.3M354.3,1150.0 L353.2,1146.9 L352.9,1143.5M354.3,1150.0 L357.9,1149.0 L361.5,1148.1M352.9,1143.5 L356.5,1142.4 L360.2,1141.5M361.5,1148.1 L361.2,1145.1 L361.4,1142.1M361.4,1142.1 L360.6,1142.1 L360.2,1141.5M363.2,1149.2 L362.8,1148.4 L361.5,1148.1M353.8,1151.0 L354.4,1150.6 L354.3,1150.0M366.1,1140.5 L363.8,1141.4 L361.4,1142.1M357.1,1132.3 L357.3,1131.2 L358.3,1130.8M357.1,1132.3 L358.0,1135.4 L359.3,1138.4 L360.2,1141.5M268.3,1091.9 L268.9,1092.8 L271.6,1095.8 L273.2,1099.3M277.5,1086.4 L278.2,1086.7 L281.5,1087.7M274.3,1099.2 L273.8,1099.7 L273.2,1099.3M274.3,1099.2 L275.6,1096.3 L277.7,1093.8 L279.6,1091.2 L281.9,1088.9M281.5,1087.7 L281.3,1088.4 L281.9,1088.9M269.3,1102.5 L270.6,1100.8 L273.2,1099.3M270.3,1077.0 L271.9,1080.0 L272.2,1083.3M285.6,1079.8 L284.3,1082.5 L282.7,1085.0 L281.5,1087.7M285.2,1105.9 L282.5,1104.2 L279.5,1103.1 L277.3,1100.5 L274.3,1099.2M285.2,1105.9 L285.6,1106.5 L285.7,1107.1M285.7,1107.1 L283.5,1109.5 L280.4,1110.6M329.8,1112.7 L327.9,1115.2 L325.6,1117.3M315.3,1112.7 L318.1,1114.9 L320.1,1117.7M320.1,1117.7 L322.8,1116.9 L325.6,1117.3M313.9,1112.6 L311.6,1115.1 L309.0,1117.3 L308.6,1117.7M309.2,1122.6 L310.3,1124.9 L312.5,1127.2M312.5,1127.2 L315.3,1126.8 L318.1,1126.9M320.1,1117.7 L319.2,1120.7 L318.7,1123.8 L318.1,1126.9M343.0,1150.3 L343.5,1148.2 L343.8,1146.1M352.9,1143.5 L351.0,1142.8 L349.9,1141.2M343.8,1146.1 L347.2,1144.0 L349.9,1141.2M330.7,1112.6 L333.3,1116.1 L336.3,1119.4M339.9,1109.3 L341.9,1112.7 L342.9,1116.3M336.3,1119.4 L339.8,1118.4 L342.9,1116.3M352.0,1111.1 L351.4,1109.3 L350.8,1107.4M352.0,1111.1 L350.0,1113.3 L348.1,1115.6 L346.4,1118.1M346.4,1118.1 L344.7,1117.0 L342.9,1116.3M359.2,1049.5 L356.2,1047.5 L353.3,1045.2 L349.8,1043.9 L346.9,1041.6M359.2,1049.5 L360.4,1046.1 L360.2,1042.4 L360.4,1038.7 L361.7,1035.3M349.3,1036.7 L352.4,1036.0 L355.5,1036.0 L358.5,1034.8 L361.7,1035.1M361.7,1035.3 L361.3,1035.4 L361.7,1035.1M346.5,1027.1 L347.4,1026.6 L347.6,1025.7M347.6,1025.7 L351.5,1025.3 L355.2,1024.2 L359.1,1023.7M359.1,1023.7 L360.9,1026.5 L363.6,1028.2M361.7,1035.1 L362.5,1031.6 L363.6,1028.2M365.6,1026.8 L364.8,1027.8M366.4,1028.1 L364.8,1027.8M376.4,1034.3 L376.4,1034.4 L377.2,1036.0M377.2,1036.0 L380.5,1036.8 L382.4,1037.0M313.3,1001.9 L311.8,1000.4M313.3,1001.9 L311.2,1005.1 L309.7,1008.7 L307.2,1011.6M307.2,1011.6 L304.2,1011.8 L301.9,1012.1M307.8,1045.8 L307.9,1043.0 L307.2,1040.2M290.1,1045.1 L291.3,1042.0 L292.5,1038.8M307.2,1040.2 L303.5,1040.0 L299.9,1039.5 L296.2,1039.3 L292.5,1038.8M287.2,1020.2 L287.2,1022.4 L286.4,1025.5M300.2,1016.5 L300.3,1017.4 L300.6,1020.8 L300.0,1024.3M286.4,1025.5 L288.3,1027.3 L289.1,1029.9M289.1,1029.9 L289.4,1030.4 L290.0,1030.4M300.0,1024.3 L296.5,1026.0 L293.5,1028.7 L290.0,1030.4M274.3,1036.8 L277.5,1036.0 L280.1,1033.8 L283.4,1033.0 L286.0,1030.9 L289.1,1029.9M274.3,1036.8 L273.9,1037.3M292.5,1038.8 L291.3,1034.6 L290.0,1030.4M314.7,1022.3 L311.2,1023.5 L308.0,1025.4 L304.4,1026.3M314.7,1022.3 L316.5,1025.5 L317.7,1029.0M317.7,1029.0 L316.7,1033.1 L314.8,1036.8M304.4,1026.3 L305.8,1029.4 L306.8,1032.6 L307.6,1035.9 L307.9,1039.2M314.8,1036.8 L311.4,1038.2 L307.9,1039.2M315.6,1019.4 L315.3,1020.9 L314.7,1022.3M315.6,1019.4 L312.4,1017.2 L309.9,1014.3 L307.2,1011.6M300.0,1024.3 L302.5,1024.7 L304.4,1026.3M320.6,1040.7 L317.9,1038.3 L314.8,1036.8M325.0,1029.8 L321.3,1029.7 L317.7,1029.0M307.2,1040.2 L307.2,1039.5 L307.9,1039.2M274.3,1036.8 L274.2,1033.3 L273.4,1029.9 L272.5,1027.0M286.4,1025.5 L283.2,1024.5 L280.1,1023.4 L276.9,1022.5 L276.5,1022.4M366.4,1069.8 L367.5,1073.0 L367.8,1076.5M366.4,1069.8 L369.2,1068.6 L371.9,1066.9 L374.9,1065.9 L377.9,1064.9M380.1,1070.8 L379.5,1067.9 L378.4,1065.1M380.1,1070.8 L379.0,1072.8 L377.8,1074.9M377.9,1064.9 L378.3,1064.6 L378.4,1065.1M377.8,1074.9 L374.4,1075.0 L371.2,1076.2 L367.8,1076.5M364.1,1089.5 L366.9,1087.1 L370.3,1085.6M372.1,1099.3 L371.6,1098.9 L371.4,1099.5M372.1,1099.3 L373.0,1099.2 L373.0,1098.3M373.0,1098.3 L372.4,1095.4 L373.0,1092.4 L372.8,1089.4 L371.9,1086.5M370.3,1085.6 L370.9,1086.4 L371.9,1086.5M356.9,1080.2 L360.4,1079.1 L364.0,1078.3 L367.6,1077.2M370.3,1085.6 L368.3,1081.6 L367.6,1077.2M353.6,1071.5 L356.6,1070.3 L359.2,1068.3 L362.0,1066.7M349.1,1058.5 L352.5,1058.1 L355.7,1056.9M355.7,1056.9 L357.2,1060.6 L359.8,1063.5 L362.0,1066.7M359.2,1049.5 L359.2,1050.4 L359.9,1050.9M355.7,1056.9 L357.8,1054.0 L359.9,1050.9M366.4,1069.8 L365.6,1068.3 L364.2,1067.4M367.6,1077.2 L367.6,1076.8 L367.8,1076.5M364.2,1067.4 L363.2,1066.6 L362.0,1066.7M312.6,1152.4 L313.0,1153.5 L314.7,1154.7M313.9,1157.0 L314.7,1154.7M314.7,1154.7 L318.9,1155.6 L323.3,1155.7M315.9,1163.1 L317.6,1163.1 L322.1,1163.9M322.1,1163.9 L322.8,1161.2 L323.0,1158.5 L323.3,1155.7M339.3,1153.2 L337.2,1151.2 L335.0,1149.4 L332.3,1148.2M339.3,1153.2 L337.0,1156.0 L335.6,1159.3M335.6,1159.3 L334.4,1159.7 L333.1,1159.7M326.5,1148.8 L329.4,1148.4 L332.3,1148.2M326.5,1148.8 L325.7,1151.7 L324.8,1154.6M333.1,1159.7 L330.1,1158.4 L327.3,1156.7 L324.8,1154.6M372.1,1099.3 L374.0,1101.7 L375.7,1104.2 L376.9,1107.0M373.0,1098.3 L376.6,1097.5 L380.3,1096.8M376.9,1107.0 L379.5,1108.0 L382.3,1108.0M380.3,1096.8 L383.1,1099.2 L386.1,1101.2M382.3,1108.0 L383.8,1104.4 L386.1,1101.2M384.1,1118.6 L384.1,1116.9 L382.9,1115.5M393.8,1121.1 L394.4,1120.1 L395.0,1119.0M382.9,1115.5 L383.9,1113.7 L383.8,1111.6M395.0,1119.0 L393.6,1115.2 L392.7,1111.1M383.8,1111.6 L388.3,1111.6 L392.7,1111.1M370.4,1112.3 L371.6,1114.0 L371.7,1116.1M370.4,1112.3 L367.6,1110.3 L364.6,1108.8M365.6,1121.3 L362.6,1119.5 L359.6,1117.6M365.6,1121.3 L368.3,1119.5 L371.2,1117.9M371.2,1117.9 L372.1,1117.2 L371.7,1116.1M364.6,1108.8 L362.1,1111.8 L359.1,1114.2M359.1,1114.2 L359.5,1115.9 L359.6,1117.6M376.9,1107.0 L373.6,1109.6 L370.4,1112.3M382.9,1115.5 L379.1,1115.3 L375.4,1115.8 L371.7,1116.1M382.3,1108.0 L382.7,1110.0 L383.8,1111.6M364.5,1107.8 L364.1,1108.3 L364.6,1108.8M365.7,1124.4 L365.5,1122.9 L365.6,1121.3M354.9,1123.1 L356.2,1127.1 L358.3,1130.7M354.9,1123.1 L357.5,1120.6 L359.6,1117.6M375.8,1124.3 L372.9,1121.5 L371.2,1117.9M352.0,1111.1 L355.6,1112.5 L359.1,1114.2M354.9,1123.1 L351.3,1122.9 L347.9,1121.7M347.9,1121.7 L346.6,1120.1 L346.4,1118.1M305.3,1095.3 L302.3,1098.0 L301.8,1098.4M301.5,1098.6 L298.9,1100.4M305.3,1095.3 L305.1,1091.8 L305.8,1088.4M299.3,1085.2 L302.7,1086.6 L305.8,1088.4M299.3,1085.2 L297.0,1087.4 L294.7,1089.4 L293.1,1092.2 L290.7,1094.1M298.9,1100.4 L296.1,1099.1 L293.4,1097.5 L291.0,1095.4M290.7,1094.1 L291.4,1094.6 L291.0,1095.4M310.5,1101.2 L307.7,1098.4 L305.3,1095.3M308.2,1107.2 L307.1,1107.2M302.4,1107.2 L301.1,1107.3M301.1,1107.3 L301.1,1106.5 L300.3,1106.6M300.3,1106.6 L300.2,1103.4 L298.9,1100.4M319.7,1099.2 L317.1,1096.5 L315.9,1092.9 L313.3,1090.1 L311.0,1087.1M311.0,1087.1 L308.5,1088.1 L305.8,1088.4M296.8,1080.0 L297.5,1082.8 L299.3,1085.2M310.7,1075.2 L311.8,1078.0 L313.6,1080.5 L314.3,1083.5M311.0,1087.1 L312.7,1085.3 L314.3,1083.5M281.9,1088.9 L285.1,1090.2 L287.8,1092.3 L290.7,1094.1M285.2,1105.9 L287.1,1103.5 L287.7,1100.4 L289.7,1098.1 L291.0,1095.4M285.7,1107.1 L286.6,1107.4 L287.1,1108.2M287.1,1108.2 L290.4,1108.0 L293.8,1108.0 L297.1,1107.2 L300.3,1106.6M323.1,1074.5 L320.7,1077.4 L317.9,1079.9 L316.1,1083.2M323.1,1074.5 L325.9,1076.0 L328.3,1078.1 L330.7,1080.2M316.1,1083.2 L319.4,1085.3 L322.9,1086.9 L326.5,1088.1M330.7,1080.2 L329.4,1082.9 L327.9,1085.5 L326.5,1088.1M322.6,1068.6 L323.1,1071.5 L323.1,1074.5M314.3,1083.5 L315.3,1083.8 L316.1,1083.2M333.7,1079.3 L332.3,1079.8 L330.7,1080.2M326.8,1089.0 L326.7,1088.5 L326.5,1088.1M311.0,1140.2 L309.9,1137.0M311.0,1140.2 L310.5,1140.5M323.8,1138.8 L324.9,1142.9 L324.9,1147.0M323.8,1138.8 L322.4,1138.6 L321.8,1137.4M321.8,1137.4 L318.5,1138.9 L314.9,1139.6 L311.3,1140.4M324.9,1147.0 L321.3,1147.1 L317.7,1146.9 L314.1,1147.7M314.1,1147.7 L312.3,1144.2 L311.3,1140.4M312.5,1127.2 L310.5,1130.3 L309.8,1131.0M320.7,1128.9 L319.1,1128.3 L318.1,1126.9M320.7,1128.9 L320.8,1131.8 L321.6,1134.6 L321.8,1137.4M311.0,1140.2 L311.3,1140.1 L311.3,1140.4M326.5,1148.8 L326.1,1147.6 L324.9,1147.0M312.4,1151.5 L313.8,1149.9 L314.1,1147.7M324.8,1154.6 L324.2,1155.4 L323.3,1155.7M301.1,1107.3 L300.9,1110.2M325.6,1117.3 L328.1,1120.3 L329.7,1123.7M336.3,1119.4 L335.4,1120.4 L335.7,1121.7M335.7,1121.7 L332.5,1122.2 L329.7,1123.7M320.7,1128.9 L324.9,1128.7 L328.5,1127.4M328.5,1127.4 L329.2,1125.6 L329.7,1123.7M340.9,1152.8 L340.2,1153.5 L339.3,1153.2M335.6,1159.3 L336.9,1162.1M327.8,1172.8 L325.3,1175.7M329.6,1168.2 L329.2,1167.4 L327.2,1165.5M327.2,1165.5 L324.9,1165.0 L322.5,1164.4M322.5,1164.4 L321.3,1167.9 L319.8,1171.2M319.8,1171.2 L321.6,1173.6 L324.1,1175.5M324.1,1175.5 L324.7,1175.7 L325.3,1175.7M326.0,1176.3 L325.3,1175.7M333.1,1159.7 L331.4,1161.8 L329.1,1163.5 L327.2,1165.5M322.1,1163.9 L322.3,1164.2 L322.5,1164.4M318.9,1171.5 L319.8,1171.2M321.7,1176.8 L324.1,1175.5M347.4,1013.3 L348.0,1015.9 L347.6,1019.2 L347.9,1022.4 L347.6,1025.7M359.1,1023.7 L359.4,1021.0M363.6,1028.2 L364.1,1027.7 L364.8,1027.8M392.5,1069.1 L390.9,1065.2 L390.3,1061.1M392.5,1069.1 L395.4,1070.4 L397.9,1072.2M406.1,1065.3 L403.5,1063.6 L402.3,1060.5 L399.3,1059.2 L397.6,1056.6M397.6,1056.6 L393.6,1058.3 L390.3,1061.1M387.9,1072.3 L383.9,1072.0 L380.1,1070.8M387.9,1072.3 L389.8,1070.1 L392.5,1069.1M378.4,1065.1 L381.2,1063.1 L384.3,1061.5 L387.2,1059.7M390.3,1061.1 L388.9,1060.0 L387.2,1059.7M381.7,1090.0 L384.8,1090.2 L387.9,1090.2 L391.0,1090.6M381.7,1090.0 L380.3,1088.0 L379.0,1086.1M379.0,1086.1 L380.2,1083.5 L382.1,1081.4M382.1,1081.4 L384.1,1080.6 L386.3,1080.5M386.3,1080.5 L389.8,1082.1 L393.3,1084.0M391.0,1090.6 L392.1,1087.3 L393.3,1084.1M393.3,1084.0 L393.1,1084.1 L393.3,1084.1M380.3,1096.8 L381.2,1093.4 L381.7,1090.0M371.9,1086.5 L375.4,1086.5 L379.0,1086.1M377.8,1074.9 L380.6,1077.8 L382.1,1081.4M387.9,1072.3 L387.5,1076.4 L386.3,1080.5M398.8,1075.7 L397.1,1078.6 L395.1,1081.3 L393.3,1084.0M405.2,1089.2 L401.9,1088.5 L399.2,1086.6 L396.3,1085.3 L393.3,1084.1M371.3,1055.0 L374.4,1054.4 L377.3,1053.0 L379.9,1052.8M371.3,1055.0 L371.0,1055.4 L371.0,1054.9M371.0,1054.9 L369.5,1053.3 L368.1,1051.6M368.1,1051.6 L369.6,1048.5 L370.7,1045.2 L372.0,1042.1M372.0,1042.1 L373.7,1041.8 L374.9,1040.7M374.9,1040.7 L377.4,1042.6 L379.1,1045.4 L380.1,1046.3M377.9,1064.9 L375.4,1061.8 L372.9,1058.7 L371.3,1055.0M387.2,1059.7 L384.9,1055.8 L384.7,1055.2M364.2,1067.4 L365.4,1064.0 L368.2,1061.5 L369.5,1058.2 L371.0,1054.9M359.9,1050.9 L364.0,1051.1 L368.1,1051.6M361.7,1035.3 L364.0,1037.5 L366.9,1038.7 L369.1,1040.9 L372.0,1042.1M377.2,1036.0 L376.5,1038.6 L374.9,1040.7M395.0,1119.0 L397.7,1117.4 L400.8,1116.3M405.1,1118.3 L403.1,1117.8 L400.8,1116.3M400.8,1116.3 L401.5,1113.0 L401.3,1109.7M401.3,1109.7 L405.5,1109.4M410.0,1096.7 L409.0,1099.5 L407.2,1102.0M407.2,1102.0 L407.5,1102.3M392.5,1095.1 L389.9,1098.3 L386.8,1101.0M392.5,1095.1 L395.3,1095.7 L398.0,1096.8M386.8,1101.0 L389.4,1103.5 L392.4,1105.6 L395.5,1107.6M398.0,1096.8 L398.4,1099.3 L399.8,1101.5M399.8,1101.5 L399.3,1104.4 L397.9,1107.0M395.5,1107.6 L396.7,1107.4 L397.9,1107.0M386.1,1101.2 L386.3,1100.6 L386.8,1101.0M391.0,1090.6 L392.2,1092.7 L392.5,1095.1M405.0,1091.2 L401.8,1094.4 L398.0,1096.8M392.7,1111.1 L394.2,1109.5 L395.5,1107.6M407.2,1102.0 L403.5,1101.3 L399.8,1101.5M401.3,1109.7 L399.9,1108.0 L397.9,1107.0M287.1,1108.2 L288.2,1111.1 L289.8,1113.4M323.8,1138.8 L327.6,1137.9 L331.2,1136.8M328.5,1127.4 L329.8,1129.6 L331.9,1130.9M331.9,1130.9 L331.5,1133.8 L331.2,1136.8M332.3,1148.2 L333.4,1145.4 L334.0,1142.5 L335.5,1139.8M331.2,1136.8 L333.6,1137.9 L335.5,1139.8M343.8,1146.1 L341.3,1144.3 L339.9,1141.5 L337.8,1139.4M335.5,1139.8 L336.7,1140.0 L337.8,1139.4M397.6,1056.6 L397.8,1054.5M322.9,988.5 L323.3,989.1 L323.5,990.1M313.3,1001.9 L316.5,1002.7 L319.7,1002.5M319.7,1002.5 L320.0,999.2 L321.6,996.3 L323.1,993.4 L323.5,990.1M339.9,1002.0 L338.0,1001.6 L334.9,1002.1M334.9,1002.1 L333.5,999.1 L332.2,995.9 L331.8,993.7M323.5,990.1 L327.6,991.2 L329.3,991.8M340.0,1127.7 L339.9,1128.5 L339.2,1129.1M340.0,1127.7 L342.5,1126.4 L345.4,1126.2M339.2,1129.1 L339.6,1132.7 L340.6,1136.2M345.4,1126.2 L346.7,1129.4 L349.3,1131.7 L350.5,1134.8M340.6,1136.2 L343.6,1136.1 L346.5,1135.9 L349.4,1136.6M350.5,1134.8 L349.9,1135.7 L349.4,1136.6M335.7,1121.7 L338.0,1124.6 L340.0,1127.7M331.9,1130.9 L335.7,1130.5 L339.2,1129.1M347.9,1121.7 L346.7,1124.0 L345.4,1126.2M337.8,1139.4 L339.1,1137.7 L340.6,1136.2M357.1,1132.3 L353.9,1133.9 L350.5,1134.8M349.9,1141.2 L349.7,1138.9 L349.4,1136.6M320.2,1003.1 L324.1,1004.2 L328.1,1004.2 L332.0,1004.6M320.2,1003.1 L320.8,1006.3 L320.9,1009.5 L320.7,1012.7 L320.6,1015.9M332.0,1004.6 L332.4,1008.2 L332.1,1011.9 L332.1,1015.5 L331.9,1019.1M320.6,1015.9 L324.4,1016.8 L328.0,1018.5 L331.8,1019.2M331.8,1019.2 L331.5,1018.9 L331.9,1019.1M319.7,1002.5 L319.7,1003.0 L320.2,1003.1M334.9,1002.1 L333.0,1002.8 L332.0,1004.6M315.6,1019.4 L317.9,1017.4 L320.6,1015.9M343.4,1012.3 L342.5,1012.8 L339.8,1014.3 L337.5,1016.5 L334.3,1017.0 L331.9,1019.1M332.1,1020.1 L332.3,1019.5 L331.8,1019.2" fill="none" stroke="#ff0000" stroke-width="1.5" stroke-linejoin="round"/>
<polygon points="317.368,990.174 324.424,988 331.48,993.427 339.544,1000.98 341.56,1007.41 343.576,1012.74 350.632,1013.81 355.672,1015.93 357.688,1020.16 363.736,1023.32 367.768,1030.66 374.824,1033.79 381.88,1035.87 383.896,1040.02 380.872,1045.19 377.848,1049.3 380.872,1054.41 390.952,1056.45 398.008,1054.41 404.056,1058.48 411.112,1057.46 422.2,1060.51 429.256,1063.55 430.264,1072.59 425.224,1074.59 422.2,1079.57 423.208,1082.55 413.128,1093.37 410.104,1099.22 406.072,1104.06 405.064,1113.66 405.064,1122.22 409.096,1129.74 401.032,1139.06 397,1134.41 391.96,1128.81 377.848,1126.93 372.808,1128.81 368.986,1137.2 368.048,1143.67 362.42,1150.09 355.854,1153.73 349.288,1156.45 342.722,1155.55 345.536,1158.26 344.598,1160.97 337.094,1161.87 334.28,1164.56 330.528,1166.35 328.652,1169.91 326.776,1176.11 321.876,1176.99 319.86,1174.34 315.828,1162.77 312.804,1153.73 309.78,1136.27 309.08,1120.32 307.372,1110.79 307.092,1106.95 305.804,1103.09 303.508,1099.22 301.422,1098.24 302.85,1104.06 302.192,1108.87 298.44,1112.71 291.454,1113.66 284.328,1112.71 276.992,1108.87 271.672,1105.02 266.212,1099.22 260.752,1093.37 270.692,1091.41 274.654,1090.43 277.398,1086.5 279.274,1084.52 278.196,1083.54 275.172,1083.54 263.006,1082.55 254.872,1078.58 253.864,1074.59 252.856,1072.59 256.888,1070.59 258.904,1067.58 271,1067.58 279.064,1066.57 286.12,1066.57 286.12,1062.54 284.104,1055.43 281.08,1049.3 276.04,1045.19 278.056,1041.06 269.992,1033.79 271,1028.57 275.032,1024.37 279.064,1019.1 283.096,1018.05 287.128,1020.16 299.224,1019.1 301.24,1013.81 304.264,1006.34 311.32,1002.06 313.336,995.591" fill="none" stroke="#ff0000" stroke-width="1.8" stroke-linejoin="round"/>
<polyline points="363,1039 366,1041 368,1041" fill="none" stroke="#00e000" stroke-width="1.7"/>
<polyline points="379,1043 381,1046 383,1047" fill="none" stroke="#00e000" stroke-width="1.7"/>
<polyline points="338,1063 341,1064 344,1062" fill="none" stroke="#00e000" stroke-width="1.7"/>
<polyline points="353,1082 356,1084 359,1085 362,1089" fill="none" stroke="#00e000" stroke-width="1.7"/>
<polyline points="342,1093 340,1096 341,1099" fill="none" stroke="#00e000" stroke-width="1.7"/>
<polyline points="398,1073 401,1075 404,1077" fill="none" stroke="#00e000" stroke-width="1.7"/>
<polyline points="412,1070 412.5,1074 412,1078" fill="none" stroke="#00e000" stroke-width="1.7"/>
<polyline points="404,1082 407,1084 411,1087" fill="none" stroke="#00e000" stroke-width="1.7"/>
<polyline points="397,1102 399,1105 399,1109" fill="none" stroke="#00e000" stroke-width="1.7"/>
<polyline points="359,1124 361,1127 362.6,1131" fill="none" stroke="#00e000" stroke-width="1.7"/>
<polyline points="301,1070 303,1072 302,1075" fill="none" stroke="#0000ff" stroke-width="1.7"/>
<polyline points="309,1087 311,1085 315,1084" fill="none" stroke="#0000ff" stroke-width="1.7"/>
<polyline points="322,1079 324,1081 324.7,1084" fill="none" stroke="#0000ff" stroke-width="1.7"/>
<polyline points="316,1096 317.4,1099 316,1101" fill="none" stroke="#0000ff" stroke-width="1.7"/>
<polyline points="312,1109 313,1112 315,1113" fill="none" stroke="#0000ff" stroke-width="1.7"/>
<polyline points="274,1098 275,1100 276,1102" fill="none" stroke="#0000ff" stroke-width="1.7"/>
<line x1="467.1" y1="996.6" x2="483.2" y2="996.6" stroke="#ff0000" stroke-width="1.1"/>
<text x="490.3" y="999.5" font-size="7.6" fill="#222" font-family="Liberation Sans, sans-serif">1999</text>
<line x1="467.1" y1="1006.1" x2="483.2" y2="1006.1" stroke="#00e000" stroke-width="1.1"/>
<text x="490.3" y="1009.0" font-size="7.6" fill="#222" font-family="Liberation Sans, sans-serif">2000</text>
<line x1="467.1" y1="1015.6" x2="483.2" y2="1015.6" stroke="#0000ff" stroke-width="1.1"/>
<text x="490.3" y="1018.5" font-size="7.6" fill="#222" font-family="Liberation Sans, sans-serif">2001</text>
<path d="M174.5,1179 V987.5 H511" fill="none" stroke="#a0a0a0" stroke-width="1"/>
<path d="M510.7,987.5 V1178.5 H174.5" fill="none" stroke="#b8b8b8" stroke-width="1"/>
</g>
</g>
<text x="126.0" y="224.2" textLength="79.7" lengthAdjust="spacingAndGlyphs" class="cap">(a) 1999</text>
<text x="472.1" y="224.2" textLength="80.3" lengthAdjust="spacingAndGlyphs" class="cap">(b) 2000</text>
<text x="126.0" y="483.0" textLength="77.1" lengthAdjust="spacingAndGlyphs" class="cap">(c) 2001</text>
<text x="471.7" y="483.0" textLength="80.7" lengthAdjust="spacingAndGlyphs" class="cap">(d) 2002</text>
<text x="48.9" y="718.0" textLength="233.2" lengthAdjust="spacingAndGlyphs" class="cap">(e) Estimated risk, 1999</text>
<text x="395.0" y="718.0" textLength="233.4" lengthAdjust="spacingAndGlyphs" class="cap">(f) Estimated risk, 2000</text>
<text x="47.2" y="977.3" textLength="234.8" lengthAdjust="spacingAndGlyphs" class="cap">(g) Estimated risk, 2001</text>
<text x="394.1" y="977.3" textLength="236.5" lengthAdjust="spacingAndGlyphs" class="cap">(h) Estimated risk, 2002</text>
<text x="270.0" y="1205.0" textLength="138.4" lengthAdjust="spacingAndGlyphs" class="cap">(i) Boundaries</text>
</svg>
</body></html>
